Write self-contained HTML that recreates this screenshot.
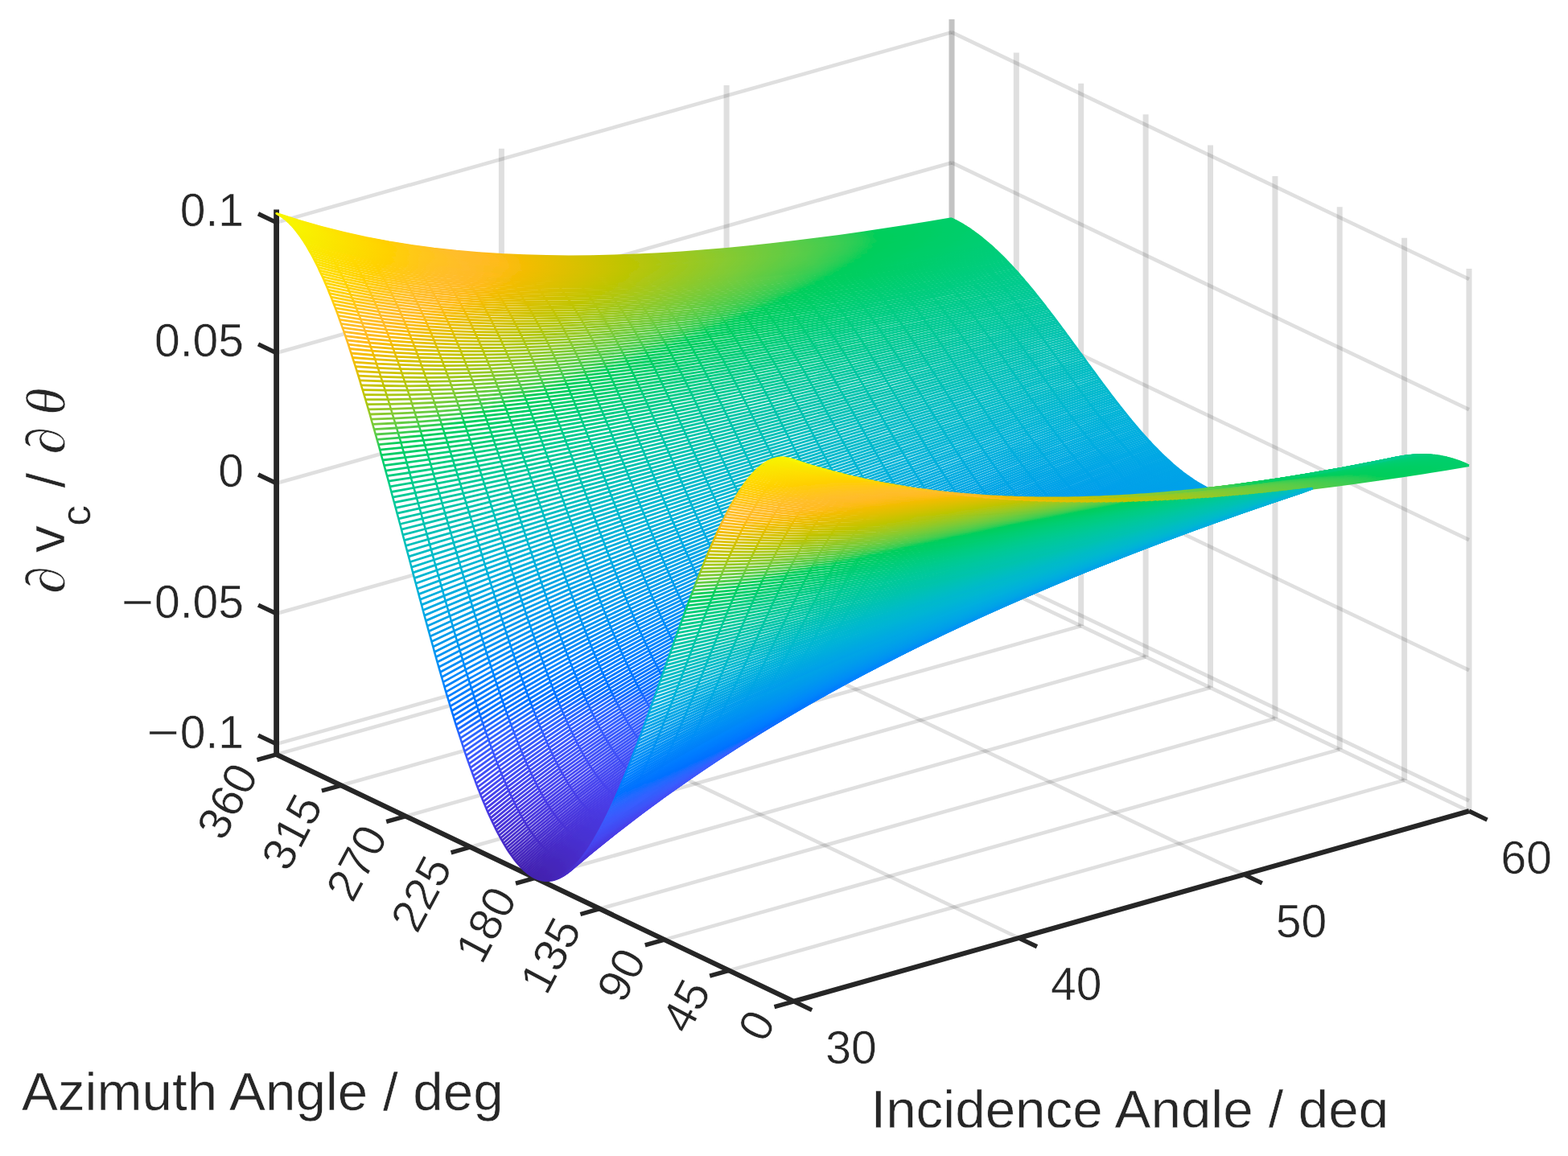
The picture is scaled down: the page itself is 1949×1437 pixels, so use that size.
<!DOCTYPE html>
<html lang="en"><head><meta charset="utf-8"><title>Surface plot</title>
<style>html,body{margin:0;padding:0;background:#fff}svg{display:block}</style></head>
<body><svg width="1949" height="1437" viewBox="0 0 1949 1437">
<defs><clipPath id="cb"><rect x="0" y="0" width="1949" height="1401.6"/></clipPath>
<filter id="bl" filterUnits="userSpaceOnUse" x="300" y="220" width="1580" height="920"><feGaussianBlur stdDeviation="0.60"/></filter>
<linearGradient id="t0" gradientUnits="userSpaceOnUse" spreadMethod="reflect" x1="986.6" x2="665.1" y1="0" y2="0"><stop offset="0" stop-color="#f8f800"/><stop offset=".125" stop-color="#f9eb00"/><stop offset=".188" stop-color="#ffd900"/><stop offset=".203" stop-color="#ffd300"/><stop offset=".219" stop-color="#ffcd09"/><stop offset=".25" stop-color="#ffc125"/><stop offset=".266" stop-color="#ffbd2a"/><stop offset=".281" stop-color="#ffbb1f"/><stop offset=".297" stop-color="#f4bd03"/><stop offset=".312" stop-color="#e3bf00"/><stop offset=".328" stop-color="#cec200"/><stop offset=".344" stop-color="#b6c60a"/><stop offset=".375" stop-color="#74cb3c"/><stop offset=".391" stop-color="#41cd51"/><stop offset=".406" stop-color="#00ce64"/><stop offset=".438" stop-color="#00cc88"/><stop offset=".5" stop-color="#00bfbc"/><stop offset=".562" stop-color="#00abe2"/><stop offset=".625" stop-color="#008ff5"/><stop offset=".656" stop-color="#0080ff"/><stop offset=".688" stop-color="#016fff"/><stop offset=".703" stop-color="#2767ff"/><stop offset=".719" stop-color="#3460ff"/><stop offset=".75" stop-color="#4052f9"/><stop offset=".812" stop-color="#483be5"/><stop offset=".875" stop-color="#472cc9"/><stop offset=".938" stop-color="#4424b4"/><stop offset="1" stop-color="#4321ad"/></linearGradient>
<linearGradient id="t1" gradientUnits="userSpaceOnUse" spreadMethod="reflect" x1="1014.6" x2="693.1" y1="0" y2="0"><stop offset="0" stop-color="#f8ef00"/><stop offset=".125" stop-color="#fde200"/><stop offset=".188" stop-color="#ffd100"/><stop offset=".219" stop-color="#ffc61c"/><stop offset=".25" stop-color="#ffbd2a"/><stop offset=".266" stop-color="#ffbb20"/><stop offset=".281" stop-color="#f7bc09"/><stop offset=".297" stop-color="#e8be00"/><stop offset=".312" stop-color="#d5c100"/><stop offset=".328" stop-color="#c0c400"/><stop offset=".344" stop-color="#a7c71a"/><stop offset=".375" stop-color="#62cc45"/><stop offset=".391" stop-color="#1dce58"/><stop offset=".406" stop-color="#00ce6a"/><stop offset=".438" stop-color="#00cb8b"/><stop offset=".5" stop-color="#00bfbc"/><stop offset=".562" stop-color="#00ade0"/><stop offset=".625" stop-color="#0092f2"/><stop offset=".688" stop-color="#0075ff"/><stop offset=".703" stop-color="#116dff"/><stop offset=".719" stop-color="#2966ff"/><stop offset=".75" stop-color="#3b59fd"/><stop offset=".812" stop-color="#4743ee"/><stop offset=".875" stop-color="#4833d9"/><stop offset=".938" stop-color="#462bc6"/><stop offset="1" stop-color="#4628c0"/></linearGradient>
<linearGradient id="t2" gradientUnits="userSpaceOnUse" spreadMethod="reflect" x1="1042.6" x2="721.0" y1="0" y2="0"><stop offset="0" stop-color="#fbe700"/><stop offset=".125" stop-color="#ffd900"/><stop offset=".156" stop-color="#ffd200"/><stop offset=".172" stop-color="#ffce08"/><stop offset=".188" stop-color="#ffc915"/><stop offset=".219" stop-color="#ffc028"/><stop offset=".234" stop-color="#ffbc2a"/><stop offset=".25" stop-color="#ffbb21"/><stop offset=".266" stop-color="#f8bc0d"/><stop offset=".281" stop-color="#ebbe00"/><stop offset=".312" stop-color="#c7c300"/><stop offset=".328" stop-color="#b1c610"/><stop offset=".344" stop-color="#97c926"/><stop offset=".359" stop-color="#78cb3a"/><stop offset=".375" stop-color="#4dcd4d"/><stop offset=".391" stop-color="#00ce5e"/><stop offset=".406" stop-color="#00ce70"/><stop offset=".438" stop-color="#00cb8e"/><stop offset=".5" stop-color="#00bfbc"/><stop offset=".562" stop-color="#00aedf"/><stop offset=".625" stop-color="#0095f0"/><stop offset=".688" stop-color="#007aff"/><stop offset=".703" stop-color="#0073ff"/><stop offset=".719" stop-color="#176cff"/><stop offset=".734" stop-color="#2b66ff"/><stop offset=".75" stop-color="#355fff"/><stop offset=".812" stop-color="#444af4"/><stop offset=".875" stop-color="#483be5"/><stop offset=".938" stop-color="#4832d6"/><stop offset="1" stop-color="#482fd1"/></linearGradient>
<linearGradient id="t3" gradientUnits="userSpaceOnUse" spreadMethod="reflect" x1="1070.5" x2="749.0" y1="0" y2="0"><stop offset="0" stop-color="#ffde00"/><stop offset=".125" stop-color="#ffd100"/><stop offset=".188" stop-color="#ffc223"/><stop offset=".219" stop-color="#ffbc2a"/><stop offset=".25" stop-color="#f9bc0e"/><stop offset=".266" stop-color="#ecbe00"/><stop offset=".281" stop-color="#dec000"/><stop offset=".297" stop-color="#cdc200"/><stop offset=".312" stop-color="#b9c506"/><stop offset=".344" stop-color="#87ca30"/><stop offset=".359" stop-color="#66cc43"/><stop offset=".375" stop-color="#33cd54"/><stop offset=".391" stop-color="#00ce64"/><stop offset=".406" stop-color="#00ce75"/><stop offset=".438" stop-color="#00ca91"/><stop offset=".5" stop-color="#00bfbc"/><stop offset=".562" stop-color="#00afdd"/><stop offset=".625" stop-color="#0098ee"/><stop offset=".688" stop-color="#007fff"/><stop offset=".719" stop-color="#0072ff"/><stop offset=".734" stop-color="#1a6bff"/><stop offset=".75" stop-color="#2b65ff"/><stop offset=".812" stop-color="#4152f9"/><stop offset=".875" stop-color="#4742ed"/><stop offset="1" stop-color="#4836df"/></linearGradient>
<linearGradient id="t4" gradientUnits="userSpaceOnUse" spreadMethod="reflect" x1="1098.5" x2="777.0" y1="0" y2="0"><stop offset="0" stop-color="#ffd600"/><stop offset=".062" stop-color="#ffd300"/><stop offset=".094" stop-color="#ffcf04"/><stop offset=".125" stop-color="#ffca13"/><stop offset=".188" stop-color="#ffbd29"/><stop offset=".203" stop-color="#ffbc28"/><stop offset=".219" stop-color="#ffbb1d"/><stop offset=".234" stop-color="#f8bc0c"/><stop offset=".25" stop-color="#edbe00"/><stop offset=".281" stop-color="#d0c200"/><stop offset=".297" stop-color="#bfc400"/><stop offset=".312" stop-color="#abc716"/><stop offset=".344" stop-color="#77cb3a"/><stop offset=".359" stop-color="#52cd4b"/><stop offset=".375" stop-color="#00ce5a"/><stop offset=".438" stop-color="#00ca93"/><stop offset=".5" stop-color="#00bfbc"/><stop offset=".562" stop-color="#00b0dc"/><stop offset=".625" stop-color="#009bec"/><stop offset=".688" stop-color="#0083fd"/><stop offset=".719" stop-color="#0077ff"/><stop offset=".734" stop-color="#0071ff"/><stop offset=".75" stop-color="#1b6bff"/><stop offset=".781" stop-color="#3261ff"/><stop offset=".812" stop-color="#3c58fd"/><stop offset=".875" stop-color="#444af4"/><stop offset="1" stop-color="#483ee9"/></linearGradient>
<linearGradient id="t5" gradientUnits="userSpaceOnUse" spreadMethod="reflect" x1="1126.5" x2="805.0" y1="0" y2="0"><stop offset="0" stop-color="#ffce06"/><stop offset=".062" stop-color="#ffcb0f"/><stop offset=".125" stop-color="#ffc321"/><stop offset=".156" stop-color="#ffbe29"/><stop offset=".188" stop-color="#ffbb24"/><stop offset=".203" stop-color="#ffbb1a"/><stop offset=".219" stop-color="#f7bc08"/><stop offset=".234" stop-color="#ecbe00"/><stop offset=".25" stop-color="#e0bf00"/><stop offset=".281" stop-color="#c3c400"/><stop offset=".297" stop-color="#b1c610"/><stop offset=".312" stop-color="#9cc822"/><stop offset=".344" stop-color="#66cc43"/><stop offset=".359" stop-color="#3bcd52"/><stop offset=".375" stop-color="#00ce61"/><stop offset=".438" stop-color="#00c995"/><stop offset=".5" stop-color="#00bfbc"/><stop offset=".562" stop-color="#00b1db"/><stop offset=".625" stop-color="#009deb"/><stop offset=".688" stop-color="#0087fb"/><stop offset=".75" stop-color="#0071ff"/><stop offset=".766" stop-color="#196cff"/><stop offset=".781" stop-color="#2867ff"/><stop offset=".812" stop-color="#365eff"/><stop offset=".875" stop-color="#4151f8"/><stop offset="1" stop-color="#4646f0"/></linearGradient>
<linearGradient id="t6" gradientUnits="userSpaceOnUse" spreadMethod="reflect" x1="1154.5" x2="833.0" y1="0" y2="0"><stop offset="0" stop-color="#ffc719"/><stop offset=".125" stop-color="#ffbe29"/><stop offset=".156" stop-color="#ffbb27"/><stop offset=".188" stop-color="#fcbc14"/><stop offset=".203" stop-color="#f4bd03"/><stop offset=".219" stop-color="#ebbe00"/><stop offset=".25" stop-color="#d3c100"/><stop offset=".266" stop-color="#c5c400"/><stop offset=".281" stop-color="#b5c60b"/><stop offset=".312" stop-color="#8dca2d"/><stop offset=".344" stop-color="#53cd4b"/><stop offset=".359" stop-color="#13ce59"/><stop offset=".375" stop-color="#00ce67"/><stop offset=".438" stop-color="#00c997"/><stop offset=".5" stop-color="#00bfbb"/><stop offset=".562" stop-color="#00b2d9"/><stop offset=".625" stop-color="#009fe9"/><stop offset=".688" stop-color="#008bf8"/><stop offset=".75" stop-color="#0076ff"/><stop offset=".766" stop-color="#0071ff"/><stop offset=".781" stop-color="#156cff"/><stop offset=".812" stop-color="#2e64ff"/><stop offset=".875" stop-color="#3d57fc"/><stop offset="1" stop-color="#434df6"/></linearGradient>
<linearGradient id="t7" gradientUnits="userSpaceOnUse" spreadMethod="reflect" x1="1182.5" x2="860.9" y1="0" y2="0"><stop offset="0" stop-color="#ffc125"/><stop offset=".125" stop-color="#ffbb26"/><stop offset=".156" stop-color="#febc19"/><stop offset=".188" stop-color="#f1bd00"/><stop offset=".25" stop-color="#c6c300"/><stop offset=".266" stop-color="#b8c507"/><stop offset=".281" stop-color="#a7c71a"/><stop offset=".312" stop-color="#7dcb37"/><stop offset=".328" stop-color="#62cc45"/><stop offset=".344" stop-color="#3ccd52"/><stop offset=".359" stop-color="#00ce5f"/><stop offset=".375" stop-color="#00ce6c"/><stop offset=".438" stop-color="#00c999"/><stop offset=".5" stop-color="#00bfbb"/><stop offset=".562" stop-color="#00b3d8"/><stop offset=".625" stop-color="#00a1e8"/><stop offset=".75" stop-color="#007bff"/><stop offset=".781" stop-color="#0072ff"/><stop offset=".797" stop-color="#0e6eff"/><stop offset=".812" stop-color="#216aff"/><stop offset=".875" stop-color="#375dff"/><stop offset="1" stop-color="#4053fa"/></linearGradient>
<linearGradient id="t8" gradientUnits="userSpaceOnUse" spreadMethod="reflect" x1="1210.4" x2="888.9" y1="0" y2="0"><stop offset="0" stop-color="#ffbd2a"/><stop offset=".062" stop-color="#ffbc2a"/><stop offset=".125" stop-color="#febc18"/><stop offset=".156" stop-color="#f4bd03"/><stop offset=".188" stop-color="#e5bf00"/><stop offset=".219" stop-color="#d2c200"/><stop offset=".234" stop-color="#c6c300"/><stop offset=".25" stop-color="#b9c506"/><stop offset=".281" stop-color="#99c925"/><stop offset=".312" stop-color="#6dcc3f"/><stop offset=".328" stop-color="#4fcd4c"/><stop offset=".344" stop-color="#17ce58"/><stop offset=".359" stop-color="#00ce65"/><stop offset=".375" stop-color="#00ce71"/><stop offset=".438" stop-color="#00c89b"/><stop offset=".5" stop-color="#00bfbb"/><stop offset=".562" stop-color="#00b4d7"/><stop offset=".625" stop-color="#00a3e7"/><stop offset=".75" stop-color="#0080ff"/><stop offset=".812" stop-color="#016fff"/><stop offset=".828" stop-color="#196cff"/><stop offset=".844" stop-color="#2468ff"/><stop offset=".875" stop-color="#2f63ff"/><stop offset="1" stop-color="#3b5afd"/></linearGradient>
<linearGradient id="t9" gradientUnits="userSpaceOnUse" spreadMethod="reflect" x1="1238.4" x2="916.9" y1="0" y2="0"><stop offset="0" stop-color="#ffbb22"/><stop offset=".062" stop-color="#ffbb1d"/><stop offset=".125" stop-color="#f4bd02"/><stop offset=".188" stop-color="#d9c100"/><stop offset=".219" stop-color="#c5c400"/><stop offset=".234" stop-color="#b9c506"/><stop offset=".25" stop-color="#abc716"/><stop offset=".281" stop-color="#8aca2f"/><stop offset=".312" stop-color="#5ccc47"/><stop offset=".328" stop-color="#38cd53"/><stop offset=".344" stop-color="#00ce5e"/><stop offset=".375" stop-color="#00cd75"/><stop offset=".438" stop-color="#00c89d"/><stop offset=".5" stop-color="#00bfbb"/><stop offset=".562" stop-color="#00b4d6"/><stop offset=".625" stop-color="#00a5e6"/><stop offset=".75" stop-color="#0084fd"/><stop offset=".812" stop-color="#0074ff"/><stop offset=".828" stop-color="#0071ff"/><stop offset=".844" stop-color="#0c6eff"/><stop offset=".875" stop-color="#2469ff"/><stop offset=".938" stop-color="#3162ff"/><stop offset="1" stop-color="#355fff"/></linearGradient>
<linearGradient id="t10" gradientUnits="userSpaceOnUse" spreadMethod="reflect" x1="1266.4" x2="944.9" y1="0" y2="0"><stop offset="0" stop-color="#fbbc13"/><stop offset=".062" stop-color="#f7bc09"/><stop offset=".094" stop-color="#f1bd00"/><stop offset=".125" stop-color="#e8be00"/><stop offset=".188" stop-color="#ccc200"/><stop offset=".203" stop-color="#c3c400"/><stop offset=".219" stop-color="#b8c507"/><stop offset=".25" stop-color="#9ec821"/><stop offset=".281" stop-color="#7bcb38"/><stop offset=".312" stop-color="#48cd4e"/><stop offset=".328" stop-color="#0ece59"/><stop offset=".344" stop-color="#00ce64"/><stop offset=".375" stop-color="#00cd79"/><stop offset=".5" stop-color="#00bfbb"/><stop offset=".562" stop-color="#00b5d5"/><stop offset=".625" stop-color="#00a6e5"/><stop offset=".75" stop-color="#0087fb"/><stop offset=".812" stop-color="#0079ff"/><stop offset=".844" stop-color="#0073ff"/><stop offset=".859" stop-color="#0070ff"/><stop offset=".875" stop-color="#0c6eff"/><stop offset=".906" stop-color="#206aff"/><stop offset=".938" stop-color="#2767ff"/><stop offset="1" stop-color="#2c65ff"/></linearGradient>
<linearGradient id="t11" gradientUnits="userSpaceOnUse" spreadMethod="reflect" x1="1294.4" x2="972.9" y1="0" y2="0"><stop offset="0" stop-color="#f0bd00"/><stop offset=".062" stop-color="#ecbe00"/><stop offset=".125" stop-color="#dcc000"/><stop offset=".188" stop-color="#c0c400"/><stop offset=".25" stop-color="#8fca2b"/><stop offset=".281" stop-color="#6bcc40"/><stop offset=".297" stop-color="#53cd4b"/><stop offset=".312" stop-color="#2fcd55"/><stop offset=".328" stop-color="#00ce5f"/><stop offset=".344" stop-color="#00ce69"/><stop offset=".375" stop-color="#00cd7d"/><stop offset=".5" stop-color="#00bfbb"/><stop offset=".625" stop-color="#00a8e4"/><stop offset=".75" stop-color="#008bf9"/><stop offset=".875" stop-color="#0073ff"/><stop offset=".906" stop-color="#016fff"/><stop offset=".938" stop-color="#156cff"/><stop offset="1" stop-color="#1f6aff"/></linearGradient>
<linearGradient id="t12" gradientUnits="userSpaceOnUse" spreadMethod="reflect" x1="1322.4" x2="1000.8" y1="0" y2="0"><stop offset="0" stop-color="#e5bf00"/><stop offset=".062" stop-color="#e0bf00"/><stop offset=".125" stop-color="#d0c200"/><stop offset=".156" stop-color="#c4c400"/><stop offset=".172" stop-color="#bcc502"/><stop offset=".188" stop-color="#b3c60e"/><stop offset=".25" stop-color="#81cb34"/><stop offset=".281" stop-color="#5bcd48"/><stop offset=".297" stop-color="#3ecd51"/><stop offset=".312" stop-color="#00ce5b"/><stop offset=".375" stop-color="#00cd81"/><stop offset=".5" stop-color="#00bfbb"/><stop offset=".625" stop-color="#00a9e3"/><stop offset=".75" stop-color="#008ef6"/><stop offset=".875" stop-color="#0078ff"/><stop offset="1" stop-color="#006fff"/></linearGradient>
<linearGradient id="t13" gradientUnits="userSpaceOnUse" spreadMethod="reflect" x1="1350.3" x2="1028.8" y1="0" y2="0"><stop offset="0" stop-color="#dac000"/><stop offset=".062" stop-color="#d5c100"/><stop offset=".125" stop-color="#c4c400"/><stop offset=".141" stop-color="#bec500"/><stop offset=".156" stop-color="#b7c508"/><stop offset=".188" stop-color="#a6c71b"/><stop offset=".25" stop-color="#72cc3d"/><stop offset=".281" stop-color="#47cd4f"/><stop offset=".297" stop-color="#1fce57"/><stop offset=".312" stop-color="#00ce60"/><stop offset=".375" stop-color="#00cc84"/><stop offset=".5" stop-color="#00bfbb"/><stop offset=".625" stop-color="#00abe2"/><stop offset=".75" stop-color="#0091f4"/><stop offset=".875" stop-color="#007cff"/><stop offset="1" stop-color="#0074ff"/></linearGradient>
<linearGradient id="t14" gradientUnits="userSpaceOnUse" spreadMethod="reflect" x1="1378.3" x2="1056.8" y1="0" y2="0"><stop offset="0" stop-color="#cec200"/><stop offset=".062" stop-color="#c9c300"/><stop offset=".094" stop-color="#c2c400"/><stop offset=".125" stop-color="#b8c507"/><stop offset=".188" stop-color="#98c925"/><stop offset=".25" stop-color="#63cc44"/><stop offset=".266" stop-color="#4ecd4d"/><stop offset=".281" stop-color="#2fcd55"/><stop offset=".297" stop-color="#00ce5d"/><stop offset=".312" stop-color="#00ce66"/><stop offset=".375" stop-color="#00cc87"/><stop offset=".5" stop-color="#00bfbb"/><stop offset=".625" stop-color="#00ace1"/><stop offset=".75" stop-color="#0093f2"/><stop offset=".875" stop-color="#0080fe"/><stop offset="1" stop-color="#0079ff"/></linearGradient>
<linearGradient id="t15" gradientUnits="userSpaceOnUse" spreadMethod="reflect" x1="1406.3" x2="1084.8" y1="0" y2="0"><stop offset="0" stop-color="#c2c400"/><stop offset=".062" stop-color="#bcc502"/><stop offset=".125" stop-color="#abc716"/><stop offset=".188" stop-color="#8bca2e"/><stop offset=".219" stop-color="#73cb3c"/><stop offset=".25" stop-color="#51cd4b"/><stop offset=".266" stop-color="#38cd53"/><stop offset=".281" stop-color="#00ce5a"/><stop offset=".312" stop-color="#00ce6b"/><stop offset=".375" stop-color="#00cc89"/><stop offset=".5" stop-color="#00bfbb"/><stop offset=".625" stop-color="#00ade0"/><stop offset=".75" stop-color="#0096f0"/><stop offset=".875" stop-color="#0084fd"/><stop offset="1" stop-color="#007dff"/></linearGradient>
<linearGradient id="t16" gradientUnits="userSpaceOnUse" spreadMethod="reflect" x1="1434.3" x2="1112.8" y1="0" y2="0"><stop offset="0" stop-color="#b6c60a"/><stop offset=".062" stop-color="#b0c611"/><stop offset=".125" stop-color="#9ec820"/><stop offset=".188" stop-color="#7dcb37"/><stop offset=".219" stop-color="#64cc44"/><stop offset=".25" stop-color="#3dcd52"/><stop offset=".266" stop-color="#14ce59"/><stop offset=".281" stop-color="#00ce60"/><stop offset=".312" stop-color="#00ce6f"/><stop offset=".375" stop-color="#00cb8c"/><stop offset=".5" stop-color="#00bfbb"/><stop offset=".625" stop-color="#00aedf"/><stop offset=".75" stop-color="#0098ee"/><stop offset=".875" stop-color="#0087fb"/><stop offset="1" stop-color="#0081fe"/></linearGradient>
<linearGradient id="t17" gradientUnits="userSpaceOnUse" spreadMethod="reflect" x1="1462.3" x2="1140.7" y1="0" y2="0"><stop offset="0" stop-color="#a9c718"/><stop offset=".062" stop-color="#a4c81c"/><stop offset=".125" stop-color="#91c92a"/><stop offset=".188" stop-color="#6fcc3f"/><stop offset=".219" stop-color="#53cd4b"/><stop offset=".234" stop-color="#3fcd51"/><stop offset=".25" stop-color="#1fce57"/><stop offset=".266" stop-color="#00ce5e"/><stop offset=".281" stop-color="#00ce65"/><stop offset=".312" stop-color="#00ce73"/><stop offset=".375" stop-color="#00cb8e"/><stop offset=".5" stop-color="#00bfbb"/><stop offset=".625" stop-color="#00afde"/><stop offset=".75" stop-color="#009aed"/><stop offset=".875" stop-color="#008af9"/><stop offset="1" stop-color="#0085fc"/></linearGradient>
<linearGradient id="t18" gradientUnits="userSpaceOnUse" spreadMethod="reflect" x1="1490.2" x2="1168.7" y1="0" y2="0"><stop offset="0" stop-color="#9dc822"/><stop offset=".062" stop-color="#97c926"/><stop offset=".125" stop-color="#84ca32"/><stop offset=".188" stop-color="#60cc46"/><stop offset=".219" stop-color="#40cd51"/><stop offset=".234" stop-color="#24ce57"/><stop offset=".25" stop-color="#00ce5d"/><stop offset=".375" stop-color="#00ca90"/><stop offset=".5" stop-color="#00bfbb"/><stop offset=".625" stop-color="#00b0dd"/><stop offset=".75" stop-color="#009ceb"/><stop offset=".875" stop-color="#008df6"/><stop offset="1" stop-color="#0088fb"/></linearGradient>
<linearGradient id="t19" gradientUnits="userSpaceOnUse" spreadMethod="reflect" x1="1518.2" x2="1196.7" y1="0" y2="0"><stop offset="0" stop-color="#90c92b"/><stop offset=".062" stop-color="#8aca2f"/><stop offset=".125" stop-color="#77cb3a"/><stop offset=".188" stop-color="#4fcd4c"/><stop offset=".203" stop-color="#3ecd51"/><stop offset=".219" stop-color="#25ce56"/><stop offset=".234" stop-color="#00ce5c"/><stop offset=".25" stop-color="#00ce62"/><stop offset=".375" stop-color="#00ca92"/><stop offset=".5" stop-color="#00bfbb"/><stop offset=".625" stop-color="#00b1db"/><stop offset=".75" stop-color="#009eea"/><stop offset=".875" stop-color="#0090f4"/><stop offset="1" stop-color="#008bf8"/></linearGradient>
<linearGradient id="t20" gradientUnits="userSpaceOnUse" spreadMethod="reflect" x1="1546.2" x2="1224.7" y1="0" y2="0"><stop offset="0" stop-color="#84ca33"/><stop offset=".062" stop-color="#7dcb37"/><stop offset=".125" stop-color="#69cc42"/><stop offset=".156" stop-color="#57cd49"/><stop offset=".188" stop-color="#3bcd52"/><stop offset=".203" stop-color="#24ce57"/><stop offset=".219" stop-color="#00ce5c"/><stop offset=".25" stop-color="#00ce67"/><stop offset=".5" stop-color="#00bfbb"/><stop offset=".625" stop-color="#00b1da"/><stop offset=".75" stop-color="#00a0e9"/><stop offset=".875" stop-color="#0093f2"/><stop offset="1" stop-color="#008ef6"/></linearGradient>
<linearGradient id="t21" gradientUnits="userSpaceOnUse" spreadMethod="reflect" x1="1574.2" x2="1252.7" y1="0" y2="0"><stop offset="0" stop-color="#76cb3b"/><stop offset=".062" stop-color="#70cc3e"/><stop offset=".125" stop-color="#5acd48"/><stop offset=".156" stop-color="#45cd4f"/><stop offset=".172" stop-color="#36cd53"/><stop offset=".188" stop-color="#1fce57"/><stop offset=".203" stop-color="#00ce5c"/><stop offset=".219" stop-color="#00ce61"/><stop offset=".25" stop-color="#00ce6b"/><stop offset=".5" stop-color="#00bfbb"/><stop offset=".625" stop-color="#00b2d9"/><stop offset=".75" stop-color="#00a2e8"/><stop offset="1" stop-color="#0090f4"/></linearGradient>
<linearGradient id="t22" gradientUnits="userSpaceOnUse" spreadMethod="reflect" x1="1602.2" x2="1280.6" y1="0" y2="0"><stop offset="0" stop-color="#69cc42"/><stop offset=".062" stop-color="#62cc45"/><stop offset=".125" stop-color="#49cd4e"/><stop offset=".156" stop-color="#2fcd55"/><stop offset=".172" stop-color="#16ce58"/><stop offset=".188" stop-color="#00ce5c"/><stop offset=".25" stop-color="#00ce6f"/><stop offset=".5" stop-color="#00bfbb"/><stop offset=".625" stop-color="#00b3d8"/><stop offset=".75" stop-color="#00a3e7"/><stop offset="1" stop-color="#0093f2"/></linearGradient>
<linearGradient id="t23" gradientUnits="userSpaceOnUse" spreadMethod="reflect" x1="1630.1" x2="1308.6" y1="0" y2="0"><stop offset="0" stop-color="#5acd48"/><stop offset=".062" stop-color="#52cd4b"/><stop offset=".125" stop-color="#34cd54"/><stop offset=".141" stop-color="#25ce56"/><stop offset=".156" stop-color="#01ce5a"/><stop offset=".188" stop-color="#00ce61"/><stop offset=".25" stop-color="#00ce73"/><stop offset=".5" stop-color="#00bfbb"/><stop offset=".625" stop-color="#00b3d7"/><stop offset=".75" stop-color="#00a5e6"/><stop offset="1" stop-color="#0095f1"/></linearGradient>
<linearGradient id="t24" gradientUnits="userSpaceOnUse" spreadMethod="reflect" x1="1658.1" x2="1336.6" y1="0" y2="0"><stop offset="0" stop-color="#4acd4e"/><stop offset=".062" stop-color="#41cd50"/><stop offset=".094" stop-color="#33cd54"/><stop offset=".109" stop-color="#27ce56"/><stop offset=".125" stop-color="#13ce59"/><stop offset=".141" stop-color="#00ce5b"/><stop offset=".156" stop-color="#00ce5f"/><stop offset=".188" stop-color="#00ce66"/><stop offset=".25" stop-color="#00cd77"/><stop offset=".5" stop-color="#00bfbb"/><stop offset=".625" stop-color="#00b4d6"/><stop offset=".75" stop-color="#00a6e6"/><stop offset="1" stop-color="#0097ef"/></linearGradient>
<linearGradient id="t25" gradientUnits="userSpaceOnUse" spreadMethod="reflect" x1="1686.1" x2="1364.6" y1="0" y2="0"><stop offset="0" stop-color="#37cd53"/><stop offset=".062" stop-color="#2ace56"/><stop offset=".094" stop-color="#0fce59"/><stop offset=".109" stop-color="#00ce5b"/><stop offset=".125" stop-color="#00ce5d"/><stop offset=".25" stop-color="#00cd7a"/><stop offset=".5" stop-color="#00bfbb"/><stop offset=".625" stop-color="#00b4d5"/><stop offset=".75" stop-color="#00a7e5"/><stop offset="1" stop-color="#0099ee"/></linearGradient>
<linearGradient id="t26" gradientUnits="userSpaceOnUse" spreadMethod="reflect" x1="1714.1" x2="1392.6" y1="0" y2="0"><stop offset="0" stop-color="#19ce58"/><stop offset=".031" stop-color="#13ce59"/><stop offset=".047" stop-color="#07ce59"/><stop offset=".062" stop-color="#00ce5a"/><stop offset=".125" stop-color="#00ce62"/><stop offset=".25" stop-color="#00cd7d"/><stop offset=".5" stop-color="#00bfbb"/><stop offset=".625" stop-color="#00b5d4"/><stop offset=".75" stop-color="#00a8e4"/><stop offset="1" stop-color="#009bec"/></linearGradient>
<linearGradient id="t27" gradientUnits="userSpaceOnUse" spreadMethod="reflect" x1="1742.1" x2="1420.5" y1="0" y2="0"><stop offset="0" stop-color="#00ce5d"/><stop offset=".125" stop-color="#00ce66"/><stop offset=".25" stop-color="#00cd80"/><stop offset=".5" stop-color="#00bfbb"/><stop offset=".625" stop-color="#00b5d4"/><stop offset=".75" stop-color="#00a9e3"/><stop offset="1" stop-color="#009deb"/></linearGradient>
<linearGradient id="t28" gradientUnits="userSpaceOnUse" spreadMethod="reflect" x1="1770.0" x2="1448.5" y1="0" y2="0"><stop offset="0" stop-color="#00ce61"/><stop offset=".125" stop-color="#00ce6a"/><stop offset=".25" stop-color="#00cc82"/><stop offset=".5" stop-color="#00bfbb"/><stop offset=".625" stop-color="#00b6d3"/><stop offset=".75" stop-color="#00abe2"/><stop offset="1" stop-color="#009eea"/></linearGradient>
<linearGradient id="t29" gradientUnits="userSpaceOnUse" spreadMethod="reflect" x1="1798.0" x2="1476.5" y1="0" y2="0"><stop offset="0" stop-color="#00ce65"/><stop offset=".125" stop-color="#00ce6e"/><stop offset=".25" stop-color="#00cc85"/><stop offset=".5" stop-color="#00bfbb"/><stop offset=".75" stop-color="#00ace1"/><stop offset="1" stop-color="#00a0e9"/></linearGradient>
<linearGradient id="t30" gradientUnits="userSpaceOnUse" spreadMethod="reflect" x1="1826.0" x2="1504.5" y1="0" y2="0"><stop offset="0" stop-color="#00ce69"/><stop offset=".125" stop-color="#00ce72"/><stop offset=".25" stop-color="#00cc87"/><stop offset=".5" stop-color="#00bfbb"/><stop offset=".75" stop-color="#00ace0"/><stop offset="1" stop-color="#00a1e8"/></linearGradient>
<linearGradient id="p0" gradientUnits="userSpaceOnUse" x1="986.6" x2="1826.0" y1="0" y2="0"><stop offset="0" stop-color="#f8f800"/><stop offset=".125" stop-color="#ffd800"/><stop offset=".156" stop-color="#ffd000"/><stop offset=".188" stop-color="#ffca13"/><stop offset=".25" stop-color="#ffbe29"/><stop offset=".281" stop-color="#ffbc29"/><stop offset=".312" stop-color="#ffbb1d"/><stop offset=".344" stop-color="#f8bc0c"/><stop offset=".359" stop-color="#f3bd02"/><stop offset=".375" stop-color="#eebd00"/><stop offset=".5" stop-color="#c2c400"/><stop offset=".625" stop-color="#94c929"/><stop offset=".75" stop-color="#62cc45"/><stop offset=".812" stop-color="#43cd50"/><stop offset=".844" stop-color="#2fcd55"/><stop offset=".859" stop-color="#22ce57"/><stop offset=".875" stop-color="#0bce59"/><stop offset=".891" stop-color="#00ce5b"/><stop offset=".906" stop-color="#00ce5d"/><stop offset=".938" stop-color="#00ce62"/><stop offset="1" stop-color="#00ce69"/></linearGradient>
<linearGradient id="p1" gradientUnits="userSpaceOnUse" x1="984.8" x2="1824.2" y1="0" y2="0"><stop offset="0" stop-color="#f8f800"/><stop offset=".125" stop-color="#ffd800"/><stop offset=".156" stop-color="#ffd000"/><stop offset=".188" stop-color="#ffca13"/><stop offset=".25" stop-color="#ffbe29"/><stop offset=".281" stop-color="#ffbc29"/><stop offset=".312" stop-color="#ffbb1d"/><stop offset=".344" stop-color="#f8bc0c"/><stop offset=".359" stop-color="#f3bd01"/><stop offset=".375" stop-color="#eebd00"/><stop offset=".5" stop-color="#c2c400"/><stop offset=".625" stop-color="#93c929"/><stop offset=".75" stop-color="#62cc45"/><stop offset=".812" stop-color="#43cd50"/><stop offset=".844" stop-color="#2fcd55"/><stop offset=".859" stop-color="#22ce57"/><stop offset=".875" stop-color="#0bce59"/><stop offset=".891" stop-color="#00ce5b"/><stop offset=".906" stop-color="#00ce5e"/><stop offset=".938" stop-color="#00ce62"/><stop offset="1" stop-color="#00ce69"/></linearGradient>
<linearGradient id="p2" gradientUnits="userSpaceOnUse" x1="983.0" x2="1822.4" y1="0" y2="0"><stop offset="0" stop-color="#f8f800"/><stop offset=".125" stop-color="#ffd800"/><stop offset=".156" stop-color="#ffd000"/><stop offset=".188" stop-color="#ffca14"/><stop offset=".25" stop-color="#ffbe29"/><stop offset=".281" stop-color="#ffbc29"/><stop offset=".312" stop-color="#ffbb1d"/><stop offset=".344" stop-color="#f8bc0b"/><stop offset=".359" stop-color="#f3bd01"/><stop offset=".375" stop-color="#edbe00"/><stop offset=".5" stop-color="#c2c400"/><stop offset=".625" stop-color="#93c929"/><stop offset=".75" stop-color="#61cc45"/><stop offset=".812" stop-color="#43cd50"/><stop offset=".844" stop-color="#2fcd55"/><stop offset=".859" stop-color="#21ce57"/><stop offset=".875" stop-color="#0ace59"/><stop offset=".891" stop-color="#00ce5b"/><stop offset=".906" stop-color="#00ce5e"/><stop offset=".938" stop-color="#00ce62"/><stop offset="1" stop-color="#00ce69"/></linearGradient>
<linearGradient id="p3" gradientUnits="userSpaceOnUse" x1="981.2" x2="1820.6" y1="0" y2="0"><stop offset="0" stop-color="#f8f800"/><stop offset=".125" stop-color="#ffd800"/><stop offset=".156" stop-color="#ffd000"/><stop offset=".188" stop-color="#ffca14"/><stop offset=".25" stop-color="#ffbe29"/><stop offset=".281" stop-color="#ffbc29"/><stop offset=".312" stop-color="#ffbb1d"/><stop offset=".344" stop-color="#f8bc0b"/><stop offset=".359" stop-color="#f3bd01"/><stop offset=".375" stop-color="#edbe00"/><stop offset=".5" stop-color="#c1c400"/><stop offset=".625" stop-color="#93c929"/><stop offset=".75" stop-color="#61cc45"/><stop offset=".812" stop-color="#43cd50"/><stop offset=".844" stop-color="#2ecd55"/><stop offset=".859" stop-color="#20ce57"/><stop offset=".875" stop-color="#08ce59"/><stop offset=".891" stop-color="#00ce5b"/><stop offset=".906" stop-color="#00ce5e"/><stop offset=".938" stop-color="#00ce62"/><stop offset="1" stop-color="#00ce69"/></linearGradient>
<linearGradient id="p4" gradientUnits="userSpaceOnUse" x1="979.5" x2="1818.9" y1="0" y2="0"><stop offset="0" stop-color="#f8f800"/><stop offset=".125" stop-color="#ffd700"/><stop offset=".156" stop-color="#ffd000"/><stop offset=".188" stop-color="#ffc914"/><stop offset=".25" stop-color="#ffbe29"/><stop offset=".281" stop-color="#ffbc29"/><stop offset=".312" stop-color="#ffbb1d"/><stop offset=".344" stop-color="#f7bc0a"/><stop offset=".359" stop-color="#f2bd01"/><stop offset=".375" stop-color="#edbe00"/><stop offset=".5" stop-color="#c1c400"/><stop offset=".625" stop-color="#93c929"/><stop offset=".75" stop-color="#61cc45"/><stop offset=".812" stop-color="#42cd50"/><stop offset=".844" stop-color="#2ecd55"/><stop offset=".859" stop-color="#1fce57"/><stop offset=".875" stop-color="#06ce59"/><stop offset=".891" stop-color="#00ce5c"/><stop offset=".906" stop-color="#00ce5e"/><stop offset=".938" stop-color="#00ce62"/><stop offset="1" stop-color="#00ce6a"/></linearGradient>
<linearGradient id="p5" gradientUnits="userSpaceOnUse" x1="977.7" x2="1817.1" y1="0" y2="0"><stop offset="0" stop-color="#f8f800"/><stop offset=".125" stop-color="#ffd700"/><stop offset=".156" stop-color="#ffd000"/><stop offset=".188" stop-color="#ffc915"/><stop offset=".25" stop-color="#ffbe29"/><stop offset=".281" stop-color="#ffbc28"/><stop offset=".312" stop-color="#ffbb1c"/><stop offset=".344" stop-color="#f7bc09"/><stop offset=".359" stop-color="#f2bd00"/><stop offset=".375" stop-color="#edbe00"/><stop offset=".5" stop-color="#c1c400"/><stop offset=".625" stop-color="#92c929"/><stop offset=".75" stop-color="#60cc45"/><stop offset=".812" stop-color="#41cd50"/><stop offset=".844" stop-color="#2dcd55"/><stop offset=".859" stop-color="#1ece57"/><stop offset=".875" stop-color="#02ce5a"/><stop offset="1" stop-color="#00ce6a"/></linearGradient>
<linearGradient id="p6" gradientUnits="userSpaceOnUse" x1="975.9" x2="1815.3" y1="0" y2="0"><stop offset="0" stop-color="#f8f700"/><stop offset=".125" stop-color="#ffd700"/><stop offset=".156" stop-color="#ffd001"/><stop offset=".188" stop-color="#ffc915"/><stop offset=".25" stop-color="#ffbe29"/><stop offset=".281" stop-color="#ffbc28"/><stop offset=".312" stop-color="#ffbb1c"/><stop offset=".344" stop-color="#f7bc08"/><stop offset=".359" stop-color="#f1bd00"/><stop offset=".375" stop-color="#ecbe00"/><stop offset=".5" stop-color="#c0c400"/><stop offset=".625" stop-color="#92c92a"/><stop offset=".75" stop-color="#60cc46"/><stop offset=".812" stop-color="#41cd51"/><stop offset=".844" stop-color="#2bcd55"/><stop offset=".859" stop-color="#1cce58"/><stop offset=".875" stop-color="#00ce5a"/><stop offset="1" stop-color="#00ce6a"/></linearGradient>
<linearGradient id="p7" gradientUnits="userSpaceOnUse" x1="974.1" x2="1813.5" y1="0" y2="0"><stop offset="0" stop-color="#f8f700"/><stop offset=".125" stop-color="#ffd700"/><stop offset=".156" stop-color="#ffcf02"/><stop offset=".188" stop-color="#ffc916"/><stop offset=".25" stop-color="#ffbe29"/><stop offset=".281" stop-color="#ffbb27"/><stop offset=".312" stop-color="#ffbb1b"/><stop offset=".344" stop-color="#f6bc07"/><stop offset=".375" stop-color="#ecbe00"/><stop offset=".5" stop-color="#c0c400"/><stop offset=".625" stop-color="#91c92a"/><stop offset=".75" stop-color="#5fcc46"/><stop offset=".812" stop-color="#40cd51"/><stop offset=".844" stop-color="#2ace56"/><stop offset=".859" stop-color="#1ace58"/><stop offset=".875" stop-color="#00ce5a"/><stop offset="1" stop-color="#00ce6a"/></linearGradient>
<linearGradient id="p8" gradientUnits="userSpaceOnUse" x1="972.3" x2="1811.7" y1="0" y2="0"><stop offset="0" stop-color="#f8f700"/><stop offset=".125" stop-color="#ffd600"/><stop offset=".156" stop-color="#ffcf03"/><stop offset=".188" stop-color="#ffc817"/><stop offset=".25" stop-color="#ffbe29"/><stop offset=".281" stop-color="#ffbb27"/><stop offset=".312" stop-color="#ffbb1a"/><stop offset=".344" stop-color="#f6bc06"/><stop offset=".375" stop-color="#ebbe00"/><stop offset=".5" stop-color="#bfc400"/><stop offset=".625" stop-color="#90c92b"/><stop offset=".75" stop-color="#5ecc46"/><stop offset=".812" stop-color="#3ecd51"/><stop offset=".844" stop-color="#28ce56"/><stop offset=".875" stop-color="#00ce5a"/><stop offset="1" stop-color="#00ce6a"/></linearGradient>
<linearGradient id="p9" gradientUnits="userSpaceOnUse" x1="970.5" x2="1809.9" y1="0" y2="0"><stop offset="0" stop-color="#f8f600"/><stop offset=".125" stop-color="#ffd600"/><stop offset=".156" stop-color="#ffcf05"/><stop offset=".188" stop-color="#ffc818"/><stop offset=".25" stop-color="#ffbe29"/><stop offset=".281" stop-color="#ffbb26"/><stop offset=".312" stop-color="#ffbc19"/><stop offset=".344" stop-color="#f5bc05"/><stop offset=".375" stop-color="#ebbe00"/><stop offset=".5" stop-color="#bec400"/><stop offset=".625" stop-color="#90ca2b"/><stop offset=".75" stop-color="#5dcc47"/><stop offset=".812" stop-color="#3dcd51"/><stop offset=".844" stop-color="#26ce56"/><stop offset=".859" stop-color="#14ce59"/><stop offset=".875" stop-color="#00ce5b"/><stop offset="1" stop-color="#00ce6b"/></linearGradient>
<linearGradient id="p10" gradientUnits="userSpaceOnUse" x1="968.7" x2="1808.1" y1="0" y2="0"><stop offset="0" stop-color="#f8f600"/><stop offset=".125" stop-color="#ffd500"/><stop offset=".141" stop-color="#ffd200"/><stop offset=".156" stop-color="#ffce06"/><stop offset=".188" stop-color="#ffc819"/><stop offset=".25" stop-color="#ffbd29"/><stop offset=".281" stop-color="#ffbb25"/><stop offset=".312" stop-color="#febc18"/><stop offset=".344" stop-color="#f4bd04"/><stop offset=".375" stop-color="#eabe00"/><stop offset=".5" stop-color="#bec500"/><stop offset=".562" stop-color="#a6c71a"/><stop offset=".625" stop-color="#8fca2c"/><stop offset=".75" stop-color="#5ccc47"/><stop offset=".812" stop-color="#3bcd52"/><stop offset=".844" stop-color="#23ce57"/><stop offset=".859" stop-color="#0fce59"/><stop offset=".875" stop-color="#00ce5b"/><stop offset="1" stop-color="#00ce6b"/></linearGradient>
<linearGradient id="p11" gradientUnits="userSpaceOnUse" x1="967.0" x2="1806.4" y1="0" y2="0"><stop offset="0" stop-color="#f8f500"/><stop offset=".125" stop-color="#ffd500"/><stop offset=".156" stop-color="#ffce08"/><stop offset=".188" stop-color="#ffc719"/><stop offset=".25" stop-color="#ffbd2a"/><stop offset=".281" stop-color="#ffbb24"/><stop offset=".312" stop-color="#fdbc17"/><stop offset=".344" stop-color="#f4bd03"/><stop offset=".375" stop-color="#e9be00"/><stop offset=".5" stop-color="#bdc501"/><stop offset=".562" stop-color="#a5c71b"/><stop offset=".625" stop-color="#8eca2c"/><stop offset=".75" stop-color="#5bcd48"/><stop offset=".812" stop-color="#39cd52"/><stop offset=".844" stop-color="#20ce57"/><stop offset=".859" stop-color="#08ce59"/><stop offset=".875" stop-color="#00ce5c"/><stop offset="1" stop-color="#00ce6b"/></linearGradient>
<linearGradient id="p12" gradientUnits="userSpaceOnUse" x1="965.2" x2="1804.6" y1="0" y2="0"><stop offset="0" stop-color="#f8f500"/><stop offset=".125" stop-color="#ffd400"/><stop offset=".141" stop-color="#ffd100"/><stop offset=".156" stop-color="#ffcd0a"/><stop offset=".188" stop-color="#ffc71b"/><stop offset=".25" stop-color="#ffbd2a"/><stop offset=".281" stop-color="#ffbb24"/><stop offset=".312" stop-color="#fdbc16"/><stop offset=".344" stop-color="#f3bd01"/><stop offset=".375" stop-color="#e8be00"/><stop offset=".5" stop-color="#bcc502"/><stop offset=".625" stop-color="#8dca2d"/><stop offset=".75" stop-color="#59cd48"/><stop offset=".812" stop-color="#37cd53"/><stop offset=".844" stop-color="#1dce58"/><stop offset=".859" stop-color="#00ce5a"/><stop offset=".875" stop-color="#00ce5c"/><stop offset="1" stop-color="#00ce6c"/></linearGradient>
<linearGradient id="p13" gradientUnits="userSpaceOnUse" x1="963.4" x2="1802.8" y1="0" y2="0"><stop offset="0" stop-color="#f8f400"/><stop offset=".125" stop-color="#ffd400"/><stop offset=".141" stop-color="#ffd000"/><stop offset=".156" stop-color="#ffcd0c"/><stop offset=".188" stop-color="#ffc61c"/><stop offset=".25" stop-color="#ffbd2a"/><stop offset=".312" stop-color="#fcbc14"/><stop offset=".344" stop-color="#f2bd00"/><stop offset=".375" stop-color="#e7be00"/><stop offset=".5" stop-color="#bbc504"/><stop offset=".625" stop-color="#8bca2e"/><stop offset=".75" stop-color="#58cd49"/><stop offset=".812" stop-color="#35cd53"/><stop offset=".844" stop-color="#18ce58"/><stop offset=".859" stop-color="#00ce5a"/><stop offset=".875" stop-color="#00ce5c"/><stop offset="1" stop-color="#00ce6c"/></linearGradient>
<linearGradient id="p14" gradientUnits="userSpaceOnUse" x1="961.6" x2="1801.0" y1="0" y2="0"><stop offset="0" stop-color="#f8f300"/><stop offset=".125" stop-color="#ffd300"/><stop offset=".141" stop-color="#ffcf02"/><stop offset=".156" stop-color="#ffcc0d"/><stop offset=".188" stop-color="#ffc61d"/><stop offset=".25" stop-color="#ffbc2a"/><stop offset=".312" stop-color="#fbbc12"/><stop offset=".344" stop-color="#f1bd00"/><stop offset=".375" stop-color="#e6bf00"/><stop offset=".438" stop-color="#d0c200"/><stop offset=".469" stop-color="#c5c400"/><stop offset=".5" stop-color="#b9c505"/><stop offset=".625" stop-color="#8aca2f"/><stop offset=".75" stop-color="#56cd4a"/><stop offset=".812" stop-color="#32cd54"/><stop offset=".844" stop-color="#13ce59"/><stop offset=".859" stop-color="#00ce5b"/><stop offset=".875" stop-color="#00ce5d"/><stop offset="1" stop-color="#00ce6d"/></linearGradient>
<linearGradient id="p15" gradientUnits="userSpaceOnUse" x1="959.8" x2="1799.2" y1="0" y2="0"><stop offset="0" stop-color="#f8f200"/><stop offset=".125" stop-color="#ffd200"/><stop offset=".188" stop-color="#ffc51e"/><stop offset=".25" stop-color="#ffbc2a"/><stop offset=".312" stop-color="#fabc10"/><stop offset=".344" stop-color="#f0bd00"/><stop offset=".375" stop-color="#e5bf00"/><stop offset=".438" stop-color="#cfc200"/><stop offset=".469" stop-color="#c4c400"/><stop offset=".5" stop-color="#b8c507"/><stop offset=".625" stop-color="#89ca30"/><stop offset=".75" stop-color="#54cd4a"/><stop offset=".812" stop-color="#2fcd55"/><stop offset=".828" stop-color="#22ce57"/><stop offset=".844" stop-color="#0ace59"/><stop offset=".859" stop-color="#00ce5b"/><stop offset=".875" stop-color="#00ce5e"/><stop offset="1" stop-color="#00ce6d"/></linearGradient>
<linearGradient id="p16" gradientUnits="userSpaceOnUse" x1="958.0" x2="1797.4" y1="0" y2="0"><stop offset="0" stop-color="#f8f100"/><stop offset=".125" stop-color="#ffd200"/><stop offset=".188" stop-color="#ffc41f"/><stop offset=".25" stop-color="#ffbc2a"/><stop offset=".312" stop-color="#f9bc0e"/><stop offset=".328" stop-color="#f4bd03"/><stop offset=".344" stop-color="#eebd00"/><stop offset=".375" stop-color="#e4bf00"/><stop offset=".438" stop-color="#cec200"/><stop offset=".469" stop-color="#c2c400"/><stop offset=".5" stop-color="#b7c509"/><stop offset=".625" stop-color="#87ca31"/><stop offset=".75" stop-color="#52cd4b"/><stop offset=".812" stop-color="#2ccd55"/><stop offset=".828" stop-color="#1dce58"/><stop offset=".844" stop-color="#00ce5a"/><stop offset=".875" stop-color="#00ce5e"/><stop offset="1" stop-color="#00ce6e"/></linearGradient>
<linearGradient id="p17" gradientUnits="userSpaceOnUse" x1="956.2" x2="1795.6" y1="0" y2="0"><stop offset="0" stop-color="#f8f100"/><stop offset=".125" stop-color="#ffd100"/><stop offset=".188" stop-color="#ffc420"/><stop offset=".219" stop-color="#ffbe29"/><stop offset=".25" stop-color="#ffbc29"/><stop offset=".312" stop-color="#f8bc0b"/><stop offset=".328" stop-color="#f2bd01"/><stop offset=".344" stop-color="#edbe00"/><stop offset=".375" stop-color="#e2bf00"/><stop offset=".438" stop-color="#ccc300"/><stop offset=".469" stop-color="#c1c400"/><stop offset=".5" stop-color="#b5c60b"/><stop offset=".625" stop-color="#85ca32"/><stop offset=".75" stop-color="#50cd4c"/><stop offset=".812" stop-color="#28ce56"/><stop offset=".844" stop-color="#00ce5a"/><stop offset=".875" stop-color="#00ce5f"/><stop offset="1" stop-color="#00ce6e"/></linearGradient>
<linearGradient id="p18" gradientUnits="userSpaceOnUse" x1="954.4" x2="1793.8" y1="0" y2="0"><stop offset="0" stop-color="#f8f000"/><stop offset=".125" stop-color="#ffd000"/><stop offset=".188" stop-color="#ffc322"/><stop offset=".219" stop-color="#ffbe29"/><stop offset=".25" stop-color="#ffbb28"/><stop offset=".281" stop-color="#ffbb1b"/><stop offset=".312" stop-color="#f6bc07"/><stop offset=".344" stop-color="#ecbe00"/><stop offset=".375" stop-color="#e1bf00"/><stop offset=".438" stop-color="#cbc300"/><stop offset=".469" stop-color="#bfc400"/><stop offset=".5" stop-color="#b4c60d"/><stop offset=".625" stop-color="#84ca33"/><stop offset=".75" stop-color="#4dcd4d"/><stop offset=".812" stop-color="#23ce57"/><stop offset=".828" stop-color="#0ece59"/><stop offset=".844" stop-color="#00ce5b"/><stop offset=".875" stop-color="#00ce60"/><stop offset="1" stop-color="#00ce6f"/></linearGradient>
<linearGradient id="p19" gradientUnits="userSpaceOnUse" x1="952.7" x2="1792.1" y1="0" y2="0"><stop offset="0" stop-color="#f8ef00"/><stop offset=".125" stop-color="#ffcf03"/><stop offset=".188" stop-color="#ffc223"/><stop offset=".219" stop-color="#ffbe29"/><stop offset=".25" stop-color="#ffbb26"/><stop offset=".281" stop-color="#ffbc19"/><stop offset=".312" stop-color="#f5bc04"/><stop offset=".375" stop-color="#dfc000"/><stop offset=".438" stop-color="#c9c300"/><stop offset=".469" stop-color="#bdc500"/><stop offset=".5" stop-color="#b2c60f"/><stop offset=".625" stop-color="#82cb34"/><stop offset=".75" stop-color="#4bcd4d"/><stop offset=".812" stop-color="#1ece57"/><stop offset=".828" stop-color="#01ce5a"/><stop offset=".844" stop-color="#00ce5c"/><stop offset=".875" stop-color="#00ce60"/><stop offset="1" stop-color="#00ce6f"/></linearGradient>
<linearGradient id="p20" gradientUnits="userSpaceOnUse" x1="950.9" x2="1790.3" y1="0" y2="0"><stop offset="0" stop-color="#f9ee00"/><stop offset=".062" stop-color="#ffdd00"/><stop offset=".094" stop-color="#ffd500"/><stop offset=".109" stop-color="#ffd200"/><stop offset=".125" stop-color="#ffce06"/><stop offset=".188" stop-color="#ffc224"/><stop offset=".219" stop-color="#ffbd29"/><stop offset=".25" stop-color="#ffbb25"/><stop offset=".281" stop-color="#fdbc17"/><stop offset=".312" stop-color="#f3bd02"/><stop offset=".375" stop-color="#dec000"/><stop offset=".438" stop-color="#c7c300"/><stop offset=".469" stop-color="#bcc502"/><stop offset=".5" stop-color="#b0c611"/><stop offset=".625" stop-color="#80cb35"/><stop offset=".75" stop-color="#48cd4e"/><stop offset=".781" stop-color="#35cd53"/><stop offset=".812" stop-color="#17ce58"/><stop offset=".828" stop-color="#00ce5a"/><stop offset=".844" stop-color="#00ce5d"/><stop offset=".875" stop-color="#00ce61"/><stop offset="1" stop-color="#00ce70"/></linearGradient>
<linearGradient id="p21" gradientUnits="userSpaceOnUse" x1="949.1" x2="1788.5" y1="0" y2="0"><stop offset="0" stop-color="#f9ec00"/><stop offset=".062" stop-color="#ffdc00"/><stop offset=".094" stop-color="#ffd400"/><stop offset=".109" stop-color="#ffd100"/><stop offset=".125" stop-color="#ffcd0a"/><stop offset=".188" stop-color="#ffc126"/><stop offset=".219" stop-color="#ffbd2a"/><stop offset=".25" stop-color="#ffbb23"/><stop offset=".312" stop-color="#f2bd00"/><stop offset=".375" stop-color="#dcc000"/><stop offset=".438" stop-color="#c6c300"/><stop offset=".469" stop-color="#bac505"/><stop offset=".5" stop-color="#aec613"/><stop offset=".625" stop-color="#7ecb37"/><stop offset=".75" stop-color="#45cd4f"/><stop offset=".781" stop-color="#30cd54"/><stop offset=".797" stop-color="#23ce57"/><stop offset=".812" stop-color="#0cce59"/><stop offset=".828" stop-color="#00ce5b"/><stop offset=".844" stop-color="#00ce5e"/><stop offset=".875" stop-color="#00ce62"/><stop offset="1" stop-color="#00ce71"/></linearGradient>
<linearGradient id="p22" gradientUnits="userSpaceOnUse" x1="947.3" x2="1786.7" y1="0" y2="0"><stop offset="0" stop-color="#f9eb00"/><stop offset=".062" stop-color="#ffdb00"/><stop offset=".094" stop-color="#ffd300"/><stop offset=".109" stop-color="#ffd001"/><stop offset=".125" stop-color="#ffcc0d"/><stop offset=".188" stop-color="#ffc027"/><stop offset=".219" stop-color="#ffbc2a"/><stop offset=".25" stop-color="#ffbb21"/><stop offset=".312" stop-color="#f0bd00"/><stop offset=".375" stop-color="#dac000"/><stop offset=".438" stop-color="#c4c400"/><stop offset=".469" stop-color="#b8c507"/><stop offset=".5" stop-color="#acc715"/><stop offset=".625" stop-color="#7bcb38"/><stop offset=".75" stop-color="#41cd50"/><stop offset=".781" stop-color="#2bcd55"/><stop offset=".797" stop-color="#1cce58"/><stop offset=".812" stop-color="#00ce5a"/><stop offset=".875" stop-color="#00ce63"/><stop offset="1" stop-color="#00ce71"/></linearGradient>
<linearGradient id="p23" gradientUnits="userSpaceOnUse" x1="945.5" x2="1784.9" y1="0" y2="0"><stop offset="0" stop-color="#f9ea00"/><stop offset=".062" stop-color="#ffda00"/><stop offset=".094" stop-color="#ffd200"/><stop offset=".125" stop-color="#ffcb10"/><stop offset=".188" stop-color="#ffbf28"/><stop offset=".219" stop-color="#ffbc2a"/><stop offset=".25" stop-color="#ffbb1f"/><stop offset=".281" stop-color="#f9bc0e"/><stop offset=".297" stop-color="#f4bd03"/><stop offset=".312" stop-color="#eebd00"/><stop offset=".375" stop-color="#d9c100"/><stop offset=".438" stop-color="#c2c400"/><stop offset=".5" stop-color="#aac717"/><stop offset=".625" stop-color="#79cb39"/><stop offset=".75" stop-color="#3dcd51"/><stop offset=".781" stop-color="#26ce56"/><stop offset=".797" stop-color="#12ce59"/><stop offset=".812" stop-color="#00ce5b"/><stop offset=".875" stop-color="#00ce64"/><stop offset="1" stop-color="#00ce72"/></linearGradient>
<linearGradient id="p24" gradientUnits="userSpaceOnUse" x1="943.7" x2="1783.1" y1="0" y2="0"><stop offset="0" stop-color="#fae900"/><stop offset=".062" stop-color="#ffd800"/><stop offset=".094" stop-color="#ffd100"/><stop offset=".125" stop-color="#ffca13"/><stop offset=".188" stop-color="#ffbe29"/><stop offset=".219" stop-color="#ffbc29"/><stop offset=".25" stop-color="#ffbb1d"/><stop offset=".281" stop-color="#f7bc09"/><stop offset=".297" stop-color="#f2bd00"/><stop offset=".312" stop-color="#ecbe00"/><stop offset=".375" stop-color="#d6c100"/><stop offset=".438" stop-color="#bfc400"/><stop offset=".5" stop-color="#a8c719"/><stop offset=".625" stop-color="#76cb3b"/><stop offset=".75" stop-color="#39cd52"/><stop offset=".781" stop-color="#1fce57"/><stop offset=".797" stop-color="#03ce5a"/><stop offset=".812" stop-color="#00ce5c"/><stop offset=".875" stop-color="#00ce65"/><stop offset="1" stop-color="#00ce73"/></linearGradient>
<linearGradient id="p25" gradientUnits="userSpaceOnUse" x1="941.9" x2="1781.3" y1="0" y2="0"><stop offset="0" stop-color="#fae700"/><stop offset=".062" stop-color="#ffd700"/><stop offset=".094" stop-color="#ffd001"/><stop offset=".125" stop-color="#ffc916"/><stop offset=".188" stop-color="#ffbe29"/><stop offset=".219" stop-color="#ffbb27"/><stop offset=".25" stop-color="#ffbb1a"/><stop offset=".281" stop-color="#f5bc05"/><stop offset=".312" stop-color="#ebbe00"/><stop offset=".375" stop-color="#d4c100"/><stop offset=".438" stop-color="#bdc501"/><stop offset=".5" stop-color="#a5c71b"/><stop offset=".625" stop-color="#74cb3c"/><stop offset=".75" stop-color="#34cd54"/><stop offset=".781" stop-color="#16ce58"/><stop offset=".797" stop-color="#00ce5b"/><stop offset=".812" stop-color="#00ce5d"/><stop offset=".875" stop-color="#00ce65"/><stop offset="1" stop-color="#00ce74"/></linearGradient>
<linearGradient id="p26" gradientUnits="userSpaceOnUse" x1="940.2" x2="1779.6" y1="0" y2="0"><stop offset="0" stop-color="#fbe600"/><stop offset=".062" stop-color="#ffd600"/><stop offset=".094" stop-color="#ffce05"/><stop offset=".125" stop-color="#ffc818"/><stop offset=".188" stop-color="#ffbd29"/><stop offset=".219" stop-color="#ffbb25"/><stop offset=".25" stop-color="#fdbc17"/><stop offset=".281" stop-color="#f3bd02"/><stop offset=".312" stop-color="#e9be00"/><stop offset=".375" stop-color="#d2c200"/><stop offset=".438" stop-color="#bbc504"/><stop offset=".5" stop-color="#a3c81d"/><stop offset=".625" stop-color="#71cc3e"/><stop offset=".688" stop-color="#55cd4a"/><stop offset=".75" stop-color="#2fcd55"/><stop offset=".766" stop-color="#20ce57"/><stop offset=".781" stop-color="#06ce59"/><stop offset=".797" stop-color="#00ce5c"/><stop offset=".812" stop-color="#00ce5e"/><stop offset=".875" stop-color="#00ce66"/><stop offset="1" stop-color="#00ce74"/></linearGradient>
<linearGradient id="p27" gradientUnits="userSpaceOnUse" x1="938.4" x2="1777.8" y1="0" y2="0"><stop offset="0" stop-color="#fce400"/><stop offset=".062" stop-color="#ffd400"/><stop offset=".078" stop-color="#ffd100"/><stop offset=".094" stop-color="#ffcd0a"/><stop offset=".125" stop-color="#ffc71b"/><stop offset=".188" stop-color="#ffbd2a"/><stop offset=".219" stop-color="#ffbb22"/><stop offset=".25" stop-color="#fbbc13"/><stop offset=".281" stop-color="#f1bd00"/><stop offset=".312" stop-color="#e6bf00"/><stop offset=".375" stop-color="#d0c200"/><stop offset=".406" stop-color="#c4c400"/><stop offset=".438" stop-color="#b8c507"/><stop offset=".5" stop-color="#a0c81f"/><stop offset=".625" stop-color="#6ecc3f"/><stop offset=".688" stop-color="#51cd4b"/><stop offset=".75" stop-color="#28ce56"/><stop offset=".781" stop-color="#00ce5b"/><stop offset=".812" stop-color="#00ce5f"/><stop offset=".875" stop-color="#00ce67"/><stop offset="1" stop-color="#00cd75"/></linearGradient>
<linearGradient id="p28" gradientUnits="userSpaceOnUse" x1="936.6" x2="1776.0" y1="0" y2="0"><stop offset="0" stop-color="#fce300"/><stop offset=".062" stop-color="#ffd300"/><stop offset=".078" stop-color="#ffcf02"/><stop offset=".094" stop-color="#ffcc0e"/><stop offset=".125" stop-color="#ffc51d"/><stop offset=".188" stop-color="#ffbc2a"/><stop offset=".25" stop-color="#f9bc0f"/><stop offset=".266" stop-color="#f4bd03"/><stop offset=".281" stop-color="#efbd00"/><stop offset=".312" stop-color="#e4bf00"/><stop offset=".375" stop-color="#cdc200"/><stop offset=".406" stop-color="#c2c400"/><stop offset=".438" stop-color="#b6c60a"/><stop offset=".5" stop-color="#9ec821"/><stop offset=".625" stop-color="#6bcc41"/><stop offset=".688" stop-color="#4dcd4d"/><stop offset=".75" stop-color="#21ce57"/><stop offset=".766" stop-color="#06ce59"/><stop offset=".781" stop-color="#00ce5c"/><stop offset=".812" stop-color="#00ce60"/><stop offset=".875" stop-color="#00ce68"/><stop offset="1" stop-color="#00cd76"/></linearGradient>
<linearGradient id="p29" gradientUnits="userSpaceOnUse" x1="934.8" x2="1774.2" y1="0" y2="0"><stop offset="0" stop-color="#fee100"/><stop offset=".062" stop-color="#ffd100"/><stop offset=".125" stop-color="#ffc420"/><stop offset=".156" stop-color="#ffbf29"/><stop offset=".188" stop-color="#ffbc29"/><stop offset=".25" stop-color="#f7bc0a"/><stop offset=".266" stop-color="#f2bd00"/><stop offset=".281" stop-color="#edbe00"/><stop offset=".312" stop-color="#e1bf00"/><stop offset=".375" stop-color="#cbc300"/><stop offset=".406" stop-color="#bfc400"/><stop offset=".438" stop-color="#b3c60e"/><stop offset=".5" stop-color="#9bc923"/><stop offset=".625" stop-color="#67cc42"/><stop offset=".688" stop-color="#49cd4e"/><stop offset=".719" stop-color="#35cd53"/><stop offset=".75" stop-color="#16ce58"/><stop offset=".766" stop-color="#00ce5b"/><stop offset=".781" stop-color="#00ce5d"/><stop offset=".812" stop-color="#00ce61"/><stop offset=".875" stop-color="#00ce6a"/><stop offset="1" stop-color="#00cd77"/></linearGradient>
<linearGradient id="p30" gradientUnits="userSpaceOnUse" x1="933.0" x2="1772.4" y1="0" y2="0"><stop offset="0" stop-color="#ffe000"/><stop offset=".062" stop-color="#ffd000"/><stop offset=".094" stop-color="#ffc915"/><stop offset=".125" stop-color="#ffc322"/><stop offset=".156" stop-color="#ffbe29"/><stop offset=".188" stop-color="#ffbb27"/><stop offset=".219" stop-color="#ffbb1a"/><stop offset=".25" stop-color="#f5bc04"/><stop offset=".375" stop-color="#c8c300"/><stop offset=".406" stop-color="#bcc502"/><stop offset=".438" stop-color="#b0c611"/><stop offset=".5" stop-color="#98c926"/><stop offset=".625" stop-color="#64cc44"/><stop offset=".688" stop-color="#44cd50"/><stop offset=".719" stop-color="#2ecd55"/><stop offset=".734" stop-color="#1fce57"/><stop offset=".75" stop-color="#03ce5a"/><stop offset="1" stop-color="#00cd78"/></linearGradient>
<linearGradient id="p31" gradientUnits="userSpaceOnUse" x1="931.2" x2="1770.6" y1="0" y2="0"><stop offset="0" stop-color="#ffde00"/><stop offset=".031" stop-color="#ffd600"/><stop offset=".047" stop-color="#ffd200"/><stop offset=".062" stop-color="#ffce05"/><stop offset=".125" stop-color="#ffc224"/><stop offset=".156" stop-color="#ffbd2a"/><stop offset=".188" stop-color="#ffbb24"/><stop offset=".25" stop-color="#f2bd01"/><stop offset=".375" stop-color="#c5c400"/><stop offset=".406" stop-color="#b9c506"/><stop offset=".438" stop-color="#adc714"/><stop offset=".5" stop-color="#94c928"/><stop offset=".625" stop-color="#60cc46"/><stop offset=".688" stop-color="#3ecd51"/><stop offset=".719" stop-color="#27ce56"/><stop offset=".734" stop-color="#13ce59"/><stop offset=".75" stop-color="#00ce5b"/><stop offset="1" stop-color="#00cd79"/></linearGradient>
<linearGradient id="p32" gradientUnits="userSpaceOnUse" x1="929.4" x2="1768.8" y1="0" y2="0"><stop offset="0" stop-color="#ffdc00"/><stop offset=".031" stop-color="#ffd400"/><stop offset=".047" stop-color="#ffd000"/><stop offset=".062" stop-color="#ffcd0b"/><stop offset=".125" stop-color="#ffc027"/><stop offset=".156" stop-color="#ffbc2a"/><stop offset=".188" stop-color="#ffbb21"/><stop offset=".25" stop-color="#f0bd00"/><stop offset=".375" stop-color="#c2c400"/><stop offset=".5" stop-color="#91c92a"/><stop offset=".625" stop-color="#5bcc47"/><stop offset=".688" stop-color="#38cd53"/><stop offset=".719" stop-color="#1dce58"/><stop offset=".734" stop-color="#00ce5a"/><stop offset=".75" stop-color="#00ce5c"/><stop offset="1" stop-color="#00cd79"/></linearGradient>
<linearGradient id="p33" gradientUnits="userSpaceOnUse" x1="927.7" x2="1767.1" y1="0" y2="0"><stop offset="0" stop-color="#ffda00"/><stop offset=".031" stop-color="#ffd200"/><stop offset=".062" stop-color="#ffcb10"/><stop offset=".125" stop-color="#ffbf29"/><stop offset=".156" stop-color="#ffbc2a"/><stop offset=".188" stop-color="#ffbb1e"/><stop offset=".219" stop-color="#f8bc0c"/><stop offset=".234" stop-color="#f3bd01"/><stop offset=".25" stop-color="#edbe00"/><stop offset=".375" stop-color="#bfc400"/><stop offset=".5" stop-color="#8eca2c"/><stop offset=".625" stop-color="#57cd49"/><stop offset=".688" stop-color="#32cd54"/><stop offset=".703" stop-color="#24ce57"/><stop offset=".719" stop-color="#0dce59"/><stop offset=".734" stop-color="#00ce5b"/><stop offset=".75" stop-color="#00ce5e"/><stop offset="1" stop-color="#00cd7a"/></linearGradient>
<linearGradient id="p34" gradientUnits="userSpaceOnUse" x1="925.9" x2="1765.3" y1="0" y2="0"><stop offset="0" stop-color="#ffd800"/><stop offset=".031" stop-color="#ffd100"/><stop offset=".062" stop-color="#ffca14"/><stop offset=".125" stop-color="#ffbe29"/><stop offset=".156" stop-color="#ffbb27"/><stop offset=".188" stop-color="#ffbb1a"/><stop offset=".219" stop-color="#f5bc05"/><stop offset=".25" stop-color="#eabe00"/><stop offset=".375" stop-color="#bcc503"/><stop offset=".438" stop-color="#a3c81d"/><stop offset=".5" stop-color="#8aca2f"/><stop offset=".625" stop-color="#52cd4b"/><stop offset=".688" stop-color="#29ce56"/><stop offset=".719" stop-color="#00ce5b"/><stop offset=".75" stop-color="#00ce5f"/><stop offset="1" stop-color="#00cd7b"/></linearGradient>
<linearGradient id="p35" gradientUnits="userSpaceOnUse" x1="924.1" x2="1763.5" y1="0" y2="0"><stop offset="0" stop-color="#ffd600"/><stop offset=".031" stop-color="#ffcf04"/><stop offset=".062" stop-color="#ffc818"/><stop offset=".125" stop-color="#ffbd29"/><stop offset=".156" stop-color="#ffbb24"/><stop offset=".188" stop-color="#fdbc16"/><stop offset=".219" stop-color="#f2bd01"/><stop offset=".25" stop-color="#e7be00"/><stop offset=".312" stop-color="#d0c200"/><stop offset=".344" stop-color="#c4c400"/><stop offset=".375" stop-color="#b8c507"/><stop offset=".5" stop-color="#86ca31"/><stop offset=".625" stop-color="#4dcd4d"/><stop offset=".656" stop-color="#3acd52"/><stop offset=".688" stop-color="#1fce57"/><stop offset=".703" stop-color="#01ce5a"/><stop offset=".719" stop-color="#00ce5c"/><stop offset=".75" stop-color="#00ce61"/><stop offset="1" stop-color="#00cd7c"/></linearGradient>
<linearGradient id="p36" gradientUnits="userSpaceOnUse" x1="922.3" x2="1761.7" y1="0" y2="0"><stop offset="0" stop-color="#ffd400"/><stop offset=".016" stop-color="#ffd100"/><stop offset=".031" stop-color="#ffcd0a"/><stop offset=".062" stop-color="#ffc61c"/><stop offset=".125" stop-color="#ffbc2a"/><stop offset=".188" stop-color="#fabc10"/><stop offset=".219" stop-color="#efbd00"/><stop offset=".25" stop-color="#e4bf00"/><stop offset=".312" stop-color="#cdc200"/><stop offset=".344" stop-color="#c1c400"/><stop offset=".375" stop-color="#b5c60b"/><stop offset=".5" stop-color="#82cb34"/><stop offset=".625" stop-color="#47cd4f"/><stop offset=".656" stop-color="#32cd54"/><stop offset=".672" stop-color="#25ce56"/><stop offset=".688" stop-color="#0fce59"/><stop offset=".703" stop-color="#00ce5b"/><stop offset=".719" stop-color="#00ce5e"/><stop offset=".75" stop-color="#00ce62"/><stop offset="1" stop-color="#00cd7d"/></linearGradient>
<linearGradient id="p37" gradientUnits="userSpaceOnUse" x1="920.5" x2="1759.9" y1="0" y2="0"><stop offset="0" stop-color="#ffd200"/><stop offset=".062" stop-color="#ffc41f"/><stop offset=".094" stop-color="#ffbf29"/><stop offset=".125" stop-color="#ffbc2a"/><stop offset=".156" stop-color="#ffbb1d"/><stop offset=".188" stop-color="#f7bc09"/><stop offset=".203" stop-color="#f2bd00"/><stop offset=".219" stop-color="#ecbe00"/><stop offset=".25" stop-color="#e1bf00"/><stop offset=".312" stop-color="#c9c300"/><stop offset=".344" stop-color="#bdc501"/><stop offset=".375" stop-color="#b1c610"/><stop offset=".5" stop-color="#7ecb36"/><stop offset=".625" stop-color="#41cd50"/><stop offset=".656" stop-color="#29ce56"/><stop offset=".688" stop-color="#00ce5b"/><stop offset=".75" stop-color="#00ce64"/><stop offset="1" stop-color="#00cd7e"/></linearGradient>
<linearGradient id="p38" gradientUnits="userSpaceOnUse" x1="918.7" x2="1758.1" y1="0" y2="0"><stop offset="0" stop-color="#ffd000"/><stop offset=".062" stop-color="#ffc322"/><stop offset=".094" stop-color="#ffbe29"/><stop offset=".125" stop-color="#ffbb26"/><stop offset=".156" stop-color="#febc18"/><stop offset=".188" stop-color="#f4bd03"/><stop offset=".25" stop-color="#ddc000"/><stop offset=".312" stop-color="#c6c300"/><stop offset=".344" stop-color="#b9c505"/><stop offset=".375" stop-color="#adc714"/><stop offset=".5" stop-color="#79cb39"/><stop offset=".625" stop-color="#3acd52"/><stop offset=".656" stop-color="#1dce57"/><stop offset=".672" stop-color="#00ce5a"/><stop offset=".688" stop-color="#00ce5c"/><stop offset=".75" stop-color="#00ce65"/><stop offset="1" stop-color="#00cd7f"/></linearGradient>
<linearGradient id="p39" gradientUnits="userSpaceOnUse" x1="916.9" x2="1756.3" y1="0" y2="0"><stop offset="0" stop-color="#ffce06"/><stop offset=".062" stop-color="#ffc125"/><stop offset=".094" stop-color="#ffbd2a"/><stop offset=".125" stop-color="#ffbb22"/><stop offset=".188" stop-color="#f0bd00"/><stop offset=".25" stop-color="#dac000"/><stop offset=".312" stop-color="#c2c400"/><stop offset=".375" stop-color="#a9c718"/><stop offset=".5" stop-color="#75cb3b"/><stop offset=".562" stop-color="#58cd49"/><stop offset=".625" stop-color="#31cd54"/><stop offset=".641" stop-color="#22ce57"/><stop offset=".656" stop-color="#09ce59"/><stop offset=".672" stop-color="#00ce5c"/><stop offset=".688" stop-color="#00ce5e"/><stop offset=".75" stop-color="#00ce67"/><stop offset="1" stop-color="#00cd80"/></linearGradient>
<linearGradient id="p40" gradientUnits="userSpaceOnUse" x1="915.2" x2="1754.5" y1="0" y2="0"><stop offset="0" stop-color="#ffcc0d"/><stop offset=".062" stop-color="#ffbf28"/><stop offset=".094" stop-color="#ffbc2a"/><stop offset=".125" stop-color="#ffbb1e"/><stop offset=".156" stop-color="#f8bc0c"/><stop offset=".172" stop-color="#f2bd01"/><stop offset=".188" stop-color="#edbe00"/><stop offset=".25" stop-color="#d6c100"/><stop offset=".312" stop-color="#bdc500"/><stop offset=".375" stop-color="#a5c81c"/><stop offset=".5" stop-color="#70cc3e"/><stop offset=".562" stop-color="#52cd4b"/><stop offset=".625" stop-color="#26ce56"/><stop offset=".641" stop-color="#12ce59"/><stop offset=".656" stop-color="#00ce5b"/><stop offset=".688" stop-color="#00ce60"/><stop offset=".75" stop-color="#00ce69"/><stop offset="1" stop-color="#00cd81"/></linearGradient>
<linearGradient id="p41" gradientUnits="userSpaceOnUse" x1="913.4" x2="1752.8" y1="0" y2="0"><stop offset="0" stop-color="#ffca13"/><stop offset=".062" stop-color="#ffbe29"/><stop offset=".094" stop-color="#ffbb27"/><stop offset=".125" stop-color="#ffbc19"/><stop offset=".156" stop-color="#f4bd04"/><stop offset=".188" stop-color="#e9be00"/><stop offset=".25" stop-color="#d2c200"/><stop offset=".281" stop-color="#c6c300"/><stop offset=".312" stop-color="#b9c505"/><stop offset=".375" stop-color="#a0c81f"/><stop offset=".5" stop-color="#6bcc41"/><stop offset=".562" stop-color="#4bcd4d"/><stop offset=".594" stop-color="#37cd53"/><stop offset=".625" stop-color="#17ce58"/><stop offset=".641" stop-color="#00ce5b"/><stop offset=".656" stop-color="#00ce5d"/><stop offset=".688" stop-color="#00ce62"/><stop offset=".75" stop-color="#00ce6a"/><stop offset="1" stop-color="#00cc83"/></linearGradient>
<linearGradient id="p42" gradientUnits="userSpaceOnUse" x1="911.6" x2="1751.0" y1="0" y2="0"><stop offset="0" stop-color="#ffc818"/><stop offset=".062" stop-color="#ffbd2a"/><stop offset=".094" stop-color="#ffbb23"/><stop offset=".125" stop-color="#fbbc13"/><stop offset=".156" stop-color="#f1bd00"/><stop offset=".188" stop-color="#e5bf00"/><stop offset=".25" stop-color="#cec200"/><stop offset=".281" stop-color="#c1c400"/><stop offset=".312" stop-color="#b5c60b"/><stop offset=".375" stop-color="#9bc923"/><stop offset=".5" stop-color="#65cc43"/><stop offset=".562" stop-color="#44cd50"/><stop offset=".594" stop-color="#2dcd55"/><stop offset=".609" stop-color="#1cce58"/><stop offset=".625" stop-color="#00ce5a"/><stop offset=".75" stop-color="#00ce6c"/><stop offset="1" stop-color="#00cc84"/></linearGradient>
<linearGradient id="p43" gradientUnits="userSpaceOnUse" x1="909.8" x2="1749.2" y1="0" y2="0"><stop offset="0" stop-color="#ffc61d"/><stop offset=".031" stop-color="#ffbf28"/><stop offset=".062" stop-color="#ffbc2a"/><stop offset=".125" stop-color="#f8bc0c"/><stop offset=".141" stop-color="#f2bd01"/><stop offset=".156" stop-color="#edbe00"/><stop offset=".188" stop-color="#e1bf00"/><stop offset=".25" stop-color="#c9c300"/><stop offset=".5" stop-color="#5fcc46"/><stop offset=".562" stop-color="#3bcd52"/><stop offset=".594" stop-color="#1fce57"/><stop offset=".609" stop-color="#00ce5a"/><stop offset=".625" stop-color="#00ce5c"/><stop offset=".75" stop-color="#00ce6e"/><stop offset="1" stop-color="#00cc85"/></linearGradient>
<linearGradient id="p44" gradientUnits="userSpaceOnUse" x1="908.0" x2="1747.4" y1="0" y2="0"><stop offset="0" stop-color="#ffc321"/><stop offset=".031" stop-color="#ffbe29"/><stop offset=".062" stop-color="#ffbb27"/><stop offset=".094" stop-color="#ffbc19"/><stop offset=".125" stop-color="#f4bd03"/><stop offset=".25" stop-color="#c5c400"/><stop offset=".375" stop-color="#91c92a"/><stop offset=".5" stop-color="#58cd49"/><stop offset=".562" stop-color="#31cd54"/><stop offset=".578" stop-color="#22ce57"/><stop offset=".594" stop-color="#06ce59"/><stop offset=".609" stop-color="#00ce5c"/><stop offset=".625" stop-color="#00ce5e"/><stop offset=".75" stop-color="#00ce6f"/><stop offset="1" stop-color="#00cc86"/></linearGradient>
<linearGradient id="p45" gradientUnits="userSpaceOnUse" x1="906.2" x2="1745.6" y1="0" y2="0"><stop offset="0" stop-color="#ffc125"/><stop offset=".031" stop-color="#ffbd2a"/><stop offset=".062" stop-color="#ffbb22"/><stop offset=".125" stop-color="#f0bd00"/><stop offset=".25" stop-color="#c0c400"/><stop offset=".375" stop-color="#8cca2e"/><stop offset=".5" stop-color="#51cd4b"/><stop offset=".562" stop-color="#24ce57"/><stop offset=".578" stop-color="#0cce59"/><stop offset=".594" stop-color="#00ce5c"/><stop offset=".625" stop-color="#00ce61"/><stop offset=".75" stop-color="#00ce71"/><stop offset="1" stop-color="#00cc87"/></linearGradient>
<linearGradient id="p46" gradientUnits="userSpaceOnUse" x1="904.4" x2="1743.8" y1="0" y2="0"><stop offset="0" stop-color="#ffbf28"/><stop offset=".031" stop-color="#ffbc2a"/><stop offset=".062" stop-color="#ffbb1d"/><stop offset=".094" stop-color="#f7bc09"/><stop offset=".109" stop-color="#f1bd00"/><stop offset=".125" stop-color="#ebbe00"/><stop offset=".25" stop-color="#bbc504"/><stop offset=".312" stop-color="#a1c81e"/><stop offset=".375" stop-color="#86ca31"/><stop offset=".5" stop-color="#49cd4e"/><stop offset=".531" stop-color="#34cd54"/><stop offset=".547" stop-color="#26ce56"/><stop offset=".562" stop-color="#0fce59"/><stop offset=".578" stop-color="#00ce5b"/><stop offset=".594" stop-color="#00ce5e"/><stop offset=".625" stop-color="#00ce63"/><stop offset=".75" stop-color="#00ce73"/><stop offset="1" stop-color="#00cc88"/></linearGradient>
<linearGradient id="p47" gradientUnits="userSpaceOnUse" x1="902.6" x2="1742.0" y1="0" y2="0"><stop offset="0" stop-color="#ffbe29"/><stop offset=".031" stop-color="#ffbb25"/><stop offset=".062" stop-color="#fdbc17"/><stop offset=".094" stop-color="#f2bd01"/><stop offset=".125" stop-color="#e7be00"/><stop offset=".188" stop-color="#cfc200"/><stop offset=".219" stop-color="#c2c400"/><stop offset=".25" stop-color="#b5c60a"/><stop offset=".375" stop-color="#80cb35"/><stop offset=".5" stop-color="#40cd51"/><stop offset=".531" stop-color="#27ce56"/><stop offset=".547" stop-color="#11ce59"/><stop offset=".562" stop-color="#00ce5b"/><stop offset=".625" stop-color="#00ce65"/><stop offset=".75" stop-color="#00cd75"/><stop offset="1" stop-color="#00cc89"/></linearGradient>
<linearGradient id="p48" gradientUnits="userSpaceOnUse" x1="900.9" x2="1740.3" y1="0" y2="0"><stop offset="0" stop-color="#ffbc2a"/><stop offset=".031" stop-color="#ffbb20"/><stop offset=".062" stop-color="#f9bc0e"/><stop offset=".078" stop-color="#f3bd02"/><stop offset=".094" stop-color="#eebd00"/><stop offset=".125" stop-color="#e2bf00"/><stop offset=".188" stop-color="#c9c300"/><stop offset=".219" stop-color="#bdc501"/><stop offset=".25" stop-color="#b0c611"/><stop offset=".375" stop-color="#7acb39"/><stop offset=".438" stop-color="#5ccc47"/><stop offset=".5" stop-color="#35cd53"/><stop offset=".531" stop-color="#12ce59"/><stop offset=".547" stop-color="#00ce5b"/><stop offset=".562" stop-color="#00ce5e"/><stop offset=".625" stop-color="#00ce67"/><stop offset=".75" stop-color="#00cd77"/><stop offset="1" stop-color="#00cb8a"/></linearGradient>
<linearGradient id="p49" gradientUnits="userSpaceOnUse" x1="899.1" x2="1738.5" y1="0" y2="0"><stop offset="0" stop-color="#ffbc28"/><stop offset=".031" stop-color="#ffbb1a"/><stop offset=".062" stop-color="#f4bd04"/><stop offset=".125" stop-color="#ddc000"/><stop offset=".188" stop-color="#c4c400"/><stop offset=".219" stop-color="#b7c508"/><stop offset=".25" stop-color="#aac717"/><stop offset=".375" stop-color="#73cb3c"/><stop offset=".438" stop-color="#54cd4a"/><stop offset=".5" stop-color="#28ce56"/><stop offset=".516" stop-color="#12ce59"/><stop offset=".531" stop-color="#00ce5b"/><stop offset=".562" stop-color="#00ce60"/><stop offset=".625" stop-color="#00ce69"/><stop offset=".75" stop-color="#00cd78"/><stop offset="1" stop-color="#00cb8c"/></linearGradient>
<linearGradient id="p50" gradientUnits="userSpaceOnUse" x1="897.3" x2="1736.7" y1="0" y2="0"><stop offset="0" stop-color="#ffbb22"/><stop offset=".062" stop-color="#efbd00"/><stop offset=".125" stop-color="#d7c100"/><stop offset=".188" stop-color="#bec400"/><stop offset=".25" stop-color="#a4c81c"/><stop offset=".375" stop-color="#6ccc40"/><stop offset=".438" stop-color="#4bcd4d"/><stop offset=".469" stop-color="#36cd53"/><stop offset=".5" stop-color="#12ce59"/><stop offset=".516" stop-color="#00ce5b"/><stop offset=".531" stop-color="#00ce5e"/><stop offset=".562" stop-color="#00ce63"/><stop offset=".625" stop-color="#00ce6c"/><stop offset=".75" stop-color="#00cd7a"/><stop offset="1" stop-color="#00cb8d"/></linearGradient>
<linearGradient id="p51" gradientUnits="userSpaceOnUse" x1="895.5" x2="1734.9" y1="0" y2="0"><stop offset="0" stop-color="#ffbb1c"/><stop offset=".031" stop-color="#f6bc06"/><stop offset=".062" stop-color="#eabe00"/><stop offset=".125" stop-color="#d2c200"/><stop offset=".156" stop-color="#c5c400"/><stop offset=".188" stop-color="#b8c507"/><stop offset=".25" stop-color="#9dc821"/><stop offset=".375" stop-color="#64cc44"/><stop offset=".438" stop-color="#41cd50"/><stop offset=".469" stop-color="#27ce56"/><stop offset=".484" stop-color="#10ce59"/><stop offset=".5" stop-color="#00ce5b"/><stop offset=".75" stop-color="#00cd7c"/><stop offset="1" stop-color="#00cb8e"/></linearGradient>
<linearGradient id="p52" gradientUnits="userSpaceOnUse" x1="893.7" x2="1733.1" y1="0" y2="0"><stop offset="0" stop-color="#fcbc14"/><stop offset=".031" stop-color="#f1bd00"/><stop offset=".062" stop-color="#e5bf00"/><stop offset=".125" stop-color="#ccc300"/><stop offset=".156" stop-color="#bfc400"/><stop offset=".188" stop-color="#b2c60f"/><stop offset=".25" stop-color="#97c926"/><stop offset=".375" stop-color="#5ccc47"/><stop offset=".438" stop-color="#34cd54"/><stop offset=".453" stop-color="#25ce56"/><stop offset=".469" stop-color="#0dce59"/><stop offset=".484" stop-color="#00ce5c"/><stop offset=".5" stop-color="#00ce5e"/><stop offset=".75" stop-color="#00cd7d"/><stop offset="1" stop-color="#00cb8f"/></linearGradient>
<linearGradient id="p53" gradientUnits="userSpaceOnUse" x1="891.9" x2="1731.3" y1="0" y2="0"><stop offset="0" stop-color="#f7bc08"/><stop offset=".016" stop-color="#f1bd00"/><stop offset=".031" stop-color="#ebbe00"/><stop offset=".062" stop-color="#dfc000"/><stop offset=".125" stop-color="#c5c300"/><stop offset=".156" stop-color="#b8c507"/><stop offset=".188" stop-color="#abc716"/><stop offset=".25" stop-color="#90ca2b"/><stop offset=".375" stop-color="#53cd4b"/><stop offset=".438" stop-color="#24ce57"/><stop offset=".453" stop-color="#08ce59"/><stop offset=".469" stop-color="#00ce5c"/><stop offset=".5" stop-color="#00ce61"/><stop offset=".75" stop-color="#00cd7f"/><stop offset="1" stop-color="#00ca90"/></linearGradient>
<linearGradient id="p54" gradientUnits="userSpaceOnUse" x1="890.1" x2="1729.5" y1="0" y2="0"><stop offset="0" stop-color="#f1bd00"/><stop offset=".125" stop-color="#bfc400"/><stop offset=".188" stop-color="#a4c81c"/><stop offset=".25" stop-color="#88ca30"/><stop offset=".375" stop-color="#48cd4e"/><stop offset=".406" stop-color="#31cd54"/><stop offset=".422" stop-color="#21ce57"/><stop offset=".438" stop-color="#01ce5a"/><stop offset=".5" stop-color="#00ce64"/><stop offset=".75" stop-color="#00cd81"/><stop offset="1" stop-color="#00ca91"/></linearGradient>
<linearGradient id="p55" gradientUnits="userSpaceOnUse" x1="888.4" x2="1727.8" y1="0" y2="0"><stop offset="0" stop-color="#ebbe00"/><stop offset=".062" stop-color="#d2c200"/><stop offset=".094" stop-color="#c5c400"/><stop offset=".125" stop-color="#b8c507"/><stop offset=".188" stop-color="#9cc822"/><stop offset=".25" stop-color="#80cb35"/><stop offset=".375" stop-color="#3ccd52"/><stop offset=".406" stop-color="#1dce58"/><stop offset=".422" stop-color="#00ce5a"/><stop offset=".438" stop-color="#00ce5d"/><stop offset=".5" stop-color="#00ce67"/><stop offset=".75" stop-color="#00cc83"/><stop offset="1" stop-color="#00ca93"/></linearGradient>
<linearGradient id="p56" gradientUnits="userSpaceOnUse" x1="886.6" x2="1726.0" y1="0" y2="0"><stop offset="0" stop-color="#e4bf00"/><stop offset=".062" stop-color="#cbc300"/><stop offset=".094" stop-color="#bec500"/><stop offset=".125" stop-color="#b0c611"/><stop offset=".25" stop-color="#78cb3a"/><stop offset=".312" stop-color="#58cd49"/><stop offset=".375" stop-color="#2ccd55"/><stop offset=".391" stop-color="#18ce58"/><stop offset=".406" stop-color="#00ce5b"/><stop offset=".438" stop-color="#00ce60"/><stop offset=".5" stop-color="#00ce6a"/><stop offset=".75" stop-color="#00cc84"/><stop offset="1" stop-color="#00ca94"/></linearGradient>
<linearGradient id="p57" gradientUnits="userSpaceOnUse" x1="884.8" x2="1724.2" y1="0" y2="0"><stop offset="0" stop-color="#dec000"/><stop offset=".062" stop-color="#c4c400"/><stop offset=".094" stop-color="#b6c609"/><stop offset=".125" stop-color="#a8c718"/><stop offset=".25" stop-color="#6fcc3f"/><stop offset=".312" stop-color="#4ccd4d"/><stop offset=".344" stop-color="#36cd53"/><stop offset=".359" stop-color="#27ce56"/><stop offset=".375" stop-color="#10ce59"/><stop offset=".391" stop-color="#00ce5c"/><stop offset=".406" stop-color="#00ce5e"/><stop offset=".438" stop-color="#00ce63"/><stop offset=".5" stop-color="#00ce6d"/><stop offset=".75" stop-color="#00cc86"/><stop offset="1" stop-color="#00c995"/></linearGradient>
<linearGradient id="p58" gradientUnits="userSpaceOnUse" x1="883.0" x2="1722.4" y1="0" y2="0"><stop offset="0" stop-color="#d6c100"/><stop offset=".062" stop-color="#bcc502"/><stop offset=".125" stop-color="#a0c81f"/><stop offset=".25" stop-color="#65cc43"/><stop offset=".312" stop-color="#3fcd51"/><stop offset=".344" stop-color="#22ce57"/><stop offset=".359" stop-color="#02ce5a"/><stop offset=".375" stop-color="#00ce5c"/><stop offset=".5" stop-color="#00ce70"/><stop offset=".75" stop-color="#00cc88"/><stop offset="1" stop-color="#00c996"/></linearGradient>
<linearGradient id="p59" gradientUnits="userSpaceOnUse" x1="881.2" x2="1720.6" y1="0" y2="0"><stop offset="0" stop-color="#cfc200"/><stop offset=".031" stop-color="#c1c400"/><stop offset=".062" stop-color="#b4c60d"/><stop offset=".125" stop-color="#97c926"/><stop offset=".25" stop-color="#5acd48"/><stop offset=".312" stop-color="#2ecd55"/><stop offset=".328" stop-color="#1bce58"/><stop offset=".344" stop-color="#00ce5b"/><stop offset=".375" stop-color="#00ce60"/><stop offset=".5" stop-color="#00ce72"/><stop offset=".75" stop-color="#00cb8a"/><stop offset="1" stop-color="#00c997"/></linearGradient>
<linearGradient id="p60" gradientUnits="userSpaceOnUse" x1="879.4" x2="1718.8" y1="0" y2="0"><stop offset="0" stop-color="#c7c300"/><stop offset=".031" stop-color="#b9c506"/><stop offset=".062" stop-color="#abc716"/><stop offset=".125" stop-color="#8eca2c"/><stop offset=".25" stop-color="#4dcd4d"/><stop offset=".281" stop-color="#37cd53"/><stop offset=".297" stop-color="#28ce56"/><stop offset=".312" stop-color="#10ce59"/><stop offset=".328" stop-color="#00ce5c"/><stop offset=".344" stop-color="#00ce5e"/><stop offset=".375" stop-color="#00ce64"/><stop offset=".5" stop-color="#00cd75"/><stop offset=".75" stop-color="#00cb8c"/><stop offset="1" stop-color="#00c999"/></linearGradient>
<linearGradient id="p61" gradientUnits="userSpaceOnUse" x1="877.6" x2="1717.0" y1="0" y2="0"><stop offset="0" stop-color="#bec500"/><stop offset=".062" stop-color="#a2c81e"/><stop offset=".125" stop-color="#84ca32"/><stop offset=".25" stop-color="#3ecd51"/><stop offset=".281" stop-color="#20ce57"/><stop offset=".297" stop-color="#00ce5a"/><stop offset=".312" stop-color="#00ce5d"/><stop offset=".375" stop-color="#00ce67"/><stop offset=".5" stop-color="#00cd78"/><stop offset=".75" stop-color="#00cb8d"/><stop offset="1" stop-color="#00c89a"/></linearGradient>
<linearGradient id="p62" gradientUnits="userSpaceOnUse" x1="875.9" x2="1715.3" y1="0" y2="0"><stop offset="0" stop-color="#b4c60c"/><stop offset=".125" stop-color="#7acb39"/><stop offset=".188" stop-color="#58cd49"/><stop offset=".25" stop-color="#2ace56"/><stop offset=".266" stop-color="#13ce59"/><stop offset=".281" stop-color="#00ce5b"/><stop offset=".312" stop-color="#00ce61"/><stop offset=".375" stop-color="#00ce6b"/><stop offset=".5" stop-color="#00cd7b"/><stop offset=".75" stop-color="#00cb8f"/><stop offset="1" stop-color="#00c89b"/></linearGradient>
<linearGradient id="p63" gradientUnits="userSpaceOnUse" x1="874.1" x2="1713.5" y1="0" y2="0"><stop offset="0" stop-color="#abc717"/><stop offset=".125" stop-color="#6ecc3f"/><stop offset=".188" stop-color="#4acd4e"/><stop offset=".219" stop-color="#31cd54"/><stop offset=".234" stop-color="#20ce57"/><stop offset=".25" stop-color="#00ce5a"/><stop offset=".5" stop-color="#00cd7d"/><stop offset="1" stop-color="#00c89c"/></linearGradient>
<linearGradient id="p64" gradientUnits="userSpaceOnUse" x1="872.3" x2="1711.7" y1="0" y2="0"><stop offset="0" stop-color="#a0c81f"/><stop offset=".125" stop-color="#61cc45"/><stop offset=".188" stop-color="#38cd53"/><stop offset=".203" stop-color="#28ce56"/><stop offset=".219" stop-color="#10ce59"/><stop offset=".234" stop-color="#00ce5c"/><stop offset=".25" stop-color="#00ce5f"/><stop offset=".5" stop-color="#00cd80"/><stop offset="1" stop-color="#00c89d"/></linearGradient>
<linearGradient id="p65" gradientUnits="userSpaceOnUse" x1="870.5" x2="1709.9" y1="0" y2="0"><stop offset="0" stop-color="#95c928"/><stop offset=".125" stop-color="#53cd4b"/><stop offset=".156" stop-color="#3dcd52"/><stop offset=".188" stop-color="#1bce58"/><stop offset=".203" stop-color="#00ce5b"/><stop offset=".219" stop-color="#00ce5e"/><stop offset=".25" stop-color="#00ce63"/><stop offset=".5" stop-color="#00cc83"/><stop offset="1" stop-color="#00c79f"/></linearGradient>
<linearGradient id="p66" gradientUnits="userSpaceOnUse" x1="868.7" x2="1708.1" y1="0" y2="0"><stop offset="0" stop-color="#89ca30"/><stop offset=".125" stop-color="#41cd50"/><stop offset=".156" stop-color="#22ce57"/><stop offset=".172" stop-color="#00ce5a"/><stop offset=".188" stop-color="#00ce5d"/><stop offset=".25" stop-color="#00ce68"/><stop offset=".5" stop-color="#00cc85"/><stop offset="1" stop-color="#00c7a0"/></linearGradient>
<linearGradient id="p67" gradientUnits="userSpaceOnUse" x1="866.9" x2="1706.3" y1="0" y2="0"><stop offset="0" stop-color="#7bcb38"/><stop offset=".062" stop-color="#59cd48"/><stop offset=".125" stop-color="#27ce56"/><stop offset=".141" stop-color="#0cce59"/><stop offset=".156" stop-color="#00ce5c"/><stop offset=".188" stop-color="#00ce62"/><stop offset=".25" stop-color="#00ce6c"/><stop offset=".5" stop-color="#00cc88"/><stop offset="1" stop-color="#00c7a1"/></linearGradient>
<linearGradient id="p68" gradientUnits="userSpaceOnUse" x1="865.1" x2="1704.5" y1="0" y2="0"><stop offset="0" stop-color="#6dcc40"/><stop offset=".062" stop-color="#46cd4f"/><stop offset=".094" stop-color="#2ace56"/><stop offset=".109" stop-color="#13ce59"/><stop offset=".125" stop-color="#00ce5c"/><stop offset=".25" stop-color="#00ce71"/><stop offset=".5" stop-color="#00cb8b"/><stop offset="1" stop-color="#00c6a2"/></linearGradient>
<linearGradient id="p69" gradientUnits="userSpaceOnUse" x1="863.3" x2="1702.7" y1="0" y2="0"><stop offset="0" stop-color="#5ccc47"/><stop offset=".062" stop-color="#2ccd55"/><stop offset=".078" stop-color="#16ce58"/><stop offset=".094" stop-color="#00ce5b"/><stop offset=".125" stop-color="#00ce61"/><stop offset=".25" stop-color="#00cd75"/><stop offset=".5" stop-color="#00cb8d"/><stop offset="1" stop-color="#00c6a3"/></linearGradient>
<linearGradient id="p70" gradientUnits="userSpaceOnUse" x1="861.6" x2="1701.0" y1="0" y2="0"><stop offset="0" stop-color="#48cd4e"/><stop offset=".031" stop-color="#2dcd55"/><stop offset=".047" stop-color="#16ce58"/><stop offset=".062" stop-color="#00ce5b"/><stop offset=".125" stop-color="#00ce67"/><stop offset=".25" stop-color="#00cd79"/><stop offset=".5" stop-color="#00ca90"/><stop offset="1" stop-color="#00c6a4"/></linearGradient>
<linearGradient id="p71" gradientUnits="userSpaceOnUse" x1="859.8" x2="1699.2" y1="0" y2="0"><stop offset="0" stop-color="#2bcd55"/><stop offset=".016" stop-color="#14ce59"/><stop offset=".031" stop-color="#00ce5c"/><stop offset=".062" stop-color="#00ce62"/><stop offset=".125" stop-color="#00ce6d"/><stop offset=".25" stop-color="#00cd7d"/><stop offset=".5" stop-color="#00ca92"/><stop offset="1" stop-color="#00c5a5"/></linearGradient>
<linearGradient id="p72" gradientUnits="userSpaceOnUse" x1="858.0" x2="1697.4" y1="0" y2="0"><stop offset="0" stop-color="#00ce5c"/><stop offset=".25" stop-color="#00cd81"/><stop offset=".5" stop-color="#00ca95"/><stop offset="1" stop-color="#00c5a7"/></linearGradient>
<linearGradient id="p73" gradientUnits="userSpaceOnUse" x1="856.2" x2="1695.6" y1="0" y2="0"><stop offset="0" stop-color="#00ce63"/><stop offset=".25" stop-color="#00cc85"/><stop offset=".5" stop-color="#00c997"/><stop offset="1" stop-color="#00c5a8"/></linearGradient>
<linearGradient id="p74" gradientUnits="userSpaceOnUse" x1="854.4" x2="1693.8" y1="0" y2="0"><stop offset="0" stop-color="#00ce6a"/><stop offset=".25" stop-color="#00cc89"/><stop offset=".5" stop-color="#00c89a"/><stop offset="1" stop-color="#00c4a9"/></linearGradient>
<linearGradient id="p75" gradientUnits="userSpaceOnUse" x1="852.6" x2="1692.0" y1="0" y2="0"><stop offset="0" stop-color="#00ce71"/><stop offset=".25" stop-color="#00cb8d"/><stop offset=".5" stop-color="#00c89c"/><stop offset="1" stop-color="#00c4aa"/></linearGradient>
<linearGradient id="p76" gradientUnits="userSpaceOnUse" x1="850.8" x2="1690.2" y1="0" y2="0"><stop offset="0" stop-color="#00cd78"/><stop offset=".25" stop-color="#00ca90"/><stop offset=".5" stop-color="#00c79e"/><stop offset="1" stop-color="#00c4ab"/></linearGradient>
<linearGradient id="p77" gradientUnits="userSpaceOnUse" x1="849.1" x2="1688.5" y1="0" y2="0"><stop offset="0" stop-color="#00cd7e"/><stop offset=".25" stop-color="#00ca94"/><stop offset=".5" stop-color="#00c7a0"/><stop offset="1" stop-color="#00c4ac"/></linearGradient>
<linearGradient id="p78" gradientUnits="userSpaceOnUse" x1="847.3" x2="1686.7" y1="0" y2="0"><stop offset="0" stop-color="#00cc84"/><stop offset=".25" stop-color="#00c998"/><stop offset=".5" stop-color="#00c6a3"/><stop offset="1" stop-color="#00c3ad"/></linearGradient>
<linearGradient id="p79" gradientUnits="userSpaceOnUse" x1="845.5" x2="1684.9" y1="0" y2="0"><stop offset="0" stop-color="#00cc89"/><stop offset=".5" stop-color="#00c6a5"/><stop offset="1" stop-color="#00c3af"/></linearGradient>
<linearGradient id="p80" gradientUnits="userSpaceOnUse" x1="843.7" x2="1683.1" y1="0" y2="0"><stop offset="0" stop-color="#00cb8f"/><stop offset=".5" stop-color="#00c5a7"/><stop offset="1" stop-color="#00c3b0"/></linearGradient>
<linearGradient id="p81" gradientUnits="userSpaceOnUse" x1="841.9" x2="1681.3" y1="0" y2="0"><stop offset="0" stop-color="#00ca94"/><stop offset=".5" stop-color="#00c4a9"/><stop offset="1" stop-color="#00c2b1"/></linearGradient>
<linearGradient id="p82" gradientUnits="userSpaceOnUse" x1="840.1" x2="1679.5" y1="0" y2="0"><stop offset="0" stop-color="#00c999"/><stop offset=".5" stop-color="#00c4ab"/><stop offset="1" stop-color="#00c2b2"/></linearGradient>
<linearGradient id="p83" gradientUnits="userSpaceOnUse" x1="838.3" x2="1677.7" y1="0" y2="0"><stop offset="0" stop-color="#00c79e"/><stop offset=".5" stop-color="#00c3ad"/><stop offset="1" stop-color="#00c2b3"/></linearGradient>
<linearGradient id="p84" gradientUnits="userSpaceOnUse" x1="836.6" x2="1676.0" y1="0" y2="0"><stop offset="0" stop-color="#00c6a3"/><stop offset="1" stop-color="#00c1b4"/></linearGradient>
<linearGradient id="p85" gradientUnits="userSpaceOnUse" x1="834.8" x2="1674.2" y1="0" y2="0"><stop offset="0" stop-color="#00c5a7"/><stop offset="1" stop-color="#00c1b5"/></linearGradient>
<linearGradient id="p86" gradientUnits="userSpaceOnUse" x1="833.0" x2="1672.4" y1="0" y2="0"><stop offset="0" stop-color="#00c4ac"/><stop offset="1" stop-color="#00c1b6"/></linearGradient>
<linearGradient id="p87" gradientUnits="userSpaceOnUse" x1="831.2" x2="1670.6" y1="0" y2="0"><stop offset="0" stop-color="#00c3b0"/><stop offset="1" stop-color="#00c0b7"/></linearGradient>
<linearGradient id="p88" gradientUnits="userSpaceOnUse" x1="829.4" x2="1668.8" y1="0" y2="0"><stop offset="0" stop-color="#00c1b4"/><stop offset="1" stop-color="#00c0b9"/></linearGradient>
<linearGradient id="p89" gradientUnits="userSpaceOnUse" x1="827.6" x2="1667.0" y1="0" y2="0"><stop offset="0" stop-color="#00c0b8"/><stop offset="1" stop-color="#00c0ba"/></linearGradient>
<linearGradient id="p90" gradientUnits="userSpaceOnUse" x1="825.8" x2="1665.2" y1="0" y2="0"><stop offset="0" stop-color="#00bfbc"/><stop offset="1" stop-color="#00bfbb"/></linearGradient>
<linearGradient id="p91" gradientUnits="userSpaceOnUse" x1="824.1" x2="1663.5" y1="0" y2="0"><stop offset="0" stop-color="#00bec0"/><stop offset="1" stop-color="#00bfbc"/></linearGradient>
<linearGradient id="p92" gradientUnits="userSpaceOnUse" x1="822.3" x2="1661.7" y1="0" y2="0"><stop offset="0" stop-color="#00bcc4"/><stop offset="1" stop-color="#00bfbd"/></linearGradient>
<linearGradient id="p93" gradientUnits="userSpaceOnUse" x1="820.5" x2="1659.9" y1="0" y2="0"><stop offset="0" stop-color="#00bbc8"/><stop offset="1" stop-color="#00bebe"/></linearGradient>
<linearGradient id="p94" gradientUnits="userSpaceOnUse" x1="818.7" x2="1658.1" y1="0" y2="0"><stop offset="0" stop-color="#00b9cb"/><stop offset="1" stop-color="#00bebf"/></linearGradient>
<linearGradient id="p95" gradientUnits="userSpaceOnUse" x1="816.9" x2="1656.3" y1="0" y2="0"><stop offset="0" stop-color="#00b8cf"/><stop offset="1" stop-color="#00bec0"/></linearGradient>
<linearGradient id="p96" gradientUnits="userSpaceOnUse" x1="815.1" x2="1654.5" y1="0" y2="0"><stop offset="0" stop-color="#00b6d2"/><stop offset="1" stop-color="#00bdc1"/></linearGradient>
<linearGradient id="p97" gradientUnits="userSpaceOnUse" x1="813.3" x2="1652.7" y1="0" y2="0"><stop offset="0" stop-color="#00b4d6"/><stop offset="1" stop-color="#00bdc2"/></linearGradient>
<linearGradient id="p98" gradientUnits="userSpaceOnUse" x1="811.5" x2="1650.9" y1="0" y2="0"><stop offset="0" stop-color="#00b2d9"/><stop offset=".5" stop-color="#00baca"/><stop offset="1" stop-color="#00bdc3"/></linearGradient>
<linearGradient id="p99" gradientUnits="userSpaceOnUse" x1="809.8" x2="1649.2" y1="0" y2="0"><stop offset="0" stop-color="#00b0dc"/><stop offset=".5" stop-color="#00b9cc"/><stop offset="1" stop-color="#00bcc4"/></linearGradient>
<linearGradient id="p100" gradientUnits="userSpaceOnUse" x1="808.0" x2="1647.4" y1="0" y2="0"><stop offset="0" stop-color="#00aedf"/><stop offset=".5" stop-color="#00b8ce"/><stop offset="1" stop-color="#00bcc5"/></linearGradient>
<linearGradient id="p101" gradientUnits="userSpaceOnUse" x1="806.2" x2="1645.6" y1="0" y2="0"><stop offset="0" stop-color="#00ace1"/><stop offset=".5" stop-color="#00b8cf"/><stop offset="1" stop-color="#00bbc6"/></linearGradient>
<linearGradient id="p102" gradientUnits="userSpaceOnUse" x1="804.4" x2="1643.8" y1="0" y2="0"><stop offset="0" stop-color="#00aae3"/><stop offset=".5" stop-color="#00b7d1"/><stop offset="1" stop-color="#00bbc7"/></linearGradient>
<linearGradient id="p103" gradientUnits="userSpaceOnUse" x1="802.6" x2="1642.0" y1="0" y2="0"><stop offset="0" stop-color="#00a7e5"/><stop offset=".5" stop-color="#00b6d3"/><stop offset="1" stop-color="#00bbc8"/></linearGradient>
<linearGradient id="p104" gradientUnits="userSpaceOnUse" x1="800.8" x2="1640.2" y1="0" y2="0"><stop offset="0" stop-color="#00a5e6"/><stop offset=".5" stop-color="#00b5d4"/><stop offset="1" stop-color="#00bac9"/></linearGradient>
<linearGradient id="p105" gradientUnits="userSpaceOnUse" x1="799.0" x2="1638.4" y1="0" y2="0"><stop offset="0" stop-color="#00a2e7"/><stop offset=".5" stop-color="#00b4d6"/><stop offset="1" stop-color="#00baca"/></linearGradient>
<linearGradient id="p106" gradientUnits="userSpaceOnUse" x1="797.3" x2="1636.7" y1="0" y2="0"><stop offset="0" stop-color="#00a0e9"/><stop offset=".5" stop-color="#00b3d7"/><stop offset="1" stop-color="#00b9cb"/></linearGradient>
<linearGradient id="p107" gradientUnits="userSpaceOnUse" x1="795.5" x2="1634.9" y1="0" y2="0"><stop offset="0" stop-color="#009dea"/><stop offset=".5" stop-color="#00b2d9"/><stop offset="1" stop-color="#00b9cc"/></linearGradient>
<linearGradient id="p108" gradientUnits="userSpaceOnUse" x1="793.7" x2="1633.1" y1="0" y2="0"><stop offset="0" stop-color="#009bec"/><stop offset=".5" stop-color="#00b1da"/><stop offset="1" stop-color="#00b9cd"/></linearGradient>
<linearGradient id="p109" gradientUnits="userSpaceOnUse" x1="791.9" x2="1631.3" y1="0" y2="0"><stop offset="0" stop-color="#0098ee"/><stop offset=".5" stop-color="#00b0dc"/><stop offset="1" stop-color="#00b8ce"/></linearGradient>
<linearGradient id="p110" gradientUnits="userSpaceOnUse" x1="790.1" x2="1629.5" y1="0" y2="0"><stop offset="0" stop-color="#0096f0"/><stop offset=".5" stop-color="#00b0dd"/><stop offset="1" stop-color="#00b8cf"/></linearGradient>
<linearGradient id="p111" gradientUnits="userSpaceOnUse" x1="788.3" x2="1627.7" y1="0" y2="0"><stop offset="0" stop-color="#0093f2"/><stop offset=".5" stop-color="#00afde"/><stop offset="1" stop-color="#00b7d0"/></linearGradient>
<linearGradient id="p112" gradientUnits="userSpaceOnUse" x1="786.5" x2="1625.9" y1="0" y2="0"><stop offset="0" stop-color="#0090f4"/><stop offset=".5" stop-color="#00addf"/><stop offset="1" stop-color="#00b7d1"/></linearGradient>
<linearGradient id="p113" gradientUnits="userSpaceOnUse" x1="784.8" x2="1624.2" y1="0" y2="0"><stop offset="0" stop-color="#008ef6"/><stop offset=".25" stop-color="#00a1e8"/><stop offset=".5" stop-color="#00ace0"/><stop offset="1" stop-color="#00b6d2"/></linearGradient>
<linearGradient id="p114" gradientUnits="userSpaceOnUse" x1="783.0" x2="1622.4" y1="0" y2="0"><stop offset="0" stop-color="#008bf8"/><stop offset=".25" stop-color="#00a0e9"/><stop offset=".5" stop-color="#00abe1"/><stop offset="1" stop-color="#00b6d3"/></linearGradient>
<linearGradient id="p115" gradientUnits="userSpaceOnUse" x1="781.2" x2="1620.6" y1="0" y2="0"><stop offset="0" stop-color="#0088fa"/><stop offset=".25" stop-color="#009eea"/><stop offset=".5" stop-color="#00aae2"/><stop offset="1" stop-color="#00b6d3"/></linearGradient>
<linearGradient id="p116" gradientUnits="userSpaceOnUse" x1="779.4" x2="1618.8" y1="0" y2="0"><stop offset="0" stop-color="#0086fc"/><stop offset=".25" stop-color="#009ceb"/><stop offset=".5" stop-color="#00a9e3"/><stop offset="1" stop-color="#00b5d4"/></linearGradient>
<linearGradient id="p117" gradientUnits="userSpaceOnUse" x1="777.6" x2="1617.0" y1="0" y2="0"><stop offset="0" stop-color="#0083fd"/><stop offset=".25" stop-color="#009bec"/><stop offset=".5" stop-color="#00a8e4"/><stop offset="1" stop-color="#00b5d5"/></linearGradient>
<linearGradient id="p118" gradientUnits="userSpaceOnUse" x1="775.8" x2="1615.2" y1="0" y2="0"><stop offset="0" stop-color="#0080ff"/><stop offset=".25" stop-color="#0099ed"/><stop offset=".5" stop-color="#00a7e5"/><stop offset="1" stop-color="#00b4d6"/></linearGradient>
<linearGradient id="p119" gradientUnits="userSpaceOnUse" x1="774.0" x2="1613.4" y1="0" y2="0"><stop offset="0" stop-color="#007dff"/><stop offset=".25" stop-color="#0098ef"/><stop offset=".5" stop-color="#00a6e6"/><stop offset="1" stop-color="#00b4d7"/></linearGradient>
<linearGradient id="p120" gradientUnits="userSpaceOnUse" x1="772.2" x2="1611.7" y1="0" y2="0"><stop offset="0" stop-color="#007aff"/><stop offset=".25" stop-color="#0096f0"/><stop offset=".5" stop-color="#00a5e6"/><stop offset="1" stop-color="#00b3d7"/></linearGradient>
<linearGradient id="p121" gradientUnits="userSpaceOnUse" x1="770.5" x2="1609.9" y1="0" y2="0"><stop offset="0" stop-color="#0077ff"/><stop offset=".25" stop-color="#0094f1"/><stop offset=".5" stop-color="#00a4e7"/><stop offset="1" stop-color="#00b3d8"/></linearGradient>
<linearGradient id="p122" gradientUnits="userSpaceOnUse" x1="768.7" x2="1608.1" y1="0" y2="0"><stop offset="0" stop-color="#0074ff"/><stop offset=".25" stop-color="#0093f2"/><stop offset=".5" stop-color="#00a3e7"/><stop offset="1" stop-color="#00b2d9"/></linearGradient>
<linearGradient id="p123" gradientUnits="userSpaceOnUse" x1="766.9" x2="1606.3" y1="0" y2="0"><stop offset="0" stop-color="#0071ff"/><stop offset=".25" stop-color="#0091f4"/><stop offset=".5" stop-color="#00a2e8"/><stop offset="1" stop-color="#00b2da"/></linearGradient>
<linearGradient id="p124" gradientUnits="userSpaceOnUse" x1="765.1" x2="1604.5" y1="0" y2="0"><stop offset="0" stop-color="#076eff"/><stop offset=".016" stop-color="#0071ff"/><stop offset=".031" stop-color="#0074ff"/><stop offset=".062" stop-color="#0079ff"/><stop offset=".125" stop-color="#0082fe"/><stop offset=".25" stop-color="#008ff5"/><stop offset=".5" stop-color="#00a1e8"/><stop offset="1" stop-color="#00b1da"/></linearGradient>
<linearGradient id="p125" gradientUnits="userSpaceOnUse" x1="763.3" x2="1602.7" y1="0" y2="0"><stop offset="0" stop-color="#196cff"/><stop offset=".016" stop-color="#086eff"/><stop offset=".031" stop-color="#0071ff"/><stop offset=".062" stop-color="#0076ff"/><stop offset=".125" stop-color="#0080ff"/><stop offset=".25" stop-color="#008ef6"/><stop offset=".5" stop-color="#00a0e9"/><stop offset="1" stop-color="#00b1db"/></linearGradient>
<linearGradient id="p126" gradientUnits="userSpaceOnUse" x1="761.5" x2="1600.9" y1="0" y2="0"><stop offset="0" stop-color="#2369ff"/><stop offset=".031" stop-color="#086eff"/><stop offset=".047" stop-color="#0071ff"/><stop offset=".062" stop-color="#0074ff"/><stop offset=".125" stop-color="#007dff"/><stop offset=".25" stop-color="#008cf8"/><stop offset=".5" stop-color="#009fea"/><stop offset="1" stop-color="#00b0dc"/></linearGradient>
<linearGradient id="p127" gradientUnits="userSpaceOnUse" x1="759.7" x2="1599.1" y1="0" y2="0"><stop offset="0" stop-color="#2966ff"/><stop offset=".062" stop-color="#0071ff"/><stop offset=".125" stop-color="#007bff"/><stop offset=".25" stop-color="#008af9"/><stop offset=".5" stop-color="#009eea"/><stop offset="1" stop-color="#00b0dc"/></linearGradient>
<linearGradient id="p128" gradientUnits="userSpaceOnUse" x1="758.0" x2="1597.4" y1="0" y2="0"><stop offset="0" stop-color="#2f63ff"/><stop offset=".031" stop-color="#2269ff"/><stop offset=".062" stop-color="#066fff"/><stop offset=".078" stop-color="#0071ff"/><stop offset=".094" stop-color="#0074ff"/><stop offset=".125" stop-color="#0079ff"/><stop offset=".25" stop-color="#0089fa"/><stop offset=".5" stop-color="#009deb"/><stop offset="1" stop-color="#00b0dd"/></linearGradient>
<linearGradient id="p129" gradientUnits="userSpaceOnUse" x1="756.2" x2="1595.6" y1="0" y2="0"><stop offset="0" stop-color="#3361ff"/><stop offset=".031" stop-color="#2867ff"/><stop offset=".062" stop-color="#166cff"/><stop offset=".078" stop-color="#036fff"/><stop offset=".094" stop-color="#0071ff"/><stop offset=".125" stop-color="#0077ff"/><stop offset=".25" stop-color="#0087fb"/><stop offset=".5" stop-color="#009cec"/><stop offset="1" stop-color="#00afde"/></linearGradient>
<linearGradient id="p130" gradientUnits="userSpaceOnUse" x1="754.4" x2="1593.8" y1="0" y2="0"><stop offset="0" stop-color="#365eff"/><stop offset=".062" stop-color="#206aff"/><stop offset=".078" stop-color="#156cff"/><stop offset=".094" stop-color="#016fff"/><stop offset=".125" stop-color="#0074ff"/><stop offset=".25" stop-color="#0085fc"/><stop offset=".5" stop-color="#009bec"/><stop offset="1" stop-color="#00afde"/></linearGradient>
<linearGradient id="p131" gradientUnits="userSpaceOnUse" x1="752.6" x2="1592.0" y1="0" y2="0"><stop offset="0" stop-color="#395cfe"/><stop offset=".062" stop-color="#2667ff"/><stop offset=".094" stop-color="#126dff"/><stop offset=".109" stop-color="#006fff"/><stop offset=".125" stop-color="#0072ff"/><stop offset=".25" stop-color="#0084fd"/><stop offset=".5" stop-color="#009aed"/><stop offset="1" stop-color="#00aedf"/></linearGradient>
<linearGradient id="p132" gradientUnits="userSpaceOnUse" x1="750.8" x2="1590.2" y1="0" y2="0"><stop offset="0" stop-color="#3b59fd"/><stop offset=".062" stop-color="#2b65ff"/><stop offset=".094" stop-color="#1d6bff"/><stop offset=".125" stop-color="#0070ff"/><stop offset=".25" stop-color="#0082fe"/><stop offset=".5" stop-color="#0099ee"/><stop offset="1" stop-color="#00aedf"/></linearGradient>
<linearGradient id="p133" gradientUnits="userSpaceOnUse" x1="749.0" x2="1588.4" y1="0" y2="0"><stop offset="0" stop-color="#3d57fc"/><stop offset=".062" stop-color="#3063ff"/><stop offset=".094" stop-color="#2469ff"/><stop offset=".125" stop-color="#0c6eff"/><stop offset=".141" stop-color="#0070ff"/><stop offset=".156" stop-color="#0073ff"/><stop offset=".188" stop-color="#0078ff"/><stop offset=".25" stop-color="#0081fe"/><stop offset=".5" stop-color="#0098ef"/><stop offset="1" stop-color="#00ade0"/></linearGradient>
<linearGradient id="p134" gradientUnits="userSpaceOnUse" x1="747.2" x2="1586.6" y1="0" y2="0"><stop offset="0" stop-color="#3f55fb"/><stop offset=".062" stop-color="#3361ff"/><stop offset=".125" stop-color="#186cff"/><stop offset=".141" stop-color="#076eff"/><stop offset=".156" stop-color="#0071ff"/><stop offset=".188" stop-color="#0076ff"/><stop offset=".25" stop-color="#007fff"/><stop offset=".5" stop-color="#0097ef"/><stop offset="1" stop-color="#00ade0"/></linearGradient>
<linearGradient id="p135" gradientUnits="userSpaceOnUse" x1="745.5" x2="1584.9" y1="0" y2="0"><stop offset="0" stop-color="#4052f9"/><stop offset=".062" stop-color="#365fff"/><stop offset=".125" stop-color="#206aff"/><stop offset=".141" stop-color="#156cff"/><stop offset=".156" stop-color="#016fff"/><stop offset=".188" stop-color="#0074ff"/><stop offset=".25" stop-color="#007dff"/><stop offset=".5" stop-color="#0096f0"/><stop offset="1" stop-color="#00ace0"/></linearGradient>
<linearGradient id="p136" gradientUnits="userSpaceOnUse" x1="743.7" x2="1583.1" y1="0" y2="0"><stop offset="0" stop-color="#4250f8"/><stop offset=".062" stop-color="#385dff"/><stop offset=".125" stop-color="#2568ff"/><stop offset=".156" stop-color="#116dff"/><stop offset=".172" stop-color="#0070ff"/><stop offset=".188" stop-color="#0072ff"/><stop offset=".25" stop-color="#007cff"/><stop offset=".5" stop-color="#0095f1"/><stop offset="1" stop-color="#00ace1"/></linearGradient>
<linearGradient id="p137" gradientUnits="userSpaceOnUse" x1="741.9" x2="1581.3" y1="0" y2="0"><stop offset="0" stop-color="#434ef6"/><stop offset=".125" stop-color="#2a66ff"/><stop offset=".156" stop-color="#1a6bff"/><stop offset=".172" stop-color="#0b6eff"/><stop offset=".188" stop-color="#0070ff"/><stop offset=".25" stop-color="#007aff"/><stop offset=".5" stop-color="#0094f1"/><stop offset="1" stop-color="#00ace1"/></linearGradient>
<linearGradient id="p138" gradientUnits="userSpaceOnUse" x1="740.1" x2="1579.5" y1="0" y2="0"><stop offset="0" stop-color="#444cf5"/><stop offset=".125" stop-color="#2e64ff"/><stop offset=".156" stop-color="#216aff"/><stop offset=".188" stop-color="#046fff"/><stop offset=".25" stop-color="#0079ff"/><stop offset=".5" stop-color="#0093f2"/><stop offset="1" stop-color="#00abe2"/></linearGradient>
<linearGradient id="p139" gradientUnits="userSpaceOnUse" x1="738.3" x2="1577.7" y1="0" y2="0"><stop offset="0" stop-color="#4549f3"/><stop offset=".125" stop-color="#3162ff"/><stop offset=".156" stop-color="#2668ff"/><stop offset=".188" stop-color="#126dff"/><stop offset=".203" stop-color="#0070ff"/><stop offset=".219" stop-color="#0072ff"/><stop offset=".25" stop-color="#0077ff"/><stop offset=".5" stop-color="#0092f3"/><stop offset="1" stop-color="#00abe2"/></linearGradient>
<linearGradient id="p140" gradientUnits="userSpaceOnUse" x1="736.5" x2="1575.9" y1="0" y2="0"><stop offset="0" stop-color="#4547f1"/><stop offset=".125" stop-color="#3361ff"/><stop offset=".188" stop-color="#1a6bff"/><stop offset=".203" stop-color="#0b6eff"/><stop offset=".219" stop-color="#0070ff"/><stop offset=".25" stop-color="#0075ff"/><stop offset=".5" stop-color="#0091f3"/><stop offset="1" stop-color="#00aae3"/></linearGradient>
<linearGradient id="p141" gradientUnits="userSpaceOnUse" x1="734.7" x2="1574.1" y1="0" y2="0"><stop offset="0" stop-color="#4645f0"/><stop offset=".125" stop-color="#355fff"/><stop offset=".188" stop-color="#216aff"/><stop offset=".219" stop-color="#036fff"/><stop offset=".25" stop-color="#0074ff"/><stop offset=".5" stop-color="#0090f4"/><stop offset="1" stop-color="#00aae3"/></linearGradient>
<linearGradient id="p142" gradientUnits="userSpaceOnUse" x1="733.0" x2="1572.4" y1="0" y2="0"><stop offset="0" stop-color="#4743ee"/><stop offset=".125" stop-color="#375dff"/><stop offset=".188" stop-color="#2568ff"/><stop offset=".219" stop-color="#106dff"/><stop offset=".234" stop-color="#0070ff"/><stop offset=".25" stop-color="#0072ff"/><stop offset=".5" stop-color="#008ff5"/><stop offset="1" stop-color="#00a9e3"/></linearGradient>
<linearGradient id="p143" gradientUnits="userSpaceOnUse" x1="731.2" x2="1570.6" y1="0" y2="0"><stop offset="0" stop-color="#4741ec"/><stop offset=".125" stop-color="#395bfe"/><stop offset=".188" stop-color="#2867ff"/><stop offset=".25" stop-color="#0071ff"/><stop offset=".5" stop-color="#008ff6"/><stop offset="1" stop-color="#00a9e3"/></linearGradient>
<linearGradient id="p144" gradientUnits="userSpaceOnUse" x1="729.4" x2="1568.8" y1="0" y2="0"><stop offset="0" stop-color="#483fea"/><stop offset=".125" stop-color="#3b5afd"/><stop offset=".188" stop-color="#2c65ff"/><stop offset=".219" stop-color="#1e6aff"/><stop offset=".25" stop-color="#006fff"/><stop offset=".5" stop-color="#008ef6"/><stop offset="1" stop-color="#00a9e4"/></linearGradient>
<linearGradient id="p145" gradientUnits="userSpaceOnUse" x1="727.6" x2="1567.0" y1="0" y2="0"><stop offset="0" stop-color="#483de8"/><stop offset=".125" stop-color="#3c58fd"/><stop offset=".188" stop-color="#2e64ff"/><stop offset=".219" stop-color="#2369ff"/><stop offset=".25" stop-color="#0a6eff"/><stop offset=".266" stop-color="#0071ff"/><stop offset=".281" stop-color="#0073ff"/><stop offset=".312" stop-color="#0078ff"/><stop offset=".375" stop-color="#0080ff"/><stop offset=".5" stop-color="#008df7"/><stop offset="1" stop-color="#00a8e4"/></linearGradient>
<linearGradient id="p146" gradientUnits="userSpaceOnUse" x1="725.8" x2="1565.2" y1="0" y2="0"><stop offset="0" stop-color="#483be5"/><stop offset=".125" stop-color="#3d57fc"/><stop offset=".188" stop-color="#3162ff"/><stop offset=".219" stop-color="#2668ff"/><stop offset=".25" stop-color="#136dff"/><stop offset=".266" stop-color="#006fff"/><stop offset=".281" stop-color="#0072ff"/><stop offset=".312" stop-color="#0076ff"/><stop offset=".375" stop-color="#007fff"/><stop offset=".5" stop-color="#008cf7"/><stop offset="1" stop-color="#00a8e4"/></linearGradient>
<linearGradient id="p147" gradientUnits="userSpaceOnUse" x1="724.0" x2="1563.4" y1="0" y2="0"><stop offset="0" stop-color="#4839e3"/><stop offset=".125" stop-color="#3e55fb"/><stop offset=".188" stop-color="#3361ff"/><stop offset=".25" stop-color="#1a6bff"/><stop offset=".266" stop-color="#0b6eff"/><stop offset=".281" stop-color="#0070ff"/><stop offset=".312" stop-color="#0075ff"/><stop offset=".375" stop-color="#007eff"/><stop offset=".5" stop-color="#008bf8"/><stop offset="1" stop-color="#00a7e5"/></linearGradient>
<linearGradient id="p148" gradientUnits="userSpaceOnUse" x1="722.2" x2="1561.6" y1="0" y2="0"><stop offset="0" stop-color="#4838e1"/><stop offset=".125" stop-color="#3f54fa"/><stop offset=".188" stop-color="#3460ff"/><stop offset=".25" stop-color="#1f6aff"/><stop offset=".281" stop-color="#006fff"/><stop offset=".312" stop-color="#0074ff"/><stop offset=".375" stop-color="#007dff"/><stop offset=".5" stop-color="#008af9"/><stop offset="1" stop-color="#00a7e5"/></linearGradient>
<linearGradient id="p149" gradientUnits="userSpaceOnUse" x1="720.4" x2="1559.8" y1="0" y2="0"><stop offset="0" stop-color="#4836de"/><stop offset=".125" stop-color="#4053f9"/><stop offset=".188" stop-color="#365eff"/><stop offset=".25" stop-color="#2369ff"/><stop offset=".281" stop-color="#0b6eff"/><stop offset=".297" stop-color="#0070ff"/><stop offset=".312" stop-color="#0073ff"/><stop offset=".375" stop-color="#007cff"/><stop offset=".5" stop-color="#008af9"/><stop offset="1" stop-color="#00a7e5"/></linearGradient>
<linearGradient id="p150" gradientUnits="userSpaceOnUse" x1="718.7" x2="1558.1" y1="0" y2="0"><stop offset="0" stop-color="#4835dc"/><stop offset=".125" stop-color="#4151f9"/><stop offset=".188" stop-color="#385dff"/><stop offset=".25" stop-color="#2668ff"/><stop offset=".281" stop-color="#126dff"/><stop offset=".297" stop-color="#006fff"/><stop offset=".312" stop-color="#0072ff"/><stop offset=".375" stop-color="#007bff"/><stop offset=".5" stop-color="#0089fa"/><stop offset="1" stop-color="#00a6e5"/></linearGradient>
<linearGradient id="p151" gradientUnits="userSpaceOnUse" x1="716.9" x2="1556.3" y1="0" y2="0"><stop offset="0" stop-color="#4833d9"/><stop offset=".062" stop-color="#4742ed"/><stop offset=".125" stop-color="#4250f8"/><stop offset=".25" stop-color="#2867ff"/><stop offset=".281" stop-color="#186cff"/><stop offset=".297" stop-color="#086eff"/><stop offset=".312" stop-color="#0071ff"/><stop offset=".375" stop-color="#007aff"/><stop offset=".5" stop-color="#0088fa"/><stop offset="1" stop-color="#00a6e6"/></linearGradient>
<linearGradient id="p152" gradientUnits="userSpaceOnUse" x1="715.1" x2="1554.5" y1="0" y2="0"><stop offset="0" stop-color="#4832d7"/><stop offset=".062" stop-color="#4741eb"/><stop offset=".125" stop-color="#424ff7"/><stop offset=".25" stop-color="#2b66ff"/><stop offset=".281" stop-color="#1d6bff"/><stop offset=".312" stop-color="#0070ff"/><stop offset=".375" stop-color="#0079ff"/><stop offset=".5" stop-color="#0088fb"/><stop offset="1" stop-color="#00a6e6"/></linearGradient>
<linearGradient id="p153" gradientUnits="userSpaceOnUse" x1="713.3" x2="1552.7" y1="0" y2="0"><stop offset="0" stop-color="#4831d4"/><stop offset=".062" stop-color="#483fea"/><stop offset=".125" stop-color="#434df6"/><stop offset=".25" stop-color="#2d65ff"/><stop offset=".281" stop-color="#216aff"/><stop offset=".312" stop-color="#056fff"/><stop offset=".375" stop-color="#0078ff"/><stop offset=".5" stop-color="#0087fb"/><stop offset="1" stop-color="#00a5e6"/></linearGradient>
<linearGradient id="p154" gradientUnits="userSpaceOnUse" x1="711.5" x2="1550.9" y1="0" y2="0"><stop offset="0" stop-color="#4830d2"/><stop offset=".062" stop-color="#483ee9"/><stop offset=".125" stop-color="#444cf5"/><stop offset=".25" stop-color="#2f63ff"/><stop offset=".281" stop-color="#2369ff"/><stop offset=".312" stop-color="#0d6eff"/><stop offset=".328" stop-color="#0070ff"/><stop offset=".344" stop-color="#0072ff"/><stop offset=".375" stop-color="#0077ff"/><stop offset=".5" stop-color="#0086fc"/><stop offset="1" stop-color="#00a5e6"/></linearGradient>
<linearGradient id="p155" gradientUnits="userSpaceOnUse" x1="709.7" x2="1549.1" y1="0" y2="0"><stop offset="0" stop-color="#472fcf"/><stop offset=".062" stop-color="#483de7"/><stop offset=".125" stop-color="#444bf4"/><stop offset=".25" stop-color="#3063ff"/><stop offset=".281" stop-color="#2668ff"/><stop offset=".312" stop-color="#136dff"/><stop offset=".328" stop-color="#006fff"/><stop offset=".344" stop-color="#0072ff"/><stop offset=".375" stop-color="#0076ff"/><stop offset=".5" stop-color="#0086fc"/><stop offset="1" stop-color="#00a5e6"/></linearGradient>
<linearGradient id="p156" gradientUnits="userSpaceOnUse" x1="707.9" x2="1547.3" y1="0" y2="0"><stop offset="0" stop-color="#472ecc"/><stop offset=".062" stop-color="#483be6"/><stop offset=".125" stop-color="#454af3"/><stop offset=".25" stop-color="#3262ff"/><stop offset=".312" stop-color="#186cff"/><stop offset=".328" stop-color="#086eff"/><stop offset=".344" stop-color="#0071ff"/><stop offset=".375" stop-color="#0075ff"/><stop offset=".5" stop-color="#0085fc"/><stop offset="1" stop-color="#00a5e6"/></linearGradient>
<linearGradient id="p157" gradientUnits="userSpaceOnUse" x1="706.2" x2="1545.6" y1="0" y2="0"><stop offset="0" stop-color="#472dca"/><stop offset=".062" stop-color="#483ae4"/><stop offset=".125" stop-color="#4549f3"/><stop offset=".25" stop-color="#3361ff"/><stop offset=".312" stop-color="#1c6bff"/><stop offset=".344" stop-color="#0070ff"/><stop offset=".375" stop-color="#0075ff"/><stop offset=".5" stop-color="#0084fd"/><stop offset=".75" stop-color="#0098ee"/><stop offset="1" stop-color="#00a4e6"/></linearGradient>
<linearGradient id="p158" gradientUnits="userSpaceOnUse" x1="704.4" x2="1543.8" y1="0" y2="0"><stop offset="0" stop-color="#472cc8"/><stop offset=".062" stop-color="#4839e3"/><stop offset=".125" stop-color="#4548f2"/><stop offset=".25" stop-color="#3460ff"/><stop offset=".312" stop-color="#1f6aff"/><stop offset=".344" stop-color="#016fff"/><stop offset=".375" stop-color="#0074ff"/><stop offset=".5" stop-color="#0084fd"/><stop offset=".75" stop-color="#0098ee"/><stop offset="1" stop-color="#00a4e7"/></linearGradient>
<linearGradient id="p159" gradientUnits="userSpaceOnUse" x1="702.6" x2="1542.0" y1="0" y2="0"><stop offset="0" stop-color="#462bc5"/><stop offset=".062" stop-color="#4838e1"/><stop offset=".125" stop-color="#4647f1"/><stop offset=".25" stop-color="#355fff"/><stop offset=".312" stop-color="#2269ff"/><stop offset=".344" stop-color="#086eff"/><stop offset=".359" stop-color="#0071ff"/><stop offset=".375" stop-color="#0073ff"/><stop offset=".5" stop-color="#0083fd"/><stop offset=".75" stop-color="#0098ef"/><stop offset="1" stop-color="#00a4e7"/></linearGradient>
<linearGradient id="p160" gradientUnits="userSpaceOnUse" x1="700.8" x2="1540.2" y1="0" y2="0"><stop offset="0" stop-color="#462ac3"/><stop offset=".062" stop-color="#4837e0"/><stop offset=".125" stop-color="#4646f0"/><stop offset=".25" stop-color="#365eff"/><stop offset=".312" stop-color="#2469ff"/><stop offset=".344" stop-color="#0e6eff"/><stop offset=".359" stop-color="#0070ff"/><stop offset=".375" stop-color="#0072ff"/><stop offset=".5" stop-color="#0083fd"/><stop offset=".75" stop-color="#0097ef"/><stop offset="1" stop-color="#00a4e7"/></linearGradient>
<linearGradient id="p161" gradientUnits="userSpaceOnUse" x1="699.0" x2="1538.4" y1="0" y2="0"><stop offset="0" stop-color="#4629c1"/><stop offset=".062" stop-color="#4836de"/><stop offset=".125" stop-color="#4645ef"/><stop offset=".25" stop-color="#375dff"/><stop offset=".312" stop-color="#2568ff"/><stop offset=".344" stop-color="#126dff"/><stop offset=".359" stop-color="#006fff"/><stop offset=".375" stop-color="#0072ff"/><stop offset=".5" stop-color="#0082fe"/><stop offset=".75" stop-color="#0097ef"/><stop offset="1" stop-color="#00a3e7"/></linearGradient>
<linearGradient id="p162" gradientUnits="userSpaceOnUse" x1="697.2" x2="1536.6" y1="0" y2="0"><stop offset="0" stop-color="#4528bf"/><stop offset=".062" stop-color="#4835dd"/><stop offset=".125" stop-color="#4644ee"/><stop offset=".25" stop-color="#385dff"/><stop offset=".312" stop-color="#2767ff"/><stop offset=".344" stop-color="#166cff"/><stop offset=".359" stop-color="#056fff"/><stop offset=".375" stop-color="#0071ff"/><stop offset=".5" stop-color="#0082fe"/><stop offset=".75" stop-color="#0097ef"/><stop offset="1" stop-color="#00a3e7"/></linearGradient>
<linearGradient id="p163" gradientUnits="userSpaceOnUse" x1="695.4" x2="1534.8" y1="0" y2="0"><stop offset="0" stop-color="#4527bd"/><stop offset=".062" stop-color="#4835dc"/><stop offset=".125" stop-color="#4743ee"/><stop offset=".25" stop-color="#385cfe"/><stop offset=".312" stop-color="#2867ff"/><stop offset=".344" stop-color="#196cff"/><stop offset=".359" stop-color="#0a6eff"/><stop offset=".375" stop-color="#0070ff"/><stop offset=".5" stop-color="#0081fe"/><stop offset=".75" stop-color="#0096f0"/><stop offset="1" stop-color="#00a3e7"/></linearGradient>
<linearGradient id="p164" gradientUnits="userSpaceOnUse" x1="693.7" x2="1533.1" y1="0" y2="0"><stop offset="0" stop-color="#4527bc"/><stop offset=".062" stop-color="#4834da"/><stop offset=".125" stop-color="#4742ed"/><stop offset=".25" stop-color="#395bfe"/><stop offset=".312" stop-color="#2a66ff"/><stop offset=".344" stop-color="#1b6bff"/><stop offset=".375" stop-color="#0070ff"/><stop offset=".5" stop-color="#0081fe"/><stop offset=".75" stop-color="#0096f0"/><stop offset="1" stop-color="#00a3e7"/></linearGradient>
<linearGradient id="p165" gradientUnits="userSpaceOnUse" x1="691.9" x2="1531.3" y1="0" y2="0"><stop offset="0" stop-color="#4526ba"/><stop offset=".062" stop-color="#4833d9"/><stop offset=".125" stop-color="#4741ec"/><stop offset=".25" stop-color="#3a5bfe"/><stop offset=".312" stop-color="#2b66ff"/><stop offset=".344" stop-color="#1e6bff"/><stop offset=".375" stop-color="#006fff"/><stop offset=".5" stop-color="#0080fe"/><stop offset=".75" stop-color="#0096f0"/><stop offset="1" stop-color="#00a2e7"/></linearGradient>
<linearGradient id="p166" gradientUnits="userSpaceOnUse" x1="690.1" x2="1529.5" y1="0" y2="0"><stop offset="0" stop-color="#4525b8"/><stop offset=".062" stop-color="#4833d8"/><stop offset=".125" stop-color="#4741ec"/><stop offset=".25" stop-color="#3a5afe"/><stop offset=".312" stop-color="#2c65ff"/><stop offset=".344" stop-color="#1f6aff"/><stop offset=".375" stop-color="#036fff"/><stop offset=".5" stop-color="#0080ff"/><stop offset=".75" stop-color="#0096f0"/><stop offset="1" stop-color="#00a2e8"/></linearGradient>
<linearGradient id="p167" gradientUnits="userSpaceOnUse" x1="688.3" x2="1527.7" y1="0" y2="0"><stop offset="0" stop-color="#4425b7"/><stop offset=".062" stop-color="#4832d6"/><stop offset=".125" stop-color="#4740eb"/><stop offset=".25" stop-color="#3b5afd"/><stop offset=".312" stop-color="#2d64ff"/><stop offset=".344" stop-color="#216aff"/><stop offset=".375" stop-color="#076eff"/><stop offset=".391" stop-color="#0071ff"/><stop offset=".406" stop-color="#0073ff"/><stop offset=".438" stop-color="#0078ff"/><stop offset=".5" stop-color="#0080ff"/><stop offset=".75" stop-color="#0095f0"/><stop offset="1" stop-color="#00a2e8"/></linearGradient>
<linearGradient id="p168" gradientUnits="userSpaceOnUse" x1="686.5" x2="1525.9" y1="0" y2="0"><stop offset="0" stop-color="#4424b5"/><stop offset=".062" stop-color="#4831d5"/><stop offset=".125" stop-color="#4740ea"/><stop offset=".25" stop-color="#3b59fd"/><stop offset=".312" stop-color="#2e64ff"/><stop offset=".344" stop-color="#2269ff"/><stop offset=".375" stop-color="#0b6eff"/><stop offset=".391" stop-color="#0070ff"/><stop offset=".406" stop-color="#0073ff"/><stop offset=".438" stop-color="#0077ff"/><stop offset=".5" stop-color="#007fff"/><stop offset=".75" stop-color="#0095f0"/><stop offset="1" stop-color="#00a2e8"/></linearGradient>
<linearGradient id="p169" gradientUnits="userSpaceOnUse" x1="684.7" x2="1524.1" y1="0" y2="0"><stop offset="0" stop-color="#4424b4"/><stop offset=".062" stop-color="#4831d4"/><stop offset=".125" stop-color="#483fea"/><stop offset=".25" stop-color="#3c59fd"/><stop offset=".312" stop-color="#2e64ff"/><stop offset=".344" stop-color="#2369ff"/><stop offset=".375" stop-color="#0e6eff"/><stop offset=".391" stop-color="#0070ff"/><stop offset=".406" stop-color="#0072ff"/><stop offset=".438" stop-color="#0077ff"/><stop offset=".5" stop-color="#007fff"/><stop offset=".75" stop-color="#0095f1"/><stop offset="1" stop-color="#00a2e8"/></linearGradient>
<linearGradient id="p170" gradientUnits="userSpaceOnUse" x1="682.9" x2="1522.3" y1="0" y2="0"><stop offset="0" stop-color="#4423b3"/><stop offset=".062" stop-color="#4831d3"/><stop offset=".125" stop-color="#483ee9"/><stop offset=".25" stop-color="#3c58fd"/><stop offset=".312" stop-color="#2f63ff"/><stop offset=".344" stop-color="#2468ff"/><stop offset=".375" stop-color="#106dff"/><stop offset=".391" stop-color="#0070ff"/><stop offset=".406" stop-color="#0072ff"/><stop offset=".438" stop-color="#0076ff"/><stop offset=".5" stop-color="#007fff"/><stop offset=".75" stop-color="#0095f1"/><stop offset="1" stop-color="#00a2e8"/></linearGradient>
<linearGradient id="p171" gradientUnits="userSpaceOnUse" x1="681.2" x2="1520.6" y1="0" y2="0"><stop offset="0" stop-color="#4323b2"/><stop offset=".062" stop-color="#4830d3"/><stop offset=".125" stop-color="#483ee9"/><stop offset=".25" stop-color="#3c58fd"/><stop offset=".312" stop-color="#3063ff"/><stop offset=".344" stop-color="#2568ff"/><stop offset=".375" stop-color="#126dff"/><stop offset=".391" stop-color="#006fff"/><stop offset=".406" stop-color="#0072ff"/><stop offset=".438" stop-color="#0076ff"/><stop offset=".5" stop-color="#007eff"/><stop offset=".75" stop-color="#0095f1"/><stop offset="1" stop-color="#00a2e8"/></linearGradient>
<linearGradient id="p172" gradientUnits="userSpaceOnUse" x1="679.4" x2="1518.8" y1="0" y2="0"><stop offset="0" stop-color="#4323b1"/><stop offset=".062" stop-color="#4830d2"/><stop offset=".125" stop-color="#483ee8"/><stop offset=".25" stop-color="#3d58fc"/><stop offset=".312" stop-color="#3063ff"/><stop offset=".375" stop-color="#146dff"/><stop offset=".391" stop-color="#026fff"/><stop offset=".406" stop-color="#0071ff"/><stop offset=".438" stop-color="#0076ff"/><stop offset=".5" stop-color="#007eff"/><stop offset=".75" stop-color="#0094f1"/><stop offset="1" stop-color="#00a1e8"/></linearGradient>
<linearGradient id="p173" gradientUnits="userSpaceOnUse" x1="677.6" x2="1517.0" y1="0" y2="0"><stop offset="0" stop-color="#4322b0"/><stop offset=".062" stop-color="#4830d1"/><stop offset=".125" stop-color="#483de8"/><stop offset=".25" stop-color="#3d57fc"/><stop offset=".312" stop-color="#3162ff"/><stop offset=".375" stop-color="#156cff"/><stop offset=".391" stop-color="#046fff"/><stop offset=".406" stop-color="#0071ff"/><stop offset=".438" stop-color="#0076ff"/><stop offset=".5" stop-color="#007eff"/><stop offset=".75" stop-color="#0094f1"/><stop offset="1" stop-color="#00a1e8"/></linearGradient>
<linearGradient id="p174" gradientUnits="userSpaceOnUse" x1="675.8" x2="1515.2" y1="0" y2="0"><stop offset="0" stop-color="#4322af"/><stop offset=".062" stop-color="#482fd0"/><stop offset=".125" stop-color="#483de8"/><stop offset=".25" stop-color="#3d57fc"/><stop offset=".312" stop-color="#3162ff"/><stop offset=".375" stop-color="#176cff"/><stop offset=".391" stop-color="#066eff"/><stop offset=".406" stop-color="#0071ff"/><stop offset=".438" stop-color="#0075ff"/><stop offset=".5" stop-color="#007eff"/><stop offset=".75" stop-color="#0094f1"/><stop offset="1" stop-color="#00a1e8"/></linearGradient>
<linearGradient id="p175" gradientUnits="userSpaceOnUse" x1="674.0" x2="1513.4" y1="0" y2="0"><stop offset="0" stop-color="#4322af"/><stop offset=".062" stop-color="#482fd0"/><stop offset=".125" stop-color="#483de7"/><stop offset=".25" stop-color="#3d57fc"/><stop offset=".312" stop-color="#3162ff"/><stop offset=".375" stop-color="#186cff"/><stop offset=".391" stop-color="#086eff"/><stop offset=".406" stop-color="#0071ff"/><stop offset=".438" stop-color="#0075ff"/><stop offset=".5" stop-color="#007eff"/><stop offset=".75" stop-color="#0094f1"/><stop offset="1" stop-color="#00a1e8"/></linearGradient>
<linearGradient id="p176" gradientUnits="userSpaceOnUse" x1="672.2" x2="1511.6" y1="0" y2="0"><stop offset="0" stop-color="#4322ae"/><stop offset=".062" stop-color="#472fd0"/><stop offset=".125" stop-color="#483de7"/><stop offset=".25" stop-color="#3d57fc"/><stop offset=".312" stop-color="#3162ff"/><stop offset=".375" stop-color="#186cff"/><stop offset=".391" stop-color="#096eff"/><stop offset=".406" stop-color="#0070ff"/><stop offset=".438" stop-color="#0075ff"/><stop offset=".5" stop-color="#007dff"/><stop offset=".75" stop-color="#0094f1"/><stop offset="1" stop-color="#00a1e8"/></linearGradient>
<linearGradient id="p177" gradientUnits="userSpaceOnUse" x1="670.4" x2="1509.8" y1="0" y2="0"><stop offset="0" stop-color="#4322ae"/><stop offset=".062" stop-color="#472fcf"/><stop offset=".125" stop-color="#483ce7"/><stop offset=".25" stop-color="#3d57fc"/><stop offset=".312" stop-color="#3262ff"/><stop offset=".375" stop-color="#196cff"/><stop offset=".391" stop-color="#0a6eff"/><stop offset=".406" stop-color="#0070ff"/><stop offset=".438" stop-color="#0075ff"/><stop offset=".5" stop-color="#007dff"/><stop offset=".75" stop-color="#0094f1"/><stop offset="1" stop-color="#00a1e8"/></linearGradient>
<linearGradient id="p178" gradientUnits="userSpaceOnUse" x1="668.6" x2="1508.0" y1="0" y2="0"><stop offset="0" stop-color="#4321ad"/><stop offset=".062" stop-color="#472fcf"/><stop offset=".125" stop-color="#483ce7"/><stop offset=".25" stop-color="#3d57fc"/><stop offset=".312" stop-color="#3261ff"/><stop offset=".375" stop-color="#196cff"/><stop offset=".391" stop-color="#0b6eff"/><stop offset=".406" stop-color="#0070ff"/><stop offset=".438" stop-color="#0075ff"/><stop offset=".5" stop-color="#007dff"/><stop offset=".75" stop-color="#0094f1"/><stop offset="1" stop-color="#00a1e8"/></linearGradient>
<linearGradient id="p179" gradientUnits="userSpaceOnUse" x1="666.9" x2="1506.3" y1="0" y2="0"><stop offset="0" stop-color="#4321ad"/><stop offset=".062" stop-color="#472fcf"/><stop offset=".125" stop-color="#483ce7"/><stop offset=".25" stop-color="#3d57fc"/><stop offset=".312" stop-color="#3261ff"/><stop offset=".375" stop-color="#196cff"/><stop offset=".391" stop-color="#0c6eff"/><stop offset=".406" stop-color="#0070ff"/><stop offset=".438" stop-color="#0075ff"/><stop offset=".5" stop-color="#007dff"/><stop offset=".75" stop-color="#0094f1"/><stop offset="1" stop-color="#00a1e8"/></linearGradient>
<linearGradient id="p180" gradientUnits="userSpaceOnUse" x1="665.1" x2="1504.5" y1="0" y2="0"><stop offset="0" stop-color="#4321ad"/><stop offset=".062" stop-color="#472fcf"/><stop offset=".125" stop-color="#483ce7"/><stop offset=".25" stop-color="#3d57fc"/><stop offset=".312" stop-color="#3261ff"/><stop offset=".375" stop-color="#1a6bff"/><stop offset=".391" stop-color="#0c6eff"/><stop offset=".406" stop-color="#0070ff"/><stop offset=".438" stop-color="#0075ff"/><stop offset=".5" stop-color="#007dff"/><stop offset=".75" stop-color="#0094f1"/><stop offset="1" stop-color="#00a1e8"/></linearGradient>
<linearGradient id="p181" gradientUnits="userSpaceOnUse" x1="663.3" x2="1502.7" y1="0" y2="0"><stop offset="0" stop-color="#4321ad"/><stop offset=".062" stop-color="#472fcf"/><stop offset=".125" stop-color="#483ce7"/><stop offset=".25" stop-color="#3d57fc"/><stop offset=".312" stop-color="#3261ff"/><stop offset=".375" stop-color="#196cff"/><stop offset=".391" stop-color="#0c6eff"/><stop offset=".406" stop-color="#0070ff"/><stop offset=".438" stop-color="#0075ff"/><stop offset=".5" stop-color="#007dff"/><stop offset=".75" stop-color="#0094f1"/><stop offset="1" stop-color="#00a1e8"/></linearGradient>
<linearGradient id="p182" gradientUnits="userSpaceOnUse" x1="661.5" x2="1500.9" y1="0" y2="0"><stop offset="0" stop-color="#4321ad"/><stop offset=".062" stop-color="#472fcf"/><stop offset=".125" stop-color="#483ce7"/><stop offset=".25" stop-color="#3d57fc"/><stop offset=".312" stop-color="#3261ff"/><stop offset=".375" stop-color="#196cff"/><stop offset=".391" stop-color="#0b6eff"/><stop offset=".406" stop-color="#0070ff"/><stop offset=".438" stop-color="#0075ff"/><stop offset=".5" stop-color="#007dff"/><stop offset=".75" stop-color="#0094f1"/><stop offset="1" stop-color="#00a1e8"/></linearGradient>
<linearGradient id="p183" gradientUnits="userSpaceOnUse" x1="659.7" x2="1499.1" y1="0" y2="0"><stop offset="0" stop-color="#4322ae"/><stop offset=".062" stop-color="#472fcf"/><stop offset=".125" stop-color="#483ce7"/><stop offset=".25" stop-color="#3d57fc"/><stop offset=".312" stop-color="#3262ff"/><stop offset=".375" stop-color="#196cff"/><stop offset=".391" stop-color="#0a6eff"/><stop offset=".406" stop-color="#0070ff"/><stop offset=".438" stop-color="#0075ff"/><stop offset=".5" stop-color="#007dff"/><stop offset=".75" stop-color="#0094f1"/><stop offset="1" stop-color="#00a1e8"/></linearGradient>
<linearGradient id="p184" gradientUnits="userSpaceOnUse" x1="657.9" x2="1497.3" y1="0" y2="0"><stop offset="0" stop-color="#4322ae"/><stop offset=".062" stop-color="#472fd0"/><stop offset=".125" stop-color="#483de7"/><stop offset=".25" stop-color="#3d57fc"/><stop offset=".312" stop-color="#3162ff"/><stop offset=".375" stop-color="#186cff"/><stop offset=".391" stop-color="#096eff"/><stop offset=".406" stop-color="#0070ff"/><stop offset=".438" stop-color="#0075ff"/><stop offset=".5" stop-color="#007dff"/><stop offset=".75" stop-color="#0094f1"/><stop offset="1" stop-color="#00a1e8"/></linearGradient>
<linearGradient id="p185" gradientUnits="userSpaceOnUse" x1="656.1" x2="1495.5" y1="0" y2="0"><stop offset="0" stop-color="#4322af"/><stop offset=".062" stop-color="#482fd0"/><stop offset=".125" stop-color="#483de7"/><stop offset=".25" stop-color="#3d57fc"/><stop offset=".312" stop-color="#3162ff"/><stop offset=".375" stop-color="#186cff"/><stop offset=".391" stop-color="#086eff"/><stop offset=".406" stop-color="#0071ff"/><stop offset=".438" stop-color="#0075ff"/><stop offset=".5" stop-color="#007eff"/><stop offset=".75" stop-color="#0094f1"/><stop offset="1" stop-color="#00a1e8"/></linearGradient>
<linearGradient id="p186" gradientUnits="userSpaceOnUse" x1="654.4" x2="1493.8" y1="0" y2="0"><stop offset="0" stop-color="#4322af"/><stop offset=".062" stop-color="#482fd0"/><stop offset=".125" stop-color="#483de8"/><stop offset=".25" stop-color="#3d57fc"/><stop offset=".312" stop-color="#3162ff"/><stop offset=".375" stop-color="#176cff"/><stop offset=".391" stop-color="#066eff"/><stop offset=".406" stop-color="#0071ff"/><stop offset=".438" stop-color="#0075ff"/><stop offset=".5" stop-color="#007eff"/><stop offset=".75" stop-color="#0094f1"/><stop offset="1" stop-color="#00a1e8"/></linearGradient>
<linearGradient id="p187" gradientUnits="userSpaceOnUse" x1="652.6" x2="1492.0" y1="0" y2="0"><stop offset="0" stop-color="#4322b0"/><stop offset=".062" stop-color="#4830d1"/><stop offset=".125" stop-color="#483de8"/><stop offset=".25" stop-color="#3d57fc"/><stop offset=".312" stop-color="#3162ff"/><stop offset=".375" stop-color="#156cff"/><stop offset=".391" stop-color="#046fff"/><stop offset=".406" stop-color="#0071ff"/><stop offset=".438" stop-color="#0076ff"/><stop offset=".5" stop-color="#007eff"/><stop offset=".75" stop-color="#0094f1"/><stop offset="1" stop-color="#00a1e8"/></linearGradient>
<linearGradient id="p188" gradientUnits="userSpaceOnUse" x1="650.8" x2="1490.2" y1="0" y2="0"><stop offset="0" stop-color="#4323b1"/><stop offset=".062" stop-color="#4830d2"/><stop offset=".125" stop-color="#483ee8"/><stop offset=".25" stop-color="#3d58fc"/><stop offset=".312" stop-color="#3063ff"/><stop offset=".375" stop-color="#146dff"/><stop offset=".391" stop-color="#026fff"/><stop offset=".406" stop-color="#0071ff"/><stop offset=".438" stop-color="#0076ff"/><stop offset=".5" stop-color="#007eff"/><stop offset=".75" stop-color="#0094f1"/><stop offset="1" stop-color="#00a1e8"/></linearGradient>
<linearGradient id="p189" gradientUnits="userSpaceOnUse" x1="649.0" x2="1488.4" y1="0" y2="0"><stop offset="0" stop-color="#4323b2"/><stop offset=".062" stop-color="#4830d3"/><stop offset=".125" stop-color="#483ee9"/><stop offset=".25" stop-color="#3c58fd"/><stop offset=".312" stop-color="#3063ff"/><stop offset=".344" stop-color="#2568ff"/><stop offset=".375" stop-color="#126dff"/><stop offset=".391" stop-color="#006fff"/><stop offset=".406" stop-color="#0072ff"/><stop offset=".438" stop-color="#0076ff"/><stop offset=".5" stop-color="#007eff"/><stop offset=".75" stop-color="#0095f1"/><stop offset="1" stop-color="#00a2e8"/></linearGradient>
<linearGradient id="p190" gradientUnits="userSpaceOnUse" x1="647.2" x2="1486.6" y1="0" y2="0"><stop offset="0" stop-color="#4423b3"/><stop offset=".062" stop-color="#4831d3"/><stop offset=".125" stop-color="#483ee9"/><stop offset=".25" stop-color="#3c58fd"/><stop offset=".312" stop-color="#2f63ff"/><stop offset=".344" stop-color="#2468ff"/><stop offset=".375" stop-color="#106dff"/><stop offset=".391" stop-color="#0070ff"/><stop offset=".406" stop-color="#0072ff"/><stop offset=".438" stop-color="#0076ff"/><stop offset=".5" stop-color="#007fff"/><stop offset=".75" stop-color="#0095f1"/><stop offset="1" stop-color="#00a2e8"/></linearGradient>
<linearGradient id="p191" gradientUnits="userSpaceOnUse" x1="645.4" x2="1484.8" y1="0" y2="0"><stop offset="0" stop-color="#4424b4"/><stop offset=".062" stop-color="#4831d4"/><stop offset=".125" stop-color="#483fea"/><stop offset=".25" stop-color="#3c59fd"/><stop offset=".312" stop-color="#2e64ff"/><stop offset=".344" stop-color="#2369ff"/><stop offset=".375" stop-color="#0e6eff"/><stop offset=".391" stop-color="#0070ff"/><stop offset=".406" stop-color="#0072ff"/><stop offset=".438" stop-color="#0077ff"/><stop offset=".5" stop-color="#007fff"/><stop offset=".75" stop-color="#0095f1"/><stop offset="1" stop-color="#00a2e8"/></linearGradient>
<linearGradient id="p192" gradientUnits="userSpaceOnUse" x1="643.6" x2="1483.0" y1="0" y2="0"><stop offset="0" stop-color="#4424b5"/><stop offset=".062" stop-color="#4831d5"/><stop offset=".125" stop-color="#4740ea"/><stop offset=".25" stop-color="#3b59fd"/><stop offset=".312" stop-color="#2e64ff"/><stop offset=".344" stop-color="#2269ff"/><stop offset=".375" stop-color="#0b6eff"/><stop offset=".391" stop-color="#0070ff"/><stop offset=".406" stop-color="#0073ff"/><stop offset=".438" stop-color="#0077ff"/><stop offset=".5" stop-color="#007fff"/><stop offset=".75" stop-color="#0095f0"/><stop offset="1" stop-color="#00a2e8"/></linearGradient>
<linearGradient id="p193" gradientUnits="userSpaceOnUse" x1="641.9" x2="1481.3" y1="0" y2="0"><stop offset="0" stop-color="#4425b7"/><stop offset=".062" stop-color="#4832d6"/><stop offset=".125" stop-color="#4740eb"/><stop offset=".25" stop-color="#3b5afd"/><stop offset=".312" stop-color="#2d64ff"/><stop offset=".344" stop-color="#216aff"/><stop offset=".375" stop-color="#076eff"/><stop offset=".391" stop-color="#0071ff"/><stop offset=".406" stop-color="#0073ff"/><stop offset=".438" stop-color="#0078ff"/><stop offset=".5" stop-color="#0080ff"/><stop offset=".75" stop-color="#0095f0"/><stop offset="1" stop-color="#00a2e8"/></linearGradient>
<linearGradient id="p194" gradientUnits="userSpaceOnUse" x1="640.1" x2="1479.5" y1="0" y2="0"><stop offset="0" stop-color="#4525b8"/><stop offset=".062" stop-color="#4833d8"/><stop offset=".125" stop-color="#4741ec"/><stop offset=".25" stop-color="#3a5afe"/><stop offset=".312" stop-color="#2c65ff"/><stop offset=".344" stop-color="#1f6aff"/><stop offset=".375" stop-color="#036fff"/><stop offset=".5" stop-color="#0080ff"/><stop offset=".75" stop-color="#0096f0"/><stop offset="1" stop-color="#00a2e8"/></linearGradient>
<linearGradient id="p195" gradientUnits="userSpaceOnUse" x1="638.3" x2="1477.7" y1="0" y2="0"><stop offset="0" stop-color="#4526ba"/><stop offset=".062" stop-color="#4833d9"/><stop offset=".125" stop-color="#4741ec"/><stop offset=".25" stop-color="#3a5bfe"/><stop offset=".312" stop-color="#2b66ff"/><stop offset=".344" stop-color="#1e6bff"/><stop offset=".375" stop-color="#006fff"/><stop offset=".5" stop-color="#0080fe"/><stop offset=".75" stop-color="#0096f0"/><stop offset="1" stop-color="#00a2e7"/></linearGradient>
<linearGradient id="p196" gradientUnits="userSpaceOnUse" x1="636.5" x2="1475.9" y1="0" y2="0"><stop offset="0" stop-color="#4527bc"/><stop offset=".062" stop-color="#4834da"/><stop offset=".125" stop-color="#4742ed"/><stop offset=".25" stop-color="#395bfe"/><stop offset=".312" stop-color="#2a66ff"/><stop offset=".344" stop-color="#1b6bff"/><stop offset=".375" stop-color="#0070ff"/><stop offset=".5" stop-color="#0081fe"/><stop offset=".75" stop-color="#0096f0"/><stop offset="1" stop-color="#00a3e7"/></linearGradient>
<linearGradient id="p197" gradientUnits="userSpaceOnUse" x1="634.7" x2="1474.1" y1="0" y2="0"><stop offset="0" stop-color="#4527bd"/><stop offset=".062" stop-color="#4835dc"/><stop offset=".125" stop-color="#4743ee"/><stop offset=".25" stop-color="#385cfe"/><stop offset=".312" stop-color="#2867ff"/><stop offset=".344" stop-color="#196cff"/><stop offset=".359" stop-color="#0a6eff"/><stop offset=".375" stop-color="#0070ff"/><stop offset=".5" stop-color="#0081fe"/><stop offset=".75" stop-color="#0096f0"/><stop offset="1" stop-color="#00a3e7"/></linearGradient>
<linearGradient id="p198" gradientUnits="userSpaceOnUse" x1="632.9" x2="1472.3" y1="0" y2="0"><stop offset="0" stop-color="#4528bf"/><stop offset=".062" stop-color="#4835dd"/><stop offset=".125" stop-color="#4644ee"/><stop offset=".25" stop-color="#385dff"/><stop offset=".312" stop-color="#2767ff"/><stop offset=".344" stop-color="#166cff"/><stop offset=".359" stop-color="#056fff"/><stop offset=".375" stop-color="#0071ff"/><stop offset=".5" stop-color="#0082fe"/><stop offset=".75" stop-color="#0097ef"/><stop offset="1" stop-color="#00a3e7"/></linearGradient>
<linearGradient id="p199" gradientUnits="userSpaceOnUse" x1="631.1" x2="1470.5" y1="0" y2="0"><stop offset="0" stop-color="#4629c1"/><stop offset=".062" stop-color="#4836de"/><stop offset=".125" stop-color="#4645ef"/><stop offset=".25" stop-color="#375dff"/><stop offset=".312" stop-color="#2568ff"/><stop offset=".344" stop-color="#126dff"/><stop offset=".359" stop-color="#006fff"/><stop offset=".375" stop-color="#0072ff"/><stop offset=".5" stop-color="#0082fe"/><stop offset=".75" stop-color="#0097ef"/><stop offset="1" stop-color="#00a3e7"/></linearGradient>
<linearGradient id="p200" gradientUnits="userSpaceOnUse" x1="629.4" x2="1468.8" y1="0" y2="0"><stop offset="0" stop-color="#462ac3"/><stop offset=".062" stop-color="#4837e0"/><stop offset=".125" stop-color="#4646f0"/><stop offset=".25" stop-color="#365eff"/><stop offset=".312" stop-color="#2469ff"/><stop offset=".344" stop-color="#0e6eff"/><stop offset=".359" stop-color="#0070ff"/><stop offset=".375" stop-color="#0072ff"/><stop offset=".5" stop-color="#0083fd"/><stop offset=".75" stop-color="#0097ef"/><stop offset="1" stop-color="#00a4e7"/></linearGradient>
<linearGradient id="p201" gradientUnits="userSpaceOnUse" x1="627.6" x2="1467.0" y1="0" y2="0"><stop offset="0" stop-color="#462bc5"/><stop offset=".062" stop-color="#4838e1"/><stop offset=".125" stop-color="#4647f1"/><stop offset=".25" stop-color="#355fff"/><stop offset=".312" stop-color="#2269ff"/><stop offset=".344" stop-color="#086eff"/><stop offset=".359" stop-color="#0071ff"/><stop offset=".375" stop-color="#0073ff"/><stop offset=".5" stop-color="#0083fd"/><stop offset=".75" stop-color="#0098ef"/><stop offset="1" stop-color="#00a4e7"/></linearGradient>
<linearGradient id="p202" gradientUnits="userSpaceOnUse" x1="625.8" x2="1465.2" y1="0" y2="0"><stop offset="0" stop-color="#472cc8"/><stop offset=".062" stop-color="#4839e3"/><stop offset=".125" stop-color="#4548f2"/><stop offset=".25" stop-color="#3460ff"/><stop offset=".312" stop-color="#1f6aff"/><stop offset=".344" stop-color="#016fff"/><stop offset=".375" stop-color="#0074ff"/><stop offset=".5" stop-color="#0084fd"/><stop offset=".75" stop-color="#0098ee"/><stop offset="1" stop-color="#00a4e7"/></linearGradient>
<linearGradient id="p203" gradientUnits="userSpaceOnUse" x1="624.0" x2="1463.4" y1="0" y2="0"><stop offset="0" stop-color="#472dca"/><stop offset=".062" stop-color="#483ae4"/><stop offset=".125" stop-color="#4549f3"/><stop offset=".25" stop-color="#3361ff"/><stop offset=".312" stop-color="#1c6bff"/><stop offset=".344" stop-color="#0070ff"/><stop offset=".375" stop-color="#0075ff"/><stop offset=".5" stop-color="#0084fd"/><stop offset=".75" stop-color="#0098ee"/><stop offset="1" stop-color="#00a4e6"/></linearGradient>
<linearGradient id="p204" gradientUnits="userSpaceOnUse" x1="622.2" x2="1461.6" y1="0" y2="0"><stop offset="0" stop-color="#472ecc"/><stop offset=".062" stop-color="#483be6"/><stop offset=".125" stop-color="#454af3"/><stop offset=".25" stop-color="#3262ff"/><stop offset=".312" stop-color="#186cff"/><stop offset=".328" stop-color="#086eff"/><stop offset=".344" stop-color="#0071ff"/><stop offset=".375" stop-color="#0075ff"/><stop offset=".5" stop-color="#0085fc"/><stop offset="1" stop-color="#00a5e6"/></linearGradient>
<linearGradient id="p205" gradientUnits="userSpaceOnUse" x1="620.4" x2="1459.8" y1="0" y2="0"><stop offset="0" stop-color="#472fcf"/><stop offset=".062" stop-color="#483de7"/><stop offset=".125" stop-color="#444bf4"/><stop offset=".25" stop-color="#3063ff"/><stop offset=".281" stop-color="#2668ff"/><stop offset=".312" stop-color="#136dff"/><stop offset=".328" stop-color="#006fff"/><stop offset=".344" stop-color="#0072ff"/><stop offset=".375" stop-color="#0076ff"/><stop offset=".5" stop-color="#0086fc"/><stop offset="1" stop-color="#00a5e6"/></linearGradient>
<linearGradient id="p206" gradientUnits="userSpaceOnUse" x1="618.6" x2="1458.0" y1="0" y2="0"><stop offset="0" stop-color="#4830d2"/><stop offset=".062" stop-color="#483ee9"/><stop offset=".125" stop-color="#444cf5"/><stop offset=".25" stop-color="#2f63ff"/><stop offset=".281" stop-color="#2369ff"/><stop offset=".312" stop-color="#0d6eff"/><stop offset=".328" stop-color="#0070ff"/><stop offset=".344" stop-color="#0072ff"/><stop offset=".375" stop-color="#0077ff"/><stop offset=".5" stop-color="#0086fc"/><stop offset="1" stop-color="#00a5e6"/></linearGradient>
<linearGradient id="p207" gradientUnits="userSpaceOnUse" x1="616.8" x2="1456.2" y1="0" y2="0"><stop offset="0" stop-color="#4831d4"/><stop offset=".062" stop-color="#483fea"/><stop offset=".125" stop-color="#434df6"/><stop offset=".25" stop-color="#2d65ff"/><stop offset=".281" stop-color="#216aff"/><stop offset=".312" stop-color="#056fff"/><stop offset=".375" stop-color="#0078ff"/><stop offset=".5" stop-color="#0087fb"/><stop offset="1" stop-color="#00a5e6"/></linearGradient>
<linearGradient id="p208" gradientUnits="userSpaceOnUse" x1="615.1" x2="1454.5" y1="0" y2="0"><stop offset="0" stop-color="#4832d7"/><stop offset=".062" stop-color="#4741eb"/><stop offset=".125" stop-color="#424ff7"/><stop offset=".25" stop-color="#2b66ff"/><stop offset=".281" stop-color="#1d6bff"/><stop offset=".312" stop-color="#0070ff"/><stop offset=".375" stop-color="#0079ff"/><stop offset=".5" stop-color="#0088fb"/><stop offset="1" stop-color="#00a6e6"/></linearGradient>
<linearGradient id="p209" gradientUnits="userSpaceOnUse" x1="613.3" x2="1452.7" y1="0" y2="0"><stop offset="0" stop-color="#4833d9"/><stop offset=".062" stop-color="#4742ed"/><stop offset=".125" stop-color="#4250f8"/><stop offset=".25" stop-color="#2867ff"/><stop offset=".281" stop-color="#186cff"/><stop offset=".297" stop-color="#086eff"/><stop offset=".312" stop-color="#0071ff"/><stop offset=".375" stop-color="#007aff"/><stop offset=".5" stop-color="#0088fa"/><stop offset="1" stop-color="#00a6e6"/></linearGradient>
<linearGradient id="p210" gradientUnits="userSpaceOnUse" x1="611.5" x2="1450.9" y1="0" y2="0"><stop offset="0" stop-color="#4835dc"/><stop offset=".125" stop-color="#4151f9"/><stop offset=".188" stop-color="#385dff"/><stop offset=".25" stop-color="#2668ff"/><stop offset=".281" stop-color="#126dff"/><stop offset=".297" stop-color="#006fff"/><stop offset=".312" stop-color="#0072ff"/><stop offset=".375" stop-color="#007bff"/><stop offset=".5" stop-color="#0089fa"/><stop offset="1" stop-color="#00a6e5"/></linearGradient>
<linearGradient id="p211" gradientUnits="userSpaceOnUse" x1="609.7" x2="1449.1" y1="0" y2="0"><stop offset="0" stop-color="#4836de"/><stop offset=".125" stop-color="#4053f9"/><stop offset=".188" stop-color="#365eff"/><stop offset=".25" stop-color="#2369ff"/><stop offset=".281" stop-color="#0b6eff"/><stop offset=".297" stop-color="#0070ff"/><stop offset=".312" stop-color="#0073ff"/><stop offset=".375" stop-color="#007cff"/><stop offset=".5" stop-color="#008af9"/><stop offset="1" stop-color="#00a7e5"/></linearGradient>
<linearGradient id="p212" gradientUnits="userSpaceOnUse" x1="607.9" x2="1447.3" y1="0" y2="0"><stop offset="0" stop-color="#4838e1"/><stop offset=".125" stop-color="#3f54fa"/><stop offset=".188" stop-color="#3460ff"/><stop offset=".25" stop-color="#1f6aff"/><stop offset=".281" stop-color="#006fff"/><stop offset=".312" stop-color="#0074ff"/><stop offset=".375" stop-color="#007dff"/><stop offset=".5" stop-color="#008af9"/><stop offset="1" stop-color="#00a7e5"/></linearGradient>
<linearGradient id="p213" gradientUnits="userSpaceOnUse" x1="606.1" x2="1445.5" y1="0" y2="0"><stop offset="0" stop-color="#4839e3"/><stop offset=".125" stop-color="#3e55fb"/><stop offset=".188" stop-color="#3361ff"/><stop offset=".25" stop-color="#1a6bff"/><stop offset=".266" stop-color="#0b6eff"/><stop offset=".281" stop-color="#0070ff"/><stop offset=".312" stop-color="#0075ff"/><stop offset=".375" stop-color="#007eff"/><stop offset=".5" stop-color="#008bf8"/><stop offset="1" stop-color="#00a7e5"/></linearGradient>
<linearGradient id="p214" gradientUnits="userSpaceOnUse" x1="604.3" x2="1443.7" y1="0" y2="0"><stop offset="0" stop-color="#483be5"/><stop offset=".125" stop-color="#3d57fc"/><stop offset=".188" stop-color="#3162ff"/><stop offset=".219" stop-color="#2668ff"/><stop offset=".25" stop-color="#136dff"/><stop offset=".266" stop-color="#006fff"/><stop offset=".281" stop-color="#0072ff"/><stop offset=".312" stop-color="#0076ff"/><stop offset=".375" stop-color="#007fff"/><stop offset=".5" stop-color="#008cf7"/><stop offset="1" stop-color="#00a8e4"/></linearGradient>
<linearGradient id="p215" gradientUnits="userSpaceOnUse" x1="602.6" x2="1442.0" y1="0" y2="0"><stop offset="0" stop-color="#483de8"/><stop offset=".125" stop-color="#3c58fd"/><stop offset=".188" stop-color="#2e64ff"/><stop offset=".219" stop-color="#2369ff"/><stop offset=".25" stop-color="#0a6eff"/><stop offset=".266" stop-color="#0071ff"/><stop offset=".281" stop-color="#0073ff"/><stop offset=".312" stop-color="#0078ff"/><stop offset=".375" stop-color="#0080ff"/><stop offset=".5" stop-color="#008df7"/><stop offset="1" stop-color="#00a8e4"/></linearGradient>
<linearGradient id="p216" gradientUnits="userSpaceOnUse" x1="600.8" x2="1440.2" y1="0" y2="0"><stop offset="0" stop-color="#483fea"/><stop offset=".125" stop-color="#3b5afd"/><stop offset=".188" stop-color="#2c65ff"/><stop offset=".219" stop-color="#1e6aff"/><stop offset=".25" stop-color="#006fff"/><stop offset=".5" stop-color="#008ef6"/><stop offset="1" stop-color="#00a9e4"/></linearGradient>
<linearGradient id="p217" gradientUnits="userSpaceOnUse" x1="599.0" x2="1438.4" y1="0" y2="0"><stop offset="0" stop-color="#4741ec"/><stop offset=".125" stop-color="#395bfe"/><stop offset=".188" stop-color="#2867ff"/><stop offset=".25" stop-color="#0071ff"/><stop offset=".5" stop-color="#008ff6"/><stop offset="1" stop-color="#00a9e3"/></linearGradient>
<linearGradient id="p218" gradientUnits="userSpaceOnUse" x1="597.2" x2="1436.6" y1="0" y2="0"><stop offset="0" stop-color="#4743ee"/><stop offset=".125" stop-color="#375dff"/><stop offset=".188" stop-color="#2568ff"/><stop offset=".219" stop-color="#106dff"/><stop offset=".234" stop-color="#0070ff"/><stop offset=".25" stop-color="#0072ff"/><stop offset=".5" stop-color="#008ff5"/><stop offset="1" stop-color="#00a9e3"/></linearGradient>
<linearGradient id="p219" gradientUnits="userSpaceOnUse" x1="595.4" x2="1434.8" y1="0" y2="0"><stop offset="0" stop-color="#4645f0"/><stop offset=".125" stop-color="#355fff"/><stop offset=".188" stop-color="#216aff"/><stop offset=".219" stop-color="#036fff"/><stop offset=".25" stop-color="#0074ff"/><stop offset=".5" stop-color="#0090f4"/><stop offset="1" stop-color="#00aae3"/></linearGradient>
<linearGradient id="p220" gradientUnits="userSpaceOnUse" x1="593.6" x2="1433.0" y1="0" y2="0"><stop offset="0" stop-color="#4547f1"/><stop offset=".125" stop-color="#3361ff"/><stop offset=".188" stop-color="#1a6bff"/><stop offset=".203" stop-color="#0b6eff"/><stop offset=".219" stop-color="#0070ff"/><stop offset=".25" stop-color="#0075ff"/><stop offset=".5" stop-color="#0091f3"/><stop offset="1" stop-color="#00aae3"/></linearGradient>
<linearGradient id="p221" gradientUnits="userSpaceOnUse" x1="591.8" x2="1431.2" y1="0" y2="0"><stop offset="0" stop-color="#4549f3"/><stop offset=".125" stop-color="#3162ff"/><stop offset=".156" stop-color="#2668ff"/><stop offset=".188" stop-color="#126dff"/><stop offset=".203" stop-color="#0070ff"/><stop offset=".219" stop-color="#0072ff"/><stop offset=".25" stop-color="#0077ff"/><stop offset=".5" stop-color="#0092f3"/><stop offset="1" stop-color="#00abe2"/></linearGradient>
<linearGradient id="p222" gradientUnits="userSpaceOnUse" x1="590.1" x2="1429.5" y1="0" y2="0"><stop offset="0" stop-color="#444cf5"/><stop offset=".125" stop-color="#2e64ff"/><stop offset=".156" stop-color="#216aff"/><stop offset=".188" stop-color="#046fff"/><stop offset=".25" stop-color="#0079ff"/><stop offset=".5" stop-color="#0093f2"/><stop offset="1" stop-color="#00abe2"/></linearGradient>
<linearGradient id="p223" gradientUnits="userSpaceOnUse" x1="588.3" x2="1427.7" y1="0" y2="0"><stop offset="0" stop-color="#434ef6"/><stop offset=".125" stop-color="#2a66ff"/><stop offset=".156" stop-color="#1a6bff"/><stop offset=".172" stop-color="#0b6eff"/><stop offset=".188" stop-color="#0070ff"/><stop offset=".25" stop-color="#007aff"/><stop offset=".5" stop-color="#0094f1"/><stop offset="1" stop-color="#00ace1"/></linearGradient>
<linearGradient id="p224" gradientUnits="userSpaceOnUse" x1="586.5" x2="1425.9" y1="0" y2="0"><stop offset="0" stop-color="#4250f8"/><stop offset=".062" stop-color="#385dff"/><stop offset=".125" stop-color="#2568ff"/><stop offset=".156" stop-color="#116dff"/><stop offset=".172" stop-color="#0070ff"/><stop offset=".188" stop-color="#0072ff"/><stop offset=".25" stop-color="#007cff"/><stop offset=".5" stop-color="#0095f1"/><stop offset="1" stop-color="#00ace1"/></linearGradient>
<linearGradient id="p225" gradientUnits="userSpaceOnUse" x1="584.7" x2="1424.1" y1="0" y2="0"><stop offset="0" stop-color="#4052f9"/><stop offset=".062" stop-color="#365fff"/><stop offset=".125" stop-color="#206aff"/><stop offset=".141" stop-color="#156cff"/><stop offset=".156" stop-color="#016fff"/><stop offset=".188" stop-color="#0074ff"/><stop offset=".25" stop-color="#007dff"/><stop offset=".5" stop-color="#0096f0"/><stop offset="1" stop-color="#00ace0"/></linearGradient>
<linearGradient id="p226" gradientUnits="userSpaceOnUse" x1="582.9" x2="1422.3" y1="0" y2="0"><stop offset="0" stop-color="#3f55fb"/><stop offset=".062" stop-color="#3361ff"/><stop offset=".125" stop-color="#186cff"/><stop offset=".141" stop-color="#076eff"/><stop offset=".156" stop-color="#0071ff"/><stop offset=".188" stop-color="#0076ff"/><stop offset=".25" stop-color="#007fff"/><stop offset=".5" stop-color="#0097ef"/><stop offset="1" stop-color="#00ade0"/></linearGradient>
<linearGradient id="p227" gradientUnits="userSpaceOnUse" x1="581.1" x2="1420.5" y1="0" y2="0"><stop offset="0" stop-color="#3d57fc"/><stop offset=".062" stop-color="#3063ff"/><stop offset=".094" stop-color="#2469ff"/><stop offset=".125" stop-color="#0c6eff"/><stop offset=".141" stop-color="#0070ff"/><stop offset=".156" stop-color="#0073ff"/><stop offset=".188" stop-color="#0078ff"/><stop offset=".25" stop-color="#0081fe"/><stop offset=".5" stop-color="#0098ef"/><stop offset="1" stop-color="#00ade0"/></linearGradient>
<linearGradient id="p228" gradientUnits="userSpaceOnUse" x1="579.3" x2="1418.7" y1="0" y2="0"><stop offset="0" stop-color="#3b59fd"/><stop offset=".062" stop-color="#2b65ff"/><stop offset=".094" stop-color="#1d6bff"/><stop offset=".125" stop-color="#0070ff"/><stop offset=".25" stop-color="#0082fe"/><stop offset=".5" stop-color="#0099ee"/><stop offset="1" stop-color="#00aedf"/></linearGradient>
<linearGradient id="p229" gradientUnits="userSpaceOnUse" x1="577.5" x2="1416.9" y1="0" y2="0"><stop offset="0" stop-color="#395cfe"/><stop offset=".062" stop-color="#2667ff"/><stop offset=".094" stop-color="#126dff"/><stop offset=".109" stop-color="#006fff"/><stop offset=".125" stop-color="#0072ff"/><stop offset=".25" stop-color="#0084fd"/><stop offset=".5" stop-color="#009aed"/><stop offset="1" stop-color="#00aedf"/></linearGradient>
<linearGradient id="p230" gradientUnits="userSpaceOnUse" x1="575.8" x2="1415.2" y1="0" y2="0"><stop offset="0" stop-color="#365eff"/><stop offset=".062" stop-color="#206aff"/><stop offset=".078" stop-color="#156cff"/><stop offset=".094" stop-color="#016fff"/><stop offset=".125" stop-color="#0074ff"/><stop offset=".25" stop-color="#0085fc"/><stop offset=".5" stop-color="#009bec"/><stop offset="1" stop-color="#00afde"/></linearGradient>
<linearGradient id="p231" gradientUnits="userSpaceOnUse" x1="574.0" x2="1413.4" y1="0" y2="0"><stop offset="0" stop-color="#3361ff"/><stop offset=".031" stop-color="#2867ff"/><stop offset=".062" stop-color="#166cff"/><stop offset=".078" stop-color="#036fff"/><stop offset=".094" stop-color="#0071ff"/><stop offset=".125" stop-color="#0077ff"/><stop offset=".25" stop-color="#0087fb"/><stop offset=".5" stop-color="#009cec"/><stop offset="1" stop-color="#00afde"/></linearGradient>
<linearGradient id="p232" gradientUnits="userSpaceOnUse" x1="572.2" x2="1411.6" y1="0" y2="0"><stop offset="0" stop-color="#2f63ff"/><stop offset=".031" stop-color="#2269ff"/><stop offset=".062" stop-color="#066fff"/><stop offset=".078" stop-color="#0071ff"/><stop offset=".094" stop-color="#0074ff"/><stop offset=".125" stop-color="#0079ff"/><stop offset=".25" stop-color="#0089fa"/><stop offset=".5" stop-color="#009deb"/><stop offset="1" stop-color="#00b0dd"/></linearGradient>
<linearGradient id="p233" gradientUnits="userSpaceOnUse" x1="570.4" x2="1409.8" y1="0" y2="0"><stop offset="0" stop-color="#2966ff"/><stop offset=".062" stop-color="#0071ff"/><stop offset=".125" stop-color="#007bff"/><stop offset=".25" stop-color="#008af9"/><stop offset=".5" stop-color="#009eea"/><stop offset="1" stop-color="#00b0dc"/></linearGradient>
<linearGradient id="p234" gradientUnits="userSpaceOnUse" x1="568.6" x2="1408.0" y1="0" y2="0"><stop offset="0" stop-color="#2369ff"/><stop offset=".031" stop-color="#086eff"/><stop offset=".047" stop-color="#0071ff"/><stop offset=".062" stop-color="#0074ff"/><stop offset=".125" stop-color="#007dff"/><stop offset=".25" stop-color="#008cf8"/><stop offset=".5" stop-color="#009fea"/><stop offset="1" stop-color="#00b0dc"/></linearGradient>
<linearGradient id="p235" gradientUnits="userSpaceOnUse" x1="566.8" x2="1406.2" y1="0" y2="0"><stop offset="0" stop-color="#196cff"/><stop offset=".016" stop-color="#086eff"/><stop offset=".031" stop-color="#0071ff"/><stop offset=".062" stop-color="#0076ff"/><stop offset=".125" stop-color="#0080ff"/><stop offset=".25" stop-color="#008ef6"/><stop offset=".5" stop-color="#00a0e9"/><stop offset="1" stop-color="#00b1db"/></linearGradient>
<linearGradient id="p236" gradientUnits="userSpaceOnUse" x1="565.0" x2="1404.4" y1="0" y2="0"><stop offset="0" stop-color="#076eff"/><stop offset=".016" stop-color="#0071ff"/><stop offset=".031" stop-color="#0074ff"/><stop offset=".062" stop-color="#0079ff"/><stop offset=".125" stop-color="#0082fe"/><stop offset=".25" stop-color="#008ff5"/><stop offset=".5" stop-color="#00a1e8"/><stop offset="1" stop-color="#00b1da"/></linearGradient>
<linearGradient id="p237" gradientUnits="userSpaceOnUse" x1="563.3" x2="1402.7" y1="0" y2="0"><stop offset="0" stop-color="#0071ff"/><stop offset=".25" stop-color="#0091f4"/><stop offset=".5" stop-color="#00a2e8"/><stop offset="1" stop-color="#00b2da"/></linearGradient>
<linearGradient id="p238" gradientUnits="userSpaceOnUse" x1="561.5" x2="1400.9" y1="0" y2="0"><stop offset="0" stop-color="#0074ff"/><stop offset=".25" stop-color="#0093f2"/><stop offset=".5" stop-color="#00a3e7"/><stop offset="1" stop-color="#00b2d9"/></linearGradient>
<linearGradient id="p239" gradientUnits="userSpaceOnUse" x1="559.7" x2="1399.1" y1="0" y2="0"><stop offset="0" stop-color="#0077ff"/><stop offset=".25" stop-color="#0094f1"/><stop offset=".5" stop-color="#00a4e7"/><stop offset="1" stop-color="#00b3d8"/></linearGradient>
<linearGradient id="p240" gradientUnits="userSpaceOnUse" x1="557.9" x2="1397.3" y1="0" y2="0"><stop offset="0" stop-color="#007aff"/><stop offset=".25" stop-color="#0096f0"/><stop offset=".5" stop-color="#00a5e6"/><stop offset="1" stop-color="#00b3d7"/></linearGradient>
<linearGradient id="p241" gradientUnits="userSpaceOnUse" x1="556.1" x2="1395.5" y1="0" y2="0"><stop offset="0" stop-color="#007dff"/><stop offset=".25" stop-color="#0098ef"/><stop offset=".5" stop-color="#00a6e6"/><stop offset="1" stop-color="#00b4d7"/></linearGradient>
<linearGradient id="p242" gradientUnits="userSpaceOnUse" x1="554.3" x2="1393.7" y1="0" y2="0"><stop offset="0" stop-color="#0080ff"/><stop offset=".25" stop-color="#0099ed"/><stop offset=".5" stop-color="#00a7e5"/><stop offset="1" stop-color="#00b4d6"/></linearGradient>
<linearGradient id="p243" gradientUnits="userSpaceOnUse" x1="552.5" x2="1391.9" y1="0" y2="0"><stop offset="0" stop-color="#0083fd"/><stop offset=".25" stop-color="#009bec"/><stop offset=".5" stop-color="#00a8e4"/><stop offset="1" stop-color="#00b5d5"/></linearGradient>
<linearGradient id="p244" gradientUnits="userSpaceOnUse" x1="550.8" x2="1390.2" y1="0" y2="0"><stop offset="0" stop-color="#0086fc"/><stop offset=".25" stop-color="#009ceb"/><stop offset=".5" stop-color="#00a9e3"/><stop offset="1" stop-color="#00b5d4"/></linearGradient>
<linearGradient id="p245" gradientUnits="userSpaceOnUse" x1="549.0" x2="1388.4" y1="0" y2="0"><stop offset="0" stop-color="#0088fa"/><stop offset=".25" stop-color="#009eea"/><stop offset=".5" stop-color="#00aae2"/><stop offset="1" stop-color="#00b6d3"/></linearGradient>
<linearGradient id="p246" gradientUnits="userSpaceOnUse" x1="547.2" x2="1386.6" y1="0" y2="0"><stop offset="0" stop-color="#008bf8"/><stop offset=".25" stop-color="#00a0e9"/><stop offset=".5" stop-color="#00abe1"/><stop offset="1" stop-color="#00b6d3"/></linearGradient>
<linearGradient id="p247" gradientUnits="userSpaceOnUse" x1="545.4" x2="1384.8" y1="0" y2="0"><stop offset="0" stop-color="#008ef6"/><stop offset=".25" stop-color="#00a1e8"/><stop offset=".5" stop-color="#00ace0"/><stop offset="1" stop-color="#00b6d2"/></linearGradient>
<linearGradient id="p248" gradientUnits="userSpaceOnUse" x1="543.6" x2="1383.0" y1="0" y2="0"><stop offset="0" stop-color="#0090f4"/><stop offset=".5" stop-color="#00addf"/><stop offset="1" stop-color="#00b7d1"/></linearGradient>
<linearGradient id="p249" gradientUnits="userSpaceOnUse" x1="541.8" x2="1381.2" y1="0" y2="0"><stop offset="0" stop-color="#0093f2"/><stop offset=".5" stop-color="#00afde"/><stop offset="1" stop-color="#00b7d0"/></linearGradient>
<linearGradient id="p250" gradientUnits="userSpaceOnUse" x1="540.0" x2="1379.4" y1="0" y2="0"><stop offset="0" stop-color="#0096f0"/><stop offset=".5" stop-color="#00b0dd"/><stop offset="1" stop-color="#00b8cf"/></linearGradient>
<linearGradient id="p251" gradientUnits="userSpaceOnUse" x1="538.3" x2="1377.7" y1="0" y2="0"><stop offset="0" stop-color="#0098ee"/><stop offset=".5" stop-color="#00b0dc"/><stop offset="1" stop-color="#00b8ce"/></linearGradient>
<linearGradient id="p252" gradientUnits="userSpaceOnUse" x1="536.5" x2="1375.9" y1="0" y2="0"><stop offset="0" stop-color="#009bec"/><stop offset=".5" stop-color="#00b1da"/><stop offset="1" stop-color="#00b9cd"/></linearGradient>
<linearGradient id="p253" gradientUnits="userSpaceOnUse" x1="534.7" x2="1374.1" y1="0" y2="0"><stop offset="0" stop-color="#009dea"/><stop offset=".5" stop-color="#00b2d9"/><stop offset="1" stop-color="#00b9cc"/></linearGradient>
<linearGradient id="p254" gradientUnits="userSpaceOnUse" x1="532.9" x2="1372.3" y1="0" y2="0"><stop offset="0" stop-color="#00a0e9"/><stop offset=".5" stop-color="#00b3d7"/><stop offset="1" stop-color="#00b9cb"/></linearGradient>
<linearGradient id="p255" gradientUnits="userSpaceOnUse" x1="531.1" x2="1370.5" y1="0" y2="0"><stop offset="0" stop-color="#00a2e7"/><stop offset=".5" stop-color="#00b4d6"/><stop offset="1" stop-color="#00baca"/></linearGradient>
<linearGradient id="p256" gradientUnits="userSpaceOnUse" x1="529.3" x2="1368.7" y1="0" y2="0"><stop offset="0" stop-color="#00a5e6"/><stop offset=".5" stop-color="#00b5d4"/><stop offset="1" stop-color="#00bac9"/></linearGradient>
<linearGradient id="p257" gradientUnits="userSpaceOnUse" x1="527.5" x2="1366.9" y1="0" y2="0"><stop offset="0" stop-color="#00a7e5"/><stop offset=".5" stop-color="#00b6d3"/><stop offset="1" stop-color="#00bbc8"/></linearGradient>
<linearGradient id="p258" gradientUnits="userSpaceOnUse" x1="525.7" x2="1365.1" y1="0" y2="0"><stop offset="0" stop-color="#00aae3"/><stop offset=".5" stop-color="#00b7d1"/><stop offset="1" stop-color="#00bbc7"/></linearGradient>
<linearGradient id="p259" gradientUnits="userSpaceOnUse" x1="524.0" x2="1363.4" y1="0" y2="0"><stop offset="0" stop-color="#00ace1"/><stop offset=".5" stop-color="#00b8cf"/><stop offset="1" stop-color="#00bbc6"/></linearGradient>
<linearGradient id="p260" gradientUnits="userSpaceOnUse" x1="522.2" x2="1361.6" y1="0" y2="0"><stop offset="0" stop-color="#00aedf"/><stop offset=".5" stop-color="#00b8ce"/><stop offset="1" stop-color="#00bcc5"/></linearGradient>
<linearGradient id="p261" gradientUnits="userSpaceOnUse" x1="520.4" x2="1359.8" y1="0" y2="0"><stop offset="0" stop-color="#00b0dc"/><stop offset=".5" stop-color="#00b9cc"/><stop offset="1" stop-color="#00bcc4"/></linearGradient>
<linearGradient id="p262" gradientUnits="userSpaceOnUse" x1="518.6" x2="1358.0" y1="0" y2="0"><stop offset="0" stop-color="#00b2d9"/><stop offset=".5" stop-color="#00baca"/><stop offset="1" stop-color="#00bdc3"/></linearGradient>
<linearGradient id="p263" gradientUnits="userSpaceOnUse" x1="516.8" x2="1356.2" y1="0" y2="0"><stop offset="0" stop-color="#00b4d6"/><stop offset="1" stop-color="#00bdc2"/></linearGradient>
<linearGradient id="p264" gradientUnits="userSpaceOnUse" x1="515.0" x2="1354.4" y1="0" y2="0"><stop offset="0" stop-color="#00b6d2"/><stop offset="1" stop-color="#00bdc1"/></linearGradient>
<linearGradient id="p265" gradientUnits="userSpaceOnUse" x1="513.2" x2="1352.6" y1="0" y2="0"><stop offset="0" stop-color="#00b8cf"/><stop offset="1" stop-color="#00bec0"/></linearGradient>
<linearGradient id="p266" gradientUnits="userSpaceOnUse" x1="511.5" x2="1350.9" y1="0" y2="0"><stop offset="0" stop-color="#00b9cb"/><stop offset="1" stop-color="#00bebf"/></linearGradient>
<linearGradient id="p267" gradientUnits="userSpaceOnUse" x1="509.7" x2="1349.1" y1="0" y2="0"><stop offset="0" stop-color="#00bbc8"/><stop offset="1" stop-color="#00bebe"/></linearGradient>
<linearGradient id="p268" gradientUnits="userSpaceOnUse" x1="507.9" x2="1347.3" y1="0" y2="0"><stop offset="0" stop-color="#00bcc4"/><stop offset="1" stop-color="#00bfbd"/></linearGradient>
<linearGradient id="p269" gradientUnits="userSpaceOnUse" x1="506.1" x2="1345.5" y1="0" y2="0"><stop offset="0" stop-color="#00bec0"/><stop offset="1" stop-color="#00bfbc"/></linearGradient>
<linearGradient id="p270" gradientUnits="userSpaceOnUse" x1="504.3" x2="1343.7" y1="0" y2="0"><stop offset="0" stop-color="#00bfbc"/><stop offset="1" stop-color="#00bfbb"/></linearGradient>
<linearGradient id="p271" gradientUnits="userSpaceOnUse" x1="502.5" x2="1341.9" y1="0" y2="0"><stop offset="0" stop-color="#00c0b8"/><stop offset="1" stop-color="#00c0ba"/></linearGradient>
<linearGradient id="p272" gradientUnits="userSpaceOnUse" x1="500.7" x2="1340.1" y1="0" y2="0"><stop offset="0" stop-color="#00c1b4"/><stop offset="1" stop-color="#00c0b9"/></linearGradient>
<linearGradient id="p273" gradientUnits="userSpaceOnUse" x1="499.0" x2="1338.4" y1="0" y2="0"><stop offset="0" stop-color="#00c3b0"/><stop offset="1" stop-color="#00c0b7"/></linearGradient>
<linearGradient id="p274" gradientUnits="userSpaceOnUse" x1="497.2" x2="1336.6" y1="0" y2="0"><stop offset="0" stop-color="#00c4ac"/><stop offset="1" stop-color="#00c1b6"/></linearGradient>
<linearGradient id="p275" gradientUnits="userSpaceOnUse" x1="495.4" x2="1334.8" y1="0" y2="0"><stop offset="0" stop-color="#00c5a7"/><stop offset="1" stop-color="#00c1b5"/></linearGradient>
<linearGradient id="p276" gradientUnits="userSpaceOnUse" x1="493.6" x2="1333.0" y1="0" y2="0"><stop offset="0" stop-color="#00c6a3"/><stop offset="1" stop-color="#00c1b4"/></linearGradient>
<linearGradient id="p277" gradientUnits="userSpaceOnUse" x1="491.8" x2="1331.2" y1="0" y2="0"><stop offset="0" stop-color="#00c79e"/><stop offset=".5" stop-color="#00c3ad"/><stop offset="1" stop-color="#00c2b3"/></linearGradient>
<linearGradient id="p278" gradientUnits="userSpaceOnUse" x1="490.0" x2="1329.4" y1="0" y2="0"><stop offset="0" stop-color="#00c999"/><stop offset=".5" stop-color="#00c4ab"/><stop offset="1" stop-color="#00c2b2"/></linearGradient>
<linearGradient id="p279" gradientUnits="userSpaceOnUse" x1="488.2" x2="1327.6" y1="0" y2="0"><stop offset="0" stop-color="#00ca94"/><stop offset=".5" stop-color="#00c4a9"/><stop offset="1" stop-color="#00c2b1"/></linearGradient>
<linearGradient id="p280" gradientUnits="userSpaceOnUse" x1="486.5" x2="1325.8" y1="0" y2="0"><stop offset="0" stop-color="#00cb8f"/><stop offset=".5" stop-color="#00c5a7"/><stop offset="1" stop-color="#00c3b0"/></linearGradient>
<linearGradient id="p281" gradientUnits="userSpaceOnUse" x1="484.7" x2="1324.1" y1="0" y2="0"><stop offset="0" stop-color="#00cc89"/><stop offset=".5" stop-color="#00c6a5"/><stop offset="1" stop-color="#00c3af"/></linearGradient>
<linearGradient id="p282" gradientUnits="userSpaceOnUse" x1="482.9" x2="1322.3" y1="0" y2="0"><stop offset="0" stop-color="#00cc84"/><stop offset=".25" stop-color="#00c998"/><stop offset=".5" stop-color="#00c6a3"/><stop offset="1" stop-color="#00c3ad"/></linearGradient>
<linearGradient id="p283" gradientUnits="userSpaceOnUse" x1="481.1" x2="1320.5" y1="0" y2="0"><stop offset="0" stop-color="#00cd7e"/><stop offset=".25" stop-color="#00ca94"/><stop offset=".5" stop-color="#00c7a0"/><stop offset="1" stop-color="#00c4ac"/></linearGradient>
<linearGradient id="p284" gradientUnits="userSpaceOnUse" x1="479.3" x2="1318.7" y1="0" y2="0"><stop offset="0" stop-color="#00cd78"/><stop offset=".25" stop-color="#00ca90"/><stop offset=".5" stop-color="#00c79e"/><stop offset="1" stop-color="#00c4ab"/></linearGradient>
<linearGradient id="p285" gradientUnits="userSpaceOnUse" x1="477.5" x2="1316.9" y1="0" y2="0"><stop offset="0" stop-color="#00ce71"/><stop offset=".25" stop-color="#00cb8d"/><stop offset=".5" stop-color="#00c89c"/><stop offset="1" stop-color="#00c4aa"/></linearGradient>
<linearGradient id="p286" gradientUnits="userSpaceOnUse" x1="475.7" x2="1315.1" y1="0" y2="0"><stop offset="0" stop-color="#00ce6a"/><stop offset=".25" stop-color="#00cc89"/><stop offset=".5" stop-color="#00c89a"/><stop offset="1" stop-color="#00c4a9"/></linearGradient>
<linearGradient id="p287" gradientUnits="userSpaceOnUse" x1="473.9" x2="1313.3" y1="0" y2="0"><stop offset="0" stop-color="#00ce63"/><stop offset=".25" stop-color="#00cc85"/><stop offset=".5" stop-color="#00c997"/><stop offset="1" stop-color="#00c5a8"/></linearGradient>
<linearGradient id="p288" gradientUnits="userSpaceOnUse" x1="472.2" x2="1311.6" y1="0" y2="0"><stop offset="0" stop-color="#00ce5c"/><stop offset=".25" stop-color="#00cd81"/><stop offset=".5" stop-color="#00ca95"/><stop offset="1" stop-color="#00c5a7"/></linearGradient>
<linearGradient id="p289" gradientUnits="userSpaceOnUse" x1="470.4" x2="1309.8" y1="0" y2="0"><stop offset="0" stop-color="#2bcd55"/><stop offset=".016" stop-color="#14ce59"/><stop offset=".031" stop-color="#00ce5c"/><stop offset=".062" stop-color="#00ce62"/><stop offset=".125" stop-color="#00ce6d"/><stop offset=".25" stop-color="#00cd7d"/><stop offset=".5" stop-color="#00ca92"/><stop offset="1" stop-color="#00c5a5"/></linearGradient>
<linearGradient id="p290" gradientUnits="userSpaceOnUse" x1="468.6" x2="1308.0" y1="0" y2="0"><stop offset="0" stop-color="#48cd4e"/><stop offset=".031" stop-color="#2dcd55"/><stop offset=".047" stop-color="#16ce58"/><stop offset=".062" stop-color="#00ce5b"/><stop offset=".125" stop-color="#00ce67"/><stop offset=".25" stop-color="#00cd79"/><stop offset=".5" stop-color="#00ca90"/><stop offset="1" stop-color="#00c6a4"/></linearGradient>
<linearGradient id="p291" gradientUnits="userSpaceOnUse" x1="466.8" x2="1306.2" y1="0" y2="0"><stop offset="0" stop-color="#5ccc47"/><stop offset=".062" stop-color="#2ccd55"/><stop offset=".078" stop-color="#16ce58"/><stop offset=".094" stop-color="#00ce5b"/><stop offset=".125" stop-color="#00ce61"/><stop offset=".25" stop-color="#00cd75"/><stop offset=".5" stop-color="#00cb8d"/><stop offset="1" stop-color="#00c6a3"/></linearGradient>
<linearGradient id="p292" gradientUnits="userSpaceOnUse" x1="465.0" x2="1304.4" y1="0" y2="0"><stop offset="0" stop-color="#6dcc40"/><stop offset=".062" stop-color="#46cd4f"/><stop offset=".094" stop-color="#2ace56"/><stop offset=".109" stop-color="#13ce59"/><stop offset=".125" stop-color="#00ce5c"/><stop offset=".25" stop-color="#00ce71"/><stop offset=".5" stop-color="#00cb8b"/><stop offset="1" stop-color="#00c6a2"/></linearGradient>
<linearGradient id="p293" gradientUnits="userSpaceOnUse" x1="463.2" x2="1302.6" y1="0" y2="0"><stop offset="0" stop-color="#7bcb38"/><stop offset=".062" stop-color="#59cd48"/><stop offset=".125" stop-color="#27ce56"/><stop offset=".141" stop-color="#0cce59"/><stop offset=".156" stop-color="#00ce5c"/><stop offset=".188" stop-color="#00ce62"/><stop offset=".25" stop-color="#00ce6c"/><stop offset=".5" stop-color="#00cc88"/><stop offset="1" stop-color="#00c7a1"/></linearGradient>
<linearGradient id="p294" gradientUnits="userSpaceOnUse" x1="461.4" x2="1300.8" y1="0" y2="0"><stop offset="0" stop-color="#89ca30"/><stop offset=".125" stop-color="#41cd50"/><stop offset=".156" stop-color="#22ce57"/><stop offset=".172" stop-color="#00ce5a"/><stop offset=".188" stop-color="#00ce5d"/><stop offset=".25" stop-color="#00ce68"/><stop offset=".5" stop-color="#00cc85"/><stop offset="1" stop-color="#00c7a0"/></linearGradient>
<linearGradient id="p295" gradientUnits="userSpaceOnUse" x1="459.7" x2="1299.1" y1="0" y2="0"><stop offset="0" stop-color="#95c928"/><stop offset=".125" stop-color="#53cd4b"/><stop offset=".156" stop-color="#3dcd52"/><stop offset=".188" stop-color="#1bce58"/><stop offset=".203" stop-color="#00ce5b"/><stop offset=".219" stop-color="#00ce5e"/><stop offset=".25" stop-color="#00ce63"/><stop offset=".5" stop-color="#00cc83"/><stop offset="1" stop-color="#00c79f"/></linearGradient>
<linearGradient id="p296" gradientUnits="userSpaceOnUse" x1="457.9" x2="1297.3" y1="0" y2="0"><stop offset="0" stop-color="#a0c81f"/><stop offset=".125" stop-color="#61cc45"/><stop offset=".188" stop-color="#38cd53"/><stop offset=".203" stop-color="#28ce56"/><stop offset=".219" stop-color="#10ce59"/><stop offset=".234" stop-color="#00ce5c"/><stop offset=".25" stop-color="#00ce5f"/><stop offset=".5" stop-color="#00cd80"/><stop offset="1" stop-color="#00c89d"/></linearGradient>
<linearGradient id="p297" gradientUnits="userSpaceOnUse" x1="456.1" x2="1295.5" y1="0" y2="0"><stop offset="0" stop-color="#abc717"/><stop offset=".125" stop-color="#6ecc3f"/><stop offset=".188" stop-color="#4acd4e"/><stop offset=".219" stop-color="#31cd54"/><stop offset=".234" stop-color="#20ce57"/><stop offset=".25" stop-color="#00ce5a"/><stop offset=".5" stop-color="#00cd7d"/><stop offset="1" stop-color="#00c89c"/></linearGradient>
<linearGradient id="p298" gradientUnits="userSpaceOnUse" x1="454.3" x2="1293.7" y1="0" y2="0"><stop offset="0" stop-color="#b4c60c"/><stop offset=".125" stop-color="#7acb39"/><stop offset=".188" stop-color="#58cd49"/><stop offset=".25" stop-color="#2ace56"/><stop offset=".266" stop-color="#13ce59"/><stop offset=".281" stop-color="#00ce5b"/><stop offset=".312" stop-color="#00ce61"/><stop offset=".375" stop-color="#00ce6b"/><stop offset=".5" stop-color="#00cd7b"/><stop offset=".75" stop-color="#00cb8f"/><stop offset="1" stop-color="#00c89b"/></linearGradient>
<linearGradient id="p299" gradientUnits="userSpaceOnUse" x1="452.5" x2="1291.9" y1="0" y2="0"><stop offset="0" stop-color="#bec500"/><stop offset=".062" stop-color="#a2c81e"/><stop offset=".125" stop-color="#84ca32"/><stop offset=".25" stop-color="#3ecd51"/><stop offset=".281" stop-color="#20ce57"/><stop offset=".297" stop-color="#00ce5a"/><stop offset=".312" stop-color="#00ce5d"/><stop offset=".375" stop-color="#00ce67"/><stop offset=".5" stop-color="#00cd78"/><stop offset=".75" stop-color="#00cb8d"/><stop offset="1" stop-color="#00c89a"/></linearGradient>
<linearGradient id="p300" gradientUnits="userSpaceOnUse" x1="450.7" x2="1290.1" y1="0" y2="0"><stop offset="0" stop-color="#c7c300"/><stop offset=".031" stop-color="#b9c506"/><stop offset=".062" stop-color="#abc716"/><stop offset=".125" stop-color="#8eca2c"/><stop offset=".25" stop-color="#4dcd4d"/><stop offset=".281" stop-color="#37cd53"/><stop offset=".297" stop-color="#28ce56"/><stop offset=".312" stop-color="#10ce59"/><stop offset=".328" stop-color="#00ce5c"/><stop offset=".344" stop-color="#00ce5e"/><stop offset=".375" stop-color="#00ce64"/><stop offset=".5" stop-color="#00cd75"/><stop offset=".75" stop-color="#00cb8c"/><stop offset="1" stop-color="#00c999"/></linearGradient>
<linearGradient id="p301" gradientUnits="userSpaceOnUse" x1="448.9" x2="1288.3" y1="0" y2="0"><stop offset="0" stop-color="#cfc200"/><stop offset=".031" stop-color="#c1c400"/><stop offset=".062" stop-color="#b4c60d"/><stop offset=".125" stop-color="#97c926"/><stop offset=".25" stop-color="#5acd48"/><stop offset=".312" stop-color="#2ecd55"/><stop offset=".328" stop-color="#1bce58"/><stop offset=".344" stop-color="#00ce5b"/><stop offset=".375" stop-color="#00ce60"/><stop offset=".5" stop-color="#00ce72"/><stop offset=".75" stop-color="#00cb8a"/><stop offset="1" stop-color="#00c997"/></linearGradient>
<linearGradient id="p302" gradientUnits="userSpaceOnUse" x1="447.2" x2="1286.6" y1="0" y2="0"><stop offset="0" stop-color="#d6c100"/><stop offset=".062" stop-color="#bcc502"/><stop offset=".125" stop-color="#a0c81f"/><stop offset=".25" stop-color="#65cc43"/><stop offset=".312" stop-color="#3fcd51"/><stop offset=".344" stop-color="#22ce57"/><stop offset=".359" stop-color="#02ce5a"/><stop offset=".375" stop-color="#00ce5c"/><stop offset=".5" stop-color="#00ce70"/><stop offset=".75" stop-color="#00cc88"/><stop offset="1" stop-color="#00c996"/></linearGradient>
<linearGradient id="p303" gradientUnits="userSpaceOnUse" x1="445.4" x2="1284.8" y1="0" y2="0"><stop offset="0" stop-color="#dec000"/><stop offset=".062" stop-color="#c4c400"/><stop offset=".094" stop-color="#b6c609"/><stop offset=".125" stop-color="#a8c718"/><stop offset=".25" stop-color="#6fcc3f"/><stop offset=".312" stop-color="#4ccd4d"/><stop offset=".344" stop-color="#36cd53"/><stop offset=".359" stop-color="#27ce56"/><stop offset=".375" stop-color="#10ce59"/><stop offset=".391" stop-color="#00ce5c"/><stop offset=".406" stop-color="#00ce5e"/><stop offset=".438" stop-color="#00ce63"/><stop offset=".5" stop-color="#00ce6d"/><stop offset=".75" stop-color="#00cc86"/><stop offset="1" stop-color="#00c995"/></linearGradient>
<linearGradient id="p304" gradientUnits="userSpaceOnUse" x1="443.6" x2="1283.0" y1="0" y2="0"><stop offset="0" stop-color="#e4bf00"/><stop offset=".062" stop-color="#cbc300"/><stop offset=".094" stop-color="#bec500"/><stop offset=".125" stop-color="#b0c611"/><stop offset=".25" stop-color="#78cb3a"/><stop offset=".312" stop-color="#58cd49"/><stop offset=".375" stop-color="#2ccd55"/><stop offset=".391" stop-color="#18ce58"/><stop offset=".406" stop-color="#00ce5b"/><stop offset=".438" stop-color="#00ce60"/><stop offset=".5" stop-color="#00ce6a"/><stop offset=".75" stop-color="#00cc84"/><stop offset="1" stop-color="#00ca94"/></linearGradient>
<linearGradient id="p305" gradientUnits="userSpaceOnUse" x1="441.8" x2="1281.2" y1="0" y2="0"><stop offset="0" stop-color="#ebbe00"/><stop offset=".062" stop-color="#d2c200"/><stop offset=".094" stop-color="#c5c400"/><stop offset=".125" stop-color="#b8c507"/><stop offset=".188" stop-color="#9cc822"/><stop offset=".25" stop-color="#80cb35"/><stop offset=".375" stop-color="#3ccd52"/><stop offset=".406" stop-color="#1dce58"/><stop offset=".422" stop-color="#00ce5a"/><stop offset=".438" stop-color="#00ce5d"/><stop offset=".5" stop-color="#00ce67"/><stop offset=".75" stop-color="#00cc83"/><stop offset="1" stop-color="#00ca93"/></linearGradient>
<linearGradient id="p306" gradientUnits="userSpaceOnUse" x1="440.0" x2="1279.4" y1="0" y2="0"><stop offset="0" stop-color="#f1bd00"/><stop offset=".125" stop-color="#bfc400"/><stop offset=".188" stop-color="#a4c81c"/><stop offset=".25" stop-color="#88ca30"/><stop offset=".375" stop-color="#48cd4e"/><stop offset=".406" stop-color="#31cd54"/><stop offset=".422" stop-color="#21ce57"/><stop offset=".438" stop-color="#01ce5a"/><stop offset=".5" stop-color="#00ce64"/><stop offset=".75" stop-color="#00cd81"/><stop offset="1" stop-color="#00ca91"/></linearGradient>
<linearGradient id="p307" gradientUnits="userSpaceOnUse" x1="438.2" x2="1277.6" y1="0" y2="0"><stop offset="0" stop-color="#f7bc08"/><stop offset=".016" stop-color="#f1bd00"/><stop offset=".031" stop-color="#ebbe00"/><stop offset=".062" stop-color="#dfc000"/><stop offset=".125" stop-color="#c5c300"/><stop offset=".156" stop-color="#b8c507"/><stop offset=".188" stop-color="#abc716"/><stop offset=".25" stop-color="#90ca2b"/><stop offset=".375" stop-color="#53cd4b"/><stop offset=".438" stop-color="#24ce57"/><stop offset=".453" stop-color="#08ce59"/><stop offset=".469" stop-color="#00ce5c"/><stop offset=".5" stop-color="#00ce61"/><stop offset=".75" stop-color="#00cd7f"/><stop offset="1" stop-color="#00ca90"/></linearGradient>
<linearGradient id="p308" gradientUnits="userSpaceOnUse" x1="436.4" x2="1275.8" y1="0" y2="0"><stop offset="0" stop-color="#fcbc14"/><stop offset=".031" stop-color="#f1bd00"/><stop offset=".062" stop-color="#e5bf00"/><stop offset=".125" stop-color="#ccc300"/><stop offset=".156" stop-color="#bfc400"/><stop offset=".188" stop-color="#b2c60f"/><stop offset=".25" stop-color="#97c926"/><stop offset=".375" stop-color="#5ccc47"/><stop offset=".438" stop-color="#34cd54"/><stop offset=".453" stop-color="#25ce56"/><stop offset=".469" stop-color="#0dce59"/><stop offset=".484" stop-color="#00ce5c"/><stop offset=".5" stop-color="#00ce5e"/><stop offset=".75" stop-color="#00cd7d"/><stop offset="1" stop-color="#00cb8f"/></linearGradient>
<linearGradient id="p309" gradientUnits="userSpaceOnUse" x1="434.6" x2="1274.0" y1="0" y2="0"><stop offset="0" stop-color="#ffbb1c"/><stop offset=".031" stop-color="#f6bc06"/><stop offset=".062" stop-color="#eabe00"/><stop offset=".125" stop-color="#d2c200"/><stop offset=".156" stop-color="#c5c400"/><stop offset=".188" stop-color="#b8c507"/><stop offset=".25" stop-color="#9dc821"/><stop offset=".375" stop-color="#64cc44"/><stop offset=".438" stop-color="#41cd50"/><stop offset=".469" stop-color="#27ce56"/><stop offset=".484" stop-color="#10ce59"/><stop offset=".5" stop-color="#00ce5b"/><stop offset=".75" stop-color="#00cd7c"/><stop offset="1" stop-color="#00cb8e"/></linearGradient>
<linearGradient id="p310" gradientUnits="userSpaceOnUse" x1="432.9" x2="1272.3" y1="0" y2="0"><stop offset="0" stop-color="#ffbb22"/><stop offset=".062" stop-color="#efbd00"/><stop offset=".125" stop-color="#d7c100"/><stop offset=".188" stop-color="#bec400"/><stop offset=".25" stop-color="#a4c81c"/><stop offset=".375" stop-color="#6ccc40"/><stop offset=".438" stop-color="#4bcd4d"/><stop offset=".469" stop-color="#36cd53"/><stop offset=".5" stop-color="#12ce59"/><stop offset=".516" stop-color="#00ce5b"/><stop offset=".531" stop-color="#00ce5e"/><stop offset=".562" stop-color="#00ce63"/><stop offset=".625" stop-color="#00ce6c"/><stop offset=".75" stop-color="#00cd7a"/><stop offset="1" stop-color="#00cb8d"/></linearGradient>
<linearGradient id="p311" gradientUnits="userSpaceOnUse" x1="431.1" x2="1270.5" y1="0" y2="0"><stop offset="0" stop-color="#ffbc28"/><stop offset=".031" stop-color="#ffbb1a"/><stop offset=".062" stop-color="#f4bd04"/><stop offset=".125" stop-color="#ddc000"/><stop offset=".188" stop-color="#c4c400"/><stop offset=".219" stop-color="#b7c508"/><stop offset=".25" stop-color="#aac717"/><stop offset=".375" stop-color="#73cb3c"/><stop offset=".438" stop-color="#54cd4a"/><stop offset=".5" stop-color="#28ce56"/><stop offset=".516" stop-color="#12ce59"/><stop offset=".531" stop-color="#00ce5b"/><stop offset=".562" stop-color="#00ce60"/><stop offset=".625" stop-color="#00ce69"/><stop offset=".75" stop-color="#00cd78"/><stop offset="1" stop-color="#00cb8c"/></linearGradient>
<linearGradient id="p312" gradientUnits="userSpaceOnUse" x1="429.3" x2="1268.7" y1="0" y2="0"><stop offset="0" stop-color="#ffbc2a"/><stop offset=".031" stop-color="#ffbb20"/><stop offset=".062" stop-color="#f9bc0e"/><stop offset=".078" stop-color="#f3bd02"/><stop offset=".094" stop-color="#eebd00"/><stop offset=".125" stop-color="#e2bf00"/><stop offset=".188" stop-color="#c9c300"/><stop offset=".219" stop-color="#bdc501"/><stop offset=".25" stop-color="#b0c611"/><stop offset=".375" stop-color="#7acb39"/><stop offset=".438" stop-color="#5ccc47"/><stop offset=".5" stop-color="#35cd53"/><stop offset=".531" stop-color="#12ce59"/><stop offset=".547" stop-color="#00ce5b"/><stop offset=".562" stop-color="#00ce5e"/><stop offset=".625" stop-color="#00ce67"/><stop offset=".75" stop-color="#00cd77"/><stop offset="1" stop-color="#00cb8a"/></linearGradient>
<linearGradient id="p313" gradientUnits="userSpaceOnUse" x1="427.5" x2="1266.9" y1="0" y2="0"><stop offset="0" stop-color="#ffbe29"/><stop offset=".031" stop-color="#ffbb25"/><stop offset=".062" stop-color="#fdbc17"/><stop offset=".094" stop-color="#f2bd01"/><stop offset=".125" stop-color="#e7be00"/><stop offset=".188" stop-color="#cfc200"/><stop offset=".219" stop-color="#c2c400"/><stop offset=".25" stop-color="#b5c60a"/><stop offset=".375" stop-color="#80cb35"/><stop offset=".5" stop-color="#40cd51"/><stop offset=".531" stop-color="#27ce56"/><stop offset=".547" stop-color="#11ce59"/><stop offset=".562" stop-color="#00ce5b"/><stop offset=".625" stop-color="#00ce65"/><stop offset=".75" stop-color="#00cd75"/><stop offset="1" stop-color="#00cc89"/></linearGradient>
<linearGradient id="p314" gradientUnits="userSpaceOnUse" x1="425.7" x2="1265.1" y1="0" y2="0"><stop offset="0" stop-color="#ffbf28"/><stop offset=".031" stop-color="#ffbc2a"/><stop offset=".062" stop-color="#ffbb1d"/><stop offset=".094" stop-color="#f7bc09"/><stop offset=".109" stop-color="#f1bd00"/><stop offset=".125" stop-color="#ebbe00"/><stop offset=".25" stop-color="#bbc504"/><stop offset=".312" stop-color="#a1c81e"/><stop offset=".375" stop-color="#86ca31"/><stop offset=".5" stop-color="#49cd4e"/><stop offset=".531" stop-color="#34cd54"/><stop offset=".547" stop-color="#26ce56"/><stop offset=".562" stop-color="#0fce59"/><stop offset=".578" stop-color="#00ce5b"/><stop offset=".594" stop-color="#00ce5e"/><stop offset=".625" stop-color="#00ce63"/><stop offset=".75" stop-color="#00ce73"/><stop offset="1" stop-color="#00cc88"/></linearGradient>
<linearGradient id="p315" gradientUnits="userSpaceOnUse" x1="423.9" x2="1263.3" y1="0" y2="0"><stop offset="0" stop-color="#ffc125"/><stop offset=".031" stop-color="#ffbd2a"/><stop offset=".062" stop-color="#ffbb22"/><stop offset=".125" stop-color="#f0bd00"/><stop offset=".25" stop-color="#c0c400"/><stop offset=".375" stop-color="#8cca2e"/><stop offset=".5" stop-color="#51cd4b"/><stop offset=".562" stop-color="#24ce57"/><stop offset=".578" stop-color="#0cce59"/><stop offset=".594" stop-color="#00ce5c"/><stop offset=".625" stop-color="#00ce61"/><stop offset=".75" stop-color="#00ce71"/><stop offset="1" stop-color="#00cc87"/></linearGradient>
<linearGradient id="p316" gradientUnits="userSpaceOnUse" x1="422.1" x2="1261.5" y1="0" y2="0"><stop offset="0" stop-color="#ffc321"/><stop offset=".031" stop-color="#ffbe29"/><stop offset=".062" stop-color="#ffbb27"/><stop offset=".094" stop-color="#ffbc19"/><stop offset=".125" stop-color="#f4bd03"/><stop offset=".25" stop-color="#c5c400"/><stop offset=".375" stop-color="#91c92a"/><stop offset=".5" stop-color="#58cd49"/><stop offset=".562" stop-color="#31cd54"/><stop offset=".578" stop-color="#22ce57"/><stop offset=".594" stop-color="#06ce59"/><stop offset=".609" stop-color="#00ce5c"/><stop offset=".625" stop-color="#00ce5e"/><stop offset=".75" stop-color="#00ce6f"/><stop offset="1" stop-color="#00cc86"/></linearGradient>
<linearGradient id="p317" gradientUnits="userSpaceOnUse" x1="420.4" x2="1259.8" y1="0" y2="0"><stop offset="0" stop-color="#ffc61d"/><stop offset=".031" stop-color="#ffbf28"/><stop offset=".062" stop-color="#ffbc2a"/><stop offset=".125" stop-color="#f8bc0c"/><stop offset=".141" stop-color="#f2bd01"/><stop offset=".156" stop-color="#edbe00"/><stop offset=".188" stop-color="#e1bf00"/><stop offset=".25" stop-color="#c9c300"/><stop offset=".5" stop-color="#5fcc46"/><stop offset=".562" stop-color="#3bcd52"/><stop offset=".594" stop-color="#1fce57"/><stop offset=".609" stop-color="#00ce5a"/><stop offset=".625" stop-color="#00ce5c"/><stop offset=".75" stop-color="#00ce6e"/><stop offset="1" stop-color="#00cc85"/></linearGradient>
<linearGradient id="p318" gradientUnits="userSpaceOnUse" x1="418.6" x2="1258.0" y1="0" y2="0"><stop offset="0" stop-color="#ffc818"/><stop offset=".062" stop-color="#ffbd2a"/><stop offset=".094" stop-color="#ffbb23"/><stop offset=".125" stop-color="#fbbc13"/><stop offset=".156" stop-color="#f1bd00"/><stop offset=".188" stop-color="#e5bf00"/><stop offset=".25" stop-color="#cec200"/><stop offset=".281" stop-color="#c1c400"/><stop offset=".312" stop-color="#b5c60b"/><stop offset=".375" stop-color="#9bc923"/><stop offset=".5" stop-color="#65cc43"/><stop offset=".562" stop-color="#44cd50"/><stop offset=".594" stop-color="#2dcd55"/><stop offset=".609" stop-color="#1cce58"/><stop offset=".625" stop-color="#00ce5a"/><stop offset=".75" stop-color="#00ce6c"/><stop offset="1" stop-color="#00cc84"/></linearGradient>
<linearGradient id="p319" gradientUnits="userSpaceOnUse" x1="416.8" x2="1256.2" y1="0" y2="0"><stop offset="0" stop-color="#ffca13"/><stop offset=".062" stop-color="#ffbe29"/><stop offset=".094" stop-color="#ffbb27"/><stop offset=".125" stop-color="#ffbc19"/><stop offset=".156" stop-color="#f4bd04"/><stop offset=".188" stop-color="#e9be00"/><stop offset=".25" stop-color="#d2c200"/><stop offset=".281" stop-color="#c6c300"/><stop offset=".312" stop-color="#b9c505"/><stop offset=".375" stop-color="#a0c81f"/><stop offset=".5" stop-color="#6bcc41"/><stop offset=".562" stop-color="#4bcd4d"/><stop offset=".594" stop-color="#37cd53"/><stop offset=".625" stop-color="#17ce58"/><stop offset=".641" stop-color="#00ce5b"/><stop offset=".656" stop-color="#00ce5d"/><stop offset=".688" stop-color="#00ce62"/><stop offset=".75" stop-color="#00ce6a"/><stop offset="1" stop-color="#00cc83"/></linearGradient>
<linearGradient id="p320" gradientUnits="userSpaceOnUse" x1="415.0" x2="1254.4" y1="0" y2="0"><stop offset="0" stop-color="#ffcc0d"/><stop offset=".062" stop-color="#ffbf28"/><stop offset=".094" stop-color="#ffbc2a"/><stop offset=".125" stop-color="#ffbb1e"/><stop offset=".156" stop-color="#f8bc0c"/><stop offset=".172" stop-color="#f2bd01"/><stop offset=".188" stop-color="#edbe00"/><stop offset=".25" stop-color="#d6c100"/><stop offset=".312" stop-color="#bdc500"/><stop offset=".375" stop-color="#a5c81c"/><stop offset=".5" stop-color="#70cc3e"/><stop offset=".562" stop-color="#52cd4b"/><stop offset=".625" stop-color="#26ce56"/><stop offset=".641" stop-color="#12ce59"/><stop offset=".656" stop-color="#00ce5b"/><stop offset=".688" stop-color="#00ce60"/><stop offset=".75" stop-color="#00ce69"/><stop offset="1" stop-color="#00cd81"/></linearGradient>
<linearGradient id="p321" gradientUnits="userSpaceOnUse" x1="413.2" x2="1252.6" y1="0" y2="0"><stop offset="0" stop-color="#ffce06"/><stop offset=".062" stop-color="#ffc125"/><stop offset=".094" stop-color="#ffbd2a"/><stop offset=".125" stop-color="#ffbb22"/><stop offset=".188" stop-color="#f0bd00"/><stop offset=".25" stop-color="#dac000"/><stop offset=".312" stop-color="#c2c400"/><stop offset=".375" stop-color="#a9c718"/><stop offset=".5" stop-color="#75cb3b"/><stop offset=".562" stop-color="#58cd49"/><stop offset=".625" stop-color="#31cd54"/><stop offset=".641" stop-color="#22ce57"/><stop offset=".656" stop-color="#09ce59"/><stop offset=".672" stop-color="#00ce5c"/><stop offset=".688" stop-color="#00ce5e"/><stop offset=".75" stop-color="#00ce67"/><stop offset="1" stop-color="#00cd80"/></linearGradient>
<linearGradient id="p322" gradientUnits="userSpaceOnUse" x1="411.4" x2="1250.8" y1="0" y2="0"><stop offset="0" stop-color="#ffd000"/><stop offset=".062" stop-color="#ffc322"/><stop offset=".094" stop-color="#ffbe29"/><stop offset=".125" stop-color="#ffbb26"/><stop offset=".156" stop-color="#febc18"/><stop offset=".188" stop-color="#f4bd03"/><stop offset=".25" stop-color="#ddc000"/><stop offset=".312" stop-color="#c6c300"/><stop offset=".344" stop-color="#b9c505"/><stop offset=".375" stop-color="#adc714"/><stop offset=".5" stop-color="#79cb39"/><stop offset=".625" stop-color="#3acd52"/><stop offset=".656" stop-color="#1dce57"/><stop offset=".672" stop-color="#00ce5a"/><stop offset=".688" stop-color="#00ce5c"/><stop offset=".75" stop-color="#00ce65"/><stop offset="1" stop-color="#00cd7f"/></linearGradient>
<linearGradient id="p323" gradientUnits="userSpaceOnUse" x1="409.6" x2="1249.0" y1="0" y2="0"><stop offset="0" stop-color="#ffd200"/><stop offset=".062" stop-color="#ffc41f"/><stop offset=".094" stop-color="#ffbf29"/><stop offset=".125" stop-color="#ffbc2a"/><stop offset=".156" stop-color="#ffbb1d"/><stop offset=".188" stop-color="#f7bc09"/><stop offset=".203" stop-color="#f2bd00"/><stop offset=".219" stop-color="#ecbe00"/><stop offset=".25" stop-color="#e1bf00"/><stop offset=".312" stop-color="#c9c300"/><stop offset=".344" stop-color="#bdc501"/><stop offset=".375" stop-color="#b1c610"/><stop offset=".5" stop-color="#7ecb36"/><stop offset=".625" stop-color="#41cd50"/><stop offset=".656" stop-color="#29ce56"/><stop offset=".688" stop-color="#00ce5b"/><stop offset=".75" stop-color="#00ce64"/><stop offset="1" stop-color="#00cd7e"/></linearGradient>
<linearGradient id="p324" gradientUnits="userSpaceOnUse" x1="407.9" x2="1247.3" y1="0" y2="0"><stop offset="0" stop-color="#ffd400"/><stop offset=".016" stop-color="#ffd100"/><stop offset=".031" stop-color="#ffcd0a"/><stop offset=".062" stop-color="#ffc61c"/><stop offset=".125" stop-color="#ffbc2a"/><stop offset=".188" stop-color="#fabc10"/><stop offset=".219" stop-color="#efbd00"/><stop offset=".25" stop-color="#e4bf00"/><stop offset=".312" stop-color="#cdc200"/><stop offset=".344" stop-color="#c1c400"/><stop offset=".375" stop-color="#b5c60b"/><stop offset=".5" stop-color="#82cb34"/><stop offset=".625" stop-color="#47cd4f"/><stop offset=".656" stop-color="#32cd54"/><stop offset=".672" stop-color="#25ce56"/><stop offset=".688" stop-color="#0fce59"/><stop offset=".703" stop-color="#00ce5b"/><stop offset=".719" stop-color="#00ce5e"/><stop offset=".75" stop-color="#00ce62"/><stop offset="1" stop-color="#00cd7d"/></linearGradient>
<linearGradient id="p325" gradientUnits="userSpaceOnUse" x1="406.1" x2="1245.5" y1="0" y2="0"><stop offset="0" stop-color="#ffd600"/><stop offset=".031" stop-color="#ffcf04"/><stop offset=".062" stop-color="#ffc818"/><stop offset=".125" stop-color="#ffbd29"/><stop offset=".156" stop-color="#ffbb24"/><stop offset=".188" stop-color="#fdbc16"/><stop offset=".219" stop-color="#f2bd01"/><stop offset=".25" stop-color="#e7be00"/><stop offset=".312" stop-color="#d0c200"/><stop offset=".344" stop-color="#c4c400"/><stop offset=".375" stop-color="#b8c507"/><stop offset=".5" stop-color="#86ca31"/><stop offset=".625" stop-color="#4dcd4d"/><stop offset=".656" stop-color="#3acd52"/><stop offset=".688" stop-color="#1fce57"/><stop offset=".703" stop-color="#01ce5a"/><stop offset=".719" stop-color="#00ce5c"/><stop offset=".75" stop-color="#00ce61"/><stop offset="1" stop-color="#00cd7c"/></linearGradient>
<linearGradient id="p326" gradientUnits="userSpaceOnUse" x1="404.3" x2="1243.7" y1="0" y2="0"><stop offset="0" stop-color="#ffd800"/><stop offset=".031" stop-color="#ffd100"/><stop offset=".062" stop-color="#ffca14"/><stop offset=".125" stop-color="#ffbe29"/><stop offset=".156" stop-color="#ffbb27"/><stop offset=".188" stop-color="#ffbb1a"/><stop offset=".219" stop-color="#f5bc05"/><stop offset=".25" stop-color="#eabe00"/><stop offset=".375" stop-color="#bcc503"/><stop offset=".438" stop-color="#a3c81d"/><stop offset=".5" stop-color="#8aca2f"/><stop offset=".625" stop-color="#52cd4b"/><stop offset=".688" stop-color="#29ce56"/><stop offset=".719" stop-color="#00ce5b"/><stop offset=".75" stop-color="#00ce5f"/><stop offset="1" stop-color="#00cd7b"/></linearGradient>
<linearGradient id="p327" gradientUnits="userSpaceOnUse" x1="402.5" x2="1241.9" y1="0" y2="0"><stop offset="0" stop-color="#ffda00"/><stop offset=".031" stop-color="#ffd200"/><stop offset=".062" stop-color="#ffcb10"/><stop offset=".125" stop-color="#ffbf29"/><stop offset=".156" stop-color="#ffbc2a"/><stop offset=".188" stop-color="#ffbb1e"/><stop offset=".219" stop-color="#f8bc0c"/><stop offset=".234" stop-color="#f3bd01"/><stop offset=".25" stop-color="#edbe00"/><stop offset=".375" stop-color="#bfc400"/><stop offset=".5" stop-color="#8eca2c"/><stop offset=".625" stop-color="#57cd49"/><stop offset=".688" stop-color="#32cd54"/><stop offset=".703" stop-color="#24ce57"/><stop offset=".719" stop-color="#0dce59"/><stop offset=".734" stop-color="#00ce5b"/><stop offset=".75" stop-color="#00ce5e"/><stop offset="1" stop-color="#00cd7a"/></linearGradient>
<linearGradient id="p328" gradientUnits="userSpaceOnUse" x1="400.7" x2="1240.1" y1="0" y2="0"><stop offset="0" stop-color="#ffdc00"/><stop offset=".031" stop-color="#ffd400"/><stop offset=".047" stop-color="#ffd000"/><stop offset=".062" stop-color="#ffcd0b"/><stop offset=".125" stop-color="#ffc027"/><stop offset=".156" stop-color="#ffbc2a"/><stop offset=".188" stop-color="#ffbb21"/><stop offset=".25" stop-color="#f0bd00"/><stop offset=".375" stop-color="#c2c400"/><stop offset=".5" stop-color="#91c92a"/><stop offset=".625" stop-color="#5bcc47"/><stop offset=".688" stop-color="#38cd53"/><stop offset=".719" stop-color="#1dce58"/><stop offset=".734" stop-color="#00ce5a"/><stop offset=".75" stop-color="#00ce5c"/><stop offset="1" stop-color="#00cd79"/></linearGradient>
<linearGradient id="p329" gradientUnits="userSpaceOnUse" x1="398.9" x2="1238.3" y1="0" y2="0"><stop offset="0" stop-color="#ffde00"/><stop offset=".031" stop-color="#ffd600"/><stop offset=".047" stop-color="#ffd200"/><stop offset=".062" stop-color="#ffce05"/><stop offset=".125" stop-color="#ffc224"/><stop offset=".156" stop-color="#ffbd2a"/><stop offset=".188" stop-color="#ffbb24"/><stop offset=".25" stop-color="#f2bd01"/><stop offset=".375" stop-color="#c5c400"/><stop offset=".406" stop-color="#b9c506"/><stop offset=".438" stop-color="#adc714"/><stop offset=".5" stop-color="#94c928"/><stop offset=".625" stop-color="#60cc46"/><stop offset=".688" stop-color="#3ecd51"/><stop offset=".719" stop-color="#27ce56"/><stop offset=".734" stop-color="#13ce59"/><stop offset=".75" stop-color="#00ce5b"/><stop offset="1" stop-color="#00cd79"/></linearGradient>
<linearGradient id="p330" gradientUnits="userSpaceOnUse" x1="397.1" x2="1236.5" y1="0" y2="0"><stop offset="0" stop-color="#ffe000"/><stop offset=".062" stop-color="#ffd000"/><stop offset=".094" stop-color="#ffc915"/><stop offset=".125" stop-color="#ffc322"/><stop offset=".156" stop-color="#ffbe29"/><stop offset=".188" stop-color="#ffbb27"/><stop offset=".219" stop-color="#ffbb1a"/><stop offset=".25" stop-color="#f5bc04"/><stop offset=".375" stop-color="#c8c300"/><stop offset=".406" stop-color="#bcc502"/><stop offset=".438" stop-color="#b0c611"/><stop offset=".5" stop-color="#98c926"/><stop offset=".625" stop-color="#64cc44"/><stop offset=".688" stop-color="#44cd50"/><stop offset=".719" stop-color="#2ecd55"/><stop offset=".734" stop-color="#1fce57"/><stop offset=".75" stop-color="#03ce5a"/><stop offset="1" stop-color="#00cd78"/></linearGradient>
<linearGradient id="p331" gradientUnits="userSpaceOnUse" x1="395.4" x2="1234.8" y1="0" y2="0"><stop offset="0" stop-color="#fee100"/><stop offset=".062" stop-color="#ffd100"/><stop offset=".125" stop-color="#ffc420"/><stop offset=".156" stop-color="#ffbf29"/><stop offset=".188" stop-color="#ffbc29"/><stop offset=".25" stop-color="#f7bc0a"/><stop offset=".266" stop-color="#f2bd00"/><stop offset=".281" stop-color="#edbe00"/><stop offset=".312" stop-color="#e1bf00"/><stop offset=".375" stop-color="#cbc300"/><stop offset=".406" stop-color="#bfc400"/><stop offset=".438" stop-color="#b3c60e"/><stop offset=".5" stop-color="#9bc923"/><stop offset=".625" stop-color="#67cc42"/><stop offset=".688" stop-color="#49cd4e"/><stop offset=".719" stop-color="#35cd53"/><stop offset=".75" stop-color="#16ce58"/><stop offset=".766" stop-color="#00ce5b"/><stop offset=".781" stop-color="#00ce5d"/><stop offset=".812" stop-color="#00ce61"/><stop offset=".875" stop-color="#00ce6a"/><stop offset="1" stop-color="#00cd77"/></linearGradient>
<linearGradient id="p332" gradientUnits="userSpaceOnUse" x1="393.6" x2="1233.0" y1="0" y2="0"><stop offset="0" stop-color="#fce300"/><stop offset=".062" stop-color="#ffd300"/><stop offset=".078" stop-color="#ffcf02"/><stop offset=".094" stop-color="#ffcc0e"/><stop offset=".125" stop-color="#ffc51d"/><stop offset=".188" stop-color="#ffbc2a"/><stop offset=".25" stop-color="#f9bc0f"/><stop offset=".266" stop-color="#f4bd03"/><stop offset=".281" stop-color="#efbd00"/><stop offset=".312" stop-color="#e4bf00"/><stop offset=".375" stop-color="#cdc200"/><stop offset=".406" stop-color="#c2c400"/><stop offset=".438" stop-color="#b6c60a"/><stop offset=".5" stop-color="#9ec821"/><stop offset=".625" stop-color="#6bcc41"/><stop offset=".688" stop-color="#4dcd4d"/><stop offset=".75" stop-color="#21ce57"/><stop offset=".766" stop-color="#06ce59"/><stop offset=".781" stop-color="#00ce5c"/><stop offset=".812" stop-color="#00ce60"/><stop offset=".875" stop-color="#00ce68"/><stop offset="1" stop-color="#00cd76"/></linearGradient>
<linearGradient id="p333" gradientUnits="userSpaceOnUse" x1="391.8" x2="1231.2" y1="0" y2="0"><stop offset="0" stop-color="#fce400"/><stop offset=".062" stop-color="#ffd400"/><stop offset=".078" stop-color="#ffd100"/><stop offset=".094" stop-color="#ffcd0a"/><stop offset=".125" stop-color="#ffc71b"/><stop offset=".188" stop-color="#ffbd2a"/><stop offset=".219" stop-color="#ffbb22"/><stop offset=".25" stop-color="#fbbc13"/><stop offset=".281" stop-color="#f1bd00"/><stop offset=".312" stop-color="#e6bf00"/><stop offset=".375" stop-color="#d0c200"/><stop offset=".406" stop-color="#c4c400"/><stop offset=".438" stop-color="#b8c507"/><stop offset=".5" stop-color="#a0c81f"/><stop offset=".625" stop-color="#6ecc3f"/><stop offset=".688" stop-color="#51cd4b"/><stop offset=".75" stop-color="#28ce56"/><stop offset=".781" stop-color="#00ce5b"/><stop offset=".812" stop-color="#00ce5f"/><stop offset=".875" stop-color="#00ce67"/><stop offset="1" stop-color="#00cd75"/></linearGradient>
<linearGradient id="p334" gradientUnits="userSpaceOnUse" x1="390.0" x2="1229.4" y1="0" y2="0"><stop offset="0" stop-color="#fbe600"/><stop offset=".062" stop-color="#ffd600"/><stop offset=".094" stop-color="#ffce05"/><stop offset=".125" stop-color="#ffc818"/><stop offset=".188" stop-color="#ffbd29"/><stop offset=".219" stop-color="#ffbb25"/><stop offset=".25" stop-color="#fdbc17"/><stop offset=".281" stop-color="#f3bd02"/><stop offset=".312" stop-color="#e9be00"/><stop offset=".375" stop-color="#d2c200"/><stop offset=".438" stop-color="#bbc504"/><stop offset=".5" stop-color="#a3c81d"/><stop offset=".625" stop-color="#71cc3e"/><stop offset=".688" stop-color="#55cd4a"/><stop offset=".75" stop-color="#2fcd55"/><stop offset=".766" stop-color="#20ce57"/><stop offset=".781" stop-color="#06ce59"/><stop offset=".797" stop-color="#00ce5c"/><stop offset=".812" stop-color="#00ce5e"/><stop offset=".875" stop-color="#00ce66"/><stop offset="1" stop-color="#00ce74"/></linearGradient>
<linearGradient id="p335" gradientUnits="userSpaceOnUse" x1="388.2" x2="1227.6" y1="0" y2="0"><stop offset="0" stop-color="#fae700"/><stop offset=".062" stop-color="#ffd700"/><stop offset=".094" stop-color="#ffd001"/><stop offset=".125" stop-color="#ffc916"/><stop offset=".188" stop-color="#ffbe29"/><stop offset=".219" stop-color="#ffbb27"/><stop offset=".25" stop-color="#ffbb1a"/><stop offset=".281" stop-color="#f5bc05"/><stop offset=".312" stop-color="#ebbe00"/><stop offset=".375" stop-color="#d4c100"/><stop offset=".438" stop-color="#bdc501"/><stop offset=".5" stop-color="#a5c71b"/><stop offset=".625" stop-color="#74cb3c"/><stop offset=".75" stop-color="#34cd54"/><stop offset=".781" stop-color="#16ce58"/><stop offset=".797" stop-color="#00ce5b"/><stop offset=".812" stop-color="#00ce5d"/><stop offset=".875" stop-color="#00ce65"/><stop offset="1" stop-color="#00ce74"/></linearGradient>
<linearGradient id="p336" gradientUnits="userSpaceOnUse" x1="386.4" x2="1225.8" y1="0" y2="0"><stop offset="0" stop-color="#fae900"/><stop offset=".062" stop-color="#ffd800"/><stop offset=".094" stop-color="#ffd100"/><stop offset=".125" stop-color="#ffca13"/><stop offset=".188" stop-color="#ffbe29"/><stop offset=".219" stop-color="#ffbc29"/><stop offset=".25" stop-color="#ffbb1d"/><stop offset=".281" stop-color="#f7bc09"/><stop offset=".297" stop-color="#f2bd00"/><stop offset=".312" stop-color="#ecbe00"/><stop offset=".375" stop-color="#d6c100"/><stop offset=".438" stop-color="#bfc400"/><stop offset=".5" stop-color="#a8c719"/><stop offset=".625" stop-color="#76cb3b"/><stop offset=".75" stop-color="#39cd52"/><stop offset=".781" stop-color="#1fce57"/><stop offset=".797" stop-color="#03ce5a"/><stop offset=".812" stop-color="#00ce5c"/><stop offset=".875" stop-color="#00ce65"/><stop offset="1" stop-color="#00ce73"/></linearGradient>
<linearGradient id="p337" gradientUnits="userSpaceOnUse" x1="384.6" x2="1224.0" y1="0" y2="0"><stop offset="0" stop-color="#f9ea00"/><stop offset=".062" stop-color="#ffda00"/><stop offset=".094" stop-color="#ffd200"/><stop offset=".125" stop-color="#ffcb10"/><stop offset=".188" stop-color="#ffbf28"/><stop offset=".219" stop-color="#ffbc2a"/><stop offset=".25" stop-color="#ffbb1f"/><stop offset=".281" stop-color="#f9bc0e"/><stop offset=".297" stop-color="#f4bd03"/><stop offset=".312" stop-color="#eebd00"/><stop offset=".375" stop-color="#d9c100"/><stop offset=".438" stop-color="#c2c400"/><stop offset=".5" stop-color="#aac717"/><stop offset=".625" stop-color="#79cb39"/><stop offset=".75" stop-color="#3dcd51"/><stop offset=".781" stop-color="#26ce56"/><stop offset=".797" stop-color="#12ce59"/><stop offset=".812" stop-color="#00ce5b"/><stop offset=".875" stop-color="#00ce64"/><stop offset="1" stop-color="#00ce72"/></linearGradient>
<linearGradient id="p338" gradientUnits="userSpaceOnUse" x1="382.8" x2="1222.2" y1="0" y2="0"><stop offset="0" stop-color="#f9eb00"/><stop offset=".062" stop-color="#ffdb00"/><stop offset=".094" stop-color="#ffd300"/><stop offset=".109" stop-color="#ffd001"/><stop offset=".125" stop-color="#ffcc0d"/><stop offset=".188" stop-color="#ffc027"/><stop offset=".219" stop-color="#ffbc2a"/><stop offset=".25" stop-color="#ffbb21"/><stop offset=".312" stop-color="#f0bd00"/><stop offset=".375" stop-color="#dac000"/><stop offset=".438" stop-color="#c4c400"/><stop offset=".469" stop-color="#b8c507"/><stop offset=".5" stop-color="#acc715"/><stop offset=".625" stop-color="#7bcb38"/><stop offset=".75" stop-color="#41cd50"/><stop offset=".781" stop-color="#2bcd55"/><stop offset=".797" stop-color="#1cce58"/><stop offset=".812" stop-color="#00ce5a"/><stop offset=".875" stop-color="#00ce63"/><stop offset="1" stop-color="#00ce71"/></linearGradient>
<linearGradient id="p339" gradientUnits="userSpaceOnUse" x1="381.1" x2="1220.5" y1="0" y2="0"><stop offset="0" stop-color="#f9ec00"/><stop offset=".062" stop-color="#ffdc00"/><stop offset=".094" stop-color="#ffd400"/><stop offset=".109" stop-color="#ffd100"/><stop offset=".125" stop-color="#ffcd0a"/><stop offset=".188" stop-color="#ffc126"/><stop offset=".219" stop-color="#ffbd2a"/><stop offset=".25" stop-color="#ffbb23"/><stop offset=".312" stop-color="#f2bd00"/><stop offset=".375" stop-color="#dcc000"/><stop offset=".438" stop-color="#c6c300"/><stop offset=".469" stop-color="#bac505"/><stop offset=".5" stop-color="#aec613"/><stop offset=".625" stop-color="#7ecb37"/><stop offset=".75" stop-color="#45cd4f"/><stop offset=".781" stop-color="#30cd54"/><stop offset=".797" stop-color="#23ce57"/><stop offset=".812" stop-color="#0cce59"/><stop offset=".828" stop-color="#00ce5b"/><stop offset=".844" stop-color="#00ce5e"/><stop offset=".875" stop-color="#00ce62"/><stop offset="1" stop-color="#00ce71"/></linearGradient>
<linearGradient id="p340" gradientUnits="userSpaceOnUse" x1="379.3" x2="1218.7" y1="0" y2="0"><stop offset="0" stop-color="#f9ee00"/><stop offset=".062" stop-color="#ffdd00"/><stop offset=".094" stop-color="#ffd500"/><stop offset=".109" stop-color="#ffd200"/><stop offset=".125" stop-color="#ffce06"/><stop offset=".188" stop-color="#ffc224"/><stop offset=".219" stop-color="#ffbd29"/><stop offset=".25" stop-color="#ffbb25"/><stop offset=".281" stop-color="#fdbc17"/><stop offset=".312" stop-color="#f3bd02"/><stop offset=".375" stop-color="#dec000"/><stop offset=".438" stop-color="#c7c300"/><stop offset=".469" stop-color="#bcc502"/><stop offset=".5" stop-color="#b0c611"/><stop offset=".625" stop-color="#80cb35"/><stop offset=".75" stop-color="#48cd4e"/><stop offset=".781" stop-color="#35cd53"/><stop offset=".812" stop-color="#17ce58"/><stop offset=".828" stop-color="#00ce5a"/><stop offset=".844" stop-color="#00ce5d"/><stop offset=".875" stop-color="#00ce61"/><stop offset="1" stop-color="#00ce70"/></linearGradient>
<linearGradient id="p341" gradientUnits="userSpaceOnUse" x1="377.5" x2="1216.9" y1="0" y2="0"><stop offset="0" stop-color="#f8ef00"/><stop offset=".125" stop-color="#ffcf03"/><stop offset=".188" stop-color="#ffc223"/><stop offset=".219" stop-color="#ffbe29"/><stop offset=".25" stop-color="#ffbb26"/><stop offset=".281" stop-color="#ffbc19"/><stop offset=".312" stop-color="#f5bc04"/><stop offset=".375" stop-color="#dfc000"/><stop offset=".438" stop-color="#c9c300"/><stop offset=".469" stop-color="#bdc500"/><stop offset=".5" stop-color="#b2c60f"/><stop offset=".625" stop-color="#82cb34"/><stop offset=".75" stop-color="#4bcd4d"/><stop offset=".812" stop-color="#1ece57"/><stop offset=".828" stop-color="#01ce5a"/><stop offset=".844" stop-color="#00ce5c"/><stop offset=".875" stop-color="#00ce60"/><stop offset="1" stop-color="#00ce6f"/></linearGradient>
<linearGradient id="p342" gradientUnits="userSpaceOnUse" x1="375.7" x2="1215.1" y1="0" y2="0"><stop offset="0" stop-color="#f8f000"/><stop offset=".125" stop-color="#ffd000"/><stop offset=".188" stop-color="#ffc322"/><stop offset=".219" stop-color="#ffbe29"/><stop offset=".25" stop-color="#ffbb28"/><stop offset=".281" stop-color="#ffbb1b"/><stop offset=".312" stop-color="#f6bc07"/><stop offset=".344" stop-color="#ecbe00"/><stop offset=".375" stop-color="#e1bf00"/><stop offset=".438" stop-color="#cbc300"/><stop offset=".469" stop-color="#bfc400"/><stop offset=".5" stop-color="#b4c60d"/><stop offset=".625" stop-color="#84ca33"/><stop offset=".75" stop-color="#4dcd4d"/><stop offset=".812" stop-color="#23ce57"/><stop offset=".828" stop-color="#0ece59"/><stop offset=".844" stop-color="#00ce5b"/><stop offset=".875" stop-color="#00ce60"/><stop offset="1" stop-color="#00ce6f"/></linearGradient>
<linearGradient id="p343" gradientUnits="userSpaceOnUse" x1="373.9" x2="1213.3" y1="0" y2="0"><stop offset="0" stop-color="#f8f100"/><stop offset=".125" stop-color="#ffd100"/><stop offset=".188" stop-color="#ffc420"/><stop offset=".219" stop-color="#ffbe29"/><stop offset=".25" stop-color="#ffbc29"/><stop offset=".312" stop-color="#f8bc0b"/><stop offset=".328" stop-color="#f2bd01"/><stop offset=".344" stop-color="#edbe00"/><stop offset=".375" stop-color="#e2bf00"/><stop offset=".438" stop-color="#ccc300"/><stop offset=".469" stop-color="#c1c400"/><stop offset=".5" stop-color="#b5c60b"/><stop offset=".625" stop-color="#85ca32"/><stop offset=".75" stop-color="#50cd4c"/><stop offset=".812" stop-color="#28ce56"/><stop offset=".844" stop-color="#00ce5a"/><stop offset=".875" stop-color="#00ce5f"/><stop offset="1" stop-color="#00ce6e"/></linearGradient>
<linearGradient id="p344" gradientUnits="userSpaceOnUse" x1="372.1" x2="1211.5" y1="0" y2="0"><stop offset="0" stop-color="#f8f100"/><stop offset=".125" stop-color="#ffd200"/><stop offset=".188" stop-color="#ffc41f"/><stop offset=".25" stop-color="#ffbc2a"/><stop offset=".312" stop-color="#f9bc0e"/><stop offset=".328" stop-color="#f4bd03"/><stop offset=".344" stop-color="#eebd00"/><stop offset=".375" stop-color="#e4bf00"/><stop offset=".438" stop-color="#cec200"/><stop offset=".469" stop-color="#c2c400"/><stop offset=".5" stop-color="#b7c509"/><stop offset=".625" stop-color="#87ca31"/><stop offset=".75" stop-color="#52cd4b"/><stop offset=".812" stop-color="#2ccd55"/><stop offset=".828" stop-color="#1dce58"/><stop offset=".844" stop-color="#00ce5a"/><stop offset=".875" stop-color="#00ce5e"/><stop offset="1" stop-color="#00ce6e"/></linearGradient>
<linearGradient id="p345" gradientUnits="userSpaceOnUse" x1="370.3" x2="1209.7" y1="0" y2="0"><stop offset="0" stop-color="#f8f200"/><stop offset=".125" stop-color="#ffd200"/><stop offset=".188" stop-color="#ffc51e"/><stop offset=".25" stop-color="#ffbc2a"/><stop offset=".312" stop-color="#fabc10"/><stop offset=".344" stop-color="#f0bd00"/><stop offset=".375" stop-color="#e5bf00"/><stop offset=".438" stop-color="#cfc200"/><stop offset=".469" stop-color="#c4c400"/><stop offset=".5" stop-color="#b8c507"/><stop offset=".625" stop-color="#89ca30"/><stop offset=".75" stop-color="#54cd4a"/><stop offset=".812" stop-color="#2fcd55"/><stop offset=".828" stop-color="#22ce57"/><stop offset=".844" stop-color="#0ace59"/><stop offset=".859" stop-color="#00ce5b"/><stop offset=".875" stop-color="#00ce5e"/><stop offset="1" stop-color="#00ce6d"/></linearGradient>
<linearGradient id="p346" gradientUnits="userSpaceOnUse" x1="368.6" x2="1208.0" y1="0" y2="0"><stop offset="0" stop-color="#f8f300"/><stop offset=".125" stop-color="#ffd300"/><stop offset=".141" stop-color="#ffcf02"/><stop offset=".156" stop-color="#ffcc0d"/><stop offset=".188" stop-color="#ffc61d"/><stop offset=".25" stop-color="#ffbc2a"/><stop offset=".312" stop-color="#fbbc12"/><stop offset=".344" stop-color="#f1bd00"/><stop offset=".375" stop-color="#e6bf00"/><stop offset=".438" stop-color="#d0c200"/><stop offset=".469" stop-color="#c5c400"/><stop offset=".5" stop-color="#b9c505"/><stop offset=".625" stop-color="#8aca2f"/><stop offset=".75" stop-color="#56cd4a"/><stop offset=".812" stop-color="#32cd54"/><stop offset=".844" stop-color="#13ce59"/><stop offset=".859" stop-color="#00ce5b"/><stop offset=".875" stop-color="#00ce5d"/><stop offset="1" stop-color="#00ce6d"/></linearGradient>
<linearGradient id="p347" gradientUnits="userSpaceOnUse" x1="366.8" x2="1206.2" y1="0" y2="0"><stop offset="0" stop-color="#f8f400"/><stop offset=".125" stop-color="#ffd400"/><stop offset=".141" stop-color="#ffd000"/><stop offset=".156" stop-color="#ffcd0c"/><stop offset=".188" stop-color="#ffc61c"/><stop offset=".25" stop-color="#ffbd2a"/><stop offset=".312" stop-color="#fcbc14"/><stop offset=".344" stop-color="#f2bd00"/><stop offset=".375" stop-color="#e7be00"/><stop offset=".5" stop-color="#bbc504"/><stop offset=".625" stop-color="#8bca2e"/><stop offset=".75" stop-color="#58cd49"/><stop offset=".812" stop-color="#35cd53"/><stop offset=".844" stop-color="#18ce58"/><stop offset=".859" stop-color="#00ce5a"/><stop offset=".875" stop-color="#00ce5c"/><stop offset="1" stop-color="#00ce6c"/></linearGradient>
<linearGradient id="p348" gradientUnits="userSpaceOnUse" x1="365.0" x2="1204.4" y1="0" y2="0"><stop offset="0" stop-color="#f8f500"/><stop offset=".125" stop-color="#ffd400"/><stop offset=".141" stop-color="#ffd100"/><stop offset=".156" stop-color="#ffcd0a"/><stop offset=".188" stop-color="#ffc71b"/><stop offset=".25" stop-color="#ffbd2a"/><stop offset=".281" stop-color="#ffbb24"/><stop offset=".312" stop-color="#fdbc16"/><stop offset=".344" stop-color="#f3bd01"/><stop offset=".375" stop-color="#e8be00"/><stop offset=".5" stop-color="#bcc502"/><stop offset=".625" stop-color="#8dca2d"/><stop offset=".75" stop-color="#59cd48"/><stop offset=".812" stop-color="#37cd53"/><stop offset=".844" stop-color="#1dce58"/><stop offset=".859" stop-color="#00ce5a"/><stop offset=".875" stop-color="#00ce5c"/><stop offset="1" stop-color="#00ce6c"/></linearGradient>
<linearGradient id="p349" gradientUnits="userSpaceOnUse" x1="363.2" x2="1202.6" y1="0" y2="0"><stop offset="0" stop-color="#f8f500"/><stop offset=".125" stop-color="#ffd500"/><stop offset=".156" stop-color="#ffce08"/><stop offset=".188" stop-color="#ffc719"/><stop offset=".25" stop-color="#ffbd2a"/><stop offset=".281" stop-color="#ffbb24"/><stop offset=".312" stop-color="#fdbc17"/><stop offset=".344" stop-color="#f4bd03"/><stop offset=".375" stop-color="#e9be00"/><stop offset=".5" stop-color="#bdc501"/><stop offset=".562" stop-color="#a5c71b"/><stop offset=".625" stop-color="#8eca2c"/><stop offset=".75" stop-color="#5bcd48"/><stop offset=".812" stop-color="#39cd52"/><stop offset=".844" stop-color="#20ce57"/><stop offset=".859" stop-color="#08ce59"/><stop offset=".875" stop-color="#00ce5c"/><stop offset="1" stop-color="#00ce6b"/></linearGradient>
<linearGradient id="p350" gradientUnits="userSpaceOnUse" x1="361.4" x2="1200.8" y1="0" y2="0"><stop offset="0" stop-color="#f8f600"/><stop offset=".125" stop-color="#ffd500"/><stop offset=".141" stop-color="#ffd200"/><stop offset=".156" stop-color="#ffce06"/><stop offset=".188" stop-color="#ffc819"/><stop offset=".25" stop-color="#ffbd29"/><stop offset=".281" stop-color="#ffbb25"/><stop offset=".312" stop-color="#febc18"/><stop offset=".344" stop-color="#f4bd04"/><stop offset=".375" stop-color="#eabe00"/><stop offset=".5" stop-color="#bec500"/><stop offset=".562" stop-color="#a6c71a"/><stop offset=".625" stop-color="#8fca2c"/><stop offset=".75" stop-color="#5ccc47"/><stop offset=".812" stop-color="#3bcd52"/><stop offset=".844" stop-color="#23ce57"/><stop offset=".859" stop-color="#0fce59"/><stop offset=".875" stop-color="#00ce5b"/><stop offset="1" stop-color="#00ce6b"/></linearGradient>
<linearGradient id="p351" gradientUnits="userSpaceOnUse" x1="359.6" x2="1199.0" y1="0" y2="0"><stop offset="0" stop-color="#f8f600"/><stop offset=".125" stop-color="#ffd600"/><stop offset=".156" stop-color="#ffcf05"/><stop offset=".188" stop-color="#ffc818"/><stop offset=".25" stop-color="#ffbe29"/><stop offset=".281" stop-color="#ffbb26"/><stop offset=".312" stop-color="#ffbc19"/><stop offset=".344" stop-color="#f5bc05"/><stop offset=".375" stop-color="#ebbe00"/><stop offset=".5" stop-color="#bec400"/><stop offset=".625" stop-color="#90ca2b"/><stop offset=".75" stop-color="#5dcc47"/><stop offset=".812" stop-color="#3dcd51"/><stop offset=".844" stop-color="#26ce56"/><stop offset=".859" stop-color="#14ce59"/><stop offset=".875" stop-color="#00ce5b"/><stop offset="1" stop-color="#00ce6b"/></linearGradient>
<linearGradient id="p352" gradientUnits="userSpaceOnUse" x1="357.8" x2="1197.2" y1="0" y2="0"><stop offset="0" stop-color="#f8f700"/><stop offset=".125" stop-color="#ffd600"/><stop offset=".156" stop-color="#ffcf03"/><stop offset=".188" stop-color="#ffc817"/><stop offset=".25" stop-color="#ffbe29"/><stop offset=".281" stop-color="#ffbb27"/><stop offset=".312" stop-color="#ffbb1a"/><stop offset=".344" stop-color="#f6bc06"/><stop offset=".375" stop-color="#ebbe00"/><stop offset=".5" stop-color="#bfc400"/><stop offset=".625" stop-color="#90c92b"/><stop offset=".75" stop-color="#5ecc46"/><stop offset=".812" stop-color="#3ecd51"/><stop offset=".844" stop-color="#28ce56"/><stop offset=".875" stop-color="#00ce5a"/><stop offset="1" stop-color="#00ce6a"/></linearGradient>
<linearGradient id="p353" gradientUnits="userSpaceOnUse" x1="356.1" x2="1195.5" y1="0" y2="0"><stop offset="0" stop-color="#f8f700"/><stop offset=".125" stop-color="#ffd700"/><stop offset=".156" stop-color="#ffcf02"/><stop offset=".188" stop-color="#ffc916"/><stop offset=".25" stop-color="#ffbe29"/><stop offset=".281" stop-color="#ffbb27"/><stop offset=".312" stop-color="#ffbb1b"/><stop offset=".344" stop-color="#f6bc07"/><stop offset=".375" stop-color="#ecbe00"/><stop offset=".5" stop-color="#c0c400"/><stop offset=".625" stop-color="#91c92a"/><stop offset=".75" stop-color="#5fcc46"/><stop offset=".812" stop-color="#40cd51"/><stop offset=".844" stop-color="#2ace56"/><stop offset=".859" stop-color="#1ace58"/><stop offset=".875" stop-color="#00ce5a"/><stop offset="1" stop-color="#00ce6a"/></linearGradient>
<linearGradient id="p354" gradientUnits="userSpaceOnUse" x1="354.3" x2="1193.7" y1="0" y2="0"><stop offset="0" stop-color="#f8f700"/><stop offset=".125" stop-color="#ffd700"/><stop offset=".156" stop-color="#ffd001"/><stop offset=".188" stop-color="#ffc915"/><stop offset=".25" stop-color="#ffbe29"/><stop offset=".281" stop-color="#ffbc28"/><stop offset=".312" stop-color="#ffbb1c"/><stop offset=".344" stop-color="#f7bc08"/><stop offset=".359" stop-color="#f1bd00"/><stop offset=".375" stop-color="#ecbe00"/><stop offset=".5" stop-color="#c0c400"/><stop offset=".625" stop-color="#92c92a"/><stop offset=".75" stop-color="#60cc46"/><stop offset=".812" stop-color="#41cd51"/><stop offset=".844" stop-color="#2bcd55"/><stop offset=".859" stop-color="#1cce58"/><stop offset=".875" stop-color="#00ce5a"/><stop offset="1" stop-color="#00ce6a"/></linearGradient>
<linearGradient id="p355" gradientUnits="userSpaceOnUse" x1="352.5" x2="1191.9" y1="0" y2="0"><stop offset="0" stop-color="#f8f800"/><stop offset=".125" stop-color="#ffd700"/><stop offset=".156" stop-color="#ffd000"/><stop offset=".188" stop-color="#ffc915"/><stop offset=".25" stop-color="#ffbe29"/><stop offset=".281" stop-color="#ffbc28"/><stop offset=".312" stop-color="#ffbb1c"/><stop offset=".344" stop-color="#f7bc09"/><stop offset=".359" stop-color="#f2bd00"/><stop offset=".375" stop-color="#edbe00"/><stop offset=".5" stop-color="#c1c400"/><stop offset=".625" stop-color="#92c929"/><stop offset=".75" stop-color="#60cc45"/><stop offset=".812" stop-color="#41cd50"/><stop offset=".844" stop-color="#2dcd55"/><stop offset=".859" stop-color="#1ece57"/><stop offset=".875" stop-color="#02ce5a"/><stop offset="1" stop-color="#00ce6a"/></linearGradient>
<linearGradient id="p356" gradientUnits="userSpaceOnUse" x1="350.7" x2="1190.1" y1="0" y2="0"><stop offset="0" stop-color="#f8f800"/><stop offset=".125" stop-color="#ffd700"/><stop offset=".156" stop-color="#ffd000"/><stop offset=".188" stop-color="#ffc914"/><stop offset=".25" stop-color="#ffbe29"/><stop offset=".281" stop-color="#ffbc29"/><stop offset=".312" stop-color="#ffbb1d"/><stop offset=".344" stop-color="#f7bc0a"/><stop offset=".359" stop-color="#f2bd01"/><stop offset=".375" stop-color="#edbe00"/><stop offset=".5" stop-color="#c1c400"/><stop offset=".625" stop-color="#93c929"/><stop offset=".75" stop-color="#61cc45"/><stop offset=".812" stop-color="#42cd50"/><stop offset=".844" stop-color="#2ecd55"/><stop offset=".859" stop-color="#1fce57"/><stop offset=".875" stop-color="#06ce59"/><stop offset=".891" stop-color="#00ce5c"/><stop offset=".906" stop-color="#00ce5e"/><stop offset=".938" stop-color="#00ce62"/><stop offset="1" stop-color="#00ce6a"/></linearGradient>
<linearGradient id="p357" gradientUnits="userSpaceOnUse" x1="348.9" x2="1188.3" y1="0" y2="0"><stop offset="0" stop-color="#f8f800"/><stop offset=".125" stop-color="#ffd800"/><stop offset=".156" stop-color="#ffd000"/><stop offset=".188" stop-color="#ffca14"/><stop offset=".25" stop-color="#ffbe29"/><stop offset=".281" stop-color="#ffbc29"/><stop offset=".312" stop-color="#ffbb1d"/><stop offset=".344" stop-color="#f8bc0b"/><stop offset=".359" stop-color="#f3bd01"/><stop offset=".375" stop-color="#edbe00"/><stop offset=".5" stop-color="#c1c400"/><stop offset=".625" stop-color="#93c929"/><stop offset=".75" stop-color="#61cc45"/><stop offset=".812" stop-color="#43cd50"/><stop offset=".844" stop-color="#2ecd55"/><stop offset=".859" stop-color="#20ce57"/><stop offset=".875" stop-color="#08ce59"/><stop offset=".891" stop-color="#00ce5b"/><stop offset=".906" stop-color="#00ce5e"/><stop offset=".938" stop-color="#00ce62"/><stop offset="1" stop-color="#00ce69"/></linearGradient>
<linearGradient id="p358" gradientUnits="userSpaceOnUse" x1="347.1" x2="1186.5" y1="0" y2="0"><stop offset="0" stop-color="#f8f800"/><stop offset=".125" stop-color="#ffd800"/><stop offset=".156" stop-color="#ffd000"/><stop offset=".188" stop-color="#ffca14"/><stop offset=".25" stop-color="#ffbe29"/><stop offset=".281" stop-color="#ffbc29"/><stop offset=".312" stop-color="#ffbb1d"/><stop offset=".344" stop-color="#f8bc0b"/><stop offset=".359" stop-color="#f3bd01"/><stop offset=".375" stop-color="#edbe00"/><stop offset=".5" stop-color="#c2c400"/><stop offset=".625" stop-color="#93c929"/><stop offset=".75" stop-color="#61cc45"/><stop offset=".812" stop-color="#43cd50"/><stop offset=".844" stop-color="#2fcd55"/><stop offset=".859" stop-color="#21ce57"/><stop offset=".875" stop-color="#0ace59"/><stop offset=".891" stop-color="#00ce5b"/><stop offset=".906" stop-color="#00ce5e"/><stop offset=".938" stop-color="#00ce62"/><stop offset="1" stop-color="#00ce69"/></linearGradient>
<linearGradient id="p359" gradientUnits="userSpaceOnUse" x1="345.3" x2="1184.7" y1="0" y2="0"><stop offset="0" stop-color="#f8f800"/><stop offset=".125" stop-color="#ffd800"/><stop offset=".156" stop-color="#ffd000"/><stop offset=".188" stop-color="#ffca13"/><stop offset=".25" stop-color="#ffbe29"/><stop offset=".281" stop-color="#ffbc29"/><stop offset=".312" stop-color="#ffbb1d"/><stop offset=".344" stop-color="#f8bc0c"/><stop offset=".359" stop-color="#f3bd01"/><stop offset=".375" stop-color="#eebd00"/><stop offset=".5" stop-color="#c2c400"/><stop offset=".625" stop-color="#93c929"/><stop offset=".75" stop-color="#62cc45"/><stop offset=".812" stop-color="#43cd50"/><stop offset=".844" stop-color="#2fcd55"/><stop offset=".859" stop-color="#22ce57"/><stop offset=".875" stop-color="#0bce59"/><stop offset=".891" stop-color="#00ce5b"/><stop offset=".906" stop-color="#00ce5e"/><stop offset=".938" stop-color="#00ce62"/><stop offset="1" stop-color="#00ce69"/></linearGradient>
<linearGradient id="p360" gradientUnits="userSpaceOnUse" x1="343.6" x2="1183.0" y1="0" y2="0"><stop offset="0" stop-color="#f8f800"/><stop offset=".125" stop-color="#ffd800"/><stop offset=".156" stop-color="#ffd000"/><stop offset=".188" stop-color="#ffca13"/><stop offset=".25" stop-color="#ffbe29"/><stop offset=".281" stop-color="#ffbc29"/><stop offset=".312" stop-color="#ffbb1d"/><stop offset=".344" stop-color="#f8bc0c"/><stop offset=".359" stop-color="#f3bd02"/><stop offset=".375" stop-color="#eebd00"/><stop offset=".5" stop-color="#c2c400"/><stop offset=".625" stop-color="#94c929"/><stop offset=".75" stop-color="#62cc45"/><stop offset=".812" stop-color="#43cd50"/><stop offset=".844" stop-color="#2fcd55"/><stop offset=".859" stop-color="#22ce57"/><stop offset=".875" stop-color="#0bce59"/><stop offset=".891" stop-color="#00ce5b"/><stop offset=".906" stop-color="#00ce5d"/><stop offset=".938" stop-color="#00ce62"/><stop offset="1" stop-color="#00ce69"/></linearGradient>
<linearGradient id="f0" gradientUnits="userSpaceOnUse" x1="982.4" x2="1736.5" y1="0" y2="0"><stop offset="0" stop-color="#f8f800"/><stop offset=".018" stop-color="#f8f400"/><stop offset=".07" stop-color="#fbe600"/><stop offset=".114" stop-color="#ffdb00"/><stop offset=".157" stop-color="#ffd100"/><stop offset=".21" stop-color="#ffc61c"/><stop offset=".253" stop-color="#ffbe29"/><stop offset=".296" stop-color="#ffbb24"/><stop offset=".347" stop-color="#f6bc06"/><stop offset=".39" stop-color="#e6bf00"/><stop offset=".433" stop-color="#d6c100"/><stop offset=".484" stop-color="#c1c400"/><stop offset=".526" stop-color="#aec613"/><stop offset=".576" stop-color="#97c926"/><stop offset=".618" stop-color="#82cb34"/><stop offset=".659" stop-color="#6bcc41"/><stop offset=".709" stop-color="#4acd4e"/><stop offset=".749" stop-color="#1ace58"/><stop offset=".79" stop-color="#00ce61"/><stop offset=".838" stop-color="#00ce6c"/><stop offset=".878" stop-color="#00cd75"/><stop offset=".917" stop-color="#00cd7d"/><stop offset=".963" stop-color="#00cc86"/><stop offset="1" stop-color="#00cb8d"/></linearGradient>
<linearGradient id="f1" gradientUnits="userSpaceOnUse" x1="708.0" x2="1619.6" y1="0" y2="0"><stop offset="0" stop-color="#472ecc"/><stop offset=".016" stop-color="#4831d5"/><stop offset=".064" stop-color="#483ee9"/><stop offset=".104" stop-color="#4549f2"/><stop offset=".144" stop-color="#4052f9"/><stop offset=".192" stop-color="#385dff"/><stop offset=".233" stop-color="#2b65ff"/><stop offset=".273" stop-color="#0f6dff"/><stop offset=".322" stop-color="#0077ff"/><stop offset=".362" stop-color="#007eff"/><stop offset=".403" stop-color="#0084fd"/><stop offset=".453" stop-color="#008af9"/><stop offset=".494" stop-color="#008ff5"/><stop offset=".544" stop-color="#0095f1"/><stop offset=".585" stop-color="#0099ee"/><stop offset=".627" stop-color="#009deb"/><stop offset=".678" stop-color="#00a1e8"/><stop offset=".72" stop-color="#00a4e6"/><stop offset=".763" stop-color="#00a7e5"/><stop offset=".814" stop-color="#00abe2"/><stop offset=".858" stop-color="#00aedf"/><stop offset=".902" stop-color="#00b0dc"/><stop offset=".955" stop-color="#00b3d8"/><stop offset="1" stop-color="#00b5d4"/></linearGradient></defs>
<rect width="1949" height="1437" fill="#fff"/>
<g fill="none" stroke="#262626" stroke-opacity=".15" stroke-width="4.6">
<path d="M343.6 924.9L1183.0 688.4"/>
<path d="M343.6 762.8L1183.0 526.3"/>
<path d="M343.6 600.8L1183.0 364.3"/>
<path d="M343.6 438.7L1183.0 202.2"/>
<path d="M343.6 276.6L1183.0 40.1"/>
<path d="M1826.0 995.3L1183.0 688.4"/>
<path d="M1826.0 833.2L1183.0 526.3"/>
<path d="M1826.0 671.2L1183.0 364.3"/>
<path d="M1826.0 509.1L1183.0 202.2"/>
<path d="M1826.0 347.0L1183.0 40.1"/>
<path d="M986.6 1244.8L343.6 937.9"/>
<path d="M1266.4 1166.0L623.4 859.1"/>
<path d="M1546.2 1087.1L903.1 780.2"/>
<path d="M1826.0 1008.3L1183.0 701.4"/>
<path d="M986.6 1244.8L1826.0 1008.3"/>
<path d="M906.2 1206.4L1745.6 969.9"/>
<path d="M825.8 1168.1L1665.2 931.6"/>
<path d="M745.5 1129.7L1584.9 893.2"/>
<path d="M665.1 1091.3L1504.5 854.8"/>
<path d="M584.7 1053.0L1424.1 816.5"/>
<path d="M504.3 1014.6L1343.7 778.1"/>
<path d="M423.9 976.3L1263.3 739.8"/>
<path d="M343.6 937.9L1183.0 701.4"/>
<g stroke-width="7.0">
<path d="M343.6 937.9L343.6 263.6"/>
<path d="M623.4 859.1L623.4 184.8"/>
<path d="M903.1 780.2L903.1 106.0"/>
<path d="M1183.0 701.4L1183.0 24.1"/>
<path d="M1183.0 701.4L1183.0 24.1"/>
<path d="M1826.0 1008.3L1826.0 334.0"/>
<path d="M1745.6 969.9L1745.6 295.7"/>
<path d="M1665.2 931.6L1665.2 257.3"/>
<path d="M1584.9 893.2L1584.9 218.9"/>
<path d="M1504.5 854.8L1504.5 180.6"/>
<path d="M1424.1 816.5L1424.1 142.2"/>
<path d="M1343.7 778.1L1343.7 103.8"/>
<path d="M1263.3 739.8L1263.3 65.5"/>
</g></g>
<g fill="none" stroke="#262626"><path stroke-width="6.8" d="M343.6 937.9L343.6 260.6"/><path stroke-width="6.2" d="M343.6 937.9L986.6 1244.8M986.6 1244.8L1826.0 1008.3"/><path stroke-width="5.4" d="M343.6 924.9L321.0 914.1M343.6 762.8L321.0 752.1M343.6 600.8L321.0 590.0M343.6 438.7L321.0 427.9M343.6 276.6L321.0 265.8M986.6 1244.8L962.5 1251.6M906.2 1206.4L882.2 1213.2M825.8 1168.1L801.8 1174.9M745.5 1129.7L721.4 1136.5M665.1 1091.3L641.0 1098.1M584.7 1053.0L560.6 1059.8M504.3 1014.6L480.2 1021.4M423.9 976.3L399.9 983.0M343.6 937.9L319.5 944.7M986.6 1244.8L1009.2 1255.6M1266.4 1166.0L1289.0 1176.7M1546.2 1087.1L1568.8 1097.9M1826.0 1008.3L1848.6 1019.1"/></g>
<path fill="#fff" d="M343.4 265.2l0 .5 5.3 3 5.4 3.9 3.5 3.1 5.4 5.5 3.5 4.1 5.4 7 5.3 7.8 5.4 8.7 5.3 9.6 5.4 10.4 5.4 11.2 5.3 12 10.7 26.3 10.7 29.1 9 26.2 8.9 27.9 10.7 35.2 10.7 37 19.7 71.2 46.4 173.3 12.5 44.9 10.7 37 10.8 35.3 10.7 33.3 10.7 30.8 10.7 28.2 10.7 25.3 9 18.8 5.3 10.1 5.4 9.3 5.4 8.4 3.6 5.2 5.3 7 5.4 6 5.4 5.2 3.6 3 3.6 2.5 5.3 3 3.7 1.6 5.3 1.5 5.5 .5 3.6-.1 3.6-.5 3.6-1 3.6-1.3 3.6-1.8 3.6-2.1 5.4-3.9 31-26.1 28.5-22.9 29.7-22.9 29.3-21.5 28.8-20.4 29.4-20 15.1-9.9 14.7-9.6 29.8-18.7 29.4-17.8 29.5-17.2 29.7-16.7 29.8-16.3 31.3-16.4 28.8-14.7 44.2-21.7 43.4-20.3 33.3-15.1 38.2-16.8 52.9-22.2 43.1-17.4 50.4-19.6 48.5-18.2 47.3-17 38.4-13.5 70.7-24 54.5-7.1 56-8 56-8.8 27.9-4.7 .3-.2-.2-.4-5.3-2.4-10.8-4.1-8.9-2.7-9-2-8.9-1.3-9-.7-8.9-.1-9 .5-7.1 .8-7.2 1.1-30.9 6.3-36.1 7-55 9.7-24 3.9-37.6 5.5-35.8 4.7-20.7 2.5-9.8-5.4-10.7-6.7-8.9-6.4-10.7-8.6-8.9-7.8-10.7-10.2-10.7-11-10.8-11.8-17.8-21.1-19.7-24.9-19.6-26.3-44.7-61-23.2-30.5-10.7-13.4-10.7-12.9-10.7-12.3-9-9.6-8.9-9.2-9-8.5-8.9-8-8.9-7.3-9-6.7-8.9-6-9-5.3-9-4.7-56.1 9.2-27.9 4.3-56 8.1-55.9 7.1-56 6.2-56 5.1-27.9 2.1-28 1.8-28 1.4-28 1-27.9 .6-28 .2-28-.3-28-.8-27.9-1.2-28-1.9-28-2.4-28-3.1-27.9-3.8-28-4.5-28-5.2-27.9-6.1-28-7.1-28-7.9z"/>
<g filter="url(#bl)">
<g fill="none" stroke-width="2.50" stroke-linejoin="round">
<path stroke="url(#t1)" d="M1014.6 581.3l-1.8-.8-1.8-.7-1.8-.6-1.8-.5-.6-.1M1004.1 578l-.2 0-1.8-.2-1.8-.2-1.8 0-1.8 .1-1.8 .1-1.8 .3-1.7 .3-1.8 .5-1.8 .5-1.8 .7-1.8 .7-1.8 .8-1.8 .9-1.7 1-1.8 1.1-1.8 1.2-1.8 1.3-1.8 1.4-1.8 1.4-1.8 1.6-1.7 1.6-1.8 1.7-1.8 1.8-1.8 1.9-1.8 2-1.8 2.1-1.8 2.1-1.8 2.2-1.7 2.3-1.8 2.4-1.8 2.5-1.8 2.5-1.8 2.6-1.8 2.7-1.8 2.8-1.7 2.8-1.8 2.9-1.8 3-1.8 3.1-1.8 3.1-1.8 3.2-1.8 3.2-1.7 3.4-1.8 3.3-1.8 3.5-1.8 3.5-1.8 3.6-1.8 3.6-1.8 3.7-1.7 3.7-1.8 3.8-1.8 3.8-1.8 3.9-1.8 4-1.8 4-1.8 4-1.8 4.1-1.7 4.1-1.8 4.2-1.8 4.2-1.8 4.3-1.8 4.3-1.8 4.3-1.8 4.4-1.7 4.4-1.8 4.4-1.8 4.5-1.8 4.5-1.8 4.5-1.8 4.5-1.8 4.6-1.7 4.6-1.8 4.6-1.8 4.6-1.8 4.6-1.8 4.7-1.8 4.7-1.8 4.7-1.8 4.6-1.7 4.7-1.8 4.8-1.8 4.7-1.8 4.7-1.8 4.7-1.8 4.7-1.8 4.7-1.7 4.7-1.8 4.8-1.8 4.7-1.8 4.7-1.8 4.6-1.8 4.7-1.8 4.7-1.7 4.6-1.8 4.6-1.8 4.6-1.8 4.6-1.8 4.6-1.8 4.5-1.8 4.5-1.7 4.5-1.8 4.5-1.8 4.4-1.8 4.4-1.8 4.4-1.8 4.3-1.8 4.3-1.8 4.3-1.7 4.2-1.8 4.2-1.8 4.1-1.8 4.1-1.8 4-1.8 4-1.8 4-1.7 3.9-1.8 3.8-1.8 3.8-1.8 3.7-1.8 3.7-1.8 3.6-1.8 3.6-1.7 3.5-1.8 3.5-1.8 3.3-1.8 3.4-1.8 3.2-1.8 3.2-1.8 3.1-1.7 3.1-1.8 3-1.8 2.9-1.8 2.8-1.8 2.8-1.8 2.7-1.8 2.6-1.8 2.5-1.7 2.5-1.8 2.4-1.8 2.3-1.8 2.2-1.8 2.1-1.8 2.1-1.8 2-1.7 1.9-1.8 1.8-1.8 1.7-1.8 1.6-1.8 1.6-1.8 1.4-1 .8M722.5 1067.2l-.9 .3-1.8 .7-1.7 .5-1.8 .5-1.8 .3-1.8 .3-1.8 .1-1.8 .1-1.8 0-1.7-.2-1.8-.2-1.8-.3-1.8-.4-1.8-.5-1.8-.6-1.8-.7-1.7-.8-1.8-.9-1.8-1-1.8-1.1-1.8-1.2-1.8-1.3-1.8-1.4-1.7-1.5-1.8-1.6-1.8-1.6-1.8-1.8-1.8-1.9-1.8-1.9-1.8-2.1-1.8-2.2-1.7-2.2-1.8-2.3-1.8-2.5-1.8-2.5-1.8-2.6-1.8-2.7-1.8-2.8-1.7-2.9-1.8-3-1.8-3.1-1.8-3.2-1.8-3.2-1.8-3.4-1.8-3.4-1.7-3.5-1.8-3.6-1.8-3.7-1.8-3.7-1.8-3.9-1.8-3.9-1.8-4-1.7-4.1-1.8-4.2-1.8-4.2-1.8-4.3-1.8-4.4-1.8-4.5-1.8-4.5-1.8-4.6-1.7-4.7-1.8-4.8-1.8-4.8-1.8-4.9-1.8-5-1.8-5-1.8-5.1-1.7-5.1-1.8-5.2-1.8-5.3-1.8-5.3-1.8-5.4-1.8-5.5-1.8-5.5-1.7-5.5-1.8-5.6-1.8-5.7-1.8-5.7-1.8-5.7-1.8-5.8-1.8-5.9-1.8-5.8-1.7-6-1.8-5.9-1.8-6-1.8-6.1-1.8-6-1.8-6.1-1.8-6.2-1.7-6.1-1.8-6.2-1.8-6.3-1.8-6.2-1.8-6.3-1.8-6.3-1.8-6.3-1.7-6.3-1.8-6.3-1.8-6.4-1.8-6.4-1.8-6.4-1.8-6.4-1.8-6.4-1.7-6.4-1.8-6.4-1.8-6.4-1.8-6.4-1.8-6.5-1.8-6.4-1.8-6.4-1.8-6.4-1.7-6.4-1.8-6.4-1.8-6.4-1.8-6.4-1.8-6.4-1.8-6.3-1.8-6.3-1.7-6.3-1.8-6.3-1.8-6.3-1.8-6.2-1.8-6.3-1.8-6.2-1.8-6.1-1.7-6.2-1.8-6.1-1.8-6-1.8-6.1-1.8-6-1.8-5.9-1.8-6-1.7-5.8-1.8-5.9-1.8-5.8-1.8-5.7-1.8-5.7-1.8-5.7-1.8-5.6-1.8-5.5-1.7-5.5-1.8-5.5-1.8-5.3-1.8-5.4-1.8-5.2-1.8-5.3-1.8-5.1-1.7-5.1-1.8-5-1.8-5-1.8-4.9-1.8-4.8-1.8-4.8-1.8-4.6-1.7-4.7-1.8-4.5-1.8-4.5-1.8-4.4-1.8-4.3-1.8-4.2-1.8-4.2-1.8-4.1-1.7-4-1.8-3.9-1.8-3.9-1.8-3.7-1.8-3.7-1.8-3.6-1.8-3.5-1.7-3.4-1.8-3.4-1.8-3.2-1.8-3.2-1.8-3.1-1.8-3-1.8-2.8-1.7-2.9-1.8-2.7-1.8-2.6-1.8-2.5-1.8-2.4-1.8-2.4-1.8-2.2-1.7-2.2-1.8-2-1.8-2-1.8-1.9-1.8-1.7-1.8-1.7-1.8-1.6-1.8-1.5-1.7-1.4-1.8-1.3-1.8-1.2-1.8-1.1-1.8-.9-1.8-1"/>
<path stroke="url(#t2)" d="M1042.6 589.3l-1.8-.8-1.8-.7-1.8-.6-1.8-.5-1.8-.5-.4-.1M1029.2 585.5l-.9 0-1.8-.1-1.8 0-1.8 .1-1.8 .2-1.8 .3-1.7 .4-1.8 .5-1.8 .5-1.8 .7-1.8 .7-1.8 .9-1.8 .9-1.8 1-1.7 1.1-1.8 1.1-1.8 1.3-1.8 1.3-1.8 1.5-1.8 1.5-1.8 1.6-1.7 1.6-1.8 1.8-1.8 1.8-1.8 1.9-1.8 2-1.8 2.1-1.8 2.1-1.7 2.2-1.8 2.3-1.8 2.4-1.8 2.5-1.8 2.5-1.8 2.5-1.8 2.7-1.7 2.7-1.8 2.8-1.8 2.9-1.8 2.9-1.8 3-1.8 3-1.8 3.1-1.8 3.2-1.7 3.2-1.8 3.3-1.8 3.4-1.8 3.4-1.8 3.4-1.8 3.5-1.8 3.6-1.7 3.6-1.8 3.7-1.8 3.7-1.8 3.7-1.8 3.8-1.8 3.9-1.8 3.9-1.7 3.9-1.8 3.9-1.8 4-1.8 4.1-1.8 4.1-1.8 4.1-1.8 4.1-1.7 4.2-1.8 4.2-1.8 4.2-1.8 4.2-1.8 4.3-1.8 4.3-1.8 4.3-1.8 4.3-1.7 4.4-1.8 4.3-1.8 4.4-1.8 4.4-1.8 4.4-1.8 4.4-1.8 4.5-1.7 4.4-1.8 4.4-1.8 4.5-1.8 4.4-1.8 4.4-1.8 4.5-1.8 4.4-1.7 4.4-1.8 4.5-1.8 4.4-1.8 4.4-1.8 4.4-1.8 4.4-1.8 4.3-1.8 4.4-1.7 4.3-1.8 4.3-1.8 4.3-1.8 4.3-1.8 4.2-1.8 4.3-1.8 4.2-1.7 4.1-1.8 4.2-1.8 4.1-1.8 4-1.8 4.1-1.8 4-1.8 3.9-1.7 4-1.8 3.8-1.8 3.9-1.8 3.8-1.8 3.7-1.8 3.7-1.8 3.7-1.7 3.6-1.8 3.6-1.8 3.5-1.8 3.4-1.8 3.4-1.8 3.4-1.8 3.3-1.8 3.2-1.7 3.2-1.8 3.1-1.8 3-1.8 3-1.8 2.9-1.8 2.9-1.8 2.8-1.7 2.7-1.8 2.7-1.8 2.5-1.8 2.6-1.8 2.4-1.8 2.4-1.8 2.3-1.7 2.2-1.8 2.1-1.8 2.1-1.8 2-1.8 1.9-1.8 1.8-1.8 1.8-1.8 1.7-1.7 1.6-1.8 1.5-1.8 1.4-1.8 1.3M736.9 1046.2l-1.6 0-1.8-.2-1.7-.3-1.8-.3-1.8-.4-1.8-.6-1.8-.6-1.8-.7-1.8-.8-1.8-.9-1.7-1-1.8-1.1-1.8-1.2-1.8-1.2-1.8-1.4-1.8-1.4-1.8-1.6-1.7-1.6-1.8-1.7-1.8-1.9-1.8-1.9-1.8-2-1.8-2.1-1.8-2.1-1.7-2.3-1.8-2.4-1.8-2.4-1.8-2.5-1.8-2.7-1.8-2.7-1.8-2.8-1.7-2.8-1.8-3-1.8-3-1.8-3.2-1.8-3.2-1.8-3.3-1.8-3.4-1.8-3.4-1.7-3.6-1.8-3.6-1.8-3.7-1.8-3.7-1.8-3.9-1.8-3.9-1.8-4-1.7-4.1-1.8-4.1-1.8-4.3-1.8-4.2-1.8-4.4-1.8-4.4-1.8-4.5-1.7-4.6-1.8-4.6-1.8-4.7-1.8-4.8-1.8-4.8-1.8-4.8-1.8-5-1.8-5-1.7-5-1.8-5.1-1.8-5.2-1.8-5.2-1.8-5.3-1.8-5.3-1.8-5.4-1.7-5.4-1.8-5.4-1.8-5.5-1.8-5.6-1.8-5.6-1.8-5.6-1.8-5.7-1.7-5.7-1.8-5.7-1.8-5.8-1.8-5.8-1.8-5.8-1.8-5.9-1.8-5.9-1.7-5.9-1.8-6-1.8-6-1.8-6-1.8-6-1.8-6-1.8-6.1-1.8-6-1.7-6.1-1.8-6.1-1.8-6.1-1.8-6.2-1.8-6.1-1.8-6.1-1.8-6.2-1.7-6.1-1.8-6.1-1.8-6.2-1.8-6.1-1.8-6.2-1.8-6.1-1.8-6.1-1.7-6.2-1.8-6.1-1.8-6.1-1.8-6-1.8-6.1-1.8-6.1-1.8-6-1.7-6-1.8-6-1.8-6-1.8-6-1.8-5.9-1.8-5.9-1.8-5.9-1.8-5.8-1.7-5.8-1.8-5.8-1.8-5.7-1.8-5.7-1.8-5.7-1.8-5.6-1.8-5.6-1.7-5.6-1.8-5.5-1.8-5.4-1.8-5.4-1.8-5.4-1.8-5.3-1.8-5.3-1.7-5.2-1.8-5.2-1.8-5.1-1.8-5-1.8-5-1.8-4.9-1.8-4.9-1.8-4.8-1.7-4.8-1.8-4.7-1.8-4.6-1.8-4.6-1.8-4.5-1.8-4.4-1.8-4.3-1.7-4.3-1.8-4.3-1.8-4.1-1.8-4.1-1.8-4-1.8-3.9-1.8-3.8-1.7-3.8-1.8-3.7-1.8-3.6-1.8-3.6-1.8-3.4-1.8-3.4-1.8-3.3-1.7-3.2-1.8-3.1-1.8-3.1-1.8-3-1.8-2.8-1.8-2.8-1.8-2.7-1.8-2.7-1.7-2.5-1.8-2.4-1.8-2.4-1.8-2.3-1.8-2.1-1.8-2.1-1.8-2-1.7-1.9-1.8-1.8-1.8-1.8-1.8-1.6-1.8-1.5-1.8-1.5-1.8-1.4-1.7-1.2-1.8-1.2-1.8-1.1-1.8-1-1.8-.9"/>
<path stroke="url(#t3)" d="M1070.5 596.3l-1.7-.8-1.8-.7-1.8-.6-1.8-.6-1.8-.4-1.8-.4-.3 0M1053.9 592.2l-1.2 0-1.8 .1-1.8 .1-1.8 .3-1.8 .3-1.8 .4-1.7 .5-1.8 .5-1.8 .7-1.8 .8-1.8 .8-1.8 .9-1.8 1-1.7 1-1.8 1.2-1.8 1.2-1.8 1.3-1.8 1.4-1.8 1.5-1.8 1.6-1.7 1.6-1.8 1.7-1.8 1.8-1.8 1.8-1.8 1.9-1.8 2-1.8 2.1-1.8 2.1-1.7 2.2-1.8 2.3-1.8 2.4-1.8 2.4-1.8 2.5-1.8 2.5-1.8 2.6-1.7 2.7-1.8 2.7-1.8 2.8-1.8 2.9-1.8 2.9-1.8 3-1.8 3-1.7 3.1-1.8 3.1-1.8 3.2-1.8 3.3-1.8 3.2-1.8 3.4-1.8 3.4-1.7 3.4-1.8 3.5-1.8 3.5-1.8 3.6-1.8 3.6-1.8 3.6-1.8 3.7-1.8 3.8-1.7 3.7-1.8 3.8-1.8 3.8-1.8 3.9-1.8 3.9-1.8 3.9-1.8 3.9-1.7 4-1.8 4-1.8 4-1.8 4.1-1.8 4-1.8 4.1-1.8 4.1-1.7 4.1-1.8 4.1-1.8 4.2-1.8 4.1-1.8 4.2-1.8 4.1-1.8 4.2-1.7 4.2-1.8 4.1-1.8 4.2-1.8 4.2-1.8 4.2-1.8 4.1-1.8 4.2-1.8 4.2-1.7 4.1-1.8 4.2-1.8 4.1-1.8 4.1-1.8 4.1-1.8 4.1-1.8 4.1-1.7 4.1-1.8 4-1.8 4-1.8 4-1.8 4-1.8 3.9-1.8 3.9-1.7 3.9-1.8 3.9-1.8 3.8-1.8 3.8-1.8 3.8-1.8 3.7-1.8 3.7-1.8 3.6-1.7 3.6-1.8 3.6-1.8 3.5-1.8 3.5-1.8 3.5-1.8 3.3-1.8 3.4-1.7 3.3-1.8 3.2-1.8 3.2-1.8 3.2-1.8 3-1.8 3.1-1.8 2.9-1.7 3-1.8 2.8-1.8 2.8-1.8 2.7-1.8 2.7-1.8 2.6-1.8 2.6-1.7 2.4-1.8 2.5-1.8 2.3-1.8 2.3-1.8 2.2-1.8 2.1-1.8 2.1-1.8 2-1.7 1.9-1.8 1.9-1.8 1.8-1.8 1.7-1.8 1.6-1.8 1.5-1.8 1.5-1.7 1.4-1.8 1.3-.7 .4M751.2 1020.3l-.4-.2-1.8-.8-1.8-.9-1.8-1-1.7-1.1-1.8-1.1-1.8-1.3-1.8-1.3-1.8-1.4-1.8-1.5-1.8-1.6-1.7-1.7-1.8-1.8-1.8-1.8-1.8-2-1.8-2-1.8-2.1-1.8-2.2-1.8-2.3-1.7-2.4-1.8-2.4-1.8-2.5-1.8-2.7-1.8-2.7-1.8-2.7-1.8-2.9-1.7-2.9-1.8-3-1.8-3.1-1.8-3.2-1.8-3.3-1.8-3.3-1.8-3.4-1.7-3.5-1.8-3.5-1.8-3.7-1.8-3.7-1.8-3.7-1.8-3.9-1.8-3.9-1.7-4-1.8-4-1.8-4.2-1.8-4.1-1.8-4.3-1.8-4.3-1.8-4.4-1.8-4.4-1.7-4.5-1.8-4.6-1.8-4.6-1.8-4.7-1.8-4.7-1.8-4.8-1.8-4.8-1.7-4.9-1.8-5-1.8-5-1.8-5-1.8-5.1-1.8-5.2-1.8-5.2-1.7-5.2-1.8-5.3-1.8-5.3-1.8-5.3-1.8-5.4-1.8-5.5-1.8-5.4-1.7-5.5-1.8-5.6-1.8-5.5-1.8-5.6-1.8-5.6-1.8-5.7-1.8-5.7-1.8-5.7-1.7-5.7-1.8-5.7-1.8-5.8-1.8-5.8-1.8-5.8-1.8-5.8-1.8-5.8-1.7-5.8-1.8-5.9-1.8-5.9-1.8-5.8-1.8-5.9-1.8-5.9-1.8-5.9-1.7-5.8-1.8-5.9-1.8-5.9-1.8-5.9-1.8-5.8-1.8-5.9-1.8-5.9-1.8-5.8-1.7-5.9-1.8-5.8-1.8-5.8-1.8-5.8-1.8-5.8-1.8-5.7-1.8-5.8-1.7-5.7-1.8-5.7-1.8-5.7-1.8-5.6-1.8-5.7-1.8-5.6-1.8-5.5-1.7-5.5-1.8-5.5-1.8-5.5-1.8-5.4-1.8-5.4-1.8-5.4-1.8-5.3-1.7-5.3-1.8-5.2-1.8-5.2-1.8-5.1-1.8-5.1-1.8-5.1-1.8-5-1.8-4.9-1.7-4.9-1.8-4.9-1.8-4.7-1.8-4.8-1.8-4.7-1.8-4.6-1.8-4.5-1.7-4.5-1.8-4.5-1.8-4.4-1.8-4.3-1.8-4.2-1.8-4.2-1.8-4.1-1.7-4.1-1.8-4-1.8-3.9-1.8-3.8-1.8-3.8-1.8-3.7-1.8-3.6-1.8-3.6-1.7-3.5-1.8-3.4-1.8-3.3-1.8-3.2-1.8-3.2-1.8-3.1-1.8-3-1.7-3-1.8-2.8-1.8-2.8-1.8-2.7-1.8-2.6-1.8-2.6-1.8-2.4-1.7-2.4-1.8-2.2-1.8-2.2-1.8-2.2-1.8-2-1.8-1.9-1.8-1.9-1.7-1.8-1.8-1.6-1.8-1.6-1.8-1.5-1.8-1.5-1.8-1.3-1.8-1.2-1.8-1.2-1.7-1.1-1.8-1-1.8-.9"/>
<path stroke="url(#t4)" d="M1098.5 602.5l-1.8-.8-1.8-.8-1.7-.6-1.8-.6-1.8-.5-1.8-.4-1.8-.3-.3 0M1078.6 598.1l-1.5 .1-1.8 .2-1.8 .3-1.8 .3-1.8 .4-1.7 .5-1.8 .6-1.8 .7-1.8 .7-1.8 .9-1.8 .9-1.8 .9-1.8 1.1-1.7 1.1-1.8 1.2-1.8 1.3-1.8 1.4-1.8 1.4-1.8 1.5-1.8 1.6-1.7 1.6-1.8 1.8-1.8 1.7-1.8 1.9-1.8 1.9-1.8 2-1.8 2.1-1.7 2.1-1.8 2.2-1.8 2.2-1.8 2.4-1.8 2.3-1.8 2.5-1.8 2.5-1.7 2.5-1.8 2.7-1.8 2.6-1.8 2.8-1.8 2.7-1.8 2.9-1.8 2.9-1.8 2.9-1.7 3-1.8 3.1-1.8 3-1.8 3.2-1.8 3.2-1.8 3.2-1.8 3.3-1.7 3.3-1.8 3.3-1.8 3.4-1.8 3.4-1.8 3.5-1.8 3.5-1.8 3.5-1.7 3.6-1.8 3.6-1.8 3.6-1.8 3.7-1.8 3.7-1.8 3.7-1.8 3.7-1.7 3.8-1.8 3.8-1.8 3.8-1.8 3.8-1.8 3.8-1.8 3.9-1.8 3.8-1.8 3.9-1.7 3.9-1.8 3.9-1.8 3.9-1.8 3.9-1.8 3.9-1.8 4-1.8 3.9-1.7 3.9-1.8 4-1.8 3.9-1.8 3.9-1.8 3.9-1.8 4-1.8 3.9-1.7 3.9-1.8 3.9-1.8 3.8-1.8 3.9-1.8 3.9-1.8 3.8-1.8 3.8-1.7 3.8-1.8 3.8-1.8 3.7-1.8 3.8-1.8 3.7-1.8 3.7-1.8 3.6-1.8 3.7-1.7 3.6-1.8 3.5-1.8 3.6-1.8 3.5-1.8 3.4-1.8 3.5-1.8 3.3-1.7 3.4-1.8 3.3-1.8 3.3-1.8 3.2-1.8 3.2-1.8 3.1-1.8 3.1-1.7 3.1-1.8 2.9-1.8 3-1.8 2.9-1.8 2.8-1.8 2.8-1.8 2.7-1.8 2.7-1.7 2.6-1.8 2.6-1.8 2.5-1.8 2.4-1.8 2.4-1.8 2.3-1.8 2.3-1.7 2.2-1.8 2.1-1.8 2.1-1.8 1.9-1.8 2-1.8 1.8-1.8 1.8-1.7 1.7-1.8 1.7-1.8 1.6-1.8 1.5-1.8 1.4-1.8 1.3-1.8 1.3-1.2 .9M765.5 990l-1-.8-1.8-1.5-1.8-1.5-1.8-1.7-1.8-1.7-1.7-1.8-1.8-1.9-1.8-2-1.8-2-1.8-2.2-1.8-2.2-1.8-2.3-1.7-2.3-1.8-2.5-1.8-2.5-1.8-2.6-1.8-2.7-1.8-2.8-1.8-2.8-1.7-2.9-1.8-3-1.8-3-1.8-3.2-1.8-3.2-1.8-3.3-1.8-3.3-1.8-3.4-1.7-3.5-1.8-3.6-1.8-3.6-1.8-3.7-1.8-3.8-1.8-3.8-1.8-3.9-1.7-4-1.8-4-1.8-4.1-1.8-4.1-1.8-4.2-1.8-4.3-1.8-4.3-1.7-4.4-1.8-4.4-1.8-4.5-1.8-4.6-1.8-4.6-1.8-4.6-1.8-4.7-1.7-4.8-1.8-4.8-1.8-4.8-1.8-4.9-1.8-4.9-1.8-5-1.8-5-1.8-5.1-1.7-5.1-1.8-5.1-1.8-5.2-1.8-5.2-1.8-5.2-1.8-5.3-1.8-5.3-1.7-5.3-1.8-5.4-1.8-5.4-1.8-5.4-1.8-5.4-1.8-5.5-1.8-5.5-1.7-5.5-1.8-5.5-1.8-5.5-1.8-5.6-1.8-5.6-1.8-5.5-1.8-5.6-1.7-5.6-1.8-5.7-1.8-5.6-1.8-5.6-1.8-5.6-1.8-5.7-1.8-5.6-1.8-5.7-1.7-5.6-1.8-5.6-1.8-5.6-1.8-5.7-1.8-5.6-1.8-5.6-1.8-5.6-1.7-5.6-1.8-5.5-1.8-5.6-1.8-5.5-1.8-5.6-1.8-5.5-1.8-5.4-1.7-5.5-1.8-5.4-1.8-5.5-1.8-5.4-1.8-5.3-1.8-5.3-1.8-5.3-1.8-5.3-1.7-5.3-1.8-5.2-1.8-5.1-1.8-5.2-1.8-5.1-1.8-5-1.8-5-1.7-5-1.8-4.9-1.8-4.9-1.8-4.9-1.8-4.8-1.8-4.7-1.8-4.7-1.7-4.7-1.8-4.6-1.8-4.5-1.8-4.5-1.8-4.4-1.8-4.4-1.8-4.3-1.7-4.3-1.8-4.2-1.8-4.1-1.8-4.1-1.8-4.1-1.8-3.9-1.8-3.9-1.8-3.8-1.7-3.8-1.8-3.7-1.8-3.6-1.8-3.6-1.8-3.5-1.8-3.4-1.8-3.4-1.7-3.2-1.8-3.2-1.8-3.2-1.8-3-1.8-3-1.8-2.9-1.8-2.9-1.7-2.7-1.8-2.7-1.8-2.6-1.8-2.6-1.8-2.4-1.8-2.4-1.8-2.3-1.8-2.2-1.7-2.1-1.8-2.1-1.8-1.9-1.8-1.9-1.8-1.8-1.8-1.7-1.8-1.7-1.7-1.5-1.8-1.5-1.8-1.4-1.8-1.3-1.8-1.3-1.8-1.1-1.8-1.1-1.7-.9-1.8-.9"/>
<path stroke="url(#t5)" d="M1126.5 607.7l-1.8-.8-1.8-.7-1.8-.7-1.7-.5-1.8-.5-1.8-.4-1.8-.4-1.8-.2-.3-.1M1103.4 603.3l-.1 0-1.8 .3-1.8 .2-1.8 .4-1.8 .4-1.8 .6-1.7 .6-1.8 .6-1.8 .8-1.8 .8-1.8 .9-1.8 .9-1.8 1.1-1.7 1.1-1.8 1.2-1.8 1.2-1.8 1.3-1.8 1.4-1.8 1.5-1.8 1.5-1.7 1.6-1.8 1.6-1.8 1.8-1.8 1.8-1.8 1.8-1.8 1.9-1.8 2-1.8 2.1-1.7 2.1-1.8 2.1-1.8 2.3-1.8 2.2-1.8 2.4-1.8 2.4-1.8 2.4-1.7 2.5-1.8 2.6-1.8 2.6-1.8 2.7-1.8 2.7-1.8 2.7-1.8 2.8-1.7 2.9-1.8 2.9-1.8 2.9-1.8 3-1.8 3-1.8 3.1-1.8 3.1-1.7 3.2-1.8 3.2-1.8 3.2-1.8 3.2-1.8 3.3-1.8 3.3-1.8 3.4-1.8 3.4-1.7 3.4-1.8 3.4-1.8 3.5-1.8 3.5-1.8 3.5-1.8 3.5-1.8 3.6-1.7 3.6-1.8 3.6-1.8 3.6-1.8 3.6-1.8 3.6-1.8 3.7-1.8 3.6-1.7 3.7-1.8 3.7-1.8 3.7-1.8 3.7-1.8 3.7-1.8 3.7-1.8 3.7-1.7 3.7-1.8 3.7-1.8 3.7-1.8 3.6-1.8 3.7-1.8 3.7-1.8 3.7-1.8 3.6-1.7 3.7-1.8 3.6-1.8 3.7-1.8 3.6-1.8 3.6-1.8 3.5-1.8 3.6-1.7 3.5-1.8 3.5-1.8 3.5-1.8 3.5-1.8 3.4-1.8 3.4-1.8 3.4-1.7 3.4-1.8 3.3-1.8 3.3-1.8 3.2-1.8 3.3-1.8 3.1-1.8 3.2-1.7 3.1-1.8 3.1-1.8 3-1.8 3-1.8 2.9-1.8 2.9-1.8 2.9-1.8 2.8-1.7 2.8-1.8 2.7-1.8 2.6-1.8 2.6-1.8 2.6-1.8 2.5-1.8 2.4-1.7 2.4-1.8 2.4-1.8 2.3-1.8 2.2-1.8 2.1-1.8 2.1-1.8 2.1-1.7 2-1.8 1.9-1.8 1.8-1.8 1.8-1.8 1.8-1.8 1.6-1.8 1.6-1.8 1.5-1.7 1.5-1.8 1.4-1.8 1.3-1.8 1.3-1.8 1.1M779.8 956.1l-1.6-1.8-1.8-2.1-1.8-2.1-1.8-2.2-1.8-2.3-1.8-2.4-1.7-2.5-1.8-2.5-1.8-2.6-1.8-2.6-1.8-2.8-1.8-2.8-1.8-2.9-1.7-2.9-1.8-3.1-1.8-3-1.8-3.2-1.8-3.2-1.8-3.3-1.8-3.4-1.7-3.4-1.8-3.5-1.8-3.6-1.8-3.6-1.8-3.7-1.8-3.8-1.8-3.8-1.7-3.8-1.8-4-1.8-3.9-1.8-4.1-1.8-4.1-1.8-4.1-1.8-4.3-1.8-4.2-1.7-4.3-1.8-4.4-1.8-4.4-1.8-4.5-1.8-4.5-1.8-4.5-1.8-4.6-1.7-4.7-1.8-4.7-1.8-4.7-1.8-4.8-1.8-4.8-1.8-4.9-1.8-4.9-1.7-4.9-1.8-4.9-1.8-5-1.8-5.1-1.8-5-1.8-5.1-1.8-5.1-1.7-5.2-1.8-5.1-1.8-5.2-1.8-5.3-1.8-5.2-1.8-5.3-1.8-5.2-1.8-5.3-1.7-5.3-1.8-5.4-1.8-5.3-1.8-5.4-1.8-5.3-1.8-5.4-1.8-5.4-1.7-5.4-1.8-5.4-1.8-5.4-1.8-5.4-1.8-5.4-1.8-5.4-1.8-5.4-1.7-5.4-1.8-5.4-1.8-5.4-1.8-5.4-1.8-5.3-1.8-5.4-1.8-5.4-1.7-5.3-1.8-5.3-1.8-5.4-1.8-5.3-1.8-5.2-1.8-5.3-1.8-5.2-1.8-5.2-1.7-5.2-1.8-5.2-1.8-5.2-1.8-5.1-1.8-5.1-1.8-5-1.8-5-1.7-5-1.8-5-1.8-4.9-1.8-4.9-1.8-4.9-1.8-4.8-1.8-4.8-1.7-4.7-1.8-4.7-1.8-4.6-1.8-4.6-1.8-4.6-1.8-4.5-1.8-4.5-1.8-4.4-1.7-4.4-1.8-4.3-1.8-4.2-1.8-4.2-1.8-4.2-1.8-4.1-1.8-4-1.7-4-1.8-4-1.8-3.8-1.8-3.8-1.8-3.8-1.8-3.7-1.8-3.6-1.7-3.6-1.8-3.4-1.8-3.5-1.8-3.3-1.8-3.3-1.8-3.3-1.8-3.1-1.7-3.1-1.8-3.1-1.8-2.9-1.8-2.9-1.8-2.8-1.8-2.7-1.8-2.7-1.8-2.6-1.7-2.5-1.8-2.5-1.8-2.4-1.8-2.2-1.8-2.3-1.8-2.1-1.8-2.1-1.7-2-1.8-1.9-1.8-1.8-1.8-1.8-1.8-1.7-1.8-1.6-1.8-1.5-1.7-1.4-1.8-1.4-1.8-1.3-1.8-1.2-1.8-1.1-1.8-1.1-1.8-1-1.8-.9"/>
<path stroke="url(#t6)" d="M1154.5 612.2l-1.8-.8-1.8-.7-1.8-.7-1.8-.6-1.8-.5-1.7-.4-1.8-.4-1.8-.3-1.8-.2-.4 0M1128 607.9l-.3 0-1.8 .3-1.8 .4-1.8 .4-1.8 .6-1.7 .6-1.8 .6-1.8 .8-1.8 .8-1.8 .8-1.8 1-1.8 1-1.7 1.1-1.8 1.1-1.8 1.3-1.8 1.2-1.8 1.4-1.8 1.4-1.8 1.5-1.8 1.5-1.7 1.6-1.8 1.7-1.8 1.7-1.8 1.8-1.8 1.8-1.8 1.9-1.8 2-1.7 2-1.8 2.1-1.8 2.1-1.8 2.2-1.8 2.3-1.8 2.3-1.8 2.3-1.7 2.4-1.8 2.4-1.8 2.5-1.8 2.6-1.8 2.6-1.8 2.6-1.8 2.7-1.8 2.7-1.7 2.7-1.8 2.8-1.8 2.9-1.8 2.9-1.8 2.9-1.8 3-1.8 2.9-1.7 3.1-1.8 3-1.8 3.1-1.8 3.1-1.8 3.2-1.8 3.2-1.8 3.2-1.7 3.2-1.8 3.3-1.8 3.3-1.8 3.3-1.8 3.3-1.8 3.3-1.8 3.4-1.7 3.4-1.8 3.4-1.8 3.4-1.8 3.4-1.8 3.4-1.8 3.5-1.8 3.4-1.8 3.5-1.7 3.5-1.8 3.4-1.8 3.5-1.8 3.5-1.8 3.5-1.8 3.5-1.8 3.4-1.7 3.5-1.8 3.5-1.8 3.5-1.8 3.4-1.8 3.5-1.8 3.4-1.8 3.5-1.7 3.4-1.8 3.4-1.8 3.4-1.8 3.4-1.8 3.3-1.8 3.4-1.8 3.3-1.7 3.3-1.8 3.3-1.8 3.3-1.8 3.2-1.8 3.2-1.8 3.2-1.8 3.1-1.8 3.2-1.7 3-1.8 3.1-1.8 3-1.8 3-1.8 3-1.8 2.9-1.8 2.9-1.7 2.8-1.8 2.8-1.8 2.8-1.8 2.7-1.8 2.7-1.8 2.6-1.8 2.6-1.7 2.5-1.8 2.5-1.8 2.5-1.8 2.4-1.8 2.3-1.8 2.3-1.8 2.3-1.7 2.1-1.8 2.2-1.8 2-1.8 2.1-1.8 1.9-1.8 1.9-1.8 1.9-1.8 1.8-1.7 1.7-1.8 1.7-1.8 1.6-1.8 1.5-1.8 1.5-1.8 1.4-1.8 1.3-1.7 1.3-1.8 1.2-1.8 1.2-.5 .3M794.1 919.3l-.4-.6-1.8-2.5-1.8-2.6-1.8-2.6-1.8-2.8-1.8-2.8-1.8-2.8-1.7-2.9-1.8-3-1.8-3.1-1.8-3.1-1.8-3.2-1.8-3.2-1.8-3.3-1.7-3.4-1.8-3.4-1.8-3.5-1.8-3.6-1.8-3.6-1.8-3.6-1.8-3.8-1.8-3.7-1.7-3.9-1.8-3.9-1.8-3.9-1.8-4-1.8-4.1-1.8-4.1-1.8-4.1-1.7-4.2-1.8-4.3-1.8-4.2-1.8-4.4-1.8-4.4-1.8-4.4-1.8-4.5-1.7-4.5-1.8-4.5-1.8-4.6-1.8-4.6-1.8-4.7-1.8-4.7-1.8-4.7-1.8-4.8-1.7-4.8-1.8-4.8-1.8-4.9-1.8-4.9-1.8-4.9-1.8-4.9-1.8-5-1.7-5-1.8-5-1.8-5-1.8-5-1.8-5.1-1.8-5.1-1.8-5.1-1.7-5.1-1.8-5.1-1.8-5.2-1.8-5.1-1.8-5.2-1.8-5.2-1.8-5.1-1.7-5.2-1.8-5.2-1.8-5.2-1.8-5.2-1.8-5.2-1.8-5.1-1.8-5.2-1.8-5.2-1.7-5.2-1.8-5.1-1.8-5.2-1.8-5.2-1.8-5.1-1.8-5.1-1.8-5.1-1.7-5.1-1.8-5.1-1.8-5.1-1.8-5-1.8-5.1-1.8-5-1.8-5-1.7-4.9-1.8-5-1.8-4.9-1.8-4.9-1.8-4.8-1.8-4.8-1.8-4.8-1.7-4.8-1.8-4.7-1.8-4.7-1.8-4.7-1.8-4.6-1.8-4.6-1.8-4.6-1.8-4.5-1.7-4.4-1.8-4.5-1.8-4.3-1.8-4.4-1.8-4.3-1.8-4.2-1.8-4.2-1.7-4.2-1.8-4.1-1.8-4-1.8-4-1.8-4-1.8-3.8-1.8-3.9-1.7-3.8-1.8-3.7-1.8-3.7-1.8-3.6-1.8-3.5-1.8-3.5-1.8-3.4-1.8-3.4-1.7-3.3-1.8-3.3-1.8-3.1-1.8-3.2-1.8-3-1.8-3-1.8-2.9-1.7-2.9-1.8-2.8-1.8-2.7-1.8-2.6-1.8-2.6-1.8-2.5-1.8-2.5-1.7-2.3-1.8-2.3-1.8-2.3-1.8-2.1-1.8-2.1-1.8-2-1.8-2-1.7-1.8-1.8-1.8-1.8-1.7-1.8-1.7-1.8-1.5-1.8-1.5-1.8-1.4-1.8-1.4-1.7-1.3-1.8-1.2-1.8-1.1-1.8-1-1.8-1-1.8-.9"/>
<path stroke="url(#t7)" d="M1182.5 616l-1.8-.8-1.8-.8-1.8-.6-1.8-.6-1.8-.6-1.8-.4-1.7-.4-1.8-.3-1.8-.3-1.8-.1-.5-.1M1152.3 611.8l-.2 0-1.8 .4-1.8 .5-1.8 .5-1.8 .6-1.7 .7-1.8 .7-1.8 .8-1.8 .9-1.8 .9-1.8 1-1.8 1-1.7 1.1-1.8 1.2-1.8 1.3-1.8 1.3-1.8 1.3-1.8 1.5-1.8 1.5-1.7 1.5-1.8 1.6-1.8 1.7-1.8 1.7-1.8 1.8-1.8 1.8-1.8 1.9-1.7 1.9-1.8 2-1.8 2-1.8 2.1-1.8 2.2-1.8 2.2-1.8 2.2-1.8 2.3-1.7 2.3-1.8 2.4-1.8 2.4-1.8 2.5-1.8 2.5-1.8 2.6-1.8 2.6-1.7 2.6-1.8 2.7-1.8 2.7-1.8 2.7-1.8 2.8-1.8 2.8-1.8 2.8-1.7 2.9-1.8 2.9-1.8 3-1.8 2.9-1.8 3-1.8 3-1.8 3.1-1.7 3-1.8 3.1-1.8 3.1-1.8 3.2-1.8 3.1-1.8 3.2-1.8 3.1-1.8 3.2-1.7 3.3-1.8 3.2-1.8 3.2-1.8 3.2-1.8 3.3-1.8 3.3-1.8 3.2-1.7 3.3-1.8 3.3-1.8 3.2-1.8 3.3-1.8 3.3-1.8 3.3-1.8 3.2-1.7 3.3-1.8 3.3-1.8 3.2-1.8 3.3-1.8 3.2-1.8 3.3-1.8 3.2-1.8 3.2-1.7 3.2-1.8 3.2-1.8 3.1-1.8 3.2-1.8 3.1-1.8 3.1-1.8 3.1-1.7 3.1-1.8 3-1.8 3-1.8 3-1.8 3-1.8 2.9-1.8 2.9-1.7 2.9-1.8 2.8-1.8 2.8-1.8 2.8-1.8 2.8-1.8 2.7-1.8 2.6-1.7 2.7-1.8 2.6-1.8 2.5-1.8 2.5-1.8 2.5-1.8 2.4-1.8 2.4-1.8 2.3-1.7 2.3-1.8 2.3-1.8 2.2-1.8 2.1-1.8 2.1-1.8 2-1.8 2-1.7 2-1.8 1.8-1.8 1.9-1.8 1.8-1.8 1.7-1.8 1.6-1.8 1.6-1.7 1.6-1.8 1.5-1.8 1.4-1.8 1.4-1.8 1.3-1.8 1.2-1.8 1.2-1.7 1.1-.9 .5M808.5 880.4l-1.2-1.8-1.7-3-1.8-3-1.8-3.1-1.8-3.1-1.8-3.2-1.8-3.2-1.8-3.4-1.7-3.3-1.8-3.4-1.8-3.5-1.8-3.6-1.8-3.5-1.8-3.7-1.8-3.7-1.7-3.7-1.8-3.8-1.8-3.9-1.8-3.9-1.8-3.9-1.8-4-1.8-4.1-1.8-4-1.7-4.2-1.8-4.1-1.8-4.3-1.8-4.2-1.8-4.3-1.8-4.3-1.8-4.4-1.7-4.4-1.8-4.5-1.8-4.5-1.8-4.5-1.8-4.5-1.8-4.6-1.8-4.6-1.7-4.7-1.8-4.6-1.8-4.7-1.8-4.7-1.8-4.8-1.8-4.8-1.8-4.7-1.7-4.9-1.8-4.8-1.8-4.8-1.8-4.9-1.8-4.9-1.8-4.9-1.8-4.9-1.8-4.9-1.7-5-1.8-4.9-1.8-5-1.8-4.9-1.8-5-1.8-5-1.8-5-1.7-4.9-1.8-5-1.8-5-1.8-5-1.8-5-1.8-4.9-1.8-5-1.7-5-1.8-4.9-1.8-5-1.8-4.9-1.8-4.9-1.8-5-1.8-4.9-1.7-4.8-1.8-4.9-1.8-4.9-1.8-4.8-1.8-4.8-1.8-4.8-1.8-4.8-1.8-4.7-1.7-4.7-1.8-4.7-1.8-4.7-1.8-4.6-1.8-4.7-1.8-4.5-1.8-4.6-1.7-4.5-1.8-4.5-1.8-4.4-1.8-4.4-1.8-4.4-1.8-4.3-1.8-4.3-1.7-4.3-1.8-4.2-1.8-4.2-1.8-4.1-1.8-4.1-1.8-4-1.8-4-1.7-4-1.8-3.9-1.8-3.8-1.8-3.8-1.8-3.8-1.8-3.7-1.8-3.6-1.8-3.6-1.7-3.5-1.8-3.5-1.8-3.4-1.8-3.4-1.8-3.3-1.8-3.3-1.8-3.2-1.7-3.1-1.8-3.1-1.8-3-1.8-2.9-1.8-2.9-1.8-2.8-1.8-2.8-1.7-2.7-1.8-2.6-1.8-2.6-1.8-2.5-1.8-2.4-1.8-2.4-1.8-2.3-1.8-2.2-1.7-2.2-1.8-2.1-1.8-2-1.8-2-1.8-1.8-1.8-1.9-1.8-1.7-1.7-1.7-1.8-1.6-1.8-1.5-1.8-1.5-1.8-1.4-1.8-1.3-1.8-1.2-1.7-1.2-1.8-1.1-1.8-1.1-1.8-.9-1.8-.9"/>
<path stroke="url(#t8)" d="M1210.4 619.1l-1.7-.8-1.8-.8-1.8-.7-1.8-.6-1.8-.5-1.8-.5-1.8-.4-1.7-.3-1.8-.3-1.8-.2-1.8-.2-.7 0M1176.7 615.1l-.2 .1-1.8 .4-1.8 .6-1.8 .5-1.7 .7-1.8 .7-1.8 .8-1.8 .8-1.8 .9-1.8 1-1.8 1-1.7 1.1-1.8 1.2-1.8 1.2-1.8 1.2-1.8 1.4-1.8 1.3-1.8 1.5-1.8 1.5-1.7 1.5-1.8 1.6-1.8 1.7-1.8 1.7-1.8 1.7-1.8 1.8-1.8 1.9-1.7 1.9-1.8 1.9-1.8 2.1-1.8 2-1.8 2.1-1.8 2.1-1.8 2.2-1.7 2.3-1.8 2.2-1.8 2.3-1.8 2.4-1.8 2.4-1.8 2.4-1.8 2.5-1.7 2.5-1.8 2.5-1.8 2.6-1.8 2.6-1.8 2.7-1.8 2.6-1.8 2.7-1.8 2.8-1.7 2.7-1.8 2.8-1.8 2.8-1.8 2.8-1.8 2.9-1.8 2.9-1.8 2.9-1.7 2.9-1.8 3-1.8 2.9-1.8 3-1.8 3-1.8 3-1.8 3-1.7 3-1.8 3.1-1.8 3-1.8 3.1-1.8 3.1-1.8 3-1.8 3.1-1.8 3.1-1.7 3.1-1.8 3.1-1.8 3-1.8 3.1-1.8 3.1-1.8 3.1-1.8 3.1-1.7 3-1.8 3.1-1.8 3-1.8 3.1-1.8 3-1.8 3-1.8 3-1.7 3-1.8 3-1.8 3-1.8 2.9-1.8 2.9-1.8 2.9-1.8 2.9-1.7 2.9-1.8 2.8-1.8 2.8-1.8 2.8-1.8 2.8-1.8 2.7-1.8 2.7-1.8 2.7-1.7 2.6-1.8 2.6-1.8 2.6-1.8 2.5-1.8 2.5-1.8 2.5-1.8 2.4-1.7 2.4-1.8 2.4-1.8 2.3-1.8 2.3-1.8 2.2-1.8 2.2-1.8 2.1-1.7 2.1-1.8 2.1-1.8 2-1.8 1.9-1.8 1.9-1.8 1.9-1.8 1.8-1.7 1.8-1.8 1.7-1.8 1.6-1.8 1.6-1.8 1.6-1.8 1.4-1.8 1.5-1.8 1.4-1.7 1.3-1.8 1.2-1.8 1.2-1.8 1.2-1.8 1.1-1.2 .7M822.9 840l-.1-.1-1.8-3.3-1.7-3.3-1.8-3.3-1.8-3.5-1.8-3.4-1.8-3.5-1.8-3.6-1.8-3.6-1.8-3.7-1.7-3.7-1.8-3.7-1.8-3.8-1.8-3.9-1.8-3.9-1.8-3.9-1.8-4-1.7-4-1.8-4.1-1.8-4-1.8-4.2-1.8-4.2-1.8-4.2-1.8-4.2-1.7-4.3-1.8-4.3-1.8-4.3-1.8-4.4-1.8-4.4-1.8-4.5-1.8-4.4-1.8-4.5-1.7-4.5-1.8-4.6-1.8-4.5-1.8-4.6-1.8-4.6-1.8-4.7-1.8-4.6-1.7-4.7-1.8-4.7-1.8-4.7-1.8-4.7-1.8-4.7-1.8-4.7-1.8-4.8-1.7-4.7-1.8-4.8-1.8-4.8-1.8-4.7-1.8-4.8-1.8-4.8-1.8-4.8-1.7-4.8-1.8-4.8-1.8-4.8-1.8-4.8-1.8-4.7-1.8-4.8-1.8-4.8-1.8-4.8-1.7-4.7-1.8-4.8-1.8-4.7-1.8-4.7-1.8-4.7-1.8-4.7-1.8-4.7-1.7-4.7-1.8-4.6-1.8-4.6-1.8-4.7-1.8-4.5-1.8-4.6-1.8-4.5-1.7-4.6-1.8-4.5-1.8-4.4-1.8-4.4-1.8-4.5-1.8-4.3-1.8-4.4-1.7-4.3-1.8-4.3-1.8-4.2-1.8-4.2-1.8-4.2-1.8-4.1-1.8-4.1-1.8-4.1-1.7-4-1.8-4-1.8-3.9-1.8-3.9-1.8-3.9-1.8-3.8-1.8-3.7-1.7-3.7-1.8-3.7-1.8-3.6-1.8-3.6-1.8-3.5-1.8-3.4-1.8-3.4-1.7-3.4-1.8-3.3-1.8-3.3-1.8-3.1-1.8-3.2-1.8-3.1-1.8-3-1.7-3-1.8-2.9-1.8-2.8-1.8-2.8-1.8-2.7-1.8-2.7-1.8-2.6-1.8-2.6-1.7-2.5-1.8-2.4-1.8-2.3-1.8-2.3-1.8-2.3-1.8-2.1-1.8-2.1-1.7-2.1-1.8-1.9-1.8-1.9-1.8-1.9-1.8-1.8-1.8-1.7-1.8-1.6-1.7-1.6-1.8-1.5-1.8-1.4-1.8-1.4-1.8-1.3-1.8-1.2-1.8-1.2-1.8-1.1-1.7-1-1.8-.9-1.8-.9"/>
<path stroke="url(#t9)" d="M1238.4 621.5l-1.8-.8-1.8-.8-1.7-.6-1.8-.7-1.8-.5-1.8-.5-1.8-.4-1.8-.4-1.8-.3-1.7-.2-1.8-.2-1.8-.1-1 0M1200.7 618l-1.6 .4-1.8 .6-1.7 .7-1.8 .7-1.8 .7-1.8 .9-1.8 .8-1.8 1-1.8 1-1.8 1-1.7 1.1-1.8 1.2-1.8 1.2-1.8 1.3-1.8 1.3-1.8 1.4-1.8 1.4-1.7 1.5-1.8 1.6-1.8 1.6-1.8 1.6-1.8 1.7-1.8 1.7-1.8 1.8-1.7 1.8-1.8 1.9-1.8 1.9-1.8 2-1.8 2-1.8 2-1.8 2.1-1.8 2.1-1.7 2.2-1.8 2.2-1.8 2.2-1.8 2.3-1.8 2.3-1.8 2.4-1.8 2.4-1.7 2.4-1.8 2.4-1.8 2.5-1.8 2.5-1.8 2.6-1.8 2.5-1.8 2.6-1.7 2.6-1.8 2.7-1.8 2.6-1.8 2.7-1.8 2.7-1.8 2.8-1.8 2.7-1.7 2.8-1.8 2.8-1.8 2.8-1.8 2.8-1.8 2.8-1.8 2.9-1.8 2.8-1.8 2.9-1.7 2.8-1.8 2.9-1.8 2.9-1.8 2.9-1.8 2.9-1.8 2.9-1.8 2.9-1.7 2.9-1.8 2.9-1.8 2.9-1.8 2.9-1.8 2.9-1.8 2.9-1.8 2.9-1.7 2.9-1.8 2.8-1.8 2.9-1.8 2.8-1.8 2.9-1.8 2.8-1.8 2.8-1.8 2.8-1.7 2.8-1.8 2.8-1.8 2.7-1.8 2.8-1.8 2.7-1.8 2.7-1.8 2.6-1.7 2.7-1.8 2.6-1.8 2.6-1.8 2.5-1.8 2.6-1.8 2.5-1.8 2.5-1.7 2.4-1.8 2.4-1.8 2.4-1.8 2.4-1.8 2.3-1.8 2.3-1.8 2.2-1.7 2.2-1.8 2.2-1.8 2.1-1.8 2.1-1.8 2-1.8 2-1.8 2-1.8 1.9-1.7 1.9-1.8 1.8-1.8 1.8-1.8 1.7-1.8 1.7-1.8 1.7-1.8 1.5-1.7 1.6-1.8 1.5-1.8 1.4-1.8 1.4-1.8 1.3-1.8 1.3-1.8 1.2-1.7 1.2-1.8 1.1-1.8 1-1.5 .9M837.5 799.1l-1-2-1.8-3.5-1.8-3.6-1.7-3.6-1.8-3.7-1.8-3.7-1.8-3.8-1.8-3.8-1.8-3.8-1.8-3.9-1.7-3.9-1.8-3.9-1.8-4-1.8-4-1.8-4.1-1.8-4.1-1.8-4.1-1.8-4.1-1.7-4.2-1.8-4.2-1.8-4.3-1.8-4.3-1.8-4.3-1.8-4.3-1.8-4.3-1.7-4.4-1.8-4.4-1.8-4.4-1.8-4.4-1.8-4.5-1.8-4.5-1.8-4.4-1.7-4.6-1.8-4.5-1.8-4.5-1.8-4.6-1.8-4.5-1.8-4.6-1.8-4.6-1.7-4.5-1.8-4.6-1.8-4.6-1.8-4.6-1.8-4.6-1.8-4.6-1.8-4.6-1.8-4.7-1.7-4.6-1.8-4.6-1.8-4.6-1.8-4.6-1.8-4.6-1.8-4.5-1.8-4.6-1.7-4.6-1.8-4.5-1.8-4.6-1.8-4.5-1.8-4.5-1.8-4.5-1.8-4.5-1.7-4.5-1.8-4.5-1.8-4.4-1.8-4.4-1.8-4.4-1.8-4.4-1.8-4.3-1.8-4.3-1.7-4.3-1.8-4.3-1.8-4.3-1.8-4.2-1.8-4.2-1.8-4.1-1.8-4.1-1.7-4.1-1.8-4.1-1.8-4-1.8-4-1.8-3.9-1.8-3.9-1.8-3.9-1.7-3.8-1.8-3.8-1.8-3.8-1.8-3.7-1.8-3.7-1.8-3.6-1.8-3.6-1.7-3.5-1.8-3.5-1.8-3.4-1.8-3.4-1.8-3.3-1.8-3.3-1.8-3.3-1.8-3.2-1.7-3.1-1.8-3.1-1.8-3-1.8-3-1.8-2.9-1.8-2.9-1.8-2.8-1.7-2.8-1.8-2.7-1.8-2.6-1.8-2.6-1.8-2.5-1.8-2.5-1.8-2.4-1.7-2.4-1.8-2.3-1.8-2.2-1.8-2.2-1.8-2.1-1.8-2-1.8-2-1.7-1.9-1.8-1.9-1.8-1.8-1.8-1.7-1.8-1.6-1.8-1.7-1.8-1.5-1.8-1.5-1.7-1.4-1.8-1.3-1.8-1.3-1.8-1.2-1.8-1.1-1.8-1.1-1.8-1-1.7-1-1.8-.9"/>
<path stroke="url(#t10)" d="M1266.4 623.4l-1.8-.9-1.8-.7-1.8-.7-1.7-.6-1.8-.6-1.8-.5-1.8-.5-1.8-.4-1.8-.3-1.8-.2-1.7-.2-1.8-.2-1.8-.1-1.4 0M1224.6 620.3l-1.1 .4-1.8 .6-1.7 .7-1.8 .7-1.8 .8-1.8 .9-1.8 .9-1.8 1-1.8 1-1.7 1.1-1.8 1.1-1.8 1.2-1.8 1.2-1.8 1.3-1.8 1.3-1.8 1.4-1.7 1.4-1.8 1.5-1.8 1.5-1.8 1.6-1.8 1.6-1.8 1.7-1.8 1.7-1.8 1.7-1.7 1.8-1.8 1.8-1.8 1.9-1.8 1.9-1.8 2-1.8 2-1.8 2-1.7 2.1-1.8 2.1-1.8 2.1-1.8 2.2-1.8 2.2-1.8 2.2-1.8 2.3-1.7 2.3-1.8 2.3-1.8 2.4-1.8 2.4-1.8 2.4-1.8 2.4-1.8 2.5-1.8 2.4-1.7 2.5-1.8 2.6-1.8 2.5-1.8 2.6-1.8 2.6-1.8 2.6-1.8 2.6-1.7 2.6-1.8 2.7-1.8 2.6-1.8 2.7-1.8 2.7-1.8 2.7-1.8 2.7-1.7 2.7-1.8 2.7-1.8 2.7-1.8 2.8-1.8 2.7-1.8 2.7-1.8 2.8-1.7 2.7-1.8 2.7-1.8 2.7-1.8 2.8-1.8 2.7-1.8 2.7-1.8 2.7-1.8 2.7-1.7 2.7-1.8 2.7-1.8 2.7-1.8 2.6-1.8 2.7-1.8 2.6-1.8 2.6-1.7 2.6-1.8 2.6-1.8 2.6-1.8 2.5-1.8 2.6-1.8 2.5-1.8 2.4-1.7 2.5-1.8 2.4-1.8 2.4-1.8 2.4-1.8 2.4-1.8 2.3-1.8 2.3-1.7 2.3-1.8 2.2-1.8 2.2-1.8 2.2-1.8 2.1-1.8 2.1-1.8 2.1-1.8 2-1.7 2-1.8 2-1.8 1.9-1.8 1.9-1.8 1.8-1.8 1.8-1.8 1.7-1.7 1.7-1.8 1.7-1.8 1.6-1.8 1.6-1.8 1.5-1.8 1.5-1.8 1.4-1.7 1.4-1.8 1.3-1.8 1.3-1.8 1.2-1.8 1.2-1.8 1.1-1.8 1.1-1.8 1-1.6 .9M852.4 758.3l-.4-.8-1.8-3.7-1.8-3.8-1.8-3.7-1.8-3.8-1.7-3.9-1.8-3.9-1.8-3.9-1.8-3.9-1.8-4-1.8-4-1.8-4-1.7-4.1-1.8-4.1-1.8-4.1-1.8-4.1-1.8-4.2-1.8-4.2-1.8-4.2-1.7-4.2-1.8-4.3-1.8-4.2-1.8-4.3-1.8-4.3-1.8-4.4-1.8-4.3-1.8-4.4-1.7-4.3-1.8-4.4-1.8-4.4-1.8-4.4-1.8-4.4-1.8-4.4-1.8-4.4-1.7-4.5-1.8-4.4-1.8-4.4-1.8-4.5-1.8-4.4-1.8-4.4-1.8-4.5-1.7-4.4-1.8-4.4-1.8-4.5-1.8-4.4-1.8-4.4-1.8-4.4-1.8-4.4-1.7-4.4-1.8-4.4-1.8-4.3-1.8-4.4-1.8-4.3-1.8-4.4-1.8-4.3-1.8-4.2-1.7-4.3-1.8-4.3-1.8-4.2-1.8-4.2-1.8-4.2-1.8-4.2-1.8-4.1-1.7-4.1-1.8-4.1-1.8-4.1-1.8-4-1.8-4-1.8-4-1.8-3.9-1.7-3.9-1.8-3.9-1.8-3.9-1.8-3.8-1.8-3.7-1.8-3.8-1.8-3.7-1.8-3.6-1.7-3.6-1.8-3.6-1.8-3.6-1.8-3.4-1.8-3.5-1.8-3.4-1.8-3.4-1.7-3.3-1.8-3.3-1.8-3.2-1.8-3.2-1.8-3.1-1.8-3.1-1.8-3-1.7-3-1.8-3-1.8-2.8-1.8-2.9-1.8-2.7-1.8-2.8-1.8-2.6-1.7-2.7-1.8-2.5-1.8-2.5-1.8-2.5-1.8-2.4-1.8-2.3-1.8-2.3-1.8-2.2-1.7-2.2-1.8-2.1-1.8-2.1-1.8-1.9-1.8-2-1.8-1.8-1.8-1.9-1.7-1.7-1.8-1.7-1.8-1.6-1.8-1.6-1.8-1.5-1.8-1.4-1.8-1.4-1.7-1.3-1.8-1.3-1.8-1.2-1.8-1.1-1.8-1.1-1.8-1-1.8-1-1.7-.8"/>
<path stroke="url(#t11)" d="M1294.4 624.6l-1.8-.8-1.8-.7-1.8-.7-1.8-.7-1.8-.6-1.7-.5-1.8-.5-1.8-.4-1.8-.3-1.8-.3-1.8-.2-1.8-.2-1.7-.1-1.8-.1-1.8 0-.1 0M1248.6 622.1l-.7 .2-1.7 .7-1.8 .7-1.8 .8-1.8 .9-1.8 .8-1.8 1-1.8 1-1.8 1-1.7 1.1-1.8 1.1-1.8 1.2-1.8 1.2-1.8 1.3-1.8 1.3-1.8 1.4-1.7 1.4-1.8 1.5-1.8 1.5-1.8 1.5-1.8 1.6-1.8 1.7-1.8 1.6-1.7 1.7-1.8 1.8-1.8 1.8-1.8 1.8-1.8 1.9-1.8 1.9-1.8 1.9-1.7 2-1.8 2-1.8 2-1.8 2.1-1.8 2.1-1.8 2.1-1.8 2.2-1.8 2.2-1.7 2.2-1.8 2.2-1.8 2.3-1.8 2.3-1.8 2.3-1.8 2.3-1.8 2.4-1.7 2.3-1.8 2.4-1.8 2.4-1.8 2.5-1.8 2.4-1.8 2.5-1.8 2.5-1.7 2.4-1.8 2.5-1.8 2.6-1.8 2.5-1.8 2.5-1.8 2.6-1.8 2.5-1.8 2.6-1.7 2.5-1.8 2.6-1.8 2.6-1.8 2.5-1.8 2.6-1.8 2.6-1.8 2.5-1.7 2.6-1.8 2.6-1.8 2.5-1.8 2.6-1.8 2.5-1.8 2.6-1.8 2.5-1.7 2.5-1.8 2.6-1.8 2.5-1.8 2.5-1.8 2.4-1.8 2.5-1.8 2.4-1.7 2.5-1.8 2.4-1.8 2.4-1.8 2.3-1.8 2.4-1.8 2.3-1.8 2.3-1.8 2.3-1.7 2.3-1.8 2.2-1.8 2.2-1.8 2.2-1.8 2.2-1.8 2.1-1.8 2.1-1.7 2.1-1.8 2-1.8 2-1.8 2-1.8 1.9-1.8 1.9-1.8 1.9-1.7 1.8-1.8 1.8-1.8 1.8-1.8 1.7-1.8 1.6-1.8 1.7-1.8 1.6-1.8 1.5-1.7 1.5-1.8 1.5-1.8 1.4-1.8 1.4-1.8 1.3-1.8 1.3-1.8 1.2-1.7 1.2-1.8 1.1-1.8 1.1-1.8 1-1.8 1-1.8 1 0 0M867.6 718.4l-.1-.3-1.8-3.8-1.8-3.8-1.8-3.9-1.8-3.9-1.8-3.9-1.8-3.9-1.7-4-1.8-4-1.8-4-1.8-4-1.8-4.1-1.8-4.1-1.8-4.1-1.7-4.1-1.8-4.1-1.8-4.2-1.8-4.2-1.8-4.1-1.8-4.2-1.8-4.2-1.7-4.3-1.8-4.2-1.8-4.2-1.8-4.3-1.8-4.2-1.8-4.3-1.8-4.3-1.7-4.2-1.8-4.3-1.8-4.3-1.8-4.2-1.8-4.3-1.8-4.3-1.8-4.3-1.8-4.2-1.7-4.3-1.8-4.3-1.8-4.2-1.8-4.3-1.8-4.2-1.8-4.2-1.8-4.3-1.7-4.2-1.8-4.2-1.8-4.1-1.8-4.2-1.8-4.2-1.8-4.1-1.8-4.1-1.7-4.1-1.8-4.1-1.8-4.1-1.8-4-1.8-4-1.8-4-1.8-4-1.7-3.9-1.8-3.9-1.8-3.9-1.8-3.9-1.8-3.8-1.8-3.8-1.8-3.8-1.8-3.7-1.7-3.7-1.8-3.7-1.8-3.7-1.8-3.6-1.8-3.5-1.8-3.6-1.8-3.5-1.7-3.4-1.8-3.4-1.8-3.4-1.8-3.3-1.8-3.3-1.8-3.3-1.8-3.2-1.7-3.2-1.8-3.1-1.8-3.1-1.8-3-1.8-3-1.8-2.9-1.8-2.9-1.8-2.8-1.7-2.8-1.8-2.8-1.8-2.7-1.8-2.6-1.8-2.6-1.8-2.5-1.8-2.5-1.7-2.5-1.8-2.3-1.8-2.4-1.8-2.2-1.8-2.3-1.8-2.1-1.8-2.1-1.7-2.1-1.8-2-1.8-1.9-1.8-1.9-1.8-1.8-1.8-1.8-1.8-1.7-1.7-1.6-1.8-1.6-1.8-1.6-1.8-1.4-1.8-1.5-1.8-1.3-1.8-1.3-1.8-1.3-1.7-1.1-1.8-1.2-1.8-1-1.8-1-1.8-1-1.8-.9"/>
<path stroke="url(#t12)" d="M1322.4 625.4l-1.8-.8-1.8-.8-1.8-.7-1.8-.6-1.8-.6-1.8-.6-1.7-.5-1.8-.4-1.8-.4-1.8-.3-1.8-.2-1.8-.2-1.8-.2-1.7-.1-1.8 0-1.8 0-.6 0M1272.2 623.6l-1.6 .6-1.8 .7-1.8 .9-1.8 .8-1.8 .9-1.8 1-1.8 1-1.7 1-1.8 1.1-1.8 1.2-1.8 1.1-1.8 1.3-1.8 1.2-1.8 1.4-1.7 1.3-1.8 1.4-1.8 1.5-1.8 1.4-1.8 1.6-1.8 1.5-1.8 1.6-1.8 1.7-1.7 1.6-1.8 1.7-1.8 1.8-1.8 1.8-1.8 1.8-1.8 1.8-1.8 1.9-1.7 1.9-1.8 1.9-1.8 2-1.8 2-1.8 2-1.8 2.1-1.8 2-1.7 2.1-1.8 2.2-1.8 2.1-1.8 2.2-1.8 2.2-1.8 2.2-1.8 2.2-1.7 2.3-1.8 2.2-1.8 2.3-1.8 2.3-1.8 2.3-1.8 2.4-1.8 2.3-1.8 2.4-1.7 2.3-1.8 2.4-1.8 2.4-1.8 2.4-1.8 2.4-1.8 2.4-1.8 2.4-1.7 2.4-1.8 2.4-1.8 2.4-1.8 2.5-1.8 2.4-1.8 2.4-1.8 2.4-1.7 2.4-1.8 2.4-1.8 2.4-1.8 2.4-1.8 2.4-1.8 2.4-1.8 2.4-1.8 2.4-1.7 2.3-1.8 2.3-1.8 2.4-1.8 2.3-1.8 2.3-1.8 2.3-1.8 2.2-1.7 2.3-1.8 2.2-1.8 2.2-1.8 2.2-1.8 2.2-1.8 2.2-1.8 2.1-1.7 2.1-1.8 2.1-1.8 2-1.8 2-1.8 2-1.8 2-1.8 1.9-1.7 1.9-1.8 1.9-1.8 1.9-1.8 1.8-1.8 1.7-1.8 1.8-1.8 1.7-1.8 1.7-1.7 1.6-1.8 1.6-1.8 1.6-1.8 1.5-1.8 1.5-1.8 1.4-1.8 1.4-1.7 1.4-1.8 1.3-1.8 1.2-1.8 1.3-1.8 1.2-1.8 1.1-1.8 1.1-1.7 1-1.8 1-1.8 1-1.8 .9-.1 0M883.3 680.2l-.4-.8-1.7-3.8-1.8-3.9-1.8-3.9-1.8-3.9-1.8-4-1.8-3.9-1.8-4-1.7-4-1.8-4-1.8-4-1.8-4-1.8-4.1-1.8-4-1.8-4.1-1.8-4.1-1.7-4.1-1.8-4.1-1.8-4.1-1.8-4.1-1.8-4.1-1.8-4.1-1.8-4.1-1.7-4.2-1.8-4.1-1.8-4.1-1.8-4.1-1.8-4.2-1.8-4.1-1.8-4.1-1.7-4.1-1.8-4.1-1.8-4.1-1.8-4.1-1.8-4.1-1.8-4-1.8-4.1-1.7-4-1.8-4.1-1.8-4-1.8-4-1.8-4-1.8-4-1.8-3.9-1.8-4-1.7-3.9-1.8-3.9-1.8-3.9-1.8-3.8-1.8-3.8-1.8-3.8-1.8-3.8-1.7-3.8-1.8-3.7-1.8-3.7-1.8-3.7-1.8-3.6-1.8-3.6-1.8-3.6-1.7-3.6-1.8-3.5-1.8-3.5-1.8-3.4-1.8-3.4-1.8-3.4-1.8-3.3-1.7-3.3-1.8-3.3-1.8-3.2-1.8-3.2-1.8-3.2-1.8-3.1-1.8-3-1.8-3.1-1.7-2.9-1.8-3-1.8-2.9-1.8-2.8-1.8-2.8-1.8-2.8-1.8-2.7-1.7-2.6-1.8-2.6-1.8-2.6-1.8-2.5-1.8-2.5-1.8-2.4-1.8-2.3-1.7-2.4-1.8-2.2-1.8-2.2-1.8-2.2-1.8-2.1-1.8-2-1.8-2-1.8-2-1.7-1.9-1.8-1.8-1.8-1.8-1.8-1.7-1.8-1.7-1.8-1.6-1.8-1.6-1.7-1.5-1.8-1.4-1.8-1.4-1.8-1.3-1.8-1.3-1.8-1.3-1.8-1.1-1.7-1.1-1.8-1.1-1.8-1-1.8-.9-1.8-.9"/>
<path stroke="url(#t13)" d="M1350.3 625.7l-1.7-.8-1.8-.8-1.8-.7-1.8-.7-1.8-.6-1.8-.6-1.8-.5-1.7-.4-1.8-.4-1.8-.3-1.8-.3-1.8-.2-1.8-.2-1.8-.1-1.8-.1-1.7 0-1.8 0-1.3 .1M1295.6 624.6l-.6 .3-1.8 .7-1.8 .9-1.8 .8-1.8 1-1.8 .9-1.8 1-1.7 1.1-1.8 1.1-1.8 1.1-1.8 1.2-1.8 1.2-1.8 1.3-1.8 1.3-1.7 1.3-1.8 1.4-1.8 1.4-1.8 1.5-1.8 1.5-1.8 1.5-1.8 1.6-1.7 1.5-1.8 1.7-1.8 1.6-1.8 1.7-1.8 1.8-1.8 1.7-1.8 1.8-1.7 1.8-1.8 1.9-1.8 1.8-1.8 1.9-1.8 2-1.8 1.9-1.8 2-1.8 2-1.7 2-1.8 2-1.8 2.1-1.8 2.1-1.8 2.1-1.8 2.1-1.8 2.1-1.7 2.1-1.8 2.2-1.8 2.2-1.8 2.2-1.8 2.2-1.8 2.2-1.8 2.2-1.7 2.2-1.8 2.3-1.8 2.2-1.8 2.3-1.8 2.3-1.8 2.2-1.8 2.3-1.7 2.3-1.8 2.2-1.8 2.3-1.8 2.3-1.8 2.3-1.8 2.2-1.8 2.3-1.8 2.3-1.7 2.2-1.8 2.3-1.8 2.2-1.8 2.3-1.8 2.2-1.8 2.2-1.8 2.3-1.7 2.2-1.8 2.1-1.8 2.2-1.8 2.2-1.8 2.1-1.8 2.2-1.8 2.1-1.7 2.1-1.8 2.1-1.8 2-1.8 2.1-1.8 2-1.8 2-1.8 1.9-1.8 2-1.7 1.9-1.8 1.9-1.8 1.9-1.8 1.8-1.8 1.8-1.8 1.8-1.8 1.8-1.7 1.7-1.8 1.7-1.8 1.7-1.8 1.6-1.8 1.6-1.8 1.5-1.8 1.6-1.7 1.5-1.8 1.4-1.8 1.4-1.8 1.4-1.8 1.4-1.8 1.3-1.8 1.2-1.7 1.2-1.8 1.2-1.8 1.2-1.8 1-1.8 1.1-1.8 1-1.8 1-1.8 .9-1.7 .9-.1 0M899.8 644.7l-1.4-3-1.8-3.9-1.8-3.9-1.7-3.8-1.8-3.9-1.8-3.9-1.8-4-1.8-3.9-1.8-3.9-1.8-4-1.7-3.9-1.8-4-1.8-3.9-1.8-4-1.8-4-1.8-4-1.8-4-1.7-3.9-1.8-4-1.8-4-1.8-4-1.8-3.9-1.8-4-1.8-4-1.8-3.9-1.7-4-1.8-3.9-1.8-4-1.8-3.9-1.8-3.9-1.8-3.9-1.8-3.9-1.7-3.9-1.8-3.9-1.8-3.8-1.8-3.9-1.8-3.8-1.8-3.8-1.8-3.8-1.7-3.7-1.8-3.8-1.8-3.7-1.8-3.7-1.8-3.7-1.8-3.6-1.8-3.7-1.7-3.6-1.8-3.5-1.8-3.6-1.8-3.5-1.8-3.5-1.8-3.5-1.8-3.4-1.8-3.4-1.7-3.4-1.8-3.3-1.8-3.3-1.8-3.3-1.8-3.2-1.8-3.2-1.8-3.1-1.7-3.2-1.8-3.1-1.8-3-1.8-3-1.8-3-1.8-2.9-1.8-2.9-1.7-2.8-1.8-2.8-1.8-2.8-1.8-2.7-1.8-2.7-1.8-2.6-1.8-2.6-1.7-2.5-1.8-2.5-1.8-2.4-1.8-2.4-1.8-2.4-1.8-2.3-1.8-2.2-1.8-2.2-1.7-2.2-1.8-2.1-1.8-2-1.8-2-1.8-2-1.8-1.9-1.8-1.8-1.7-1.8-1.8-1.7-1.8-1.7-1.8-1.7-1.8-1.5-1.8-1.6-1.8-1.4-1.7-1.5-1.8-1.3-1.8-1.4-1.8-1.2-1.8-1.2-1.8-1.2-1.8-1.1-1.8-1-1.7-1-1.8-.9-1.8-.9"/>
<path stroke="url(#t14)" d="M1378.3 625.5l-1.8-.8-1.8-.8-1.7-.7-1.8-.7-1.8-.6-1.8-.6-1.8-.5-1.8-.5-1.8-.4-1.7-.3-1.8-.3-1.8-.3-1.8-.2-1.8-.1-1.8-.2-1.8 0-1.7 0-1.8 0-1.8 .1-.2 .1M1318.9 625.2l-1.3 .6-1.8 .9-1.8 .9-1.8 .9-1.8 1-1.7 1-1.8 1-1.8 1.1-1.8 1.1-1.8 1.2-1.8 1.2-1.8 1.3-1.7 1.2-1.8 1.4-1.8 1.3-1.8 1.4-1.8 1.4-1.8 1.5-1.8 1.5-1.8 1.5-1.7 1.6-1.8 1.5-1.8 1.7-1.8 1.6-1.8 1.7-1.8 1.7-1.8 1.7-1.7 1.8-1.8 1.7-1.8 1.8-1.8 1.9-1.8 1.8-1.8 1.9-1.8 1.9-1.7 1.9-1.8 1.9-1.8 2-1.8 1.9-1.8 2-1.8 2-1.8 2-1.7 2.1-1.8 2-1.8 2.1-1.8 2-1.8 2.1-1.8 2.1-1.8 2.1-1.8 2.1-1.7 2.1-1.8 2.2-1.8 2.1-1.8 2.1-1.8 2.2-1.8 2.1-1.8 2.1-1.7 2.2-1.8 2.1-1.8 2.2-1.8 2.1-1.8 2.1-1.8 2.2-1.8 2.1-1.7 2.1-1.8 2.1-1.8 2.1-1.8 2.1-1.8 2.1-1.8 2.1-1.8 2.1-1.7 2-1.8 2.1-1.8 2-1.8 2-1.8 2-1.8 2-1.8 2-1.8 1.9-1.7 2-1.8 1.9-1.8 1.9-1.8 1.8-1.8 1.9-1.8 1.8-1.8 1.8-1.7 1.8-1.8 1.8-1.8 1.7-1.8 1.7-1.8 1.7-1.8 1.6-1.8 1.6-1.7 1.6-1.8 1.6-1.8 1.5-1.8 1.5-1.8 1.4-1.8 1.4-1.8 1.4-1.8 1.4-1.7 1.3-1.8 1.3-1.8 1.2-1.8 1.2-1.8 1.2-1.8 1.1-1.8 1.1-1.7 1.1-1.8 1-1.8 1-1.8 .9-1.8 .9-1.7 .8M917.6 613l-.1-.3-1.8-3.8-1.8-3.8-1.8-3.8-1.8-3.8-1.8-3.8-1.7-3.8-1.8-3.9-1.8-3.8-1.8-3.8-1.8-3.9-1.8-3.8-1.8-3.9-1.8-3.8-1.7-3.9-1.8-3.8-1.8-3.8-1.8-3.9-1.8-3.8-1.8-3.8-1.8-3.9-1.7-3.8-1.8-3.8-1.8-3.8-1.8-3.8-1.8-3.7-1.8-3.8-1.8-3.7-1.7-3.8-1.8-3.7-1.8-3.7-1.8-3.7-1.8-3.7-1.8-3.6-1.8-3.7-1.8-3.6-1.7-3.6-1.8-3.6-1.8-3.5-1.8-3.6-1.8-3.5-1.8-3.4-1.8-3.5-1.7-3.4-1.8-3.4-1.8-3.4-1.8-3.4-1.8-3.3-1.8-3.3-1.8-3.2-1.7-3.3-1.8-3.2-1.8-3.1-1.8-3.1-1.8-3.1-1.8-3.1-1.8-3-1.7-3-1.8-3-1.8-2.9-1.8-2.8-1.8-2.9-1.8-2.8-1.8-2.7-1.8-2.8-1.7-2.6-1.8-2.7-1.8-2.6-1.8-2.5-1.8-2.5-1.8-2.5-1.8-2.4-1.7-2.4-1.8-2.3-1.8-2.3-1.8-2.2-1.8-2.2-1.8-2.1-1.8-2.1-1.7-2.1-1.8-2-1.8-1.9-1.8-1.9-1.8-1.9-1.8-1.8-1.8-1.7-1.8-1.7-1.7-1.7-1.8-1.6-1.8-1.5-1.8-1.5-1.8-1.5-1.8-1.4-1.8-1.3-1.7-1.3-1.8-1.3-1.8-1.2-1.8-1.1-1.8-1.1-1.8-1-1.8-1-1.7-.9-1.8-.9"/>
<path stroke="url(#t15)" d="M1406.3 624.9l-1.8-.9-1.8-.7-1.8-.8-1.7-.6-1.8-.7-1.8-.5-1.8-.6-1.8-.4-1.8-.5-1.8-.4-1.7-.3-1.8-.3-1.8-.2-1.8-.2-1.8-.1-1.8-.1-1.8 0-1.8 0-1.7 0-1.8 .1-1 .1M1342.1 625.5l-.1 0-1.8 .9-1.8 .9-1.8 .9-1.8 1-1.7 1-1.8 1-1.8 1.1-1.8 1.1-1.8 1.2-1.8 1.2-1.8 1.2-1.7 1.3-1.8 1.3-1.8 1.3-1.8 1.4-1.8 1.4-1.8 1.4-1.8 1.4-1.7 1.5-1.8 1.5-1.8 1.5-1.8 1.6-1.8 1.6-1.8 1.6-1.8 1.7-1.7 1.6-1.8 1.7-1.8 1.7-1.8 1.8-1.8 1.7-1.8 1.8-1.8 1.8-1.8 1.8-1.7 1.8-1.8 1.9-1.8 1.8-1.8 1.9-1.8 1.9-1.8 1.9-1.8 2-1.7 1.9-1.8 1.9-1.8 2-1.8 2-1.8 1.9-1.8 2-1.8 2-1.7 2-1.8 2-1.8 2-1.8 2-1.8 2-1.8 2-1.8 2-1.7 2.1-1.8 2-1.8 2-1.8 2-1.8 2-1.8 2-1.8 2-1.8 2-1.7 2-1.8 1.9-1.8 2-1.8 2-1.8 1.9-1.8 1.9-1.8 2-1.7 1.9-1.8 1.9-1.8 1.8-1.8 1.9-1.8 1.9-1.8 1.8-1.8 1.8-1.7 1.8-1.8 1.8-1.8 1.7-1.8 1.8-1.8 1.7-1.8 1.7-1.8 1.6-1.7 1.7-1.8 1.6-1.8 1.6-1.8 1.5-1.8 1.6-1.8 1.5-1.8 1.5-1.8 1.4-1.7 1.4-1.8 1.4-1.8 1.4-1.8 1.3-1.8 1.3-1.8 1.3-1.8 1.2-1.7 1.2-1.8 1.1-1.8 1.2-1.8 1-1.8 1.1-1.8 1-1.8 1-1.7 .9-1.8 .9-1.8 .8-1.5 .7M937.5 586.9l-1-2-1.8-3.7-1.8-3.7-1.7-3.7-1.8-3.8-1.8-3.7-1.8-3.7-1.8-3.7-1.8-3.7-1.8-3.7-1.7-3.8-1.8-3.7-1.8-3.7-1.8-3.7-1.8-3.7-1.8-3.7-1.8-3.7-1.7-3.6-1.8-3.7-1.8-3.7-1.8-3.6-1.8-3.7-1.8-3.6-1.8-3.6-1.8-3.6-1.7-3.6-1.8-3.6-1.8-3.5-1.8-3.6-1.8-3.5-1.8-3.5-1.8-3.5-1.7-3.4-1.8-3.4-1.8-3.5-1.8-3.4-1.8-3.3-1.8-3.4-1.8-3.3-1.7-3.3-1.8-3.3-1.8-3.2-1.8-3.2-1.8-3.2-1.8-3.2-1.8-3.1-1.8-3.1-1.7-3-1.8-3.1-1.8-3-1.8-2.9-1.8-3-1.8-2.9-1.8-2.8-1.7-2.9-1.8-2.7-1.8-2.8-1.8-2.7-1.8-2.7-1.8-2.6-1.8-2.6-1.7-2.6-1.8-2.5-1.8-2.5-1.8-2.4-1.8-2.4-1.8-2.3-1.8-2.4-1.7-2.2-1.8-2.2-1.8-2.2-1.8-2.1-1.8-2.1-1.8-2.1-1.8-2-1.8-1.9-1.7-1.9-1.8-1.9-1.8-1.8-1.8-1.7-1.8-1.8-1.8-1.6-1.8-1.6-1.7-1.6-1.8-1.5-1.8-1.5-1.8-1.4-1.8-1.4-1.8-1.3-1.8-1.3-1.7-1.2-1.8-1.2-1.8-1.1-1.8-1.1-1.8-1-1.8-1-1.8-.9-1.8-.9"/>
<path stroke="url(#t16)" d="M1434.3 623.9l-1.8-.9-1.8-.8-1.8-.7-1.8-.7-1.8-.6-1.7-.6-1.8-.5-1.8-.5-1.8-.5-1.8-.4-1.8-.3-1.8-.3-1.7-.3-1.8-.2-1.8-.2-1.8-.1-1.8-.1-1.8 0-1.8 0-1.7 .1-1.8 .1-1.8 .2-.1 0M1365 625.5l-.4 .2-1.8 .9-1.8 .9-1.7 .9-1.8 1.1-1.8 1-1.8 1.1-1.8 1.1-1.8 1.1-1.8 1.2-1.7 1.2-1.8 1.2-1.8 1.3-1.8 1.3-1.8 1.3-1.8 1.4-1.8 1.3-1.8 1.4-1.7 1.5-1.8 1.4-1.8 1.5-1.8 1.5-1.8 1.6-1.8 1.5-1.8 1.6-1.7 1.6-1.8 1.7-1.8 1.6-1.8 1.7-1.8 1.6-1.8 1.7-1.8 1.8-1.7 1.7-1.8 1.8-1.8 1.7-1.8 1.8-1.8 1.8-1.8 1.8-1.8 1.8-1.7 1.8-1.8 1.9-1.8 1.8-1.8 1.9-1.8 1.8-1.8 1.9-1.8 1.9-1.8 1.9-1.7 1.8-1.8 1.9-1.8 1.9-1.8 1.9-1.8 1.9-1.8 1.9-1.8 1.9-1.7 1.9-1.8 1.9-1.8 1.9-1.8 1.8-1.8 1.9-1.8 1.9-1.8 1.8-1.7 1.9-1.8 1.8-1.8 1.9-1.8 1.8-1.8 1.8-1.8 1.8-1.8 1.8-1.7 1.8-1.8 1.8-1.8 1.7-1.8 1.8-1.8 1.7-1.8 1.7-1.8 1.7-1.8 1.6-1.7 1.7-1.8 1.6-1.8 1.6-1.8 1.6-1.8 1.5-1.8 1.6-1.8 1.5-1.7 1.5-1.8 1.4-1.8 1.5-1.8 1.4-1.8 1.4-1.8 1.3-1.8 1.3-1.7 1.3-1.8 1.3-1.8 1.2-1.8 1.2-1.8 1.2-1.8 1.2-1.8 1.1-1.7 1-1.8 1.1-1.8 1-1.8 .9-1.8 1-1.8 .9-1.8 .8-1.8 .8-1.1 .6M961.7 570.4l-.8-1.5-1.8-3.6-1.7-3.6-1.8-3.5-1.8-3.6-1.8-3.6-1.8-3.6-1.8-3.6-1.8-3.6-1.8-3.6-1.7-3.6-1.8-3.6-1.8-3.6-1.8-3.5-1.8-3.6-1.8-3.6-1.8-3.5-1.7-3.6-1.8-3.5-1.8-3.5-1.8-3.5-1.8-3.5-1.8-3.5-1.8-3.5-1.7-3.4-1.8-3.5-1.8-3.4-1.8-3.4-1.8-3.4-1.8-3.4-1.8-3.3-1.7-3.4-1.8-3.3-1.8-3.2-1.8-3.3-1.8-3.3-1.8-3.2-1.8-3.2-1.8-3.1-1.7-3.2-1.8-3.1-1.8-3.1-1.8-3-1.8-3.1-1.8-3-1.8-2.9-1.7-3-1.8-2.9-1.8-2.9-1.8-2.8-1.8-2.8-1.8-2.8-1.8-2.7-1.7-2.7-1.8-2.7-1.8-2.6-1.8-2.6-1.8-2.6-1.8-2.5-1.8-2.5-1.8-2.5-1.7-2.4-1.8-2.3-1.8-2.4-1.8-2.3-1.8-2.2-1.8-2.2-1.8-2.2-1.7-2.1-1.8-2.1-1.8-2-1.8-2-1.8-1.9-1.8-1.9-1.8-1.9-1.7-1.8-1.8-1.8-1.8-1.7-1.8-1.7-1.8-1.6-1.8-1.6-1.8-1.5-1.7-1.5-1.8-1.5-1.8-1.4-1.8-1.3-1.8-1.3-1.8-1.3-1.8-1.2-1.8-1.2-1.7-1.1-1.8-1.1-1.8-1-1.8-.9-1.8-1-1.8-.8"/>
<path stroke="url(#t17)" d="M1462.3 622.5l-1.8-.9-1.8-.8-1.8-.7-1.8-.7-1.8-.6-1.8-.6-1.7-.6-1.8-.5-1.8-.5-1.8-.4-1.8-.4-1.8-.3-1.8-.3-1.7-.2-1.8-.2-1.8-.1-1.8-.1-1.8-.1-1.8 0-1.8 0-1.8 .1-1.7 .1-1.8 .1-1.2 .2M1387.6 625.2l-.4 .2-1.7 .9-1.8 1-1.8 .9-1.8 1.1-1.8 1-1.8 1.1-1.8 1.1-1.8 1.2-1.7 1.2-1.8 1.2-1.8 1.2-1.8 1.3-1.8 1.3-1.8 1.3-1.8 1.3-1.7 1.4-1.8 1.4-1.8 1.4-1.8 1.4-1.8 1.5-1.8 1.5-1.8 1.5-1.7 1.5-1.8 1.5-1.8 1.6-1.8 1.6-1.8 1.6-1.8 1.6-1.8 1.6-1.8 1.6-1.7 1.7-1.8 1.7-1.8 1.7-1.8 1.6-1.8 1.8-1.8 1.7-1.8 1.7-1.7 1.7-1.8 1.8-1.8 1.7-1.8 1.8-1.8 1.7-1.8 1.8-1.8 1.8-1.7 1.7-1.8 1.8-1.8 1.8-1.8 1.8-1.8 1.8-1.8 1.7-1.8 1.8-1.7 1.8-1.8 1.8-1.8 1.7-1.8 1.8-1.8 1.7-1.8 1.8-1.8 1.7-1.8 1.8-1.7 1.7-1.8 1.7-1.8 1.7-1.8 1.7-1.8 1.7-1.8 1.7-1.8 1.6-1.7 1.7-1.8 1.6-1.8 1.6-1.8 1.6-1.8 1.6-1.8 1.5-1.8 1.6-1.7 1.5-1.8 1.5-1.8 1.5-1.8 1.4-1.8 1.5-1.8 1.4-1.8 1.4-1.7 1.4-1.8 1.3-1.8 1.3-1.8 1.3-1.8 1.3-1.8 1.2-1.8 1.2-1.8 1.2-1.7 1.1-1.8 1.1-1.8 1.1-1.8 1.1-1.8 1-1.8 1-1.8 1-1.7 .9-1.8 .9-1.8 .8-1.8 .9-1.8 .7-.7 .4M996.6 575.4l-.6-1.1-1.7-3.5-1.8-3.4-1.8-3.5-1.8-3.5-1.8-3.4-1.8-3.5-1.8-3.5-1.7-3.5-1.8-3.5-1.8-3.5-1.8-3.4-1.8-3.5-1.8-3.5-1.8-3.5-1.7-3.4-1.8-3.5-1.8-3.5-1.8-3.4-1.8-3.5-1.8-3.4-1.8-3.4-1.7-3.5-1.8-3.4-1.8-3.4-1.8-3.4-1.8-3.3-1.8-3.4-1.8-3.3-1.8-3.4-1.7-3.3-1.8-3.3-1.8-3.3-1.8-3.2-1.8-3.3-1.8-3.2-1.8-3.2-1.7-3.2-1.8-3.2-1.8-3.1-1.8-3.1-1.8-3.1-1.8-3.1-1.8-3.1-1.7-3-1.8-3-1.8-2.9-1.8-3-1.8-2.9-1.8-2.9-1.8-2.8-1.7-2.8-1.8-2.8-1.8-2.8-1.8-2.7-1.8-2.7-1.8-2.7-1.8-2.6-1.8-2.6-1.7-2.6-1.8-2.5-1.8-2.5-1.8-2.4-1.8-2.5-1.8-2.3-1.8-2.4-1.7-2.3-1.8-2.3-1.8-2.2-1.8-2.2-1.8-2.1-1.8-2.1-1.8-2.1-1.7-2-1.8-2-1.8-1.9-1.8-2-1.8-1.8-1.8-1.8-1.8-1.8-1.8-1.7-1.7-1.7-1.8-1.7-1.8-1.6-1.8-1.5-1.8-1.5-1.8-1.5-1.8-1.4-1.7-1.4-1.8-1.3-1.8-1.3-1.8-1.3-1.8-1.2-1.8-1.1-1.8-1.1-1.7-1.1-1.8-1-1.8-.9-1.8-1-1.8-.8"/>
<path stroke="url(#t18)" d="M1490.2 620.7l-1.7-.8-1.8-.8-1.8-.8-1.8-.7-1.8-.6-1.8-.6-1.8-.6-1.7-.5-1.8-.5-1.8-.4-1.8-.4-1.8-.4-1.8-.3-1.8-.2-1.8-.3-1.7-.1-1.8-.2-1.8-.1-1.8 0-1.8 0-1.8 0-1.8 .1-1.7 .1-1.8 .1-1.8 .2-.5 .1M1410 624.6l-.1 .1-1.8 .9-1.8 1-1.8 1-1.8 1.1-1.8 1-1.8 1.1-1.7 1.1-1.8 1.2-1.8 1.2-1.8 1.2-1.8 1.2-1.8 1.2-1.8 1.3-1.7 1.3-1.8 1.3-1.8 1.4-1.8 1.4-1.8 1.3-1.8 1.4-1.8 1.5-1.8 1.4-1.7 1.5-1.8 1.5-1.8 1.4-1.8 1.6-1.8 1.5-1.8 1.5-1.8 1.6-1.7 1.5-1.8 1.6-1.8 1.6-1.8 1.6-1.8 1.6-1.8 1.6-1.8 1.7-1.7 1.6-1.8 1.7-1.8 1.6-1.8 1.7-1.8 1.6-1.8 1.7-1.8 1.6-1.8 1.7-1.7 1.7-1.8 1.7-1.8 1.6-1.8 1.7-1.8 1.7-1.8 1.6-1.8 1.7-1.7 1.7-1.8 1.6-1.8 1.7-1.8 1.6-1.8 1.6-1.8 1.7-1.8 1.6-1.7 1.6-1.8 1.6-1.8 1.6-1.8 1.6-1.8 1.5-1.8 1.6-1.8 1.5-1.7 1.6-1.8 1.5-1.8 1.5-1.8 1.4-1.8 1.5-1.8 1.4-1.8 1.5-1.8 1.4-1.7 1.4-1.8 1.3-1.8 1.4-1.8 1.3-1.8 1.3-1.8 1.3-1.8 1.2-1.7 1.2-1.8 1.2-1.8 1.2-1.8 1.2-1.8 1.1-1.8 1.1-1.8 1.1-1.7 1-1.8 1-1.8 1-1.8 .9-1.8 .9-1.8 .9-1.8 .9-1.7 .8-1.8 .8-1.8 .7-.3 .1M1035.5 586.8l-.8-1.5-1.7-3.3-1.8-3.3-1.8-3.3-1.8-3.3-1.8-3.4-1.8-3.3-1.8-3.4-1.7-3.3-1.8-3.4-1.8-3.3-1.8-3.4-1.8-3.4-1.8-3.3-1.8-3.4-1.7-3.4-1.8-3.4-1.8-3.3-1.8-3.4-1.8-3.4-1.8-3.4-1.8-3.3-1.8-3.4-1.7-3.3-1.8-3.4-1.8-3.3-1.8-3.4-1.8-3.3-1.8-3.3-1.8-3.3-1.7-3.3-1.8-3.3-1.8-3.3-1.8-3.2-1.8-3.3-1.8-3.2-1.8-3.2-1.7-3.2-1.8-3.2-1.8-3.2-1.8-3.1-1.8-3.1-1.8-3.1-1.8-3.1-1.7-3.1-1.8-3.1-1.8-3-1.8-3-1.8-3-1.8-2.9-1.8-3-1.8-2.9-1.7-2.8-1.8-2.9-1.8-2.8-1.8-2.8-1.8-2.8-1.8-2.7-1.8-2.8-1.7-2.6-1.8-2.7-1.8-2.6-1.8-2.6-1.8-2.6-1.8-2.5-1.8-2.5-1.7-2.4-1.8-2.5-1.8-2.3-1.8-2.4-1.8-2.3-1.8-2.3-1.8-2.2-1.7-2.2-1.8-2.2-1.8-2.2-1.8-2-1.8-2.1-1.8-2-1.8-2-1.8-1.9-1.7-1.9-1.8-1.9-1.8-1.8-1.8-1.8-1.8-1.7-1.8-1.7-1.8-1.7-1.7-1.6-1.8-1.6-1.8-1.5-1.8-1.5-1.8-1.4-1.8-1.4-1.8-1.4-1.7-1.3-1.8-1.2-1.8-1.3-1.8-1.1-1.8-1.2-1.8-1.1-1.8-1-1.8-1-1.7-1-1.8-.9-1.8-.9"/>
<path stroke="url(#t19)" d="M1518.2 618.6l-1.8-.8-1.8-.8-1.7-.7-1.8-.8-1.8-.6-1.8-.6-1.8-.6-1.8-.6-1.8-.4-1.7-.5-1.8-.4-1.8-.4-1.8-.3-1.8-.3-1.8-.2-1.8-.2-1.7-.2-1.8-.1-1.8-.1-1.8-.1-1.8 0-1.8 .1-1.8 0-1.7 .2-1.8 .1-1.8 .2-1.8 .2M1432 623.9l-1.3 .7-1.8 1-1.8 1-1.8 1-1.8 1.1-1.7 1.1-1.8 1.1-1.8 1.1-1.8 1.2-1.8 1.2-1.8 1.2-1.8 1.2-1.7 1.3-1.8 1.3-1.8 1.3-1.8 1.3-1.8 1.3-1.8 1.4-1.8 1.3-1.7 1.4-1.8 1.4-1.8 1.4-1.8 1.5-1.8 1.4-1.8 1.5-1.8 1.4-1.7 1.5-1.8 1.5-1.8 1.5-1.8 1.5-1.8 1.5-1.8 1.6-1.8 1.5-1.8 1.5-1.7 1.6-1.8 1.5-1.8 1.6-1.8 1.6-1.8 1.5-1.8 1.6-1.8 1.6-1.7 1.5-1.8 1.6-1.8 1.6-1.8 1.5-1.8 1.6-1.8 1.6-1.8 1.5-1.7 1.6-1.8 1.5-1.8 1.6-1.8 1.5-1.8 1.5-1.8 1.5-1.8 1.6-1.8 1.5-1.7 1.5-1.8 1.4-1.8 1.5-1.8 1.5-1.8 1.4-1.8 1.4-1.8 1.4-1.7 1.4-1.8 1.4-1.8 1.4-1.8 1.4-1.8 1.3-1.8 1.3-1.8 1.3-1.7 1.3-1.8 1.2-1.8 1.3-1.8 1.2-1.8 1.2-1.8 1.1-1.8 1.2-1.7 1.1-1.8 1.1-1.8 1-1.8 1.1-1.8 1-1.8 1-1.8 1-1.8 .9-1.7 .9-1.8 .9-1.8 .8-1.8 .8-1.8 .8-1.8 .8-1.4 .5M1074.2 596.1l-.8-1.3-1.7-3.1-1.8-3.2-1.8-3.1-1.8-3.2-1.8-3.1-1.8-3.2-1.8-3.2-1.7-3.2-1.8-3.2-1.8-3.3-1.8-3.2-1.8-3.2-1.8-3.3-1.8-3.2-1.8-3.3-1.7-3.3-1.8-3.2-1.8-3.3-1.8-3.3-1.8-3.2-1.8-3.3-1.8-3.3-1.7-3.3-1.8-3.2-1.8-3.3-1.8-3.3-1.8-3.2-1.8-3.3-1.8-3.2-1.7-3.3-1.8-3.2-1.8-3.3-1.8-3.2-1.8-3.2-1.8-3.2-1.8-3.2-1.7-3.2-1.8-3.2-1.8-3.1-1.8-3.2-1.8-3.1-1.8-3.1-1.8-3.1-1.8-3.1-1.7-3.1-1.8-3.1-1.8-3-1.8-3-1.8-3-1.8-3-1.8-3-1.7-2.9-1.8-2.9-1.8-2.9-1.8-2.9-1.8-2.8-1.8-2.9-1.8-2.8-1.7-2.7-1.8-2.8-1.8-2.7-1.8-2.7-1.8-2.7-1.8-2.6-1.8-2.6-1.7-2.6-1.8-2.5-1.8-2.6-1.8-2.4-1.8-2.5-1.8-2.4-1.8-2.4-1.8-2.4-1.7-2.3-1.8-2.3-1.8-2.3-1.8-2.2-1.8-2.2-1.8-2.1-1.8-2.1-1.7-2.1-1.8-2.1-1.8-2-1.8-1.9-1.8-2-1.8-1.9-1.8-1.8-1.7-1.8-1.8-1.8-1.8-1.8-1.8-1.7-1.8-1.6-1.8-1.6-1.8-1.6-1.7-1.6-1.8-1.5-1.8-1.4-1.8-1.4-1.8-1.4-1.8-1.4-1.8-1.2-1.8-1.3-1.7-1.2-1.8-1.2-1.8-1.1-1.8-1.1-1.8-1-1.8-1-1.8-1-1.7-.9-1.8-.9"/>
<path stroke="url(#t20)" d="M1546.2 616.2l-1.8-.8-1.8-.8-1.8-.8-1.7-.7-1.8-.6-1.8-.7-1.8-.6-1.8-.5-1.8-.5-1.8-.5-1.7-.4-1.8-.4-1.8-.3-1.8-.4-1.8-.2-1.8-.3-1.8-.2-1.8-.1-1.7-.1-1.8-.1-1.8 0-1.8 0-1.8 0-1.8 .1-1.8 .1-1.7 .1-1.8 .2-1.8 .2-1.4 .2M1453.9 622.7l-.6 .4-1.8 1-1.8 1-1.7 1-1.8 1.1-1.8 1.1-1.8 1.1-1.8 1.1-1.8 1.2-1.8 1.1-1.7 1.2-1.8 1.2-1.8 1.3-1.8 1.2-1.8 1.3-1.8 1.3-1.8 1.3-1.8 1.3-1.7 1.3-1.8 1.3-1.8 1.4-1.8 1.4-1.8 1.3-1.8 1.4-1.8 1.4-1.7 1.4-1.8 1.4-1.8 1.5-1.8 1.4-1.8 1.4-1.8 1.5-1.8 1.4-1.7 1.5-1.8 1.5-1.8 1.4-1.8 1.5-1.8 1.5-1.8 1.4-1.8 1.5-1.7 1.5-1.8 1.5-1.8 1.4-1.8 1.5-1.8 1.5-1.8 1.4-1.8 1.5-1.8 1.4-1.7 1.5-1.8 1.4-1.8 1.4-1.8 1.5-1.8 1.4-1.8 1.4-1.8 1.4-1.7 1.4-1.8 1.4-1.8 1.3-1.8 1.4-1.8 1.3-1.8 1.3-1.8 1.4-1.7 1.3-1.8 1.2-1.8 1.3-1.8 1.2-1.8 1.3-1.8 1.2-1.8 1.2-1.8 1.1-1.7 1.2-1.8 1.1-1.8 1.1-1.8 1.1-1.8 1.1-1.8 1-1.8 1-1.7 1-1.8 1-1.8 .9-1.8 1-1.8 .8-1.8 .9-1.8 .8-1.7 .8-1.8 .8-1.8 .8-1.8 .7-.6 .2M1112.6 603.5l-.5-.7-1.7-3-1.8-2.9-1.8-3-1.8-3-1.8-3-1.8-3-1.8-3-1.7-3.1-1.8-3-1.8-3.1-1.8-3.1-1.8-3.1-1.8-3.1-1.8-3.1-1.8-3.1-1.7-3.1-1.8-3.2-1.8-3.1-1.8-3.2-1.8-3.1-1.8-3.2-1.8-3.2-1.7-3.1-1.8-3.2-1.8-3.2-1.8-3.2-1.8-3.1-1.8-3.2-1.8-3.2-1.7-3.2-1.8-3.1-1.8-3.2-1.8-3.2-1.8-3.1-1.8-3.2-1.8-3.2-1.8-3.1-1.7-3.1-1.8-3.2-1.8-3.1-1.8-3.1-1.8-3.1-1.8-3.1-1.8-3.1-1.7-3.1-1.8-3-1.8-3.1-1.8-3-1.8-3-1.8-3-1.8-3-1.7-3-1.8-2.9-1.8-2.9-1.8-3-1.8-2.8-1.8-2.9-1.8-2.9-1.7-2.8-1.8-2.8-1.8-2.8-1.8-2.8-1.8-2.7-1.8-2.8-1.8-2.7-1.8-2.6-1.7-2.7-1.8-2.6-1.8-2.6-1.8-2.6-1.8-2.5-1.8-2.5-1.8-2.5-1.7-2.4-1.8-2.5-1.8-2.4-1.8-2.3-1.8-2.3-1.8-2.3-1.8-2.3-1.7-2.2-1.8-2.3-1.8-2.1-1.8-2.2-1.8-2.1-1.8-2-1.8-2.1-1.7-2-1.8-1.9-1.8-1.9-1.8-1.9-1.8-1.9-1.8-1.8-1.8-1.8-1.8-1.7-1.7-1.7-1.8-1.7-1.8-1.6-1.8-1.6-1.8-1.6-1.8-1.5-1.8-1.5-1.7-1.4-1.8-1.4-1.8-1.3-1.8-1.4-1.8-1.2-1.8-1.3-1.8-1.2-1.7-1.1-1.8-1.1-1.8-1.1-1.8-1-1.8-1-1.8-1-1.8-.9-1.8-.9"/>
<path stroke="url(#t21)" d="M1574.2 613.5l-1.8-.8-1.8-.8-1.8-.8-1.8-.7-1.8-.6-1.7-.7-1.8-.6-1.8-.5-1.8-.6-1.8-.5-1.8-.4-1.8-.4-1.7-.4-1.8-.3-1.8-.3-1.8-.3-1.8-.2-1.8-.2-1.8-.1-1.7-.1-1.8-.1-1.8 0-1.8 0-1.8 0-1.8 .1-1.8 .1-1.7 .2-1.8 .1-1.8 .3-1.8 .2-1.1 .2M1475.3 621.6l-1.2 .6-1.7 1-1.8 1-1.8 1.1-1.8 1.1-1.8 1.1-1.8 1.1-1.8 1.1-1.7 1.1-1.8 1.2-1.8 1.2-1.8 1.2-1.8 1.2-1.8 1.2-1.8 1.3-1.7 1.2-1.8 1.3-1.8 1.3-1.8 1.3-1.8 1.3-1.8 1.3-1.8 1.3-1.7 1.3-1.8 1.3-1.8 1.4-1.8 1.3-1.8 1.4-1.8 1.4-1.8 1.3-1.8 1.4-1.7 1.4-1.8 1.3-1.8 1.4-1.8 1.4-1.8 1.4-1.8 1.4-1.8 1.3-1.7 1.4-1.8 1.4-1.8 1.4-1.8 1.4-1.8 1.3-1.8 1.4-1.8 1.3-1.7 1.4-1.8 1.3-1.8 1.4-1.8 1.3-1.8 1.3-1.8 1.3-1.8 1.3-1.7 1.3-1.8 1.3-1.8 1.3-1.8 1.2-1.8 1.3-1.8 1.2-1.8 1.2-1.8 1.2-1.7 1.2-1.8 1.1-1.8 1.2-1.8 1.1-1.8 1.1-1.8 1.1-1.8 1.1-1.7 1-1.8 1.1-1.8 1-1.8 1-1.8 .9-1.8 1-1.8 .9-1.7 .9-1.8 .9-1.8 .8-1.8 .8-1.8 .8-1.8 .8-1.8 .7-1.8 .7-1.5 .6M1151 609.4l-.2-.2-1.7-2.8-1.8-2.7-1.8-2.8-1.8-2.8-1.8-2.8-1.8-2.8-1.8-2.9-1.8-2.9-1.7-2.8-1.8-2.9-1.8-3-1.8-2.9-1.8-2.9-1.8-3-1.8-3-1.7-3-1.8-2.9-1.8-3-1.8-3.1-1.8-3-1.8-3-1.8-3.1-1.7-3-1.8-3.1-1.8-3-1.8-3.1-1.8-3.1-1.8-3-1.8-3.1-1.7-3.1-1.8-3.1-1.8-3.1-1.8-3.1-1.8-3-1.8-3.1-1.8-3.1-1.8-3.1-1.7-3.1-1.8-3.1-1.8-3-1.8-3.1-1.8-3.1-1.8-3-1.8-3.1-1.7-3-1.8-3-1.8-3.1-1.8-3-1.8-3-1.8-3-1.8-3-1.7-2.9-1.8-3-1.8-2.9-1.8-3-1.8-2.9-1.8-2.9-1.8-2.9-1.8-2.8-1.7-2.9-1.8-2.8-1.8-2.8-1.8-2.8-1.8-2.8-1.8-2.8-1.8-2.7-1.7-2.7-1.8-2.7-1.8-2.7-1.8-2.6-1.8-2.7-1.8-2.6-1.8-2.5-1.7-2.6-1.8-2.5-1.8-2.5-1.8-2.5-1.8-2.4-1.8-2.4-1.8-2.4-1.7-2.4-1.8-2.3-1.8-2.3-1.8-2.3-1.8-2.2-1.8-2.3-1.8-2.1-1.8-2.2-1.7-2.1-1.8-2.1-1.8-2-1.8-2.1-1.8-2-1.8-1.9-1.8-1.9-1.7-1.9-1.8-1.9-1.8-1.8-1.8-1.7-1.8-1.8-1.8-1.7-1.8-1.7-1.7-1.6-1.8-1.6-1.8-1.6-1.8-1.5-1.8-1.5-1.8-1.4-1.8-1.4-1.7-1.4-1.8-1.3-1.8-1.3-1.8-1.3-1.8-1.2-1.8-1.2-1.8-1.2-1.8-1.1-1.7-1-1.8-1.1-1.8-.9-1.8-1-1.8-.9-1.8-.9"/>
<path stroke="url(#t22)" d="M1602.2 610.6l-1.8-.9-1.8-.8-1.8-.7-1.8-.8-1.8-.6-1.8-.7-1.7-.6-1.8-.6-1.8-.5-1.8-.5-1.8-.5-1.8-.4-1.8-.4-1.7-.3-1.8-.3-1.8-.3-1.8-.3-1.8-.2-1.8-.1-1.8-.2-1.8-.1-1.7 0-1.8-.1-1.8 0-1.8 .1-1.8 0-1.8 .2-1.8 .1-1.7 .2-1.8 .2-1.8 .2-1.8 .3-1 .1M1496.5 620.1l-1.5 .8-1.8 1-1.8 1.1-1.8 1-1.8 1.1-1.7 1.1-1.8 1.1-1.8 1.1-1.8 1.1-1.8 1.2-1.8 1.1-1.8 1.2-1.7 1.2-1.8 1.2-1.8 1.2-1.8 1.2-1.8 1.2-1.8 1.3-1.8 1.2-1.8 1.3-1.7 1.2-1.8 1.3-1.8 1.3-1.8 1.2-1.8 1.3-1.8 1.3-1.8 1.3-1.7 1.3-1.8 1.3-1.8 1.3-1.8 1.3-1.8 1.3-1.8 1.3-1.8 1.3-1.7 1.2-1.8 1.3-1.8 1.3-1.8 1.3-1.8 1.3-1.8 1.2-1.8 1.3-1.8 1.3-1.7 1.2-1.8 1.3-1.8 1.2-1.8 1.2-1.8 1.2-1.8 1.2-1.8 1.2-1.7 1.2-1.8 1.2-1.8 1.2-1.8 1.1-1.8 1.1-1.8 1.2-1.8 1.1-1.7 1-1.8 1.1-1.8 1.1-1.8 1-1.8 1-1.8 1-1.8 1-1.7 .9-1.8 1-1.8 .9-1.8 .9-1.8 .9-1.8 .8-1.8 .9-1.8 .8-1.7 .7-1.8 .8-1.8 .7-1.8 .7-1.8 .7-.5 .2M1189.3 613.7l-1.6-2.1-1.7-2.6-1.8-2.6-1.8-2.6-1.8-2.6-1.8-2.6-1.8-2.7-1.8-2.7-1.7-2.7-1.8-2.7-1.8-2.7-1.8-2.8-1.8-2.8-1.8-2.8-1.8-2.8-1.7-2.8-1.8-2.8-1.8-2.9-1.8-2.8-1.8-2.9-1.8-2.9-1.8-2.9-1.7-2.9-1.8-2.9-1.8-3-1.8-2.9-1.8-3-1.8-2.9-1.8-3-1.8-3-1.7-2.9-1.8-3-1.8-3-1.8-3-1.8-3-1.8-3-1.8-3-1.7-3-1.8-3-1.8-3-1.8-3-1.8-3-1.8-3-1.8-3-1.7-3-1.8-2.9-1.8-3-1.8-3-1.8-3-1.8-2.9-1.8-3-1.7-2.9-1.8-3-1.8-2.9-1.8-2.9-1.8-2.9-1.8-2.9-1.8-2.9-1.8-2.9-1.7-2.9-1.8-2.8-1.8-2.9-1.8-2.8-1.8-2.8-1.8-2.8-1.8-2.8-1.7-2.7-1.8-2.8-1.8-2.7-1.8-2.7-1.8-2.7-1.8-2.6-1.8-2.7-1.7-2.6-1.8-2.6-1.8-2.6-1.8-2.5-1.8-2.6-1.8-2.5-1.8-2.5-1.8-2.4-1.7-2.4-1.8-2.5-1.8-2.3-1.8-2.4-1.8-2.3-1.8-2.3-1.8-2.3-1.7-2.3-1.8-2.2-1.8-2.2-1.8-2.1-1.8-2.2-1.8-2.1-1.8-2-1.7-2.1-1.8-2-1.8-1.9-1.8-2-1.8-1.9-1.8-1.9-1.8-1.8-1.7-1.8-1.8-1.8-1.8-1.7-1.8-1.8-1.8-1.6-1.8-1.7-1.8-1.6-1.8-1.5-1.7-1.6-1.8-1.5-1.8-1.4-1.8-1.5-1.8-1.4-1.8-1.3-1.8-1.3-1.7-1.3-1.8-1.2-1.8-1.3-1.8-1.1-1.8-1.2-1.8-1.1-1.8-1-1.7-1-1.8-1-1.8-1-1.8-.9-1.8-.8"/>
<path stroke="url(#t23)" d="M1630.1 607.3l-1.7-.8-1.8-.8-1.8-.8-1.8-.7-1.8-.7-1.8-.6-1.8-.7-1.7-.5-1.8-.6-1.8-.5-1.8-.5-1.8-.4-1.8-.4-1.8-.4-1.8-.3-1.7-.3-1.8-.3-1.8-.2-1.8-.2-1.8-.2-1.8-.1-1.8-.1-1.7-.1-1.8 0-1.8 0-1.8 0-1.8 .1-1.8 .1-1.8 .1-1.7 .2-1.8 .2-1.8 .2-1.8 .3-1.8 .3-1.1 .2M1517 618.6l-1.2 .6-1.8 1-1.8 1.1-1.7 1-1.8 1.1-1.8 1-1.8 1.1-1.8 1.1-1.8 1.1-1.8 1.1-1.7 1.2-1.8 1.1-1.8 1.2-1.8 1.1-1.8 1.2-1.8 1.1-1.8 1.2-1.7 1.2-1.8 1.2-1.8 1.2-1.8 1.2-1.8 1.2-1.8 1.2-1.8 1.2-1.7 1.2-1.8 1.2-1.8 1.3-1.8 1.2-1.8 1.2-1.8 1.2-1.8 1.2-1.8 1.2-1.7 1.2-1.8 1.2-1.8 1.2-1.8 1.2-1.8 1.2-1.8 1.2-1.8 1.1-1.7 1.2-1.8 1.1-1.8 1.2-1.8 1.1-1.8 1.2-1.8 1.1-1.8 1.1-1.7 1.1-1.8 1.1-1.8 1-1.8 1.1-1.8 1-1.8 1.1-1.8 1-1.8 1-1.7 .9-1.8 1-1.8 1-1.8 .9-1.8 .9-1.8 .9-1.8 .8-1.7 .9-1.8 .8-1.8 .8-1.8 .8-1.8 .8-1.8 .7-1.8 .7-1.7 .7-1.8 .7-1.2 .4M1227.6 616.7l-1.2-1.5-1.7-2.3-1.8-2.4-1.8-2.4-1.8-2.4-1.8-2.5-1.8-2.4-1.8-2.5-1.7-2.5-1.8-2.6-1.8-2.5-1.8-2.6-1.8-2.6-1.8-2.6-1.8-2.6-1.7-2.7-1.8-2.7-1.8-2.6-1.8-2.8-1.8-2.7-1.8-2.7-1.8-2.7-1.7-2.8-1.8-2.8-1.8-2.8-1.8-2.8-1.8-2.8-1.8-2.8-1.8-2.8-1.8-2.9-1.7-2.8-1.8-2.9-1.8-2.9-1.8-2.8-1.8-2.9-1.8-2.9-1.8-2.9-1.7-2.9-1.8-2.9-1.8-2.9-1.8-2.9-1.8-2.9-1.8-3-1.8-2.9-1.7-2.9-1.8-2.9-1.8-2.9-1.8-2.9-1.8-3-1.8-2.9-1.8-2.9-1.8-2.9-1.7-2.9-1.8-2.9-1.8-2.9-1.8-2.9-1.8-2.8-1.8-2.9-1.8-2.9-1.7-2.8-1.8-2.9-1.8-2.8-1.8-2.8-1.8-2.8-1.8-2.8-1.8-2.8-1.7-2.8-1.8-2.7-1.8-2.8-1.8-2.7-1.8-2.7-1.8-2.7-1.8-2.7-1.7-2.7-1.8-2.6-1.8-2.7-1.8-2.6-1.8-2.6-1.8-2.6-1.8-2.5-1.8-2.6-1.7-2.5-1.8-2.5-1.8-2.4-1.8-2.5-1.8-2.4-1.8-2.4-1.8-2.4-1.7-2.3-1.8-2.3-1.8-2.3-1.8-2.3-1.8-2.3-1.8-2.2-1.8-2.2-1.7-2.1-1.8-2.2-1.8-2.1-1.8-2.1-1.8-2-1.8-2.1-1.8-1.9-1.8-2-1.7-1.9-1.8-1.9-1.8-1.9-1.8-1.8-1.8-1.9-1.8-1.7-1.8-1.8-1.7-1.7-1.8-1.7-1.8-1.6-1.8-1.6-1.8-1.6-1.8-1.5-1.8-1.5-1.7-1.5-1.8-1.4-1.8-1.5-1.8-1.3-1.8-1.4-1.8-1.3-1.8-1.2-1.7-1.2-1.8-1.2-1.8-1.2-1.8-1.1-1.8-1.1-1.8-1.1-1.8-1-1.8-1-1.7-.9-1.8-.9-1.8-.9"/>
<path stroke="url(#t24)" d="M1658.1 603.9l-1.8-.9-1.8-.8-1.7-.7-1.8-.8-1.8-.7-1.8-.6-1.8-.7-1.8-.6-1.8-.5-1.7-.5-1.8-.5-1.8-.5-1.8-.4-1.8-.4-1.8-.4-1.8-.3-1.7-.3-1.8-.2-1.8-.2-1.8-.2-1.8-.2-1.8-.1-1.8-.1-1.8-.1-1.7 0-1.8 0-1.8 .1-1.8 0-1.8 .1-1.8 .1-1.8 .2-1.7 .2-1.8 .2-1.8 .2-1.8 .3-1.8 .3-1.3 .3M1537.1 616.9l-.4 .2-1.8 1-1.8 1-1.8 1.1-1.8 1-1.8 1-1.8 1.1-1.7 1-1.8 1.1-1.8 1.1-1.8 1.1-1.8 1.1-1.8 1.1-1.8 1.1-1.8 1.1-1.7 1.1-1.8 1.1-1.8 1.2-1.8 1.1-1.8 1.1-1.8 1.2-1.8 1.1-1.7 1.1-1.8 1.2-1.8 1.1-1.8 1.1-1.8 1.2-1.8 1.1-1.8 1.1-1.7 1.2-1.8 1.1-1.8 1.1-1.8 1.1-1.8 1.1-1.8 1.1-1.8 1.1-1.7 1.1-1.8 1-1.8 1.1-1.8 1-1.8 1.1-1.8 1-1.8 1-1.8 1.1-1.7 1-1.8 .9-1.8 1-1.8 1-1.8 .9-1.8 .9-1.8 .9-1.7 .9-1.8 .9-1.8 .9-1.8 .8-1.8 .8-1.8 .9-1.8 .7-1.7 .8-1.8 .7-1.8 .8-1.8 .7-1.8 .7-1.8 .6-1.6 .6M1266 618.5l-.9-1-1.7-2.2-1.8-2.1-1.8-2.2-1.8-2.3-1.8-2.2-1.8-2.3-1.8-2.3-1.7-2.3-1.8-2.3-1.8-2.4-1.8-2.4-1.8-2.4-1.8-2.4-1.8-2.5-1.7-2.4-1.8-2.5-1.8-2.5-1.8-2.6-1.8-2.5-1.8-2.6-1.8-2.6-1.8-2.6-1.7-2.6-1.8-2.6-1.8-2.7-1.8-2.6-1.8-2.7-1.8-2.7-1.8-2.7-1.7-2.7-1.8-2.7-1.8-2.8-1.8-2.7-1.8-2.8-1.8-2.7-1.8-2.8-1.7-2.8-1.8-2.8-1.8-2.8-1.8-2.8-1.8-2.8-1.8-2.8-1.8-2.9-1.7-2.8-1.8-2.8-1.8-2.9-1.8-2.8-1.8-2.8-1.8-2.9-1.8-2.8-1.8-2.9-1.7-2.8-1.8-2.8-1.8-2.9-1.8-2.8-1.8-2.8-1.8-2.9-1.8-2.8-1.7-2.8-1.8-2.8-1.8-2.8-1.8-2.8-1.8-2.8-1.8-2.8-1.8-2.8-1.7-2.7-1.8-2.8-1.8-2.8-1.8-2.7-1.8-2.7-1.8-2.7-1.8-2.7-1.8-2.7-1.7-2.7-1.8-2.7-1.8-2.6-1.8-2.6-1.8-2.7-1.8-2.6-1.8-2.5-1.7-2.6-1.8-2.6-1.8-2.5-1.8-2.5-1.8-2.5-1.8-2.5-1.8-2.4-1.7-2.4-1.8-2.4-1.8-2.4-1.8-2.4-1.8-2.3-1.8-2.4-1.8-2.2-1.7-2.3-1.8-2.3-1.8-2.2-1.8-2.2-1.8-2.2-1.8-2.1-1.8-2.1-1.8-2.1-1.7-2.1-1.8-2-1.8-2-1.8-2-1.8-1.9-1.8-2-1.8-1.8-1.7-1.9-1.8-1.8-1.8-1.8-1.8-1.8-1.8-1.8-1.8-1.7-1.8-1.6-1.7-1.7-1.8-1.6-1.8-1.6-1.8-1.5-1.8-1.5-1.8-1.5-1.8-1.5-1.8-1.4-1.7-1.4-1.8-1.3-1.8-1.3-1.8-1.3-1.8-1.3-1.8-1.2-1.8-1.2-1.7-1.1-1.8-1.1-1.8-1.1-1.8-1-1.8-1.1-1.8-.9-1.8-1-1.7-.9-1.8-.8"/>
<path stroke="url(#t25)" d="M1686.1 600.2l-1.8-.9-1.8-.8-1.8-.8-1.7-.7-1.8-.7-1.8-.7-1.8-.6-1.8-.6-1.8-.6-1.8-.5-1.7-.5-1.8-.5-1.8-.4-1.8-.4-1.8-.4-1.8-.3-1.8-.3-1.8-.3-1.7-.3-1.8-.2-1.8-.2-1.8-.1-1.8-.1-1.8-.1-1.8-.1-1.7 0-1.8 0-1.8 0-1.8 .1-1.8 .1-1.8 .1-1.8 .1-1.7 .2-1.8 .2-1.8 .3-1.8 .2-1.8 .3-1.8 .3-1.8 .3 0 .1M1556.6 615.1l-.9 .4-1.8 1-1.8 1-1.8 1-1.7 1-1.8 1-1.8 1.1-1.8 1-1.8 1-1.8 1.1-1.8 1-1.7 1.1-1.8 1-1.8 1.1-1.8 1-1.8 1.1-1.8 1.1-1.8 1-1.7 1.1-1.8 1-1.8 1.1-1.8 1.1-1.8 1-1.8 1.1-1.8 1-1.8 1.1-1.7 1-1.8 1-1.8 1.1-1.8 1-1.8 1-1.8 1-1.8 1-1.7 1-1.8 1-1.8 1-1.8 .9-1.8 1-1.8 .9-1.8 1-1.7 .9-1.8 .9-1.8 .9-1.8 .8-1.8 .9-1.8 .9-1.8 .8-1.7 .8-1.8 .8-1.8 .8-1.8 .7-1.8 .8-1.8 .7-1.8 .7-1.8 .7-1.7 .7-1.8 .6-1.8 .6-.1 .1M1304.5 619.1l-.7-.7-1.7-2-1.8-1.9-1.8-2-1.8-2-1.8-2.1-1.8-2.1-1.8-2.1-1.7-2.1-1.8-2.1-1.8-2.2-1.8-2.2-1.8-2.2-1.8-2.3-1.8-2.2-1.8-2.3-1.7-2.3-1.8-2.3-1.8-2.4-1.8-2.4-1.8-2.4-1.8-2.4-1.8-2.4-1.7-2.4-1.8-2.5-1.8-2.5-1.8-2.5-1.8-2.5-1.8-2.6-1.8-2.5-1.7-2.6-1.8-2.6-1.8-2.5-1.8-2.7-1.8-2.6-1.8-2.6-1.8-2.7-1.7-2.6-1.8-2.7-1.8-2.7-1.8-2.6-1.8-2.7-1.8-2.8-1.8-2.7-1.8-2.7-1.7-2.7-1.8-2.8-1.8-2.7-1.8-2.7-1.8-2.8-1.8-2.7-1.8-2.8-1.7-2.8-1.8-2.7-1.8-2.8-1.8-2.8-1.8-2.7-1.8-2.8-1.8-2.8-1.7-2.7-1.8-2.8-1.8-2.7-1.8-2.8-1.8-2.8-1.8-2.7-1.8-2.8-1.8-2.7-1.7-2.7-1.8-2.8-1.8-2.7-1.8-2.7-1.8-2.7-1.8-2.7-1.8-2.7-1.7-2.7-1.8-2.6-1.8-2.7-1.8-2.6-1.8-2.7-1.8-2.6-1.8-2.6-1.7-2.6-1.8-2.6-1.8-2.5-1.8-2.6-1.8-2.5-1.8-2.5-1.8-2.6-1.7-2.4-1.8-2.5-1.8-2.5-1.8-2.4-1.8-2.4-1.8-2.4-1.8-2.4-1.8-2.3-1.7-2.3-1.8-2.3-1.8-2.3-1.8-2.3-1.8-2.2-1.8-2.3-1.8-2.2-1.7-2.1-1.8-2.2-1.8-2.1-1.8-2.1-1.8-2.1-1.8-2-1.8-2-1.7-2-1.8-2-1.8-1.9-1.8-1.9-1.8-1.9-1.8-1.9-1.8-1.8-1.7-1.8-1.8-1.7-1.8-1.8-1.8-1.7-1.8-1.7-1.8-1.6-1.8-1.6-1.8-1.6-1.7-1.6-1.8-1.5-1.8-1.5-1.8-1.4-1.8-1.5-1.8-1.4-1.8-1.3-1.7-1.4-1.8-1.3-1.8-1.2-1.8-1.3-1.8-1.2-1.8-1.1-1.8-1.2-1.7-1.1-1.8-1-1.8-1.1-1.8-1-1.8-.9-1.8-1-1.8-.9-1.8-.8"/>
<path stroke="url(#t26)" d="M1714.1 596.2l-1.8-.8-1.8-.8-1.8-.8-1.8-.7-1.8-.7-1.7-.7-1.8-.7-1.8-.6-1.8-.5-1.8-.6-1.8-.5-1.8-.5-1.7-.4-1.8-.5-1.8-.4-1.8-.3-1.8-.3-1.8-.3-1.8-.3-1.7-.2-1.8-.3-1.8-.1-1.8-.2-1.8-.1-1.8-.1-1.8 0-1.7-.1-1.8 0-1.8 .1-1.8 0-1.8 .1-1.8 .1-1.8 .2-1.8 .1-1.7 .2-1.8 .2-1.8 .3-1.8 .2-1.8 .3-1.8 .4-1.8 .3-.7 .2M1575 613.4l-.2 .1-1.8 .9-1.8 1-1.8 .9-1.8 1-1.8 1-1.8 1-1.8 1-1.7 1-1.8 .9-1.8 1-1.8 1-1.8 1-1.8 1-1.8 1-1.7 1-1.8 1-1.8 1-1.8 .9-1.8 1-1.8 1-1.8 1-1.7 .9-1.8 1-1.8 1-1.8 .9-1.8 1-1.8 .9-1.8 .9-1.7 .9-1.8 .9-1.8 .9-1.8 .9-1.8 .9-1.8 .9-1.8 .8-1.8 .9-1.7 .8-1.8 .8-1.8 .8-1.8 .8-1.8 .7-1.8 .8-1.8 .7-1.7 .8-1.8 .7-1.8 .6-1.8 .7-1.8 .7-1.8 .6-1.8 .6-.1 0M1343.3 618.7l-.8-.7-1.7-1.8-1.8-1.7-1.8-1.8-1.8-1.8-1.8-1.9-1.8-1.9-1.8-1.9-1.8-1.9-1.7-1.9-1.8-2-1.8-2-1.8-2-1.8-2.1-1.8-2.1-1.8-2.1-1.7-2.1-1.8-2.1-1.8-2.2-1.8-2.2-1.8-2.2-1.8-2.2-1.8-2.3-1.7-2.3-1.8-2.3-1.8-2.3-1.8-2.3-1.8-2.4-1.8-2.3-1.8-2.4-1.7-2.4-1.8-2.5-1.8-2.4-1.8-2.5-1.8-2.4-1.8-2.5-1.8-2.5-1.8-2.5-1.7-2.6-1.8-2.5-1.8-2.6-1.8-2.6-1.8-2.5-1.8-2.6-1.8-2.6-1.7-2.6-1.8-2.7-1.8-2.6-1.8-2.6-1.8-2.7-1.8-2.6-1.8-2.7-1.7-2.7-1.8-2.6-1.8-2.7-1.8-2.7-1.8-2.7-1.8-2.7-1.8-2.7-1.7-2.6-1.8-2.7-1.8-2.7-1.8-2.7-1.8-2.7-1.8-2.7-1.8-2.7-1.8-2.7-1.7-2.7-1.8-2.7-1.8-2.7-1.8-2.7-1.8-2.6-1.8-2.7-1.8-2.7-1.7-2.6-1.8-2.7-1.8-2.6-1.8-2.7-1.8-2.6-1.8-2.6-1.8-2.6-1.7-2.6-1.8-2.6-1.8-2.6-1.8-2.6-1.8-2.5-1.8-2.6-1.8-2.5-1.7-2.5-1.8-2.5-1.8-2.5-1.8-2.5-1.8-2.5-1.8-2.4-1.8-2.4-1.8-2.4-1.7-2.4-1.8-2.4-1.8-2.4-1.8-2.3-1.8-2.3-1.8-2.3-1.8-2.3-1.7-2.2-1.8-2.3-1.8-2.2-1.8-2.2-1.8-2.1-1.8-2.2-1.8-2.1-1.7-2.1-1.8-2.1-1.8-2-1.8-2.1-1.8-2-1.8-1.9-1.8-2-1.8-1.9-1.7-1.9-1.8-1.9-1.8-1.8-1.8-1.8-1.8-1.8-1.8-1.8-1.8-1.7-1.7-1.7-1.8-1.7-1.8-1.7-1.8-1.6-1.8-1.6-1.8-1.5-1.8-1.5-1.7-1.5-1.8-1.5-1.8-1.5-1.8-1.4-1.8-1.3-1.8-1.4-1.8-1.3-1.7-1.3-1.8-1.2-1.8-1.3-1.8-1.1-1.8-1.2-1.8-1.1-1.8-1.1-1.8-1.1-1.7-1-1.8-1-1.8-1-1.8-.9-1.8-.9-1.8-.9"/>
<path stroke="url(#t27)" d="M1742.1 592.1l-1.8-.8-1.8-.8-1.8-.8-1.8-.8-1.8-.7-1.8-.7-1.7-.6-1.8-.6-1.8-.6-1.8-.6-1.8-.5-1.8-.5-1.8-.5-1.7-.4-1.8-.4-1.8-.4-1.8-.3-1.8-.4-1.8-.2-1.8-.3-1.8-.2-1.7-.2-1.8-.2-1.8-.1-1.8-.2-1.8 0-1.8-.1-1.8 0-1.7 0-1.8 0-1.8 0-1.8 .1-1.8 .1-1.8 .1-1.8 .2-1.7 .2-1.8 .2-1.8 .2-1.8 .3-1.8 .2-1.8 .4-1.8 .3-1.7 .3-1.7 .4M1592.7 611.4l-.7 .4-1.8 .9-1.8 .9-1.7 .9-1.8 1-1.8 .9-1.8 .9-1.8 .9-1.8 1-1.8 .9-1.7 .9-1.8 .9-1.8 .9-1.8 1-1.8 .9-1.8 .9-1.8 .9-1.8 .9-1.7 .9-1.8 .8-1.8 .9-1.8 .9-1.8 .9-1.8 .8-1.8 .9-1.7 .8-1.8 .8-1.8 .8-1.8 .8-1.8 .8-1.8 .8-1.8 .8-1.7 .7-1.8 .8-1.8 .7-1.8 .7-1.8 .7-1.8 .7-1.8 .6-1.7 .7-1.8 .6-1.8 .6-1.8 .6M1382.3 617.2l-1.1-.9-1.7-1.5-1.8-1.6-1.8-1.6-1.8-1.6-1.8-1.6-1.8-1.7-1.8-1.7-1.8-1.7-1.7-1.8-1.8-1.8-1.8-1.8-1.8-1.8-1.8-1.9-1.8-1.9-1.8-1.9-1.7-1.9-1.8-2-1.8-1.9-1.8-2-1.8-2.1-1.8-2-1.8-2.1-1.7-2.1-1.8-2.1-1.8-2.2-1.8-2.1-1.8-2.2-1.8-2.2-1.8-2.3-1.8-2.2-1.7-2.3-1.8-2.2-1.8-2.3-1.8-2.4-1.8-2.3-1.8-2.4-1.8-2.3-1.7-2.4-1.8-2.4-1.8-2.4-1.8-2.5-1.8-2.4-1.8-2.5-1.8-2.4-1.7-2.5-1.8-2.5-1.8-2.5-1.8-2.5-1.8-2.6-1.8-2.5-1.8-2.6-1.7-2.5-1.8-2.6-1.8-2.6-1.8-2.5-1.8-2.6-1.8-2.6-1.8-2.6-1.8-2.6-1.7-2.6-1.8-2.7-1.8-2.6-1.8-2.6-1.8-2.6-1.8-2.7-1.8-2.6-1.7-2.6-1.8-2.6-1.8-2.7-1.8-2.6-1.8-2.6-1.8-2.7-1.8-2.6-1.7-2.6-1.8-2.6-1.8-2.7-1.8-2.6-1.8-2.6-1.8-2.6-1.8-2.6-1.7-2.6-1.8-2.5-1.8-2.6-1.8-2.6-1.8-2.5-1.8-2.6-1.8-2.5-1.8-2.6-1.7-2.5-1.8-2.5-1.8-2.5-1.8-2.5-1.8-2.4-1.8-2.5-1.8-2.4-1.7-2.5-1.8-2.4-1.8-2.4-1.8-2.4-1.8-2.3-1.8-2.4-1.8-2.3-1.7-2.3-1.8-2.3-1.8-2.3-1.8-2.3-1.8-2.2-1.8-2.3-1.8-2.2-1.7-2.2-1.8-2.1-1.8-2.2-1.8-2.1-1.8-2.1-1.8-2.1-1.8-2-1.8-2-1.7-2.1-1.8-1.9-1.8-2-1.8-1.9-1.8-1.9-1.8-1.9-1.8-1.9-1.7-1.8-1.8-1.8-1.8-1.8-1.8-1.8-1.8-1.7-1.8-1.7-1.8-1.7-1.7-1.6-1.8-1.6-1.8-1.6-1.8-1.6-1.8-1.5-1.8-1.5-1.8-1.5-1.8-1.4-1.7-1.5-1.8-1.4-1.8-1.3-1.8-1.3-1.8-1.3-1.8-1.3-1.8-1.2-1.7-1.2-1.8-1.2-1.8-1.2-1.8-1.1-1.8-1.1-1.8-1-1.8-1-1.7-1-1.8-1-1.8-.9-1.8-.9-1.8-.9"/>
<path stroke="url(#t28)" d="M1770 587.8l-1.7-.9-1.8-.8-1.8-.7-1.8-.8-1.8-.7-1.8-.7-1.8-.6-1.7-.7-1.8-.6-1.8-.5-1.8-.6-1.8-.5-1.8-.5-1.8-.4-1.8-.5-1.7-.3-1.8-.4-1.8-.3-1.8-.4-1.8-.2-1.8-.3-1.8-.2-1.7-.2-1.8-.2-1.8-.1-1.8-.1-1.8-.1-1.8-.1-1.8 0-1.7 0-1.8 0-1.8 0-1.8 .1-1.8 .1-1.8 .1-1.8 .2-1.8 .1-1.7 .2-1.8 .3-1.8 .2-1.8 .3-1.8 .2-1.8 .3-1.8 .4-1.7 .3-1.8 .4-1.2 .2M1608.7 609.7l-1.2 .6-1.8 .8-1.8 .9-1.8 .8-1.8 .9-1.7 .9-1.8 .8-1.8 .9-1.8 .8-1.8 .8-1.8 .9-1.8 .8-1.7 .8-1.8 .8-1.8 .9-1.8 .8-1.8 .8-1.8 .7-1.8 .8-1.7 .8-1.8 .7-1.8 .8-1.8 .7-1.8 .7-1.8 .7-1.8 .7-1.8 .7-1.7 .7-1.8 .6-1.8 .7-1.8 .6-1.8 .6-1.8 .6-1.3 .4M1421.7 614.8l-1.8-1.2-1.8-1.4-1.7-1.4-1.8-1.3-1.8-1.5-1.8-1.4-1.8-1.5-1.8-1.5-1.8-1.6-1.7-1.5-1.8-1.6-1.8-1.6-1.8-1.7-1.8-1.6-1.8-1.7-1.8-1.8-1.7-1.7-1.8-1.8-1.8-1.8-1.8-1.8-1.8-1.9-1.8-1.8-1.8-1.9-1.7-2-1.8-1.9-1.8-2-1.8-2-1.8-2-1.8-2-1.8-2.1-1.8-2-1.7-2.1-1.8-2.2-1.8-2.1-1.8-2.1-1.8-2.2-1.8-2.2-1.8-2.2-1.7-2.3-1.8-2.2-1.8-2.3-1.8-2.3-1.8-2.3-1.8-2.3-1.8-2.3-1.7-2.4-1.8-2.3-1.8-2.4-1.8-2.4-1.8-2.4-1.8-2.4-1.8-2.4-1.8-2.5-1.7-2.4-1.8-2.5-1.8-2.4-1.8-2.5-1.8-2.5-1.8-2.5-1.8-2.5-1.7-2.5-1.8-2.6-1.8-2.5-1.8-2.5-1.8-2.6-1.8-2.5-1.8-2.5-1.7-2.6-1.8-2.6-1.8-2.5-1.8-2.6-1.8-2.6-1.8-2.5-1.8-2.6-1.7-2.6-1.8-2.5-1.8-2.6-1.8-2.6-1.8-2.5-1.8-2.6-1.8-2.5-1.8-2.6-1.7-2.6-1.8-2.5-1.8-2.6-1.8-2.5-1.8-2.5-1.8-2.6-1.8-2.5-1.7-2.5-1.8-2.5-1.8-2.5-1.8-2.5-1.8-2.5-1.8-2.4-1.8-2.5-1.7-2.4-1.8-2.5-1.8-2.4-1.8-2.4-1.8-2.4-1.8-2.4-1.8-2.4-1.7-2.4-1.8-2.3-1.8-2.3-1.8-2.3-1.8-2.3-1.8-2.3-1.8-2.3-1.8-2.2-1.7-2.3-1.8-2.2-1.8-2.2-1.8-2.2-1.8-2.1-1.8-2.2-1.8-2.1-1.7-2.1-1.8-2.1-1.8-2-1.8-2-1.8-2.1-1.8-1.9-1.8-2-1.7-2-1.8-1.9-1.8-1.9-1.8-1.8-1.8-1.9-1.8-1.8-1.8-1.8-1.7-1.8-1.8-1.7-1.8-1.8-1.8-1.7-1.8-1.6-1.8-1.7-1.8-1.6-1.8-1.6-1.7-1.6-1.8-1.5-1.8-1.5-1.8-1.5-1.8-1.4-1.8-1.5-1.8-1.4-1.7-1.3-1.8-1.4-1.8-1.3-1.8-1.3-1.8-1.2-1.8-1.2-1.8-1.2-1.7-1.2-1.8-1.1-1.8-1.1-1.8-1.1-1.8-1.1-1.8-1-1.8-1-1.8-.9-1.7-1-1.8-.8-1.8-.9"/>
<path stroke="url(#t29)" d="M1798 583.3l-1.8-.9-1.8-.8-1.7-.7-1.8-.8-1.8-.7-1.8-.7-1.8-.7-1.8-.6-1.8-.6-1.7-.6-1.8-.5-1.8-.6-1.8-.5-1.8-.4-1.8-.5-1.8-.4-1.7-.4-1.8-.3-1.8-.3-1.8-.3-1.8-.3-1.8-.3-1.8-.2-1.7-.2-1.8-.1-1.8-.2-1.8-.1-1.8-.1-1.8 0-1.8-.1-1.8 0-1.7 0-1.8 .1-1.8 0-1.8 .1-1.8 .1-1.8 .2-1.8 .1-1.7 .2-1.8 .2-1.8 .2-1.8 .3-1.8 .2-1.8 .3-1.8 .3-1.7 .4-1.8 .3-1.8 .4-1.8 .4-1 .2M1622.3 608.2l-1.1 .5-1.8 .7-1.8 .8-1.8 .8-1.8 .8-1.8 .7-1.7 .8-1.8 .7-1.8 .7-1.8 .8-1.8 .7-1.8 .7-1.8 .7-1.7 .7-1.8 .7-1.8 .6-1.8 .7-1.8 .6-1.8 .7-1.8 .6-1.7 .6-1.8 .6-1.8 .6-.6 .1M1461.5 611.5l-1.1-.7-1.8-1.1-1.8-1.1-1.7-1.2-1.8-1.2-1.8-1.3-1.8-1.2-1.8-1.3-1.8-1.3-1.8-1.4-1.7-1.4-1.8-1.4-1.8-1.4-1.8-1.5-1.8-1.5-1.8-1.5-1.8-1.5-1.7-1.6-1.8-1.6-1.8-1.6-1.8-1.6-1.8-1.7-1.8-1.7-1.8-1.7-1.8-1.8-1.7-1.7-1.8-1.8-1.8-1.8-1.8-1.9-1.8-1.8-1.8-1.9-1.8-1.9-1.7-1.9-1.8-2-1.8-2-1.8-2-1.8-2-1.8-2-1.8-2.1-1.7-2-1.8-2.1-1.8-2.1-1.8-2.2-1.8-2.1-1.8-2.2-1.8-2.2-1.7-2.2-1.8-2.2-1.8-2.2-1.8-2.3-1.8-2.2-1.8-2.3-1.8-2.3-1.8-2.3-1.7-2.3-1.8-2.4-1.8-2.3-1.8-2.4-1.8-2.4-1.8-2.3-1.8-2.4-1.7-2.4-1.8-2.5-1.8-2.4-1.8-2.4-1.8-2.5-1.8-2.4-1.8-2.5-1.7-2.4-1.8-2.5-1.8-2.5-1.8-2.5-1.8-2.4-1.8-2.5-1.8-2.5-1.8-2.5-1.7-2.5-1.8-2.5-1.8-2.5-1.8-2.5-1.8-2.6-1.8-2.5-1.8-2.5-1.7-2.5-1.8-2.5-1.8-2.5-1.8-2.5-1.8-2.5-1.8-2.5-1.8-2.5-1.7-2.5-1.8-2.5-1.8-2.5-1.8-2.4-1.8-2.5-1.8-2.5-1.8-2.4-1.7-2.5-1.8-2.4-1.8-2.4-1.8-2.5-1.8-2.4-1.8-2.4-1.8-2.4-1.8-2.4-1.7-2.3-1.8-2.4-1.8-2.3-1.8-2.4-1.8-2.3-1.8-2.3-1.8-2.3-1.7-2.3-1.8-2.2-1.8-2.3-1.8-2.2-1.8-2.2-1.8-2.2-1.8-2.2-1.7-2.2-1.8-2.1-1.8-2.2-1.8-2.1-1.8-2.1-1.8-2.1-1.8-2-1.7-2-1.8-2.1-1.8-2-1.8-1.9-1.8-2-1.8-1.9-1.8-1.9-1.8-1.9-1.7-1.9-1.8-1.8-1.8-1.8-1.8-1.8-1.8-1.8-1.8-1.7-1.8-1.7-1.7-1.7-1.8-1.7-1.8-1.6-1.8-1.7-1.8-1.5-1.8-1.6-1.8-1.5-1.7-1.6-1.8-1.4-1.8-1.5-1.8-1.4-1.8-1.4-1.8-1.4-1.8-1.4-1.7-1.3-1.8-1.3-1.8-1.3-1.8-1.2-1.8-1.2-1.8-1.2-1.8-1.1-1.8-1.2-1.7-1.1-1.8-1-1.8-1.1-1.8-1-1.8-1-1.8-.9-1.8-1-1.7-.8-1.8-.9"/>
<path stroke="url(#t30)" d="M1826 578.6l-1.8-.8-1.8-.8-1.8-.8-1.7-.8-1.8-.7-1.8-.7-1.8-.7-1.8-.6-1.8-.6-1.8-.6-1.7-.6-1.8-.5-1.8-.5-1.8-.5-1.8-.4-1.8-.5-1.8-.4-1.8-.3-1.7-.4-1.8-.3-1.8-.3-1.8-.3-1.8-.2-1.8-.2-1.8-.2-1.7-.2-1.8-.1-1.8-.1-1.8-.1-1.8-.1-1.8 0-1.8 0-1.7 0-1.8 0-1.8 .1-1.8 0-1.8 .1-1.8 .2-1.8 .1-1.7 .2-1.8 .2-1.8 .2-1.8 .2-1.8 .2-1.8 .3-1.8 .3-1.8 .3-1.7 .3-1.8 .4-1.8 .3-1.8 .4-1.8 .4-1.3 .3M1632 607l-.7 .2-1.8 .7-1.8 .6-1.8 .7-1.7 .6-1.8 .6-1.8 .6-1.8 .6-1.8 .6-1.8 .6-1.2 .3M1502 607.3l-1.1-.5-1.8-.9-1.8-1-1.8-1-1.7-1-1.8-1-1.8-1.1-1.8-1.1-1.8-1.1-1.8-1.1-1.8-1.2-1.7-1.2-1.8-1.2-1.8-1.3-1.8-1.2-1.8-1.3-1.8-1.4-1.8-1.3-1.7-1.4-1.8-1.4-1.8-1.5-1.8-1.4-1.8-1.5-1.8-1.6-1.8-1.5-1.8-1.6-1.7-1.6-1.8-1.6-1.8-1.6-1.8-1.7-1.8-1.7-1.8-1.7-1.8-1.7-1.7-1.8-1.8-1.8-1.8-1.8-1.8-1.8-1.8-1.8-1.8-1.9-1.8-1.9-1.7-1.9-1.8-1.9-1.8-2-1.8-2-1.8-2-1.8-2-1.8-2-1.8-2.1-1.7-2-1.8-2.1-1.8-2.1-1.8-2.1-1.8-2.2-1.8-2.1-1.8-2.2-1.7-2.2-1.8-2.2-1.8-2.2-1.8-2.2-1.8-2.3-1.8-2.3-1.8-2.2-1.7-2.3-1.8-2.3-1.8-2.3-1.8-2.3-1.8-2.4-1.8-2.3-1.8-2.4-1.7-2.3-1.8-2.4-1.8-2.4-1.8-2.4-1.8-2.3-1.8-2.5-1.8-2.4-1.8-2.4-1.7-2.4-1.8-2.4-1.8-2.5-1.8-2.4-1.8-2.4-1.8-2.5-1.8-2.4-1.7-2.5-1.8-2.4-1.8-2.5-1.8-2.4-1.8-2.5-1.8-2.4-1.8-2.5-1.7-2.4-1.8-2.5-1.8-2.4-1.8-2.5-1.8-2.4-1.8-2.4-1.8-2.5-1.8-2.4-1.7-2.4-1.8-2.5-1.8-2.4-1.8-2.4-1.8-2.4-1.8-2.4-1.8-2.4-1.7-2.3-1.8-2.4-1.8-2.4-1.8-2.3-1.8-2.4-1.8-2.3-1.8-2.3-1.7-2.3-1.8-2.3-1.8-2.3-1.8-2.3-1.8-2.2-1.8-2.3-1.8-2.2-1.7-2.2-1.8-2.2-1.8-2.2-1.8-2.2-1.8-2.2-1.8-2.1-1.8-2.1-1.8-2.1-1.7-2.1-1.8-2.1-1.8-2-1.8-2.1-1.8-2-1.8-2-1.8-1.9-1.7-2-1.8-1.9-1.8-1.9-1.8-1.9-1.8-1.9-1.8-1.9-1.8-1.8-1.7-1.8-1.8-1.8-1.8-1.7-1.8-1.8-1.8-1.7-1.8-1.7-1.8-1.6-1.7-1.7-1.8-1.6-1.8-1.6-1.8-1.5-1.8-1.6-1.8-1.5-1.8-1.5-1.8-1.5-1.7-1.4-1.8-1.4-1.8-1.4-1.8-1.4-1.8-1.3-1.8-1.3-1.8-1.3-1.7-1.2-1.8-1.3-1.8-1.2-1.8-1.1-1.8-1.2-1.8-1.1-1.8-1.1-1.7-1-1.8-1.1-1.8-1-1.8-1-1.8-.9-1.8-.9-1.8-.9-1.7-.9"/>
</g>
<g fill="none" stroke-width="2.80">
<path stroke="url(#p0)" d="M986.6 572.3l28 9 28 8 27.9 7 28 6.2 28 5.2 28 4.5 28 3.8 27.9 3.1 28 2.4 28 1.9 28 1.2 28 .8 27.9 .3 28-.2 28-.6 28-1 28-1.4 27.9-1.8 28-2.1 28-2.4 28-2.7 28-2.9 27.9-3.3 28-3.4 28-3.7 28-4 28-4.1 27.9-4.3 28-4.5 28-4.7"/>
<path stroke="url(#p1)" d="M984.8 571.5l28 9 28 8 28 7 27.9 6.2 28 5.2 28 4.5 28 3.8 28 3.1 27.9 2.4 28 1.8 28 1.3 28 .8 28 .3 27.9-.2 28-.7 28-1 28-1.4 28-1.7 27.9-2.1 28-2.4 28-2.7 28-3 28-3.2 27.9-3.5 28-3.7 28-3.9 28-4.1 28-4.4 27.9-4.5 28-4.6"/>
<path stroke="url(#p2)" d="M983 570.8l28 9 28 8 28 7 27.9 6.1 28 5.3 28 4.5 28 3.7 28 3.1 27.9 2.4 28 1.9 28 1.3 28 .7 28 .3 27.9-.2 28-.6 28-1.1 28-1.4 28-1.7 27.9-2.1 28-2.4 28-2.7 28-3 28-3.2 27.9-3.5 28-3.7 28-3.9 28-4.1 28-4.4 27.9-4.5 28-4.6"/>
<path stroke="url(#p3)" d="M981.2 570.2l28 9 28 8 28 7 28 6.1 27.9 5.2 28 4.5 28 3.8 28 3 28 2.5 27.9 1.8 28 1.3 28 .7 28 .3 28-.2 27.9-.7 28-1 28-1.4 28-1.8 28-2 27.9-2.5 28-2.7 28-2.9 28-3.3 28-3.4 27.9-3.8 28-3.9 28-4.1 28-4.3 28-4.5 27.9-4.7"/>
<path stroke="url(#p4)" d="M979.5 569.7l6.1 2.1M996.4 575.3l11 3.4 28 8 28 6.9 28 6.1 28 5.3 27.9 4.4 28 3.8 28 3 28 2.4 28 1.9 27.9 1.2 28 .8 28 .2 28-.2 28-.6 27.9-1.1 28-1.4 28-1.8 28-2.1 28-2.4 27.9-2.7 28-3 28-3.2 28-3.5 28-3.7 27.9-3.9 28-4.2 28-4.3 28-4.5 28-4.7"/>
<path stroke="url(#p5)" d="M977.7 569.4l15.1 4.9M1026.1 584.2l7.5 2 28 7 28 6 28 5.3 27.9 4.4 28 3.7 28 3.1 28 2.4 28 1.8 27.9 1.2 28 .8 28 .2 28-.2 28-.7 27.9-1 28-1.4 28-1.8 28-2.1 28-2.4 27.9-2.7 28-3 28-3.3 28-3.5 28-3.7 27.9-3.9 28-4.2 28-4.3 28-4.5 28-4.7"/>
<path stroke="url(#p6)" d="M975.9 569.1l28 8.9 2.2 .6M1054.5 591.6l5.3 1.2 28 6 28 5.3 28 4.4 27.9 3.7 28 3 28 2.4 28 1.8 28 1.2 27.9 .7 28 .2 28-.2 28-.6 28-1.1 27.9-1.4 28-1.8 28-2.1 28-2.5 28-2.7 27.9-3 28-3.2 28-3.5 28-3.8 28-3.9 27.9-4.2 28-4.3 28-4.5 28-4.7"/>
<path stroke="url(#p7)" d="M974.1 568.9l28 8.9 19.7 5.6M1081.7 597.7l4.3 .8 28 5.2 28 4.4 28 3.7 27.9 3 28 2.4 28 1.7 28 1.2 28 .7 27.9 .2 28-.2 28-.7 28-1 28-1.5 27.9-1.8 28-2.1 28-2.5 28-2.7 28-3 27.9-3.3 28-3.5 28-3.7 28-4 28-4.1 27.9-4.3 28-4.6 28-4.7"/>
<path stroke="url(#p8)" d="M972.3 568.8l28 8.8 28 7.9 6.5 1.6M1107.9 602.7l4.3 .8 28 4.3 28 3.7 28 3 27.9 2.3 28 1.7 28 1.2 28 .7 28 .2 27.9-.3 28-.6 28-1.1 28-1.5 28-1.8 27.9-2.2 28-2.4 28-2.7 28-3.1 28-3.2 27.9-3.6 28-3.7 28-4 28-4.1 28-4.4 27.9-4.5 28-4.7"/>
<path stroke="url(#p9)" d="M970.5 568.8l28 8.8 28 7.8 23.5 5.8M1133.1 606.9l5.3 .7 28 3.6 28 3 27.9 2.3 28 1.7 28 1.2 28 .6 28 .2 27.9-.3 28-.7 28-1.1 28-1.5 28-1.8 27.9-2.1 28-2.5 28-2.8 28-3 28-3.3 27.9-3.5 28-3.8 28-3.9 28-4.2 28-4.4 27.9-4.5 28-4.7"/>
<path stroke="url(#p10)" d="M968.7 568.9l28 8.8 28 7.7 28 6.8 12.1 2.7M1157.3 610.2l7.3 .9 28 2.9 28 2.3 27.9 1.7 28 1.1 28 .6 28 .2 28-.3 27.9-.8 28-1.1 28-1.5 28-1.8 28-2.2 27.9-2.5 28-2.8 28-3 28-3.3 28-3.5 27.9-3.8 28-4 28-4.2 28-4.3 28-4.6 27.9-4.7"/>
<path stroke="url(#p11)" d="M967 569.1l27.9 8.7 28 7.7 28 6.8 26.1 5.5M1180.7 612.9l10.1 .9 28 2.3 28 1.7 27.9 1.1 28 .6 28 .1 28-.3 28-.8 27.9-1.1 28-1.6 28-1.8 28-2.2 28-2.5 27.9-2.8 28-3.1 28-3.3 28-3.5 28-3.8 27.9-4 28-4.2 28-4.4 28-4.5 28-4.8"/>
<path stroke="url(#p12)" d="M965.2 569.5l27.9 8.6 28 7.6 28 6.7 28 5.8 14.1 2.6M1203.3 615l13.7 1 28 1.6 27.9 1.1 28 .6 28 .1 28-.4 28-.8 27.9-1.1 28-1.6 28-1.9 28-2.2 28-2.5 27.9-2.8 28-3.1 28-3.3 28-3.6 28-3.8 27.9-4 28-4.2 28-4.4 28-4.6 28-4.7"/>
<path stroke="url(#p13)" d="M963.4 569.9l28 8.5 27.9 7.6 28 6.7 28 5.7 28 4.9 1.9 .3M1225.2 616.6l18 .9 28 1.1 27.9 .5 28 .1 28-.4 28-.8 28-1.2 27.9-1.6 28-1.9 28-2.2 28-2.5 28-2.9 27.9-3.1 28-3.3 28-3.6 28-3.8 28-4 27.9-4.3 28-4.4 28-4.6 28-4.7"/>
<path stroke="url(#p14)" d="M961.6 570.4l28 8.5 28 7.5 27.9 6.6 28 5.7 28 4.9 15.1 2.3M1246.3 617.7l23.1 .8 28 .5 27.9 .1 28-.4 28-.9 28-1.2 28-1.6 27.9-1.9 28-2.3 28-2.6 28-2.8 28-3.1 27.9-3.4 28-3.6 28-3.8 28-4.1 28-4.2 27.9-4.4 28-4.6 28-4.8"/>
<path stroke="url(#p15)" d="M959.8 571l28 8.4 28 7.5 27.9 6.5 28 5.6 28 4.8 28 4.1 2.3 .3M1266.8 618.5l.8 0 28 .5 27.9 0 28-.5 28-.8 28-1.3 28-1.6 27.9-2 28-2.2 28-2.6 28-2.9 28-3.1 27.9-3.4 28-3.7 28-3.8 28-4.1 28-4.2 27.9-4.5 28-4.6 28-4.7"/>
<path stroke="url(#p16)" d="M958 571.7l28 8.4 28 7.3 28 6.5 27.9 5.5 28 4.8 28 4 15.1 1.9M1286.6 619l7.2 0 28 0 27.9-.5 28-.9 28-1.3 28-1.6 28-2 27.9-2.3 28-2.7 28-2.9 28-3.1 28-3.4 27.9-3.7 28-3.8 28-4.1 28-4.3 28-4.4 27.9-4.7 28-4.8"/>
<path stroke="url(#p17)" d="M956.2 572.5l28 8.3 28 7.3 28 6.3 28 5.5 27.9 4.7 28 4 28 3.2 1.7 .2M1305.8 619.1l14.2-.1 28-.5 27.9-.9 28-1.4 28-1.6 28-2.1 28-2.3 27.9-2.7 28-2.9 28-3.2 28-3.4 28-3.7 27.9-3.8 28-4.1 28-4.3 28-4.5 28-4.7 27.9-4.8"/>
<path stroke="url(#p18)" d="M954.4 573.4l28 8.2 28 7.2 28 6.3 28 5.4 27.9 4.7 28 3.8 28 3.2 16.1 1.6M1324.4 619l21.8-.5 27.9-.9 28-1.4 28-1.7 28-2.1 28-2.3 27.9-2.7 28-3 28-3.2 28-3.4 28-3.7 27.9-3.9 28-4.1 28-4.4 28-4.4 28-4.7 27.9-4.8"/>
<path stroke="url(#p19)" d="M952.7 574.5l27.9 8 28 7.2 28 6.2 28 5.3 28 4.6 27.9 3.8 28 3.1 28 2.5 .2 0M1342.5 618.7l1.9-.1 28-1 27.9-1.4 28-1.7 28-2.1 28-2.4 28-2.7 27.9-3 28-3.2 28-3.5 28-3.7 28-4 27.9-4.1 28-4.3 28-4.6 28-4.6 28-4.9"/>
<path stroke="url(#p20)" d="M950.9 575.6l28 7.9 27.9 7.1 28 6.1 28 5.2 28 4.5 28 3.8 27.9 3 28 2.4 14.1 1M1360.1 618.2l10.5-.5 28-1.4 27.9-1.8 28-2.1 28-2.5 28-2.7 28-3 27.9-3.3 28-3.5 28-3.7 28-4 28-4.1 27.9-4.4 28-4.5 28-4.7 28-4.9"/>
<path stroke="url(#p21)" d="M949.1 576.8l28 7.8 27.9 7 28 6 28 5.2 28 4.4 28 3.6 27.9 3 28 2.4 25.8 1.6M1377.1 617.5l19.7-1.1 27.9-1.8 28-2.2 28-2.5 28-2.7 28-3.1 27.9-3.3 28-3.5 28-3.8 28-4 28-4.2 27.9-4.3 28-4.6 28-4.7 28-4.9"/>
<path stroke="url(#p22)" d="M947.3 578.1l28 7.7 28 6.9 27.9 5.9 28 5.1 28 4.3 28 3.6 28 2.9 27.9 2.2 28 1.7 11.2 .5M1393.8 616.6l1.2 0 28-1.9 27.9-2.2 28-2.5 28-2.8 28-3.1 28-3.3 27.9-3.6 28-3.8 28-4 28-4.2 28-4.4 27.9-4.6 28-4.8 28-4.9"/>
<path stroke="url(#p23)" d="M945.5 579.5l28 7.6 28 6.7 28 5.8 27.9 5 28 4.3 28 3.5 28 2.8 28 2.2 27.9 1.6 24.3 1M1409.9 615.6l11.3-.8 28-2.2 27.9-2.6 28-2.8 28-3.1 28-3.4 28-3.6 27.9-3.8 28-4 28-4.3 28-4.4 28-4.6 27.9-4.8 28-4.9"/>
<path stroke="url(#p24)" d="M943.7 580.9l28 7.6 28 6.6 28 5.7 27.9 4.9 28 4.1 28 3.4 28 2.8 28 2.1 28 1.6 27.9 1 7.4 .1M1425.6 614.6l21.8-1.9 28-2.5 27.9-2.9 28-3.2 28-3.4 28-3.6 27.9-3.9 28-4 28-4.3 28-4.4 28-4.7 28-4.8 27.9-4.9"/>
<path stroke="url(#p25)" d="M941.9 582.5l28 7.4 28 6.5 28 5.6 28 4.8 27.9 4.1 28 3.3 28 2.7 28 2 28 1.5 27.9 .9 20.2 .3M1440.8 613.4l4.8-.5 28-2.6 27.9-2.9 28-3.2 28-3.4 28-3.7 28-3.9 27.9-4.1 28-4.3 28-4.5 28-4.6 28-4.8 27.9-5"/>
<path stroke="url(#p26)" d="M940.2 584.2l27.9 7.3 28 6.4 28 5.4 28 4.7 28 4 27.9 3.2 28 2.6 28 1.9 28 1.4 28 .9 27.9 .3 4.7 0M1455.7 612.1l16.1-1.6 28-3 27.9-3.2 28-3.5 28-3.7 28-3.9 28-4.1 27.9-4.3 28-4.5 28-4.7 28-4.9 28-5"/>
<path stroke="url(#p27)" d="M938.4 586l28 7.1 27.9 6.3 28 5.3 28 4.6 28 3.9 28 3.1 27.9 2.5 28 1.8 28 1.4 28 .7 28 .3 15.2 0M1470.1 610.7l27.9-3 28-3.2 27.9-3.5 28-3.8 28-3.9 28-4.2 28-4.4 27.9-4.5 28-4.7 28-4.9 28-5"/>
<path stroke="url(#p28)" d="M936.6 587.8l28 7 27.9 6.2 28 5.2 28 4.5 28 3.7 28 3 27.9 2.4 28 1.8 28 1.2 28 .7 28 .2 27.3-.2M1484.2 609.3l12-1.4 28-3.3 27.9-3.5 28-3.8 28-4 28-4.2 28-4.4 27.9-4.5 28-4.8 28-4.9 28-5"/>
<path stroke="url(#p29)" d="M934.8 589.8l28 6.8 28 6 27.9 5.2 28 4.3 28 3.6 28 3 28 2.2 27.9 1.7 28 1.2 28 .6 28 .1 28-.3 9.5-.2M1497.9 607.8l24.5-2.9 28-3.6 27.9-3.9 28-4 28-4.2 28-4.4 28-4.6 27.9-4.8 28-4.9 28-5.1"/>
<path stroke="url(#p30)" d="M933 591.8l28 6.7 28 5.9 28 5 27.9 4.2 28 3.5 28 2.8 28 2.2 28 1.6 27.9 1.1 28 .5 28 .1 28-.5 21.3-.5M1511.2 606.3l9.4-1.2 28-3.6 28-3.9 27.9-4.1 28-4.2 28-4.5 28-4.6 28-4.8 27.9-5 28-5.1"/>
<path stroke="url(#p31)" d="M931.2 593.9l28 6.6 28 5.7 28 4.9 27.9 4.1 28 3.4 28 2.7 28 2.1 28 1.5 27.9 .9 28 .5 28-.1 28-.4 28-.9 4.9-.2M1524.2 604.7l22.6-3 28-3.9 27.9-4.1 28-4.3 28-4.5 28-4.7 28-4.8 27.9-5 28-5.1"/>
<path stroke="url(#p32)" d="M929.4 596.1l28 6.5 28 5.5 28 4.8 28 3.9 27.9 3.3 28 2.6 28 2 28 1.4 28 .8 27.9 .4 28-.1 28-.6 28-1 14.6-.6M1536.8 603.1l8.2-1.1 28-4 28-4.1 27.9-4.4 28-4.5 28-4.7 28-4.9 28-5 27.9-5.1"/>
<path stroke="url(#p33)" d="M927.7 598.4l27.9 6.3 28 5.4 28 4.6 28 3.9 28 3.1 27.9 2.5 28 1.8 28 1.3 28 .8 28 .3 27.9-.2 28-.7 28-1 25.8-1.3M1549.1 601.5l22.1-3.2 28-4.2 28-4.4 27.9-4.5 28-4.8 28-4.9 28-5 28-5.2"/>
<path stroke="url(#p34)" d="M925.9 600.8l27.9 6.1 28 5.3 28 4.4 28 3.7 28 3 27.9 2.4 28 1.8 28 1.2 28 .6 28 .2 27.9-.3 28-.7 28-1.2 28-1.5 7.2-.4M1561.1 599.8l8.3-1.2 28-4.3 28-4.4 27.9-4.6 28-4.8 28-4.9 28-5.1 28-5.2"/>
<path stroke="url(#p35)" d="M924.1 603.3l28 5.9 27.9 5.1 28 4.3 28 3.6 28 2.9 28 2.2 27.9 1.7 28 1 28 .6 28 .1 28-.4 27.9-.8 28-1.2 28-1.6 18.1-1.2M1572.8 598.1l22.8-3.5 28-4.4 28-4.7 27.9-4.8 28-5 28-5.1 28-5.2"/>
<path stroke="url(#p36)" d="M922.3 605.9l28 5.7 28 4.9 27.9 4.2 28 3.4 28 2.8 28 2.1 28 1.5 27.9 1 28 .4 28 0 28-.5 28-.9 27.9-1.3 28-1.6 28-2.1 .8 0M1584.1 596.4l9.7-1.5 28-4.5 28-4.7 28-4.8 27.9-5 28-5.2 28-5.3"/>
<path stroke="url(#p37)" d="M920.5 608.5l28 5.6 28 4.7 27.9 4 28 3.3 28 2.6 28 2 28 1.4 27.9 .9 28 .3 28-.1 28-.6 28-1 27.9-1.4 28-1.7 28-2.1 9.8-.8M1595.1 594.8l24.9-4.1 28-4.7 28-4.9 27.9-5.1 28-5.1 28-5.4"/>
<path stroke="url(#p38)" d="M918.7 611.2l28 5.4 28 4.6 28 3.8 27.9 3.2 28 2.4 28 1.9 28 1.3 28 .7 27.9 .2 28-.2 28-.7 28-1 28-1.5 27.9-1.8 28-2.2 20.2-1.8M1605.8 593.1l12.4-2.1 28-4.8 28-4.9 28-5.1 27.9-5.2 28-5.3"/>
<path stroke="url(#p39)" d="M916.9 614l28 5.2 28 4.5 28 3.6 28 3 27.9 2.3 28 1.7 28 1.2 28 .6 28 .1 27.9-.3 28-.8 28-1.2 28-1.5 28-1.9 27.9-2.3 28-2.5 2.4-.3M1616.3 591.4l.1-.1 28-4.8 28-4.9 28-5.1 28-5.3 27.9-5.4"/>
<path stroke="url(#p40)" d="M915.2 616.9l27.9 5 28 4.3 28 3.5 28 2.8 27.9 2.2 28 1.5 28 1.1 28 .5 28 0 28-.5 27.9-.9 28-1.2 28-1.7 28-2 27.9-2.3 28-2.6 11-1.2M1626.4 589.7l16.2-2.8 28-5.1 28-5.1 28-5.3 28-5.4"/>
<path stroke="url(#p41)" d="M913.4 619.8l27.9 4.9 28 4 28 3.4 28 2.6 28 2.1 27.9 1.4 28 .9 28 .4 28-.1 28-.6 27.9-1 28-1.4 28-1.7 28-2.1 28-2.4 27.9-2.7 20.9-2.2M1636.3 588l4.5-.8 28-5 28-5.2 28-5.4 28-5.4"/>
<path stroke="url(#p42)" d="M911.6 622.9l28 4.6 27.9 3.9 28 3.2 28 2.5 28 1.8 28 1.3 27.9 .8 28 .2 28-.2 28-.7 28-1.1 27.9-1.4 28-1.9 28-2.2 28-2.5 28-2.8 27.9-3 1.2-.2M1645.8 586.4l21.2-3.9 28-5.3 28-5.3 28-5.5"/>
<path stroke="url(#p43)" d="M909.8 626l28 4.4 28 3.7 27.9 3 28 2.3 28 1.8 28 1.1 28 .6 27.9 .1 28-.3 28-.8 28-1.2 28-1.6 27.9-1.9 28-2.3 28-2.6 28-2.8 28-3.2 10.8-1.3M1655.1 584.7l10.2-1.9 27.9-5.3 28-5.4 28-5.5"/>
<path stroke="url(#p44)" d="M908 629.2l28 4.2 28 3.5 27.9 2.8 28 2.2 28 1.5 28 1 28 .5 27.9 0 28-.5 28-.9 28-1.3 28-1.7 27.9-2 28-2.4 28-2.7 28-2.9 28-3.2 20.3-2.5M1664.1 583.1l27.3-5.2 28-5.5 28-5.6"/>
<path stroke="url(#p45)" d="M906.2 632.4l28 4.1 28 3.3 28 2.6 27.9 2 28 1.4 28 .8 28 .3 28-.1 27.9-.6 28-1 28-1.5 28-1.7 28-2.2 27.9-2.4 28-2.8 28-3 28-3.4 28-3.5 .2 0M1672.9 581.5l16.8-3.3 27.9-5.5 28-5.6"/>
<path stroke="url(#p46)" d="M904.4 635.8l28 3.8 28 3.1 28 2.4 28 1.8 27.9 1.3 28 .7 28 .1 28-.3 28-.7 27.9-1.1 28-1.6 28-1.9 28-2.2 28-2.6 27.9-2.8 28-3.1 28-3.4 28-3.7 9.4-1.2M1681.4 579.9l6.5-1.3 28-5.5 27.9-5.7"/>
<path stroke="url(#p47)" d="M902.6 639.2l28 3.6 28 2.9 28 2.2 28 1.7 27.9 1 28 .6 28 0 28-.4 28-.9 27.9-1.3 28-1.6 28-2 28-2.4 28-2.6 27.9-3 28-3.2 28-3.5 28-3.7 17.1-2.4M1689.6 578.3l24.5-4.9 27.9-5.7"/>
<path stroke="url(#p48)" d="M900.9 642.7l27.9 3.3 28 2.7 28 2.1 28 1.4 28 .9 27.9 .4 28-.1 28-.6 28-1 28-1.4 27.9-1.8 28-2.1 28-2.4 28-2.8 28-3 27.9-3.3 28-3.6 28-3.8 26.1-3.7M1697.5 576.8l14.8-3 28-5.8"/>
<path stroke="url(#p49)" d="M899.1 646.2l28 3.2 27.9 2.4 28 1.9 28 1.3 28 .7 28 .2 27.9-.3 28-.7 28-1.1 28-1.6 28-1.9 27.9-2.2 28-2.5 28-2.9 28-3.1 28-3.4 27.9-3.7 28-3.8 28-4.1 6.9-1.1M1705.2 575.2l5.3-1 28-5.8"/>
<path stroke="url(#p50)" d="M897.3 649.8l28 2.9 27.9 2.3 28 1.7 28 1 28 .6 28 0 27.9-.4 28-.9 28-1.2 28-1.7 28-2 27.9-2.3 28-2.7 28-3 28-3.2 28-3.5 27.9-3.7 28-4 28-4.1 14.2-2.2M1712.6 573.8l24.1-5.1"/>
<path stroke="url(#p51)" d="M895.5 653.5l28 2.7 28 2 27.9 1.5 28 .9 28 .4 28-.2 28-.6 27.9-1 28-1.4 28-1.8 28-2.1 28-2.5 27.9-2.7 28-3.1 28-3.3 28-3.6 28-3.8 27.9-4.1 28-4.2 22.7-3.6M1719.8 572.3l15.1-3.2"/>
<path stroke="url(#p52)" d="M893.7 657.2l28 2.5 28 1.8 28 1.3 27.9 .7 28 .2 28-.3 28-.8 28-1.1 27.9-1.6 28-1.9 28-2.3 28-2.6 28-2.9 27.9-3.1 28-3.4 28-3.7 28-3.9 28-4.2 27.9-4.3 28-4.5 3.2-.5M1726.7 570.9l6.4-1.4"/>
<path stroke="url(#p53)" d="M891.9 661l28 2.3 28 1.6 28 1 27.9 .5 28 0 28-.4 28-1 28-1.3 27.9-1.7 28-2 28-2.4 28-2.7 28-3 27.9-3.3 28-3.5 28-3.8 28-4 28-4.2 27.9-4.4 28-4.6 10.1-1.7"/>
<path stroke="url(#p54)" d="M890.1 664.9l28 2 28 1.4 28 .8 28 .3 27.9-.2 28-.6 28-1.1 28-1.5 28-1.8 27.9-2.2 28-2.5 28-2.8 28-3.2 28-3.3 27.9-3.7 28-3.8 28-4.1 28-4.3 28-4.5 27.9-4.7 18.3-3.1"/>
<path stroke="url(#p55)" d="M888.4 668.8l27.9 1.8 28 1.1 28 .7 28 .1 28-.4 27.9-.8 28-1.3 28-1.6 28-2 28-2.3 27.9-2.7 28-2.9 28-3.3 28-3.5 28-3.7 27.9-4 28-4.1 28-4.4 28-4.6 28-4.8 25-4.4"/>
<path stroke="url(#p56)" d="M886.6 672.8l28 1.5 27.9 .9 28 .4 28-.1 28-.5 27.9-1 28-1.4 28-1.8 28-2.2 28-2.4 28-2.8 27.9-3.1 28-3.3 28-3.6 28-3.9 27.9-4.1 28-4.2 28-4.5 28-4.7 28-4.8 27.9-5 5-.9"/>
<path stroke="url(#p57)" d="M884.8 676.8l28 1.3 27.9 .7 28 .2 28-.3 28-.8 28-1.2 27.9-1.5 28-2 28-2.3 28-2.6 28-2.9 27.9-3.2 28-3.5 28-3.7 28-4 28-4.1 27.9-4.4 28-4.6 28-4.7 28-4.9 28-5.1 12.7-2.3"/>
<path stroke="url(#p58)" d="M883 680.9l28 1 28 .5 27.9 0 28-.5 28-1 28-1.4 28-1.7 27.9-2.1 28-2.5 28-2.7 28-3.1 28-3.3 27.9-3.6 28-3.8 28-4.1 28-4.3 28-4.4 27.9-4.7 28-4.8 28-5 28-5.2 19.2-3.6"/>
<path stroke="url(#p59)" d="M881.2 685.1l28 .7 28 .3 28-.3 27.9-.7 28-1.2 28-1.5 28-1.9 28-2.3 27.9-2.6 28-2.9 28-3.2 28-3.5 28-3.7 27.9-3.9 28-4.2 28-4.4 28-4.5 28-4.8 27.9-4.9 28-5.1 28-5.2 26.7-5.1"/>
<path stroke="url(#p60)" d="M879.4 689.3l28 .5 28 0 28-.5 27.9-.9 28-1.4 28-1.7 28-2.1 28-2.5 27.9-2.7 28-3.1 28-3.3 28-3.6 28-3.8 27.9-4.1 28-4.3 28-4.5 28-4.6 28-4.9 27.9-5 28-5.1 28-5.3 28-5.5 4.9-1"/>
<path stroke="url(#p61)" d="M877.6 693.5l28 .3 28-.3 28-.7 28-1.1 27.9-1.6 28-1.9 28-2.3 28-2.6 28-2.9 27.9-3.2 28-3.5 28-3.7 28-4 28-4.1 27.9-4.4 28-4.6 28-4.8 28-4.9 28-5.1 27.9-5.3 28-5.3 28-5.6 12.3-2.4"/>
<path stroke="url(#p62)" d="M875.9 697.8l27.9 0 28-.5 28-.9 28-1.4 28-1.7 27.9-2.1 28-2.5 28-2.8 28-3.1 28-3.3 27.9-3.6 28-3.9 28-4.1 28-4.3 28-4.5 27.9-4.7 28-4.8 28-5 28-5.2 28-5.4 27.9-5.4 28-5.6 19.5-4"/>
<path stroke="url(#p63)" d="M874.1 702.2l27.9-.3 28-.7 28-1.2 28-1.6 28-1.9 27.9-2.4 28-2.6 28-2.9 28-3.3 28-3.5 27.9-3.7 28-4 28-4.2 28-4.5 28-4.6 27.9-4.8 28-4.9 28-5.2 28-5.2 28-5.5 27.9-5.5 28-5.7 25.4-5.2"/>
<path stroke="url(#p64)" d="M872.3 706.6l28-.6 27.9-.9 28-1.5 28-1.8 28-2.1 28-2.5 27.9-2.9 28-3.1 28-3.4 28-3.6 28-3.9 27.9-4.2 28-4.3 28-4.5 28-4.8 28-4.9 27.9-5 28-5.3 28-5.3 28-5.5 28-5.7 27.9-5.7 28-5.9 4.4-.9"/>
<path stroke="url(#p65)" d="M870.5 711l28-.8 28-1.2 27.9-1.7 28-2 28-2.4 28-2.7 28-3 27.9-3.3 28-3.5 28-3.8 28-4.1 28-4.3 27.9-4.4 28-4.7 28-4.8 28-5 28-5.2 27.9-5.3 28-5.5 28-5.6 28-5.7 28-5.8 27.9-6 11.3-2.4"/>
<path stroke="url(#p66)" d="M868.7 715.5l28-1.1 28-1.5 27.9-1.8 28-2.3 28-2.6 28-2.9 28-3.2 27.9-3.4 28-3.8 28-3.9 28-4.2 28-4.4 27.9-4.6 28-4.8 28-5 28-5.1 28-5.3 27.9-5.4 28-5.5 28-5.7 28-5.8 28-5.9 27.9-6 16.9-3.7"/>
<path stroke="url(#p67)" d="M866.9 720.1l28-1.4 28-1.8 28-2.1 27.9-2.5 28-2.8 28-3.1 28-3.3 28-3.7 27.9-3.9 28-4.1 28-4.3 28-4.6 28-4.7 27.9-4.9 28-5.1 28-5.2 28-5.4 28-5.5 27.9-5.7 28-5.7 28-5.9 28-6 28-6.1 23.5-5.2"/>
<path stroke="url(#p68)" d="M865.1 724.6l28-1.6 28-2 28-2.4 28-2.7 27.9-3 28-3.3 28-3.6 28-3.8 28-4.1 27.9-4.2 28-4.5 28-4.7 28-4.9 28-5 27.9-5.2 28-5.4 28-5.4 28-5.6 28-5.8 27.9-5.8 28-6 28-6.1 28-6.1 28-6.3 .9-.2"/>
<path stroke="url(#p69)" d="M863.3 729.2l28-1.9 28-2.2 28-2.7 28-2.9 27.9-3.2 28-3.5 28-3.8 28-4 28-4.2 27.9-4.5 28-4.6 28-4.8 28-5 28-5.2 27.9-5.3 28-5.5 28-5.5 28-5.8 28-5.8 27.9-5.9 28-6.1 28-6.1 28-6.3 28-6.3 7.4-1.7"/>
<path stroke="url(#p70)" d="M861.6 733.9l27.9-2.2 28-2.5 28-2.9 28-3.2 28-3.4 27.9-3.7 28-4 28-4.2 28-4.4 28-4.6 27.9-4.7 28-5 28-5.1 28-5.3 28-5.5 27.9-5.5 28-5.7 28-5.8 28-6 28-6 27.9-6.1 28-6.3 28-6.3 28-6.4 13.7-3.1"/>
<path stroke="url(#p71)" d="M859.8 738.5l28-2.4 27.9-2.8 28-3.1 28-3.4 28-3.7 28-3.9 27.9-4.1 28-4.4 28-4.6 28-4.7 28-5 27.9-5.1 28-5.2 28-5.5 28-5.5 28-5.7 27.9-5.8 28-5.9 28-6 28-6.2 28-6.2 27.9-6.3 28-6.4 28-6.4 18.8-4.4"/>
<path stroke="url(#p72)" d="M858 743.3l28-2.8 28-3 27.9-3.4 28-3.6 28-3.9 28-4.1 28-4.4 27.9-4.5 28-4.8 28-4.9 28-5.1 28-5.2 27.9-5.4 28-5.6 28-5.7 28-5.7 27.9-6 28-6 28-6.1 28-6.2 28-6.3 28-6.4 27.9-6.5 28-6.5 25-5.9"/>
<path stroke="url(#p73)" d="M856.2 748l28-3 28-3.3 27.9-3.7 28-3.8 28-4.1 28-4.3 28-4.6 27.9-4.7 28-4.9 28-5.1 28-5.3 28-5.4 27.9-5.5 28-5.7 28-5.8 28-5.9 28-6 27.9-6.1 28-6.2 28-6.3 28-6.4 28-6.5 27.9-6.6 28-6.6 28-6.7 1.9-.4"/>
<path stroke="url(#p74)" d="M854.4 752.8l28-3.3 28-3.6 28-3.9 27.9-4.1 28-4.3 28-4.5 28-4.8 28-4.9 27.9-5.1 28-5.2 28-5.4 28-5.6 28-5.7 27.9-5.8 28-5.9 28-6 28-6.1 28-6.3 27.9-6.3 28-6.4 28-6.4 28-6.6 28-6.6 27.9-6.7 28-6.8 7.9-1.9"/>
<path stroke="url(#p75)" d="M852.6 757.6l28-3.6 28-3.9 28-4.1 28-4.3 27.9-4.6 28-4.7 28-4.9 28-5.1 28-5.3 27.9-5.4 28-5.6 28-5.7 28-5.8 28-5.9 27.9-6.1 28-6.1 28-6.2 28-6.4 28-6.4 27.9-6.5 28-6.5 28-6.7 28-6.7 28-6.8 27.9-6.8 13.7-3.3"/>
<path stroke="url(#p76)" d="M850.8 762.4l28-3.9 28-4.1 28-4.4 28-4.5 27.9-4.8 28-5 28-5.1 28-5.3 28-5.4 27.9-5.6 28-5.7 28-5.9 28-5.9 28-6.1 27.9-6.1 28-6.3 28-6.4 28-6.4 28-6.5 27.9-6.6 28-6.6 28-6.8 28-6.7 28-6.9 27.9-6.9 18.3-4.5"/>
<path stroke="url(#p77)" d="M849.1 767.3l27.9-4.2 28-4.4 28-4.6 28-4.8 28-5 27.9-5.2 28-5.3 28-5.5 28-5.6 28-5.8 27.9-5.8 28-6 28-6.1 28-6.2 28-6.3 27.9-6.4 28-6.4 28-6.6 28-6.6 28-6.7 27.9-6.7 28-6.8 28-6.9 28-6.9 28-7 23.8-6"/>
<path stroke="url(#p78)" d="M847.3 772.1l28-4.4 27.9-4.7 28-4.9 28-5 28-5.2 28-5.4 27.9-5.6 28-5.6 28-5.8 28-5.9 28-6.1 27.9-6.1 28-6.2 28-6.4 28-6.4 28-6.5 27.9-6.5 28-6.7 28-6.7 28-6.8 28-6.8 27.9-6.9 28-6.9 28-7 28-7.1 28-7 1.4-.4"/>
<path stroke="url(#p79)" d="M845.5 777l28-4.7 27.9-5 28-5.1 28-5.3 28-5.4 28-5.6 27.9-5.8 28-5.8 28-6 28-6.1 28-6.2 27.9-6.2 28-6.4 28-6.5 28-6.5 28-6.6 27.9-6.7 28-6.8 28-6.8 28-6.8 28-7 27.9-6.9 28-7.1 28-7 28-7.1 28-7.2 5.7-1.5"/>
<path stroke="url(#p80)" d="M843.7 782l28-5.1 28-5.2 27.9-5.4 28-5.5 28-5.7 28-5.8 28-5.9 27.9-6.1 28-6.1 28-6.3 28-6.3 28-6.5 27.9-6.5 28-6.6 28-6.6 28-6.8 28-6.8 27.9-6.8 28-6.9 28-7 28-7 28-7.1 27.9-7.1 28-7.1 28-7.2 28-7.2 11.1-2.9"/>
<path stroke="url(#p81)" d="M841.9 786.9l28-5.4 28-5.5 28-5.6 27.9-5.8 28-5.9 28-6 28-6.1 28-6.3 27.9-6.3 28-6.4 28-6.5 28-6.6 28-6.7 27.9-6.7 28-6.8 28-6.8 28-6.9 28-7 27.9-7 28-7.1 28-7.1 28-7.1 28-7.2 27.9-7.2 28-7.3 28-7.3 15.2-3.9"/>
<path stroke="url(#p82)" d="M840.1 791.8l28-5.6 28-5.8 28-5.9 27.9-6 28-6.1 28-6.3 28-6.3 28-6.4 27.9-6.5 28-6.6 28-6.7 28-6.7 28-6.8 27.9-6.9 28-6.9 28-7 28-7 28-7 27.9-7.2 28-7.1 28-7.2 28-7.2 28-7.3 27.9-7.3 28-7.3 28-7.4 20.4-5.3"/>
<path stroke="url(#p83)" d="M838.3 796.8l28-5.9 28-6.1 28-6.1 28-6.3 27.9-6.4 28-6.4 28-6.6 28-6.6 28-6.7 27.9-6.7 28-6.8 28-6.9 28-7 28-7 27.9-7 28-7.1 28-7.1 28-7.2 28-7.2 27.9-7.3 28-7.2 28-7.4 28-7.3 28-7.4 27.9-7.4 28-7.4 25.4-6.8"/>
<path stroke="url(#p84)" d="M836.6 801.8l27.9-6.2 28-6.4 28-6.4 28-6.5 28-6.6 27.9-6.7 28-6.7 28-6.8 28-6.9 28-6.9 27.9-7 28-7 28-7.1 28-7.1 28-7.2 27.9-7.2 28-7.3 28-7.2 28-7.4 28-7.3 27.9-7.4 28-7.4 28-7.4 28-7.5 28-7.4 27.9-7.5 28-7.5 1.3-.4"/>
<path stroke="url(#p85)" d="M834.8 806.8l27.9-6.6 28-6.6 28-6.6 28-6.8 28-6.8 27.9-6.9 28-6.9 28-7 28-7.1 28-7.1 27.9-7.1 28-7.2 28-7.2 28-7.3 28-7.3 27.9-7.3 28-7.4 28-7.4 28-7.4 28-7.4 27.9-7.5 28-7.5 28-7.5 28-7.5 28-7.6 27.9-7.5 28-7.6 6.1-1.7"/>
<path stroke="url(#p86)" d="M833 811.8l28-6.9 27.9-6.8 28-7 28-7 28-7 28-7.1 27.9-7.2 28-7.2 28-7.2 28-7.3 28-7.3 27.9-7.3 28-7.4 28-7.4 28-7.4 28-7.5 27.9-7.4 28-7.5 28-7.5 28-7.6 28-7.5 27.9-7.6 28-7.6 28-7.6 28-7.6 28-7.6 27.9-7.7 9.9-2.7"/>
<path stroke="url(#p87)" d="M831.2 816.8l28-7.1 28-7.2 27.9-7.2 28-7.3 28-7.2 28-7.4 28-7.3 27.9-7.4 28-7.4 28-7.4 28-7.5 28-7.5 27.9-7.5 28-7.5 28-7.6 28-7.6 28-7.6 27.9-7.6 28-7.6 28-7.6 28-7.7 28-7.6 27.9-7.7 28-7.7 28-7.7 28-7.7 28-7.7 14.4-4"/>
<path stroke="url(#p88)" d="M829.4 821.8l28-7.4 28-7.5 28-7.4 27.9-7.5 28-7.5 28-7.6 28-7.5 27.9-7.6 28-7.6 28-7.6 28-7.6 28-7.7 28-7.6 27.9-7.7 28-7.7 28-7.7 28-7.7 27.9-7.7 28-7.7 28-7.7 28-7.8 28-7.7 28-7.8 27.9-7.7 28-7.8 28-7.8 28-7.7 18.9-5.3"/>
<path stroke="url(#p89)" d="M827.6 826.8l28-7.7 28-7.7 28-7.8 27.9-7.7 28-7.7 28-7.8 28-7.8 28-7.7 27.9-7.8 28-7.8 28-7.8 28-7.8 28-7.8 27.9-7.8 28-7.8 28-7.8 28-7.8 28-7.8 27.9-7.8 28-7.9 28-7.8 28-7.8 28-7.9 27.9-7.8 28-7.8 28-7.9 28-7.8 22.4-6.3"/>
<path stroke="url(#p90)" d="M825.8 831.8l28-8 28-8 28-8 28-8 27.9-7.9 28-8 28-8 28-7.9 28-8 27.9-7.9 28-8 28-7.9 28-8 28-7.9 27.9-8 28-7.9 28-7.9 28-7.9 28-8 27.9-7.9 28-7.9 28-7.9 28-7.9 28-8 27.9-7.9 28-7.9 28-7.9 26.8-7.6"/>
<path stroke="url(#p91)" d="M824.1 836.8l27.9-8.3 28-8.3 28-8.2 28-8.2 28-8.2 27.9-8.2 28-8.2 28-8.2 28-8.1 28-8.1 27.9-8.1 28-8.1 28-8.1 28-8.1 28-8 27.9-8.1 28-8 28-8.1 28-8 28-8 27.9-8 28-8 28-8 28-8 28-8 27.9-8 28-8 28-7.9 3-.9"/>
<path stroke="url(#p92)" d="M822.3 841.8l27.9-8.6 28-8.5 28-8.5 28-8.5 28-8.4 27.9-8.5 28-8.3 28-8.4 28-8.3 28-8.3 27.9-8.3 28-8.2 28-8.2 28-8.2 28-8.2 27.9-8.2 28-8.2 28-8.1 28-8.1 28-8.1 27.9-8.2 28-8 28-8.1 28-8.1 28-8.1 27.9-8 28-8 28-8.1 6.2-1.8"/>
<path stroke="url(#p93)" d="M820.5 846.8l28-8.9 27.9-8.8 28-8.8 28-8.7 28-8.6 28-8.7 27.9-8.6 28-8.5 28-8.5 28-8.5 28-8.4 27.9-8.4 28-8.4 28-8.3 28-8.3 28-8.3 27.9-8.3 28-8.2 28-8.3 28-8.2 28-8.2 27.9-8.1 28-8.2 28-8.2 28-8.1 28-8.1 27.9-8.1 28-8.1 10.3-3"/>
<path stroke="url(#p94)" d="M818.7 851.8l28-9.1 28-9.2 27.9-9 28-9 28-8.9 28-8.8 28-8.8 27.9-8.7 28-8.7 28-8.6 28-8.6 28-8.6 27.9-8.5 28-8.5 28-8.4 28-8.4 28-8.4 27.9-8.4 28-8.3 28-8.3 28-8.3 28-8.3 27.9-8.2 28-8.2 28-8.2 28-8.2 28-8.2 27.9-8.2 13.3-3.8"/>
<path stroke="url(#p95)" d="M816.9 856.8l28-9.4 28-9.4 27.9-9.3 28-9.2 28-9.2 28-9 28-9 27.9-8.9 28-8.9 28-8.8 28-8.8 28-8.7 27.9-8.6 28-8.6 28-8.6 28-8.5 28-8.5 27.9-8.5 28-8.4 28-8.4 28-8.4 28-8.4 27.9-8.3 28-8.3 28-8.3 28-8.2 28-8.3 27.9-8.2 17.2-5"/>
<path stroke="url(#p96)" d="M815.1 861.8l28-9.7 28-9.7 28-9.6 27.9-9.4 28-9.4 28-9.3 28-9.2 28-9.1 27.9-9 28-9 28-8.9 28-8.9 28-8.8 27.9-8.7 28-8.7 28-8.7 28-8.6 28-8.5 27.9-8.6 28-8.5 28-8.4 28-8.5 28-8.4 27.9-8.4 28-8.3 28-8.4 28-8.3 28-8.2 20.9-6.2"/>
<path stroke="url(#p97)" d="M813.3 866.8l28-10.1 28-9.9 28-9.8 28-9.7 27.9-9.6 28-9.5 28-9.4 28-9.3 28-9.2 27.9-9.2 28-9.1 28-9 28-8.9 28-8.9 27.9-8.8 28-8.8 28-8.7 28-8.7 28-8.6 27.9-8.6 28-8.6 28-8.5 28-8.5 28-8.4 27.9-8.5 28-8.4 28-8.3 28-8.4 23.6-7"/>
<path stroke="url(#p98)" d="M811.5 871.8l28-10.4 28-10.2 28-10.1 28-9.9 27.9-9.9 28-9.7 28-9.6 28-9.5 28-9.4 27.9-9.3 28-9.2 28-9.2 28-9.1 28-9 27.9-8.9 28-8.9 28-8.9 28-8.7 28-8.8 27.9-8.7 28-8.6 28-8.6 28-8.6 28-8.5 27.9-8.5 28-8.5 28-8.4 28-8.4 27.2-8.2"/>
<path stroke="url(#p99)" d="M809.8 876.7l27.9-10.6 28-10.5 28-10.4 28-10.2 28-10 27.9-9.9 28-9.8 28-9.7 28-9.6 28-9.5 27.9-9.4 28-9.3 28-9.2 28-9.2 28-9 27.9-9.1 28-8.9 28-8.9 28-8.8 28-8.8 27.9-8.8 28-8.7 28-8.6 28-8.6 28-8.6 27.9-8.5 28-8.5 28-8.5 28-8.4 1.9-.6"/>
<path stroke="url(#p100)" d="M808 881.7l28-11 27.9-10.8 28-10.6 28-10.4 28-10.3 28-10.1 27.9-10 28-9.9 28-9.8 28-9.6 28-9.6 27.9-9.4 28-9.4 28-9.3 28-9.2 28-9.1 27.9-9.1 28-9 28-8.9 28-8.9 28-8.8 27.9-8.8 28-8.7 28-8.7 28-8.7 28-8.6 27.9-8.5 28-8.6 28-8.5 5.3-1.6"/>
<path stroke="url(#p101)" d="M806.2 886.6l28-11.3 27.9-11 28-10.9 28-10.6 28-10.5 28-10.4 27.9-10.2 28-10.1 28-9.9 28-9.8 28-9.7 27.9-9.6 28-9.6 28-9.4 28-9.3 28-9.3 27.9-9.1 28-9.1 28-9.1 28-9 28-8.9 27.9-8.8 28-8.8 28-8.8 28-8.7 28-8.7 27.9-8.6 28-8.6 28-8.6 8.6-2.6"/>
<path stroke="url(#p102)" d="M804.4 891.5l28-11.6 28-11.3 27.9-11.1 28-10.9 28-10.7 28-10.6 28-10.4 27.9-10.3 28-10.1 28-10 28-9.8 28-9.8 27.9-9.6 28-9.6 28-9.4 28-9.4 28-9.3 27.9-9.2 28-9.2 28-9 28-9 28-9 27.9-8.9 28-8.8 28-8.8 28-8.7 28-8.7 27.9-8.7 28-8.6 11-3.4"/>
<path stroke="url(#p103)" d="M802.6 896.4l28-11.9 28-11.6 28-11.3 27.9-11.2 28-10.9 28-10.8 28-10.6 28-10.5 27.9-10.3 28-10.1 28-10 28-10 28-9.7 27.9-9.7 28-9.6 28-9.5 28-9.4 28-9.3 27.9-9.2 28-9.2 28-9.1 28-9 28-9 27.9-8.9 28-8.9 28-8.8 28-8.8 28-8.7 27.9-8.6 14.1-4.4"/>
<path stroke="url(#p104)" d="M800.8 901.2l28-12.1 28-11.9 28-11.6 28-11.4 27.9-11.2 28-11 28-10.8 28-10.6 27.9-10.5 28-10.3 28-10.2 28-10 28-10 28-9.8 27.9-9.7 28-9.6 28-9.5 28-9.4 27.9-9.3 28-9.3 28-9.2 28-9.1 28-9.1 28-8.9 27.9-9 28-8.8 28-8.9 28-8.8 27.9-8.7 17.2-5.3"/>
<path stroke="url(#p105)" d="M799 906l28-12.4 28-12.1 28-11.9 28-11.6 27.9-11.4 28-11.2 28-11 28-10.8 28-10.7 27.9-10.5 28-10.3 28-10.2 28-10.1 28-9.9 27.9-9.8 28-9.8 28-9.6 28-9.5 28-9.4 27.9-9.4 28-9.3 28-9.2 28-9.1 28-9.1 27.9-9 28-8.9 28-8.9 28-8.8 28-8.8 19.2-6"/>
<path stroke="url(#p106)" d="M797.3 910.8l27.9-12.7 28-12.4 28-12.1 28-11.9 28-11.6 27.9-11.4 28-11.2 28-11 28-10.8 28-10.7 27.9-10.5 28-10.3 28-10.2 28-10.1 28-9.9 27.9-9.9 28-9.7 28-9.6 28-9.6 28-9.4 27.9-9.4 28-9.3 28-9.2 28-9.1 28-9.1 27.9-9 28-8.9 28-8.9 28-8.9 22-6.9"/>
<path stroke="url(#p107)" d="M795.5 915.6l28-13 27.9-12.6 28-12.4 28-12.1 28-11.9 28-11.6 27.9-11.4 28-11.2 28-11 28-10.8 28-10.6 27.9-10.5 28-10.4 28-10.2 28-10 28-10 27.9-9.8 28-9.8 28-9.6 28-9.5 28-9.5 27.9-9.4 28-9.2 28-9.3 28-9.1 28-9.1 27.9-9 28-8.9 28-9 24-7.5"/>
<path stroke="url(#p108)" d="M793.7 920.4l28-13.3 27.9-12.9 28-12.7 28-12.3 28-12.1 28-11.8 27.9-11.6 28-11.4 28-11.1 28-11 28-10.8 27.9-10.7 28-10.4 28-10.4 28-10.2 28-10 27.9-10 28-9.8 28-9.7 28-9.7 28-9.5 27.9-9.5 28-9.3 28-9.3 28-9.2 28-9.2 27.9-9 28-9.1 28-8.9 26.7-8.5"/>
<path stroke="url(#p109)" d="M791.9 925.1l28-13.6 28-13.2 27.9-12.9 28-12.5 28-12.3 28-12 28-11.8 27.9-11.6 28-11.3 28-11.2 28-10.9 28-10.8 27.9-10.6 28-10.5 28-10.3 28-10.2 28-10 27.9-10 28-9.8 28-9.7 28-9.6 28-9.6 27.9-9.4 28-9.4 28-9.3 28-9.2 28-9.1 27.9-9.1 28-9 28-9"/>
<path stroke="url(#p110)" d="M790.1 929.7l28-13.8 28-13.4 28-13.2 27.9-12.8 28-12.5 28-12.2 28-12 28-11.7 27.9-11.5 28-11.3 28-11.2 28-10.9 28-10.7 27.9-10.6 28-10.4 28-10.3 28-10.2 28-10 27.9-10 28-9.8 28-9.7 28-9.6 28-9.5 27.9-9.5 28-9.3 28-9.3 28-9.2 28-9.1 27.9-9.1 28-9"/>
<path stroke="url(#p111)" d="M788.3 934.4l28-14.1 28-13.7 28-13.4 27.9-13 28-12.8 28-12.4 28-12.2 28-11.9 27.9-11.7 28-11.4 28-11.3 28-11.1 28-10.8 27.9-10.8 28-10.5 28-10.4 28-10.3 28-10.1 27.9-10.1 28-9.9 28-9.7 28-9.7 28-9.6 27.9-9.5 28-9.5 28-9.3 28-9.3 28-9.2 27.9-9.1 28-9.1"/>
<path stroke="url(#p112)" d="M786.5 939l28-14.4 28-14 28-13.6 28-13.2 27.9-13 28-12.6 28-12.4 28-12.1 28-11.8 27.9-11.7 28-11.4 28-11.2 28-11 28-10.8 27.9-10.7 28-10.5 28-10.4 28-10.2 28-10.2 27.9-9.9 28-9.9 28-9.8 28-9.7 28-9.5 27.9-9.5 28-9.4 28-9.4 28-9.2 28-9.2 27.9-9.1"/>
<path stroke="url(#p113)" d="M784.8 943.6l27.9-14.7 28-14.2 28-13.9 28-13.5 28-13.1 27.9-12.9 28-12.5 28-12.3 28-12 28-11.8 27.9-11.6 28-11.3 28-11.1 28-11 28-10.8 27.9-10.6 28-10.5 28-10.4 28-10.2 28-10 27.9-10 28-9.9 28-9.7 28-9.7 28-9.5 27.9-9.5 28-9.4 28-9.3 28-9.2 28-9.2"/>
<path stroke="url(#p114)" d="M783 948.1l27.9-14.9 28-14.5 28-14.1 28-13.7 28-13.4 27.9-13 28-12.8 28-12.4 28-12.2 28-12 27.9-11.7 28-11.4 28-11.3 28-11.1 28-10.9 27.9-10.8 28-10.6 28-10.4 28-10.3 28-10.2 27.9-10 28-9.9 28-9.9 28-9.7 28-9.6 27.9-9.5 28-9.5 28-9.4 28-9.3 28-9.2"/>
<path stroke="url(#p115)" d="M781.2 952.6l28-15.2 27.9-14.8 28-14.3 28-13.9 28-13.6 28-13.3 27.9-12.9 28-12.6 28-12.4 28-12.1 28-11.8 27.9-11.6 28-11.4 28-11.3 28-11 28-10.8 27.9-10.7 28-10.6 28-10.3 28-10.3 28-10.1 27.9-10 28-9.9 28-9.8 28-9.7 28-9.6 27.9-9.5 28-9.5 28-9.3 28-9.3"/>
<path stroke="url(#p116)" d="M779.4 957l28-15.4 28-15 27.9-14.6 28-14.2 28-13.8 28-13.4 28-13.1 27.9-12.8 28-12.5 28-12.3 28-12 28-11.7 27.9-11.6 28-11.3 28-11.1 28-11 28-10.8 27.9-10.6 28-10.5 28-10.4 28-10.2 28-10.1 27.9-9.9 28-9.9 28-9.8 28-9.6 28-9.6 27.9-9.5 28-9.4 28-9.3"/>
<path stroke="url(#p117)" d="M777.6 961.4l28-15.7 28-15.3 27.9-14.8 28-14.3 28-14 28-13.7 28-13.3 27.9-12.9 28-12.7 28-12.4 28-12.2 28-11.8 27.9-11.7 28-11.5 28-11.2 28-11.1 28-10.9 27.9-10.7 28-10.6 28-10.4 28-10.3 28-10.2 27.9-10 28-10 28-9.8 28-9.7 28-9.6 27.9-9.6 28-9.4 28-9.4"/>
<path stroke="url(#p118)" d="M775.8 965.8l28-16 28-15.5 28-15.1 27.9-14.6 28-14.2 28-13.8 28-13.5 28-13.1 27.9-12.8 28-12.6 28-12.3 28-12 28-11.8 27.9-11.6 28-11.3 28-11.2 28-11 28-10.8 27.9-10.7 28-10.5 28-10.4 28-10.2 28-10.2 27.9-10 28-9.8 28-9.8 28-9.7 28-9.6 27.9-9.5 28-9.4"/>
<path stroke="url(#p119)" d="M774 970.1l28-16.3 28-15.7 28-15.3 28-14.8 27.9-14.4 28-14 28-13.7 28-13.3 28-13 27.9-12.7 28-12.4 28-12.2 28-11.9 28-11.7 27.9-11.5 28-11.3 28-11.1 28-10.9 28-10.7 27.9-10.6 28-10.5 28-10.3 28-10.2 28-10.1 27.9-9.9 28-9.9 28-9.7 28-9.7 28-9.5 24.6-8.4"/>
<path stroke="url(#p120)" d="M772.2 974.3l28-16.5 28-16 28-15.5 28-15 28-14.6 27.9-14.2 28-13.8 28-13.5 28-13.2 28-12.8 27.9-12.6 28-12.3 28-12 28-11.8 28-11.6 27.9-11.4 28-11.2 28-11 28-10.9 27.9-10.7 28-10.5 28-10.4 28-10.2 28-10.2 28-10 27.9-9.9 28-9.8 28-9.7 28-9.6 14.2-4.9"/>
<path stroke="url(#p121)" d="M770.5 978.5l27.9-16.7 28-16.3 28-15.7 28-15.2 28-14.8 27.9-14.4 28-14 28-13.7 28-13.3 28-13 27.9-12.7 28-12.4 28-12.2 28-11.9 28-11.7 27.9-11.5 28-11.3 28-11.1 28-10.9 28-10.8 27.9-10.6 28-10.5 28-10.3 28-10.2 28-10.1 27.9-10 28-9.8 28-9.8 28-9.6 3.4-1.2"/>
<path stroke="url(#p122)" d="M768.7 982.7l28-17 27.9-16.5 28-15.9 28-15.5 28-15 28-14.6 27.9-14.2 28-13.8 28-13.4 28-13.2 28-12.8 27.9-12.6 28-12.3 28-12 28-11.8 28-11.6 27.9-11.4 28-11.2 28-11 28-10.9 28-10.7 27.9-10.5 28-10.4 28-10.3 28-10.1 28-10 27.9-10 28-9.8 20.2-7"/>
<path stroke="url(#p123)" d="M766.9 986.8l28-17.3 28-16.7 27.9-16.2 28-15.6 28-15.2 28-14.8 28-14.3 27.9-14 28-13.6 28-13.3 28-13 28-12.7 27.9-12.4 28-12.1 28-12 28-11.7 28-11.4 27.9-11.3 28-11.1 28-11 28-10.7 28-10.7 27.9-10.4 28-10.4 28-10.2 28-10 28-10 27.9-9.9 8.7-3"/>
<path stroke="url(#p124)" d="M765.1 990.8l28-17.5 28-16.9 27.9-16.4 28-15.9 28-15.4 28-14.9 28-14.5 27.9-14.2 28-13.7 28-13.5 28-13.1 28-12.8 27.9-12.5 28-12.3 28-12 28-11.8 28-11.6 27.9-11.4 28-11.2 28-11 28-10.8 28-10.7 27.9-10.6 28-10.3 28-10.3 28-10.2 28-10 24.7-8.8"/>
<path stroke="url(#p125)" d="M763.3 994.8l28-17.8 28-17.1 28-16.6 27.9-16.1 28-15.6 28-15.1 28-14.7 28-14.3 27.9-13.9 28-13.6 28-13.2 28-12.9 28-12.7 27.9-12.4 28-12.1 28-11.9 28-11.7 28-11.5 27.9-11.2 28-11.1 28-10.9 28-10.8 28-10.6 27.9-10.5 28-10.3 28-10.2 28-10.1 12.4-4.4"/>
<path stroke="url(#p126)" d="M761.5 998.7l28-18 28-17.4 28-16.8 28-16.2 27.9-15.8 28-15.3 28-14.9 28-14.4 28-14.1 27.9-13.7 28-13.4 28-13 28-12.8 28-12.5 27.9-12.2 28-12 28-11.8 28-11.6 28-11.3 27.9-11.2 28-11 28-10.8 28-10.7 28-10.5 27.9-10.4 28-10.2 27.7-10.1"/>
<path stroke="url(#p127)" d="M759.7 1002.6l28-18.3 28-17.6 28-17 28-16.5 27.9-15.9 28-15.5 28-15 28-14.6 28-14.2 27.9-13.9 28-13.5 28-13.2 28-12.8 28-12.6 27.9-12.4 28-12.1 28-11.8 28-11.7 28-11.4 27.9-11.3 28-11 28-10.9 28-10.8 28-10.6 27.9-10.4 28-10.3 14.6-5.3"/>
<path stroke="url(#p128)" d="M758 1006.4l27.9-18.5 28-17.8 28-17.2 28-16.7 28-16.1 27.9-15.7 28-15.2 28-14.7 28-14.4 28-14 27.9-13.6 28-13.3 28-13 28-12.7 28-12.5 27.9-12.2 28-11.9 28-11.7 28-11.6 28-11.3 27.9-11.1 28-11 28-10.8 28-10.6 28-10.5 27.9-10.4 1-.4"/>
<path stroke="url(#p129)" d="M756.2 1010.1l28-18.7 27.9-18 28-17.5 28-16.8 28-16.3 28-15.9 27.9-15.3 28-14.9 28-14.5 28-14.1 28-13.8 27.9-13.4 28-13.1 28-12.8 28-12.6 28-12.3 27.9-12 28-11.8 28-11.6 28-11.4 28-11.2 27.9-11 28-10.9 28-10.7 28-10.6 14.9-5.6"/>
<path stroke="url(#p130)" d="M754.4 1013.8l28-18.9 27.9-18.3 28-17.6 28-17.1 28-16.5 28-16 27.9-15.5 28-15 28-14.7 28-14.2 28-13.9 27.9-13.5 28-13.3 28-12.9 28-12.6 28-12.4 27.9-12.1 28-11.9 28-11.7 28-11.5 28-11.2 27.9-11.1 28-11 28-10.7 28-10.7 .5-.2"/>
<path stroke="url(#p131)" d="M752.6 1017.4l28-19.2 28-18.4 27.9-17.9 28-17.2 28-16.7 28-16.1 28-15.7 27.9-15.2 28-14.8 28-14.3 28-14 28-13.7 27.9-13.3 28-13.1 28-12.7 28-12.5 28-12.2 27.9-11.9 28-11.8 28-11.5 28-11.4 28-11.2 27.9-11 28-10.8 13.6-5.2"/>
<path stroke="url(#p132)" d="M750.8 1021l28-19.4 28-18.7 28-18 27.9-17.5 28-16.8 28-16.3 28-15.8 28-15.4 27.9-14.9 28-14.5 28-14.1 28-13.8 28-13.4 27.9-13.2 28-12.8 28-12.6 28-12.3 28-12 27.9-11.8 28-11.7 28-11.4 28-11.2 28-11.1 26.2-10.2"/>
<path stroke="url(#p133)" d="M749 1024.4l28-19.6 28-18.9 28-18.2 27.9-17.6 28-17 28-16.5 28-15.9 28-15.5 27.9-15.1 28-14.6 28-14.3 28-13.8 28-13.6 27.9-13.2 28-12.9 28-12.7 28-12.4 28-12.1 27.9-11.9 28-11.7 28-11.5 28-11.3 28-11.1 10.3-4.1"/>
<path stroke="url(#p134)" d="M747.2 1027.8l28-19.8 28-19.1 28-18.4 28-17.8 27.9-17.2 28-16.6 28-16.1 28-15.6 28-15.2 27.9-14.8 28-14.3 28-14 28-13.7 28-13.3 27.9-13 28-12.7 28-12.5 28-12.2 28-12 27.9-11.8 28-11.5 28-11.4 21.9-8.7"/>
<path stroke="url(#p135)" d="M745.5 1031.2l27.9-20.1 28-19.3 28-18.6 28-17.9 28-17.4 27.9-16.7 28-16.3 28-15.8 28-15.3 28-14.9 27.9-14.4 28-14.1 28-13.8 28-13.4 28-13.1 27.9-12.8 28-12.6 28-12.3 28-12 28-11.9 27.9-11.6 28-11.4 5-2"/>
<path stroke="url(#p136)" d="M743.7 1034.4l28-20.2 27.9-19.5 28-18.8 28-18.1 28-17.5 28-17 27.9-16.4 28-15.9 28-15.4 28-15 27.9-14.6 28-14.2 28-13.8 28-13.6 28-13.2 28-12.9 27.9-12.6 28-12.4 28-12.1 28-11.9 27.9-11.7 15.6-6.4"/>
<path stroke="url(#p137)" d="M741.9 1037.6l28-20.4 27.9-19.7 28-19 28-18.3 28-17.6 28-17.1 27.9-16.6 28-16 28-15.6 28-15.1 28-14.7 27.9-14.3 28-13.9 28-13.7 28-13.2 28-13 27.9-12.7 28-12.5 28-12.2 28-11.9 25.4-10.7"/>
<path stroke="url(#p138)" d="M740.1 1040.7l28-20.6 28-19.9 27.9-19.1 28-18.5 28-17.8 28-17.3 28-16.6 27.9-16.2 28-15.7 28-15.2 28-14.8 28-14.4 27.9-14.1 28-13.7 28-13.4 28-13 28-12.8 27.9-12.5 28-12.3 28-12 6.8-2.9"/>
<path stroke="url(#p139)" d="M738.3 1043.8l28-20.9 28-20 28-19.4 27.9-18.6 28-18 28-17.3 28-16.9 28-16.2 27.9-15.8 28-15.4 28-14.9 28-14.5 28-14.2 27.9-13.8 28-13.4 28-13.2 28-12.8 28-12.6 27.9-12.3 15.5-6.7"/>
<path stroke="url(#p140)" d="M736.5 1046.7l28-21 28-20.3 28-19.4 27.9-18.8 28-18.2 28-17.5 28-16.9 28-16.4 27.9-16 28-15.4 28-15 28-14.7 28-14.2 27.9-13.9 28-13.5 28-13.2 28-13 28-12.6 23.4-10.4"/>
<path stroke="url(#p141)" d="M734.7 1049.6l28-21.2 28-20.4 28-19.7 28-18.9 27.9-18.3 28-17.7 28-17 28-16.6 28-16 27.9-15.6 28-15.1 28-14.7 28-14.3 28-14 27.9-13.6 28-13.3 28-13 28-12.8 2.8-1.2"/>
<path stroke="url(#p142)" d="M733 1052.4l27.9-21.4 28-20.6 28-19.8 28-19.1 28-18.4 27.9-17.8 28-17.2 28-16.7 28-16.1 28-15.7 27.9-15.2 28-14.8 28-14.5 28-14 28-13.7 27.9-13.4 28-13.1 9.3-4.2"/>
<path stroke="url(#p143)" d="M731.2 1055.1l27.9-21.6 28-20.7 28-20 28-19.2 28-18.6 27.9-17.9 28-17.4 28-16.7 28-16.3 28-15.8 27.9-15.3 28-14.9 28-14.5 28-14.1 28-13.8 27.9-13.5 15.1-7.1"/>
<path stroke="url(#p144)" d="M729.4 1057.8l28-21.8 27.9-20.9 28-20.2 28-19.4 28-18.7 28-18 27.9-17.5 28-16.9 28-16.3 28-15.9 28-15.4 27.9-15 28-14.6 28-14.2 28-13.9 19.9-9.6"/>
<path stroke="url(#p145)" d="M727.6 1060.3l28-21.9 28-21.1 27.9-20.3 28-19.5 28-18.9 28-18.1 28-17.6 27.9-17 28-16.5 28-16 28-15.5 28-15.1 27.9-14.6 28-14.3 23.8-11.9"/>
<path stroke="url(#p146)" d="M725.8 1062.8l28-22.1 28-21.3 27.9-20.4 28-19.7 28-18.9 28-18.3 28-17.7 27.9-17.1 28-16.6 28-16.1 28-15.6 28-15.2 27.9-14.7 26.8-13.7"/>
<path stroke="url(#p147)" d="M724 1065.2l28-22.3 28-21.4 28-20.6 27.9-19.8 28-19.1 28-18.4 28-17.8 28-17.2 27.9-16.7 28-16.2 28-15.7 28-15.2 28-14.8 .5-.3"/>
<path stroke="url(#p148)" d="M722.2 1067.5l28-22.5 28-21.5 28-20.7 28-20 27.9-19.2 28-18.5 28-17.9 28-17.4 28-16.7 27.9-16.3 28-15.8 28-15.3 1.3-.7"/>
<path stroke="url(#p149)" d="M720.4 1069.7l28-22.6 28-21.7 28-20.8 28-20.1 27.9-19.4 28-18.6 28-18 28-17.5 28-16.8 27.9-16.4 28-15.8 .7-.4"/>
<path stroke="url(#p150)" d="M718.7 1071.8l27.9-22.7 28-21.9 28-20.9 28-20.2 28-19.5 27.9-18.8 28-18.1 28-17.5 28-17 26.4-15.5"/>
<path stroke="url(#p151)" d="M716.9 1073.8l28-22.8 27.9-22 28-21.1 28-20.3 28-19.6 28-18.9 27.9-18.2 28-17.6 22.8-13.9"/>
<path stroke="url(#p152)" d="M715.1 1075.8l28-23 27.9-22.1 28-21.3 28-20.4 28-19.7 28-19 28-18.3 17.2-11"/>
<path stroke="url(#p153)" d="M713.3 1077.7l28-23.2 28-22.2 27.9-21.4 28-20.6 28-19.7 28-19.1 9.7-6.5"/>
<path stroke="url(#p154)" d="M711.5 1079.4l28-23.3 28-22.3 28-21.5 27.9-20.7 27.7-19.6"/>
<path stroke="url(#p155)" d="M709.7 1081.1l28-23.4 28-22.5 28-21.6 14.9-11.2"/>
<path stroke="url(#p156)" d="M707.9 1082.7l28-23.6 27-21.8"/>
<path stroke="url(#p157)" d="M706.2 1084.2l6.8-5.9"/>
<path stroke="url(#p158)" d="M704.4 1085.6l8.1-7"/>
<path stroke="url(#p159)" d="M702.6 1086.8l11.7-10.1"/>
<path stroke="url(#p160)" d="M700.8 1088.1l15.4-13.4"/>
<path stroke="url(#p161)" d="M699 1089.2l19-16.5"/>
<path stroke="url(#p162)" d="M697.2 1090.2l22.7-19.7"/>
<path stroke="url(#p163)" d="M695.4 1091.1l26.3-22.9"/>
<path stroke="url(#p164)" d="M693.7 1091.9l27.9-24.4 2-1.6"/>
<path stroke="url(#p165)" d="M691.9 1092.6l27.9-24.4 5.6-4.8"/>
<path stroke="url(#p166)" d="M690.1 1093.2l28-24.5 9.2-7.9"/>
<path stroke="url(#p167)" d="M688.3 1093.7l28-24.5 12.8-11"/>
<path stroke="url(#p168)" d="M686.5 1094.2l28-24.7 16.5-14"/>
<path stroke="url(#p169)" d="M684.7 1094.5l28-24.7 20.4-17.4"/>
<path stroke="url(#p170)" d="M682.9 1094.7l28-24.8 24.1-20.4"/>
<path stroke="url(#p171)" d="M681.2 1094.8l27.9-24.8 27.7-23.5"/>
<path stroke="url(#p172)" d="M679.4 1094.8l27.9-24.8 28-23.8 3.4-2.8"/>
<path stroke="url(#p173)" d="M677.6 1094.7l28-24.9 27.9-23.8 7-5.8"/>
<path stroke="url(#p174)" d="M675.8 1094.6l28-25 28-23.9 10.6-8.8"/>
<path stroke="url(#p175)" d="M674 1094.3l28-25 28-23.9 14.2-11.8"/>
<path stroke="url(#p176)" d="M672.2 1093.9l28-25 28-23.9 17.9-14.8"/>
<path stroke="url(#p177)" d="M670.4 1093.4l28-25 28-24 21.5-17.7"/>
<path stroke="url(#p178)" d="M668.6 1092.8l28-25 28-24 25.2-20.7"/>
<path stroke="url(#p179)" d="M666.9 1092.1l27.9-25 28-24 28-23 .8-.7"/>
<path stroke="url(#p180)" d="M665.1 1091.3l28-25 27.9-24 28-23 4.8-3.8"/>
<path stroke="url(#p181)" d="M663.3 1090.4l28-25 27.9-24 28-23 8.4-6.7"/>
<path stroke="url(#p182)" d="M661.5 1089.4l28-25 28-24 27.9-23 12.1-9.6M1498.5 607.7l2.4-.9"/>
<path stroke="url(#p183)" d="M659.7 1088.3l28-25 28-24 28-23 15.6-12.4M1492.8 608.4l6.3-2.5"/>
<path stroke="url(#p184)" d="M657.9 1087l28-24.9 28-24 28-22.9 19.3-15.3M1487.1 609l10.2-4.1"/>
<path stroke="url(#p185)" d="M656.1 1085.7l28-24.9 28-23.9 28-23 22.9-18.1M1481.3 609.6l14.2-5.7"/>
<path stroke="url(#p186)" d="M654.4 1084.3l27.9-24.9 28-23.9 28-22.9 26.6-20.9M1475.5 610.2l18.3-7.3"/>
<path stroke="url(#p187)" d="M652.6 1082.8l28-24.9 27.9-23.8 28-22.9 28-22 2.2-1.7M1469.6 610.8l22.4-8.9"/>
<path stroke="url(#p188)" d="M650.8 1081.2l28-24.9 27.9-23.8 28-22.8 28-22 5.9-4.5M1463.8 611.3l26.4-10.5"/>
<path stroke="url(#p189)" d="M649 1079.5l28-24.8 28-23.8 27.9-22.8 28-21.9 9.5-7.3M1457.9 611.9l2.5-1.1 28-11.1"/>
<path stroke="url(#p190)" d="M647.2 1077.6l28-24.7 28-23.7 28-22.8 27.9-21.9 13.2-10M1451.9 612.4l6.7-2.7 28-11.1"/>
<path stroke="url(#p191)" d="M645.4 1075.7l28-24.7 28-23.7 28-22.7 27.9-21.8 16.8-12.7M1446 612.9l10.8-4.3 28-11.1"/>
<path stroke="url(#p192)" d="M643.6 1073.7l28-24.6 28-23.7 28-22.6 28-21.8 20.4-15.4M1440 613.4l15.1-6 27.9-11.1"/>
<path stroke="url(#p193)" d="M641.9 1071.6l27.9-24.6 28-23.6 28-22.6 28-21.7 24-18M1433.9 613.9l19.4-7.7 28-11.1"/>
<path stroke="url(#p194)" d="M640.1 1069.4l27.9-24.6 28-23.5 28-22.5 28-21.7 27.7-20.6M1427.9 614.4l23.6-9.5 28-11"/>
<path stroke="url(#p195)" d="M638.3 1067l28-24.4 27.9-23.4 28-22.5 28-21.6 28-20.8 3.3-2.4M1421.8 614.8l27.9-11.1 28-11.1"/>
<path stroke="url(#p196)" d="M636.5 1064.6l28-24.3 28-23.4 27.9-22.4 28-21.6 28-20.7 7-5M1415.7 615.3l4.2-1.7 28-11.2 28-11"/>
<path stroke="url(#p197)" d="M634.7 1062.1l28-24.3 28-23.3 27.9-22.3 28-21.5 28-20.6 10.6-7.7M1409.6 615.7l8.5-3.5 28-11.1 28-11"/>
<path stroke="url(#p198)" d="M632.9 1059.5l28-24.2 28-23.2 28-22.3 27.9-21.4 28-20.5 14.6-10.4M1403.4 616.1l13-5.3 27.9-11.1 28-11"/>
<path stroke="url(#p199)" d="M631.1 1056.8l28-24.1 28-23.1 28-22.2 28-21.3 27.9-20.5 18.2-13M1397.3 616.4l17.3-6.9 28-11.2 27.9-10.9"/>
<path stroke="url(#p200)" d="M629.4 1054l27.9-24 28-23.1 28-22 28-21.3 27.9-20.4 21.9-15.4M1391 616.8l21.8-8.8 28-11.1 28-10.9"/>
<path stroke="url(#p201)" d="M627.6 1051l27.9-23.8 28-23 28-22 28-21.1 28-20.4 25.4-17.8M1384.8 617.1l26.2-10.5 28-11.1 28-10.9"/>
<path stroke="url(#p202)" d="M625.8 1048l28-23.7 27.9-22.9 28-21.9 28-21 28-20.3 28-19.5 1.1-.8M1378.6 617.4l2.6-1.1 28-11.2 28-11.1 28-10.9"/>
<path stroke="url(#p203)" d="M624 1044.9l28-23.6 28-22.7 27.9-21.8 28-21 28-20.2 28-19.4 4.7-3.3M1372.3 617.7l7.2-2.9 27.9-11.2 28-11.1 28-10.8"/>
<path stroke="url(#p204)" d="M622.2 1041.8l28-23.6 28-22.6 27.9-21.7 28-20.9 28-20 28-19.4 8.4-5.7M1366 617.9l11.7-4.7 27.9-11.2 28-11 28-10.8"/>
<path stroke="url(#p205)" d="M620.4 1038.5l28-23.5 28-22.4 28-21.6 27.9-20.8 28-20 28-19.2 12-8.1M1359.7 618.2l16.2-6.6 28-11.1 27.9-11 28-10.9"/>
<path stroke="url(#p206)" d="M618.6 1035.1l28-23.3 28-22.4 28-21.4 28-20.7 27.9-19.9 28-19.2 15.7-10.4M1353.3 618.4l20.8-8.4 28-11.1 28-11 27.9-10.8"/>
<path stroke="url(#p207)" d="M616.8 1031.6l28-23.2 28-22.2 28-21.3 28-20.6 27.9-19.8 28-19.1 19.3-12.7M1347 618.6l25.3-10.2 28-11.1 28-11 27.9-10.8"/>
<path stroke="url(#p208)" d="M615.1 1028.1l27.9-23.1 28-22.1 28-21.2 28-20.4 28-19.7 27.9-19 23.3-15.3M1340.6 618.7l1.9-.7 28-11.3 28-11.1 28-10.9 28-10.8"/>
<path stroke="url(#p209)" d="M613.3 1024.4l28-22.9 27.9-22 28-21.1 28-20.3 28-19.6 28-18.8 26.8-17.5M1334.2 618.9l6.6-2.7 27.9-11.2 28-11 28-10.9 28-10.8"/>
<path stroke="url(#p210)" d="M611.5 1020.7l28-22.8 27.9-21.8 28-21 28-20.2 28-19.4 28-18.8 27.9-18.1 2.6-1.6M1327.8 619l11.2-4.5 27.9-11.2 28-11 28-10.9 28-10.7"/>
<path stroke="url(#p211)" d="M609.7 1016.8l28-22.6 28-21.7 27.9-20.8 28-20.1 28-19.3 28-18.7 28-18 6.1-3.9M1321.4 619.1l15.8-6.4 28-11.2 27.9-11 28-10.8 28-10.7"/>
<path stroke="url(#p212)" d="M607.9 1012.9l28-22.4 28-21.6 28-20.7 27.9-19.9 28-19.2 28-18.6 28-17.9 9.8-6.1M1314.9 619.1l20.5-8.2 28-11.2 28-10.9 27.9-10.8 28-10.7"/>
<path stroke="url(#p213)" d="M606.1 1008.9l28-22.3 28-21.4 28-20.5 27.9-19.8 28-19.1 28-18.5 28-17.8 13.4-8.3M1308.5 619.1l25.1-10.1 28-11.1 28-10.9 27.9-10.8 28-10.6"/>
<path stroke="url(#p214)" d="M604.3 1004.8l28-22.1 28-21.2 28-20.5 28-19.6 27.9-19 28-18.3 28-17.7 17.4-10.7M1302 619.1l1.8-.7 28-11.3 28-11 28-10.9 28-10.7 27.9-10.6"/>
<path stroke="url(#p215)" d="M602.6 1000.6l27.9-21.9 28-21.1 28-20.3 28-19.5 28-18.8 27.9-18.2 28-17.6 21-12.8M1295.5 619.1l6.6-2.7 27.9-11.2 28-11 28-10.8 28-10.7 28-10.6"/>
<path stroke="url(#p216)" d="M600.8 996.4l28-21.8 27.9-20.9 28-20.1 28-19.4 28-18.7 28-18.1 27.9-17.4 24.7-14.9M1289 619l11.3-4.5 27.9-11.2 28-11 28-10.8 28-10.6 28-10.6"/>
<path stroke="url(#p217)" d="M599 992l28-21.6 27.9-20.7 28-20 28-19.2 28-18.6 28-17.9 27.9-17.4 28-16.7 .3-.2M1282.5 618.9l16-6.4 28-11.1 27.9-11 28-10.7 28-10.7 28-10.5"/>
<path stroke="url(#p218)" d="M597.2 987.6l28-21.4 28-20.6 27.9-19.8 28-19.1 28-18.4 28-17.8 28-17.2 27.9-16.7 4.2-2.4M1275.9 618.8l20.8-8.3 28-11.1 28-10.9 27.9-10.7 28-10.6 28-10.5"/>
<path stroke="url(#p219)" d="M595.4 983.1l28-21.2 28-20.4 28-19.7 27.9-18.9 28-18.3 28-17.7 28-17 28-16.6 7.8-4.5M1269.4 618.6l25.5-10.2 28-11 28-10.9 28-10.7 27.9-10.5 28-10.4"/>
<path stroke="url(#p220)" d="M593.6 978.5l28-21 28-20.3 28-19.4 27.9-18.8 28-18.2 28-17.5 28-16.9 28-16.4 11.4-6.6M1262.8 618.4l2.3-.9 28-11.2 28-10.9 28-10.8 28-10.7 27.9-10.5 28-10.4"/>
<path stroke="url(#p221)" d="M591.8 973.9l28-20.9 28-20 28-19.4 28-18.6 27.9-18 28-17.3 28-16.9 28-16.3 15.4-8.7M1256.3 618.2l7.1-2.9 27.9-11.1 28-10.9 28-10.7 28-10.7 28-10.4 27.9-10.4"/>
<path stroke="url(#p222)" d="M590.1 969.1l27.9-20.6 28-19.9 28-19.1 28-18.5 28-17.8 27.9-17.3 28-16.6 28-16.2 19-10.7M1249.7 617.9l11.9-4.7 28-11.1 27.9-10.9 28-10.7 28-10.6 28-10.4 28-10.3"/>
<path stroke="url(#p223)" d="M588.3 964.3l27.9-20.4 28-19.7 28-19 28-18.3 28-17.7 27.9-17 28-16.6 28-16 22.7-12.7M1243.1 617.6l16.7-6.6 28-11 27.9-10.9 28-10.6 28-10.6 28-10.4 28-10.2"/>
<path stroke="url(#p224)" d="M586.5 959.4l28-20.2 27.9-19.5 28-18.8 28-18.1 28-17.5 28-17 27.9-16.4 28-15.9 26.6-14.7M1236.5 617.3l21.5-8.6 28-10.9 28-10.8 27.9-10.6 28-10.5 28-10.4 28-10.2"/>
<path stroke="url(#p225)" d="M584.7 954.4l28-20 28-19.3 27.9-18.6 28-17.9 28-17.4 28-16.8 28-16.2 27.9-15.8 28-15.3 2.3-1.2M1229.9 616.9l26.3-10.4 28-10.9 28-10.7 28-10.6 27.9-10.5 28-10.3 28-10.2"/>
<path stroke="url(#p226)" d="M582.9 949.4l28-19.8 28-19.1 27.9-18.4 28-17.8 28-17.2 28-16.6 28-16.1 27.9-15.7 28-15.1 6.2-3.3M1223.3 616.5l3.1-1.3 28-11 28-10.8 28-10.7 28-10.5 27.9-10.4 28-10.3 28-10.2"/>
<path stroke="url(#p227)" d="M581.1 944.3l28-19.6 28-18.9 28-18.2 27.9-17.6 28-17 28-16.5 28-16 28-15.5 27.9-15 9.8-5.2M1216.7 616l8-3.1 27.9-11 28-10.8 28-10.6 28-10.5 28-10.3 27.9-10.3 28-10.1"/>
<path stroke="url(#p228)" d="M579.3 939.1l28-19.4 28-18.7 28-18 28-17.4 27.9-16.9 28-16.3 28-15.8 28-15.3 28-14.9 13.7-7.2M1210.1 615.5l12.8-5 28-10.9 27.9-10.7 28-10.6 28-10.4 28-10.4 28-10.1 27.9-10.1"/>
<path stroke="url(#p229)" d="M577.5 933.9l28-19.2 28-18.5 28-17.8 28-17.2 27.9-16.7 28-16.2 28-15.6 28-15.2 28-14.8 17.6-9.1M1203.5 615l17.6-6.9 28-10.8 27.9-10.7 28-10.5 28-10.4 28-10.3 28-10.1 27.9-10.1"/>
<path stroke="url(#p230)" d="M575.8 928.6l27.9-19 28-18.2 28-17.7 28-17 28-16.5 27.9-16 28-15.5 28-15.1 28-14.6 21.2-10.9M1196.9 614.4l22.4-8.7 28-10.8 28-10.6 27.9-10.5 28-10.3 28-10.2 28-10.1 28-10"/>
<path stroke="url(#p231)" d="M574 923.2l28-18.7 27.9-18.1 28-17.4 28-16.9 28-16.3 28-15.8 27.9-15.4 28-14.9 28-14.5 25.2-12.7M1190.2 613.8l27.3-10.6 28-10.7 28-10.5 28-10.5 27.9-10.3 28-10.1 28-10.1 28-9.9"/>
<path stroke="url(#p232)" d="M572.2 917.7l28-18.4 27.9-17.9 28-17.2 28-16.7 28-16.1 28-15.7 27.9-15.1 28-14.8 28-14.4 28-13.9 1.1-.6M1183.6 613.2l4.1-1.6 28-10.8 28-10.7 28-10.5 28-10.4 27.9-10.2 28-10.1 28-10 28-9.9"/>
<path stroke="url(#p233)" d="M570.4 912.2l28-18.2 28-17.6 27.9-17 28-16.5 28-16 28-15.4 28-15.1 27.9-14.6 28-14.2 28-13.8 4.8-2.4M1177 612.5l9-3.5 27.9-10.7 28-10.6 28-10.5 28-10.3 28-10.2 27.9-10 28-10 28-9.8"/>
<path stroke="url(#p234)" d="M568.6 906.7l28-18 28-17.4 28-16.8 27.9-16.3 28-15.8 28-15.3 28-14.8 28-14.5 27.9-14.1 28-13.7 8.7-4.2M1170.3 611.8l13.9-5.4 28-10.6 27.9-10.6 28-10.4 28-10.2 28-10.1 28-10.1 27.9-9.9 28-9.8"/>
<path stroke="url(#p235)" d="M566.8 901l28-17.7 28-17.2 28-16.6 28-16.1 27.9-15.5 28-15.2 28-14.7 28-14.3 28-13.9 27.9-13.5 12.6-6M1163.7 611l18.7-7.2 28-10.6 28-10.4 27.9-10.4 28-10.2 28-10 28-10 28-9.9 27.9-9.7"/>
<path stroke="url(#p236)" d="M565 895.3l28-17.5 28-16.9 28-16.4 28-15.9 27.9-15.3 28-15 28-14.5 28-14.1 28-13.8 27.9-13.4 16.6-7.8M1157.1 610.2l23.5-9 28-10.5 28-10.4 27.9-10.3 28-10.1 28-10.1 28-9.9 28-9.8 27.9-9.7"/>
<path stroke="url(#p237)" d="M563.3 889.6l27.9-17.3 28-16.7 28-16.1 28-15.7 28-15.2 27.9-14.8 28-14.3 28-14 28-13.6 28-13.3 20.4-9.5M1150.5 609.3l.3-.1 28-10.6 28-10.5 28-10.3 28-10.2 27.9-10.1 28-10 28-9.9 28-9.7 28-9.7"/>
<path stroke="url(#p238)" d="M561.5 883.8l28-17 27.9-16.5 28-15.9 28-15.5 28-15 28-14.6 27.9-14.1 28-13.9 28-13.4 28-13.2 24.3-11.2M1143.9 608.4l5.2-2 27.9-10.5 28-10.4 28-10.3 28-10.1 28-10 27.9-10 28-9.8 28-9.7 28-9.6"/>
<path stroke="url(#p239)" d="M559.7 877.9l28-16.7 27.9-16.3 28-15.7 28-15.2 28-14.8 28-14.4 27.9-14 28-13.7 28-13.3 28-13 28-12.7 .5-.2M1137.2 607.5l10.1-3.8 27.9-10.5 28-10.3 28-10.2 28-10.1 28-10 27.9-9.8 28-9.8 28-9.6 28-9.6"/>
<path stroke="url(#p240)" d="M557.9 872l28-16.5 28-16 27.9-15.5 28-15 28-14.6 28-14.2 28-13.8 27.9-13.5 28-13.2 28-12.8 28-12.6 4.5-2M1130.6 606.5l14.9-5.6 28-10.4 27.9-10.2 28-10.2 28-10 28-9.9 28-9.8 27.9-9.7 28-9.6 28-9.5"/>
<path stroke="url(#p241)" d="M556.1 866.1l28-16.3 28-15.7 28-15.3 27.9-14.8 28-14.4 28-14 28-13.7 28-13.3 27.9-13 28-12.7 28-12.4 8.4-3.7M1124 605.4l19.7-7.3 28-10.3 28-10.2 27.9-10.1 28-9.9 28-9.9 28-9.7 28-9.7 27.9-9.5 28-9.5"/>
<path stroke="url(#p242)" d="M554.3 860.1l28-16 28-15.5 28-15.1 27.9-14.6 28-14.2 28-13.8 28-13.5 28-13.1 27.9-12.8 28-12.6 28-12.3 12.6-5.4M1117.4 604.4l24.5-9.1 28-10.2 28-10.2 27.9-10 28-9.9 28-9.7 28-9.7 28-9.6 27.9-9.5 28-9.5"/>
<path stroke="url(#p243)" d="M552.5 854l28-15.7 28-15.3 28-14.8 28-14.4 27.9-14 28-13.6 28-13.3 28-12.9 28-12.7 27.9-12.4 28-12.2 16.5-7M1110.8 603.2l1.3-.4 28-10.3 28-10.2 28-10 28-10 27.9-9.8 28-9.7 28-9.7 28-9.5 28-9.4 27.9-9.4"/>
<path stroke="url(#p244)" d="M550.8 847.9l27.9-15.5 28-15 28-14.5 28-14.2 28-13.8 27.9-13.4 28-13.1 28-12.8 28-12.5 28-12.3 27.9-12 20.7-8.7M1104.3 602.1l6.1-2.3 27.9-10.2 28-10.1 28-10 28-9.8 28-9.8 27.9-9.6 28-9.6 28-9.5 28-9.4 28-9.3"/>
<path stroke="url(#p245)" d="M549 841.8l27.9-15.2 28-14.8 28-14.3 28-14 28-13.5 27.9-13.3 28-12.9 28-12.6 28-12.4 28-12.1 27.9-11.8 25-10.4M1097.7 600.8l10.9-3.9 27.9-10.2 28-10 28-9.9 28-9.8 28-9.7 27.9-9.5 28-9.6 28-9.4 28-9.3 28-9.3"/>
<path stroke="url(#p246)" d="M547.2 835.6l28-15 27.9-14.5 28-14.1 28-13.7 28-13.3 28-13.1 27.9-12.7 28-12.5 28-12.2 28-11.9 28-11.7 27.9-11.5 1.2-.4M1091.1 599.6l15.7-5.7 28-10 27.9-10 28-9.8 28-9.7 28-9.6 28-9.6 27.9-9.4 28-9.4 28-9.3 28-9.2"/>
<path stroke="url(#p247)" d="M545.4 829.3l28-14.6 28-14.3 27.9-13.8 28-13.5 28-13.2 28-12.8 28-12.6 27.9-12.2 28-12.1 28-11.7 28-11.6 28-11.3 5.3-2.2M1084.6 598.3l20.4-7.4 28-9.9 28-9.9 27.9-9.7 28-9.7 28-9.6 28-9.4 28-9.4 27.9-9.3 28-9.3 28-9.1"/>
<path stroke="url(#p248)" d="M543.6 823.1l28-14.4 28-14 28-13.6 27.9-13.3 28-12.9 28-12.7 28-12.3 27.9-12.1 28-11.9 28-11.6 28-11.4 28-11.2 9.5-3.8M1078 596.9l25.2-9 28-9.9 28-9.7 28-9.7 27.9-9.6 28-9.5 28-9.4 28-9.3 27.9-9.3 28-9.1 28-9.2"/>
<path stroke="url(#p249)" d="M541.8 816.7l28-14.1 28-13.7 28-13.4 27.9-13 28-12.7 28-12.5 28-12.1 28-11.9 27.9-11.7 28-11.5 28-11.2 28-11.1 14-5.5M1071.5 595.5l1.9-.7 28-9.9 28-9.8 28-9.7 28-9.6 27.9-9.5 28-9.4 28-9.4 28-9.2 28-9.2 27.9-9.1 28-9.1"/>
<path stroke="url(#p250)" d="M540 810.4l28-13.8 28-13.5 28-13.1 28-12.8 27.9-12.5 28-12.3 28-11.9 28-11.8 28-11.5 27.9-11.3 28-11.1 28-10.9 18.2-7M1065 594l6.7-2.3 27.9-9.8 28-9.7 28-9.6 28-9.6 28-9.4 27.9-9.4 28-9.2 28-9.2 28-9.2 28-9 27.9-9.1"/>
<path stroke="url(#p251)" d="M538.3 804l27.9-13.5 28-13.2 28-12.9 28-12.6 28-12.3 27.9-12 28-11.8 28-11.5 28-11.4 28-11.1 27.9-11 28-10.8 22.7-8.6M1058.5 592.5l11.4-4 28-9.7 27.9-9.6 28-9.5 28-9.5 28-9.3 28-9.3 27.9-9.2 28-9.2 28-9 28-9.1 28-8.9"/>
<path stroke="url(#p252)" d="M536.5 797.6l27.9-13.3 28-12.9 28-12.6 28-12.4 28-12 27.9-11.9 28-11.6 28-11.3 28-11.2 28-11 27.9-10.8 28-10.6 27.2-10.2M1052 591l16.1-5.6 28-9.6 27.9-9.6 28-9.4 28-9.4 28-9.3 28-9.2 27.9-9.1 28-9.1 28-9 28-9 28-8.9"/>
<path stroke="url(#p253)" d="M534.7 791.1l28-12.9 27.9-12.7 28-12.4 28-12.1 28-11.8 28-11.7 27.9-11.3 28-11.2 28-11 28-10.8 28-10.7 27.9-10.5 28-10.3 3.9-1.5M1045.6 589.4l20.7-7.2 28-9.5 28-9.5 27.9-9.3 28-9.3 28-9.2 28-9.2 28-9 27.9-9.1 28-8.9 28-8.9 28-8.9"/>
<path stroke="url(#p254)" d="M532.9 784.7l28-12.7 28-12.4 27.9-12.2 28-11.8 28-11.7 28-11.4 28-11.2 27.9-11 28-10.8 28-10.6 28-10.5 28-10.4 27.9-10.2 8.7-3.1M1039.1 587.7l25.4-8.6 28-9.5 28-9.3 28-9.3 27.9-9.2 28-9.2 28-9 28-9.1 28-8.9 27.9-8.9 28-8.9 28-8.8"/>
<path stroke="url(#p255)" d="M531.1 778.2l28-12.5 28-12.1 27.9-11.9 28-11.6 28-11.4 28-11.2 28-11 27.9-10.8 28-10.7 28-10.4 28-10.4 28-10.2 27.9-10.1 13.5-4.7M1032.7 586l2-.7 28-9.4 28-9.4 28-9.2 28-9.2 27.9-9.2 28-9 28-9 28-9 28-8.9 27.9-8.8 28-8.8 28-8.7"/>
<path stroke="url(#p256)" d="M529.3 771.6l28-12.1 28-11.9 28-11.6 27.9-11.4 28-11.2 28-10.9 28-10.8 28-10.7 27.9-10.4 28-10.4 28-10.2 28-10 28-9.9 18.1-6.4M1026.3 584.2l6.7-2.2 27.9-9.3 28-9.3 28-9.2 28-9.1 28-9 27.9-9 28-9 28-8.8 28-8.9 28-8.7 27.9-8.8 28-8.7"/>
<path stroke="url(#p257)" d="M527.5 765.1l28-11.9 28-11.6 28-11.3 28-11.2 27.9-10.9 28-10.8 28-10.6 28-10.5 28-10.3 27.9-10.1 28-10 28-9.9 28-9.8 23.2-8.1M1019.9 582.4l11.3-3.7 28-9.2 27.9-9.2 28-9.1 28-9 28-9 28-8.9 27.9-8.9 28-8.8 28-8.7 28-8.8 28-8.6 27.9-8.7"/>
<path stroke="url(#p258)" d="M525.7 758.5l28-11.6 28-11.3 28-11.1 28-10.9 27.9-10.7 28-10.6 28-10.4 28-10.3 28-10.1 27.9-10 28-9.8 28-9.8 28-9.6 28-9.6 .5-.2M1013.6 580.6l15.8-5.2 28-9.1 27.9-9.1 28-9 28-9 28-8.9 28-8.8 27.9-8.8 28-8.7 28-8.7 28-8.7 28-8.6 27.9-8.6"/>
<path stroke="url(#p259)" d="M524 751.9l27.9-11.3 28-11 28-10.9 28-10.6 28-10.5 27.9-10.4 28-10.2 28-10.1 28-9.9 28-9.8 27.9-9.7 28-9.6 28-9.6 28-9.4 6.1-2M1007.2 578.7l20.4-6.6 28-9.1 28-8.9 27.9-9 28-8.8 28-8.8 28-8.8 28-8.7 27.9-8.7 28-8.6 28-8.6 28-8.6 28-8.5"/>
<path stroke="url(#p260)" d="M522.2 745.3l28-11 27.9-10.8 28-10.6 28-10.4 28-10.3 28-10.1 27.9-10 28-9.9 28-9.8 28-9.6 28-9.6 27.9-9.4 28-9.4 28-9.3 11.7-3.8M1000.9 576.7l24.9-8 28-8.9 28-8.9 28-8.8 27.9-8.8 28-8.7 28-8.7 28-8.7 28-8.6 27.9-8.5 28-8.6 28-8.5 28-8.4"/>
<path stroke="url(#p261)" d="M520.4 738.6l28-10.6 27.9-10.5 28-10.4 28-10.2 28-10 28-9.9 27.9-9.8 28-9.7 28-9.6 28-9.5 28-9.4 27.9-9.3 28-9.2 28-9.2 17.9-5.8M994.6 574.7l1.4-.4 28-8.9 28-8.8 28-8.8 28-8.8 27.9-8.7 28-8.6 28-8.6 28-8.6 28-8.5 27.9-8.5 28-8.5 28-8.4 28-8.5"/>
<path stroke="url(#p262)" d="M518.6 732l28-10.4 28-10.2 27.9-10.1 28-9.9 28-9.9 28-9.7 28-9.6 27.9-9.5 28-9.4 28-9.3 28-9.2 28-9.2 27.9-9.1 28-9 24.9-8M988.4 572.7l5.9-1.9 27.9-8.8 28-8.7 28-8.7 28-8.6 28-8.6 27.9-8.6 28-8.5 28-8.5 28-8.5 28-8.4 27.9-8.4 28-8.4 28-8.4"/>
<path stroke="url(#p263)" d="M516.8 725.3l28-10.1 28-9.9 28-9.8 27.9-9.7 28-9.6 28-9.5 28-9.4 28-9.3 27.9-9.3 28-9.1 28-9.1 28-9 28-8.9 27.9-8.9 28-8.8 4.8-1.5M982.1 570.6l10.4-3.2 28-8.7 27.9-8.6 28-8.6 28-8.6 28-8.5 28-8.5 27.9-8.5 28-8.4 28-8.4 28-8.4 28-8.3 27.9-8.3 28-8.3"/>
<path stroke="url(#p264)" d="M515 718.6l28-9.8 28-9.6 28-9.6 28-9.4 27.9-9.4 28-9.3 28-9.2 28-9.1 28-9 27.9-9 28-8.9 28-8.9 28-8.8 28-8.7 27.9-8.7 14.9-4.6M974.2 569l16.5-5.1 28-8.6 27.9-8.5 28-8.5 28-8.5 28-8.4 28-8.4 28-8.4 27.9-8.3 28-8.4 28-8.3 28-8.3 27.9-8.2 28-8.3"/>
<path stroke="url(#p265)" d="M513.2 711.9l28-9.5 28-9.4 28-9.3 28-9.2 27.9-9.1 28-9.1 28-8.9 28-9 28-8.8 27.9-8.8 28-8.8 28-8.7 28-8.6 28-8.7 27.9-8.5 28-8.6 28-8.5 28-8.4 28-8.5 27.9-8.4 28-8.3 28-8.4 28-8.3 28-8.3 27.9-8.3 28-8.3 28-8.2 28-8.2 28-8.2 27.9-8.2"/>
<path stroke="url(#p266)" d="M511.5 705.2l27.9-9.2 28-9.1 28-9 28-9 28-8.9 27.9-8.8 28-8.8 28-8.7 28-8.7 28-8.7 27.9-8.6 28-8.5 28-8.5 28-8.5 28-8.4 27.9-8.5 28-8.3 28-8.4 28-8.3 28-8.3 27.9-8.3 28-8.3 28-8.2 28-8.3 28-8.2 27.9-8.2 28-8.1 28-8.2 28-8.1 28-8.2"/>
<path stroke="url(#p267)" d="M509.7 698.5l28-8.9 27.9-8.8 28-8.8 28-8.7 28-8.7 28-8.6 27.9-8.6 28-8.5 28-8.5 28-8.5 28-8.4 27.9-8.4 28-8.4 28-8.3 28-8.4 28-8.3 27.9-8.2 28-8.3 28-8.2 28-8.2 28-8.2 27.9-8.2 28-8.1 28-8.2 28-8.1 28-8.1 27.9-8.2 28-8.1 28-8 28-8.1"/>
<path stroke="url(#p268)" d="M507.9 691.8l28-8.6 27.9-8.6 28-8.5 28-8.4 28-8.5 28-8.4 27.9-8.4 28-8.3 28-8.3 28-8.3 28-8.3 27.9-8.2 28-8.3 28-8.2 28-8.2 28-8.1 27.9-8.2 28-8.1 28-8.2 28-8.1 28-8.1 27.9-8.1 28-8.1 28-8 28-8.1 28-8 27.9-8.1 28-8 28-8 28-8.1"/>
<path stroke="url(#p269)" d="M506.1 685.1l28-8.3 28-8.3 27.9-8.3 28-8.2 28-8.2 28-8.2 28-8.1 27.9-8.2 28-8.1 28-8.2 28-8.1 28-8.1 27.9-8.1 28-8 28-8.1 28-8 28-8.1 27.9-8 28-8 28-8.1 28-8 28-8 27.9-8 28-8 28-8 28-7.9 28-8 27.9-8 28-8 28-7.9"/>
<path stroke="url(#p270)" d="M504.3 678.4l28-8 28-8 28-8 27.9-8 28-8 28-8 28-7.9 28-8 27.9-7.9 28-8 28-7.9 28-8 28-7.9 27.9-8 28-7.9 28-7.9 28-8 28-7.9 27.9-7.9 28-7.9 28-8 28-7.9 28-7.9 27.9-7.9 28-7.9 28-7.9 28-7.9 28-8 27.9-7.9 28-7.9"/>
<path stroke="url(#p271)" d="M502.5 671.6l28-7.7 28-7.7 28-7.7 27.9-7.8 28-7.7 28-7.8 28-7.7 28-7.8 27.9-7.8 28-7.7 28-7.8 28-7.8 28-7.8 27.9-7.8 28-7.8 28-7.8 28-7.9 28-7.8 27.9-7.8 28-7.8 28-7.8 28-7.9 28-7.8 27.9-7.9 28-7.8 28-7.8 28-7.9 28-7.8 27.9-7.9 28-7.8"/>
<path stroke="url(#p272)" d="M500.7 664.9l28-7.4 28-7.4 28-7.5 28-7.5 27.9-7.5 28-7.5 28-7.6 28-7.6 28-7.6 27.9-7.6 28-7.6 28-7.6 28-7.7 28-7.7 27.9-7.6 28-7.7 28-7.7 28-7.7 28-7.8 27.9-7.7 28-7.7 28-7.8 28-7.7 28-7.8 27.9-7.8 28-7.7 28-7.8 28-7.8 28-7.8 27.9-7.8"/>
<path stroke="url(#p273)" d="M499 658.2l27.9-7.1 28-7.2 28-7.2 28-7.2 28-7.3 27.9-7.3 28-7.4 28-7.4 28-7.4 28-7.4 27.9-7.5 28-7.5 28-7.5 28-7.5 28-7.6 27.9-7.5 28-7.6 28-7.6 28-7.6 28-7.7 27.9-7.6 28-7.7 28-7.6 28-7.7 28-7.7 27.9-7.7 28-7.7 28-7.8 28-7.7 28-7.7"/>
<path stroke="url(#p274)" d="M497.2 651.5l27.9-6.8 28-6.9 28-6.9 28-7 28-7.1 27.9-7.1 28-7.1 28-7.2 28-7.3 28-7.2 27.9-7.3 28-7.4 28-7.3 28-7.4 28-7.5 27.9-7.4 28-7.5 28-7.5 28-7.5 28-7.5 27.9-7.6 28-7.6 28-7.6 28-7.6 28-7.6 27.9-7.6 28-7.7 28-7.6 28-7.7 28-7.7"/>
<path stroke="url(#p275)" d="M495.4 644.8l28-6.5 27.9-6.6 28-6.7 28-6.8 28-6.8 28-6.9 27.9-6.9 28-7 28-7.1 28-7.1 28-7.1 27.9-7.2 28-7.2 28-7.3 28-7.3 28-7.3 27.9-7.4 28-7.4 28-7.4 28-7.4 28-7.5 27.9-7.5 28-7.5 28-7.5 28-7.5 28-7.6 27.9-7.6 28-7.6 28-7.6 28-7.6"/>
<path stroke="url(#p276)" d="M493.6 638.1l28-6.2 28-6.4 27.9-6.4 28-6.5 28-6.6 28-6.6 28-6.8 27.9-6.8 28-6.9 28-6.9 28-7 28-7 27.9-7.1 28-7.1 28-7.2 28-7.2 28-7.2 27.9-7.3 28-7.3 28-7.4 28-7.4 28-7.4 27.9-7.4 28-7.4 28-7.5 28-7.5 28-7.5 27.9-7.5 28-7.6 28-7.6"/>
<path stroke="url(#p277)" d="M491.8 631.4l28-5.9 28-6.1 27.9-6.1 28-6.3 28-6.3 28-6.5 28-6.5 27.9-6.7 28-6.6 28-6.8 28-6.8 28-6.9 27.9-6.9 28-7 28-7.1 28-7.1 28-7.1 27.9-7.2 28-7.2 28-7.2 28-7.3 28-7.3 27.9-7.4 28-7.4 28-7.4 28-7.4 28-7.4 27.9-7.5 28-7.5 28-7.5"/>
<path stroke="url(#p278)" d="M490 624.7l28-5.6 28-5.8 28-5.9 27.9-6 28-6.1 28-6.3 28-6.3 28-6.4 27.9-6.5 28-6.6 28-6.7 28-6.7 28-6.8 27.9-6.9 28-6.9 28-6.9 28-7.1 28-7 27.9-7.1 28-7.2 28-7.2 28-7.2 28-7.3 27.9-7.3 28-7.3 28-7.4 28-7.4 28-7.4 27.9-7.4 28-7.4"/>
<path stroke="url(#p279)" d="M488.2 618.1l28-5.4 28-5.4 28-5.7 28-5.8 27.9-5.9 28-6 28-6.1 28-6.3 28-6.3 27.9-6.4 28-6.5 28-6.6 28-6.6 28-6.8 27.9-6.8 28-6.8 28-6.9 28-7 28-7 27.9-7.1 28-7.1 28-7.1 28-7.2 28-7.2 27.9-7.3 28-7.2 28-7.4 28-7.3 28-7.4 27.9-7.4"/>
<path stroke="url(#p280)" d="M486.4 611.5l28-5.1 28-5.2 28-5.4 28-5.5 28-5.7 27.9-5.8 28-5.9 28-6.1 28-6.1 28-6.3 27.9-6.3 28-6.5 28-6.5 28-6.6 28-6.6 27.9-6.8 28-6.8 28-6.8 28-6.9 27.9-7 28-7 28-7.1 28-7.1 28-7.1 27.9-7.2 28-7.2 28-7.3 28-7.3 28-7.3 27.9-7.3"/>
<path stroke="url(#p281)" d="M484.7 604.8l27.9-4.7 28-5 28-5.1 28-5.3 28-5.4 27.9-5.6 28-5.8 28-5.8 28-6 28-6.1 27.9-6.2 28-6.2 28-6.4 28-6.5 28-6.5 27.9-6.6 28-6.7 28-6.8 28-6.8 28-6.8 27.9-7 28-6.9 28-7.1 28-7 28-7.1 27.9-7.2 28-7.2 28-7.2 28-7.3 28-7.2"/>
<path stroke="url(#p282)" d="M482.9 598.2l28-4.4 27.9-4.7 28-4.9 28-5 28-5.3 28-5.3 27.9-5.6 28-5.6 28-5.8 28-5.9 28-6.1 27.9-6.1 28-6.2 28-6.4 28-6.4 28-6.5 27.9-6.5 28-6.7 28-6.7 28-6.8 28-6.8 27.9-6.9 28-6.9 28-7 28-7.1 28-7 27.9-7.2 28-7.1 28-7.2 28-7.3"/>
<path stroke="url(#p283)" d="M481.1 591.6l28-4.1 28-4.4 27.9-4.6 28-4.9 28-5 28-5.1 28-5.3 27.9-5.5 28-5.6 28-5.8 28-5.9 28-5.9 27.9-6.1 28-6.2 28-6.3 28-6.4 28-6.5 27.9-6.5 28-6.6 28-6.7 28-6.7 28-6.8 27.9-6.9 28-6.9 28-7 28-7 28-7.1 27.9-7.1 28-7.1 28-7.2"/>
<path stroke="url(#p284)" d="M479.3 585.1l28-3.9 28-4.1 27.9-4.4 28-4.6 28-4.7 28-5 28-5.1 27.9-5.3 28-5.4 28-5.6 28-5.7 28-5.9 27.9-5.9 28-6.1 28-6.2 28-6.2 28-6.4 27.9-6.4 28-6.5 28-6.6 28-6.7 28-6.7 27.9-6.8 28-6.8 28-6.9 28-6.9 28-7 27.9-7.1 28-7.1 28-7.1"/>
<path stroke="url(#p285)" d="M477.5 578.6l28-3.6 28-3.9 28-4.1 27.9-4.3 28-4.6 28-4.7 28-5 28-5.1 27.9-5.2 28-5.5 28-5.5 28-5.7 28-5.8 27.9-5.9 28-6.1 28-6.1 28-6.3 28-6.3 27.9-6.4 28-6.5 28-6.6 28-6.6 28-6.7 27.9-6.8 28-6.8 28-6.9 28-6.9 28-7 27.9-7 28-7.1"/>
<path stroke="url(#p286)" d="M475.7 572l28-3.3 28-3.6 28-3.8 28-4.1 27.9-4.3 28-4.6 28-4.7 28-4.9 28-5.1 27.9-5.3 28-5.4 28-5.5 28-5.7 28-5.8 27.9-5.9 28-6 28-6.2 28-6.2 28-6.3 27.9-6.4 28-6.5 28-6.5 28-6.7 28-6.6 27.9-6.8 28-6.8 28-6.9 28-6.9 28-7 27.9-7"/>
<path stroke="url(#p287)" d="M473.9 565.6l28-3.1 28-3.3 28-3.6 28-3.8 27.9-4.1 28-4.4 28-4.5 28-4.7 28-5 27.9-5 28-5.3 28-5.4 28-5.5 28-5.7 27.9-5.8 28-5.9 28-6 28-6.2 28-6.2 27.9-6.3 28-6.4 28-6.4 28-6.6 28-6.6 27.9-6.7 28-6.7 28-6.8 28-6.9 28-6.9 27.9-7"/>
<path stroke="url(#p288)" d="M472.2 559.1l27.9-2.7 28-3.1 28-3.3 28-3.7 28-3.8 27.9-4.2 28-4.3 28-4.6 28-4.7 28-4.9 27.9-5.1 28-5.3 28-5.4 28-5.5 28-5.7 27.9-5.8 28-5.9 28-6 28-6.1 28-6.3 27.9-6.3 28-6.3 28-6.5 28-6.6 28-6.6 27.9-6.6 28-6.8 28-6.8 28-6.8 28-6.9"/>
<path stroke="url(#p289)" d="M470.4 552.7l28-2.5 27.9-2.8 28-3.1 28-3.4 28-3.6 28-3.9 27.9-4.2 28-4.3 28-4.6 28-4.8 28-4.9 27.9-5.1 28-5.3 28-5.4 28-5.6 28-5.6 27.9-5.8 28-6 28-6 28-6.1 28-6.2 27.9-6.3 28-6.4 28-6.5 28-6.5 28-6.6 27.9-6.7 28-6.8 28-6.8 28-6.8"/>
<path stroke="url(#p290)" d="M468.6 546.3l28-2.2 27.9-2.5 28-2.9 28-3.1 28-3.5 28-3.7 27.9-3.9 28-4.2 28-4.4 28-4.6 28-4.8 27.9-5 28-5.1 28-5.3 28-5.4 28-5.6 27.9-5.7 28-5.8 28-5.9 28-6.1 28-6.1 27.9-6.2 28-6.3 28-6.4 28-6.5 28-6.5 27.9-6.7 28-6.6 28-6.8 28-6.8"/>
<path stroke="url(#p291)" d="M466.8 540l28-1.9 28-2.3 27.9-2.6 28-2.9 28-3.3 28-3.5 28-3.7 27.9-4 28-4.3 28-4.4 28-4.7 28-4.8 27.9-5 28-5.1 28-5.4 28-5.4 28-5.6 27.9-5.7 28-5.8 28-6 28-6 28-6.2 27.9-6.2 28-6.3 28-6.4 28-6.5 28-6.6 27.9-6.6 28-6.7 28-6.7"/>
<path stroke="url(#p292)" d="M465 533.7l28-1.7 28-2 28-2.3 27.9-2.7 28-3.1 28-3.3 28-3.5 28-3.9 27.9-4 28-4.3 28-4.5 28-4.7 28-4.8 27.9-5.1 28-5.2 28-5.3 28-5.5 28-5.6 27.9-5.7 28-5.9 28-6 28-6 28-6.2 27.9-6.2 28-6.4 28-6.4 28-6.5 28-6.5 27.9-6.7 28-6.7"/>
<path stroke="url(#p293)" d="M463.2 527.4l28-1.4 28-1.7 28-2.1 27.9-2.5 28-2.8 28-3.1 28-3.4 28-3.7 27.9-3.8 28-4.2 28-4.3 28-4.6 28-4.7 27.9-4.9 28-5.1 28-5.2 28-5.4 28-5.5 27.9-5.6 28-5.8 28-5.9 28-6 28-6 27.9-6.2 28-6.3 28-6.3 28-6.5 28-6.5 27.9-6.6 28-6.6"/>
<path stroke="url(#p294)" d="M461.4 521.2l28-1.1 28-1.5 28-1.9 28-2.3 27.9-2.5 28-2.9 28-3.2 28-3.5 28-3.7 27.9-4 28-4.2 28-4.4 28-4.6 28-4.8 27.9-5 28-5.1 28-5.2 28-5.5 28-5.5 27.9-5.7 28-5.8 28-5.9 28-6 28-6.1 27.9-6.2 28-6.3 28-6.4 28-6.4 28-6.5 27.9-6.6"/>
<path stroke="url(#p295)" d="M459.7 515l27.9-.9 28-1.2 28-1.6 28-2.1 28-2.3 27.9-2.7 28-3.1 28-3.2 28-3.6 28-3.8 27.9-4.1 28-4.2 28-4.5 28-4.7 28-4.8 27.9-5 28-5.2 28-5.3 28-5.5 28-5.6 27.9-5.7 28-5.8 28-5.9 28-6.1 28-6.1 27.9-6.2 28-6.3 28-6.4 28-6.5 28-6.5"/>
<path stroke="url(#p296)" d="M457.9 508.8l28-.5 27.9-1 28-1.4 28-1.8 28-2.2 28-2.5 27.9-2.8 28-3.2 28-3.4 28-3.6 28-3.9 27.9-4.1 28-4.4 28-4.5 28-4.7 28-5 27.9-5 28-5.2 28-5.4 28-5.5 27.9-5.6 28-5.8 28-5.8 28-6 28-6.1 28-6.1 27.9-6.3 28-6.3 28-6.4 28-6.5"/>
<path stroke="url(#p297)" d="M456.1 502.7l28-.3 27.9-.7 28-1.2 28-1.6 28-1.9 28-2.3 27.9-2.7 28-2.9 28-3.3 28-3.5 28-3.7 27.9-4 28-4.2 28-4.5 28-4.6 28-4.8 27.9-4.9 28-5.1 28-5.3 28-5.4 28-5.6 27.9-5.7 28-5.7 28-5.9 28-6 28-6.1 27.9-6.2 28-6.3 28-6.4 28-6.4"/>
<path stroke="url(#p298)" d="M454.3 496.7l28-.1 28-.5 27.9-.9 28-1.4 28-1.7 28-2.1 28-2.5 27.9-2.8 28-3.1 28-3.3 28-3.6 28-3.9 27.9-4.1 28-4.3 28-4.5 28-4.6 28-4.9 27.9-5 28-5.2 28-5.4 28-5.4 28-5.6 27.9-5.7 28-5.9 28-5.9 28-6 28-6.2 27.9-6.2 28-6.3 28-6.4"/>
<path stroke="url(#p299)" d="M452.5 490.6l28 .3 28-.3 28-.7 27.9-1.1 28-1.6 28-1.9 28-2.3 28-2.6 27.9-2.9 28-3.2 28-3.5 28-3.7 28-4 27.9-4.1 28-4.4 28-4.6 28-4.8 28-4.9 27.9-5.1 28-5.2 28-5.4 28-5.6 28-5.6 27.9-5.8 28-5.8 28-6 28-6.1 28-6.2 27.9-6.2 28-6.3"/>
<path stroke="url(#p300)" d="M450.7 484.7l28 .5 28 0 28-.5 27.9-.9 28-1.4 28-1.7 28-2.1 28-2.5 27.9-2.7 28-3.1 28-3.3 28-3.6 28-3.8 27.9-4.1 28-4.3 28-4.5 28-4.6 28-4.9 27.9-5 28-5.1 28-5.3 28-5.5 28-5.5 27.9-5.7 28-5.8 28-6 28-6 28-6.1 27.9-6.2 28-6.3"/>
<path stroke="url(#p301)" d="M448.9 478.8l28 .7 28 .3 28-.3 28-.7 27.9-1.2 28-1.5 28-1.9 28-2.3 28-2.6 27.9-2.9 28-3.2 28-3.5 28-3.7 28-3.9 27.9-4.2 28-4.4 28-4.5 28-4.8 28-4.9 27.9-5.1 28-5.2 28-5.4 28-5.5 28-5.6 27.9-5.8 28-5.8 28-6 28-6 28-6.2 27.9-6.2"/>
<path stroke="url(#p302)" d="M447.2 472.9l27.9 1 28 .5 28 0 28-.5 28-1 27.9-1.4 28-1.7 28-2.1 28-2.5 28-2.7 27.9-3.1 28-3.3 28-3.6 28-3.8 28-4.1 27.9-4.3 28-4.4 28-4.7 28-4.8 28-5 27.9-5.2 28-5.3 28-5.4 28-5.6 28-5.6 27.9-5.8 28-5.9 28-6 28-6.1 28-6.2"/>
<path stroke="url(#p303)" d="M445.4 467.1l27.9 1.3 28 .7 28 .2 28-.3 28-.8 27.9-1.2 28-1.5 28-2 28-2.3 28-2.6 27.9-2.9 28-3.2 28-3.5 28-3.7 28-4 27.9-4.1 28-4.4 28-4.6 28-4.7 28-4.9 27.9-5.1 28-5.2 28-5.4 28-5.5 28-5.6 27.9-5.7 28-5.9 28-5.9 28-6.1 28-6.1"/>
<path stroke="url(#p304)" d="M443.6 461.4l28 1.5 27.9 .9 28 .4 28-.1 28-.5 28-1 27.9-1.4 28-1.8 28-2.2 28-2.5 28-2.7 27.9-3.1 28-3.4 28-3.6 28-3.8 28-4.1 27.9-4.3 28-4.4 28-4.7 28-4.8 28-5 27.9-5.2 28-5.3 28-5.4 28-5.6 28-5.6 27.9-5.8 28-5.9 28-6 28-6.1"/>
<path stroke="url(#p305)" d="M441.8 455.7l28 1.7 28 1.2 27.9 .6 28 .1 28-.3 28-.9 28-1.2 27.9-1.6 28-2 28-2.4 28-2.6 28-3 27.9-3.2 28-3.5 28-3.7 28-4 28-4.2 27.9-4.4 28-4.5 28-4.8 28-4.9 28-5.1 27.9-5.2 28-5.4 28-5.5 28-5.6 28-5.7 27.9-5.9 28-5.9 28-6.1"/>
<path stroke="url(#p306)" d="M440 450.1l28 2 28 1.3 27.9 .9 28 .3 28-.2 28-.6 28-1.1 27.9-1.5 28-1.8 28-2.2 28-2.6 28-2.8 27.9-3.1 28-3.4 28-3.6 28-3.9 28-4.1 27.9-4.3 28-4.5 28-4.6 28-4.9 28-5 27.9-5.2 28-5.3 28-5.4 28-5.6 28-5.6 27.9-5.8 28-5.9 28-6.1"/>
<path stroke="url(#p307)" d="M438.2 444.5l28 2.2 28 1.6 28 1.1 27.9 .5 28 0 28-.5 28-.9 28-1.3 27.9-1.7 28-2.1 28-2.4 28-2.7 28-3 27.9-3.2 28-3.6 28-3.7 28-4 28-4.2 27.9-4.5 28-4.6 28-4.7 28-5 28-5.1 27.9-5.2 28-5.4 28-5.5 28-5.6 28-5.8 27.9-5.8 28-6"/>
<path stroke="url(#p308)" d="M436.4 439l28 2.5 28 1.8 28 1.2 28 .7 27.9 .2 28-.3 28-.7 28-1.2 28-1.5 27.9-2 28-2.2 28-2.6 28-2.9 28-3.2 27.9-3.4 28-3.7 28-3.9 28-4.1 28-4.3 27.9-4.6 28-4.7 28-4.8 28-5.1 28-5.1 27.9-5.4 28-5.4 28-5.6 28-5.7 28-5.8 27.9-5.9"/>
<path stroke="url(#p309)" d="M434.6 433.5l28 2.7 28 2.1 28 1.5 28 .8 27.9 .4 28-.1 28-.6 28-1 28-1.4 27.9-1.8 28-2.2 28-2.4 28-2.8 28-3.1 27.9-3.3 28-3.6 28-3.8 28-4 28-4.3 27.9-4.4 28-4.7 28-4.8 28-4.9 28-5.1 27.9-5.3 28-5.4 28-5.5 28-5.7 28-5.7 27.9-5.9"/>
<path stroke="url(#p310)" d="M432.9 428.2l27.9 2.9 28 2.3 28 1.6 28 1.1 28 .5 27.9 .1 28-.4 28-.9 28-1.3 28-1.6 27.9-2.1 28-2.3 28-2.7 28-2.9 28-3.2 27.9-3.5 28-3.8 28-3.9 28-4.2 28-4.4 27.9-4.5 28-4.8 28-4.9 28-5 28-5.2 27.9-5.4 28-5.5 28-5.6 28-5.7 28-5.8"/>
<path stroke="url(#p311)" d="M431.1 422.8l28 3.2 27.9 2.5 28 1.8 28 1.3 28 .7 28 .2 27.9-.2 28-.8 28-1.1 28-1.5 28-1.9 27.9-2.2 28-2.6 28-2.8 28-3.2 28-3.4 27.9-3.6 28-3.9 28-4.1 28-4.3 28-4.5 27.9-4.7 28-4.8 28-5 28-5.1 28-5.3 27.9-5.5 28-5.5 28-5.7 28-5.8"/>
<path stroke="url(#p312)" d="M429.3 417.6l28 3.4 27.9 2.7 28 2 28 1.5 28 .9 28 .3 28-.1 27.9-.6 28-1 28-1.4 28-1.7 28-2.1 27.9-2.5 28-2.7 28-3.1 28-3.3 28-3.5 27.9-3.8 28-4.1 28-4.2 28-4.4 27.9-4.6 28-4.8 28-4.9 28-5.1 28-5.3 28-5.4 27.9-5.5 28-5.6 28-5.7"/>
<path stroke="url(#p313)" d="M427.5 412.4l28 3.6 28 2.9 27.9 2.3 28 1.6 28 1.1 28 .5 28 0 27.9-.4 28-.9 28-1.2 28-1.7 28-2 27.9-2.3 28-2.7 28-2.9 28-3.3 28-3.4 27.9-3.8 28-3.9 28-4.2 28-4.3 28-4.5 27.9-4.8 28-4.9 28-5 28-5.2 28-5.3 27.9-5.5 28-5.6 28-5.7"/>
<path stroke="url(#p314)" d="M425.7 407.3l28 3.8 28 3.1 28 2.5 27.9 1.8 28 1.2 28 .7 28 .2 28-.3 27.9-.8 28-1.1 28-1.5 28-1.9 28-2.3 27.9-2.5 28-2.9 28-3.1 28-3.4 28-3.6 27.9-3.9 28-4.1 28-4.3 28-4.5 28-4.6 27.9-4.8 28-5 28-5.2 28-5.3 28-5.4 27.9-5.5 28-5.7"/>
<path stroke="url(#p315)" d="M423.9 402.3l28 4 28 3.3 28 2.6 28 2 27.9 1.4 28 .8 28 .4 28-.2 28-.6 27.9-1 28-1.4 28-1.8 28-2.2 28-2.4 27.9-2.8 28-3 28-3.3 28-3.6 28-3.8 27.9-4 28-4.2 28-4.4 28-4.6 28-4.8 27.9-5 28-5 28-5.3 28-5.4 28-5.4 27.9-5.7"/>
<path stroke="url(#p316)" d="M422.1 397.3l28 4.2 28 3.5 28 2.8 28 2.2 27.9 1.6 28 1 28 .4 28 0 28-.5 27.9-.9 28-1.3 28-1.7 28-2 28-2.4 27.9-2.6 28-3 28-3.2 28-3.5 28-3.7 27.9-4 28-4.1 28-4.4 28-4.5 28-4.8 27.9-4.9 28-5 28-5.2 28-5.3 28-5.5 27.9-5.5"/>
<path stroke="url(#p317)" d="M420.4 392.4l27.9 4.5 28 3.6 28 3 28 2.4 28 1.7 27.9 1.1 28 .6 28 .1 28-.3 28-.8 27.9-1.2 28-1.6 28-1.9 28-2.3 28-2.6 27.9-2.8 28-3.2 28-3.4 28-3.7 28-3.8 27.9-4.1 28-4.3 28-4.5 28-4.7 28-4.8 27.9-5 28-5.2 28-5.2 28-5.5 28-5.5"/>
<path stroke="url(#p318)" d="M418.6 387.6l28 4.6 27.9 3.9 28 3.2 28 2.5 28 1.8 28 1.3 27.9 .8 28 .2 28-.2 28-.7 28-1.1 27.9-1.4 28-1.9 28-2.1 28-2.5 28-2.8 27.9-3.1 28-3.4 28-3.5 28-3.9 28-4 27.9-4.2 28-4.5 28-4.6 28-4.8 28-4.9 27.9-5.1 28-5.3 28-5.3 28-5.5"/>
<path stroke="url(#p319)" d="M416.8 382.9l28 4.8 27.9 4.1 28 3.3 28 2.6 28 2.1 28 1.4 27.9 .9 28 .4 28-.1 28-.6 28-1 27.9-1.4 28-1.7 28-2.1 28-2.4 28-2.7 27.9-3 28-3.3 28-3.5 28-3.8 28-3.9 27.9-4.2 28-4.4 28-4.6 28-4.7 28-4.9 27.9-5 28-5.2 28-5.4 28-5.4"/>
<path stroke="url(#p320)" d="M415 378.2l28 5 28 4.3 27.9 3.5 28 2.8 28 2.2 28 1.5 28 1.1 27.9 .5 28 0 28-.5 28-.9 28-1.2 27.9-1.7 28-2 28-2.3 28-2.6 28-3 27.9-3.2 28-3.4 28-3.7 28-3.9 28-4.2 27.9-4.3 28-4.5 28-4.7 28-4.8 28-5.1 27.9-5.1 28-5.3 28-5.4"/>
<path stroke="url(#p321)" d="M413.2 373.6l28 5.2 28 4.4 28 3.7 27.9 3 28 2.3 28 1.7 28 1.2 28 .6 27.9 .1 28-.3 28-.8 28-1.2 28-1.5 27.9-1.9 28-2.3 28-2.5 28-2.9 28-3.1 27.9-3.4 28-3.6 28-3.9 28-4.1 28-4.2 27.9-4.5 28-4.7 28-4.8 28-4.9 28-5.2 27.9-5.2 28-5.4"/>
<path stroke="url(#p322)" d="M411.4 369.1l28 5.4 28 4.6 28 3.8 27.9 3.2 28 2.4 28 1.9 28 1.3 28 .7 27.9 .2 28-.2 28-.7 28-1.1 28-1.4 27.9-1.9 28-2.1 28-2.5 28-2.8 28-3.1 27.9-3.3 28-3.5 28-3.8 28-4.1 28-4.2 27.9-4.4 28-4.6 28-4.8 28-4.9 28-5.1 27.9-5.2 28-5.4"/>
<path stroke="url(#p323)" d="M409.6 364.7l28 5.6 28 4.7 28 4 28 3.3 27.9 2.6 28 2 28 1.4 28 .8 28 .4 27.9-.1 28-.6 28-1 28-1.4 28-1.7 27.9-2.1 28-2.4 28-2.7 28-3 28-3.3 27.9-3.5 28-3.8 28-3.9 28-4.2 28-4.4 27.9-4.5 28-4.7 28-4.9 28-5.1 28-5.2 27.9-5.3"/>
<path stroke="url(#p324)" d="M407.9 360.3l27.9 5.8 28 4.9 28 4.2 28 3.4 28 2.7 27.9 2.2 28 1.5 28 1 28 .4 28 0 27.9-.5 28-.9 28-1.3 28-1.7 28-2 27.9-2.3 28-2.7 28-2.9 28-3.2 28-3.4 27.9-3.7 28-4 28-4.1 28-4.3 28-4.5 27.9-4.7 28-4.8 28-5 28-5.2 28-5.3"/>
<path stroke="url(#p325)" d="M406.1 356.1l27.9 5.9 28 5.1 28 4.3 28 3.6 28 2.9 27.9 2.2 28 1.6 28 1.1 28 .6 28 0 27.9-.3 28-.9 28-1.2 28-1.6 28-1.9 27.9-2.3 28-2.5 28-2.9 28-3.2 28-3.4 27.9-3.6 28-3.9 28-4 28-4.3 28-4.5 27.9-4.6 28-4.8 28-5 28-5.1 28-5.3"/>
<path stroke="url(#p326)" d="M404.3 351.9l28 6.1 27.9 5.3 28 4.4 28 3.7 28 3 28 2.4 27.9 1.7 28 1.2 28 .7 28 .2 28-.3 27.9-.8 28-1.1 28-1.5 28-1.9 28-2.2 27.9-2.5 28-2.8 28-3.1 28-3.3 28-3.6 27.9-3.8 28-4.1 28-4.2 28-4.4 28-4.6 27.9-4.8 28-4.9 28-5.1 28-5.2"/>
<path stroke="url(#p327)" d="M402.5 347.8l28 6.3 28 5.4 27.9 4.6 28 3.8 28 3.2 28 2.4 28 1.9 27.9 1.3 28 .8 28 .2 28-.2 28-.6 27.9-1.1 28-1.4 28-1.8 28-2.1 28-2.5 27.9-2.7 28-3.1 28-3.3 28-3.5 28-3.8 27.9-3.9 28-4.2 28-4.4 28-4.6 28-4.7 27.9-4.9 28-5.1 28-5.2"/>
<path stroke="url(#p328)" d="M400.7 343.8l28 6.4 28 5.6 27.9 4.7 28 4 28 3.3 28 2.6 28 1.9 28 1.4 27.9 .9 28 .4 28-.2 28-.5 28-1 27.9-1.4 28-1.7 28-2.1 28-2.4 28-2.6 27.9-3 28-3.3 28-3.4 28-3.8 27.9-3.9 28-4.2 28-4.3 28-4.5 28-4.7 28-4.9 27.9-5 28-5.2"/>
<path stroke="url(#p329)" d="M398.9 339.9l28 6.6 28 5.7 28 4.8 27.9 4.1 28 3.4 28 2.7 28 2.1 28 1.5 27.9 1 28 .4 28 0 28-.5 28-.9 27.9-1.3 28-1.6 28-2.1 28-2.3 28-2.6 27.9-2.9 28-3.2 28-3.5 28-3.6 28-3.9 27.9-4.1 28-4.4 28-4.4 28-4.7 28-4.8 27.9-5 28-5.2"/>
<path stroke="url(#p330)" d="M397.1 336.1l28 6.7 28 5.8 28 5 28 4.3 27.9 3.5 28 2.8 28 2.2 28 1.6 28 1 27.9 .6 28 0 28-.4 28-.8 28-1.3 27.9-1.6 28-1.9 28-2.3 28-2.6 28-2.8 27.9-3.2 28-3.4 28-3.6 28-3.8 28-4.1 27.9-4.3 28-4.4 28-4.7 28-4.8 28-4.9 27.9-5.1"/>
<path stroke="url(#p331)" d="M395.4 332.3l27.9 6.9 28 6 28 5.1 28 4.4 28 3.6 27.9 2.9 28 2.3 28 1.7 28 1.1 28 .6 27.9 .2 28-.4 28-.7 28-1.2 28-1.5 27.9-1.9 28-2.2 28-2.5 28-2.9 28-3.1 27.9-3.3 28-3.6 28-3.8 28-4 28-4.3 27.9-4.4 28-4.6 28-4.8 28-4.9 28-5.1"/>
<path stroke="url(#p332)" d="M393.6 328.7l27.9 7 28 6.1 28 5.3 28 4.4 28 3.7 27.9 3.1 28 2.4 28 1.8 28 1.2 28 .7 27.9 .2 28-.3 28-.7 28-1.1 28-1.4 27.9-1.9 28-2.1 28-2.5 28-2.8 28-3 27.9-3.3 28-3.6 28-3.7 28-4 28-4.2 27.9-4.4 28-4.6 28-4.7 28-4.9 28-5.1"/>
<path stroke="url(#p333)" d="M391.8 325.1l28 7.2 27.9 6.2 28 5.4 28 4.6 28 3.8 28 3.1 27.9 2.5 28 1.9 28 1.3 28 .8 28 .2 27.9-.1 28-.7 28-1 28-1.4 28-1.8 27.9-2.1 28-2.4 28-2.7 28-3 28-3.3 27.9-3.5 28-3.8 28-3.9 28-4.2 28-4.3 27.9-4.6 28-4.7 28-4.9 28-5"/>
<path stroke="url(#p334)" d="M390 321.6l28 7.3 28 6.4 27.9 5.5 28 4.7 28 3.9 28 3.2 28 2.6 27.9 2 28 1.4 28 .8 28 .4 28-.2 27.9-.5 28-1 28-1.3 28-1.8 28-2 27.9-2.4 28-2.7 28-2.9 28-3.3 28-3.4 27.9-3.7 28-4 28-4.1 28-4.3 28-4.5 27.9-4.7 28-4.8 28-5"/>
<path stroke="url(#p335)" d="M388.2 318.2l28 7.5 28 6.5 27.9 5.6 28 4.8 28 4 28 3.3 28 2.7 27.9 2 28 1.5 28 .9 28 .4 28 0 27.9-.5 28-.9 28-1.3 28-1.7 28-2 27.9-2.3 28-2.7 28-2.9 28-3.2 28-3.4 27.9-3.7 28-3.9 28-4.1 28-4.3 28-4.4 27.9-4.7 28-4.8 28-5"/>
<path stroke="url(#p336)" d="M386.4 315l28 7.5 28 6.6 28 5.7 27.9 4.9 28 4.2 28 3.4 28 2.7 28 2.1 27.9 1.6 28 1 28 .5 28 0 28-.5 27.9-.8 28-1.3 28-1.6 28-1.9 28-2.3 27.9-2.6 28-2.9 28-3.1 28-3.4 28-3.7 27.9-3.8 28-4.1 28-4.3 28-4.4 28-4.7 27.9-4.7 28-5"/>
<path stroke="url(#p337)" d="M384.6 311.8l28 7.6 28 6.7 28 5.9 28 5 27.9 4.2 28 3.5 28 2.8 28 2.2 28 1.6 27.9 1.1 28 .5 28 .1 28-.4 28-.8 27.9-1.2 28-1.5 28-2 28-2.2 28-2.5 27.9-2.9 28-3.1 28-3.4 28-3.6 28-3.8 27.9-4 28-4.3 28-4.4 28-4.6 28-4.8 27.9-4.9"/>
<path stroke="url(#p338)" d="M382.8 308.7l28 7.7 28 6.9 28 5.9 28 5.1 27.9 4.3 28 3.6 28 2.9 28 2.3 28 1.6 27.9 1.2 28 .6 28 .1 28-.3 28-.8 27.9-1.1 28-1.5 28-1.9 28-2.2 28-2.5 27.9-2.8 28-3.1 28-3.3 28-3.6 28-3.8 27.9-4 28-4.2 28-4.4 28-4.6 28-4.7 27.9-5"/>
<path stroke="url(#p339)" d="M381.1 305.7l27.9 7.9 28 6.9 28 6 28 5.2 28 4.4 27.9 3.6 28 3 28 2.4 28 1.7 28 1.2 27.9 .7 28 .2 28-.3 28-.7 28-1.1 27.9-1.5 28-1.8 28-2.2 28-2.5 28-2.7 27.9-3.1 28-3.3 28-3.5 28-3.8 28-4 27.9-4.1 28-4.4 28-4.6 28-4.7 28-4.9"/>
<path stroke="url(#p340)" d="M379.3 302.8l28 7.9 27.9 7.1 28 6.1 28 5.2 28 4.5 28 3.8 27.9 3 28 2.4 28 1.8 28 1.3 28 .7 27.9 .3 28-.3 28-.6 28-1.1 28-1.4 27.9-1.8 28-2.1 28-2.5 28-2.7 28-3 27.9-3.3 28-3.5 28-3.7 28-4 28-4.1 27.9-4.4 28-4.5 28-4.7 28-4.9"/>
<path stroke="url(#p341)" d="M377.5 299.9l28 8.1 27.9 7.1 28 6.2 28 5.4 28 4.5 28 3.9 27.9 3.1 28 2.5 28 1.8 28 1.3 28 .8 27.9 .3 28-.2 28-.6 28-1 28-1.4 27.9-1.7 28-2.1 28-2.4 28-2.7 28-3 27.9-3.2 28-3.5 28-3.7 28-4 28-4.1 27.9-4.3 28-4.6 28-4.6 28-4.9"/>
<path stroke="url(#p342)" d="M375.7 297.2l28 8.2 28 7.2 27.9 6.3 28 5.4 28 4.7 28 3.8 28 3.2 27.9 2.6 28 1.9 28 1.4 28 .8 28 .3 27.9-.1 28-.6 28-.9 28-1.4 28-1.7 27.9-2.1 28-2.3 28-2.7 28-3 28-3.2 27.9-3.4 28-3.7 28-3.9 28-4.2 28-4.3 27.9-4.5 28-4.6 28-4.9"/>
<path stroke="url(#p343)" d="M373.9 294.6l28 8.3 28 7.3 28 6.3 27.9 5.5 28 4.7 28 4 28 3.2 28 2.6 27.9 2 28 1.4 28 .9 28 .4 28-.1 27.9-.5 28-1 28-1.3 28-1.7 28-2 27.9-2.3 28-2.7 28-2.9 28-3.2 28-3.4 27.9-3.7 28-3.9 28-4.1 28-4.3 28-4.4 27.9-4.7 28-4.8"/>
<path stroke="url(#p344)" d="M372.1 292.1l28 8.4 28 7.3 28 6.5 27.9 5.5 28 4.8 28 4 28 3.3 28 2.7 28 2 27.9 1.5 28 .9 28 .4 28 0 27.9-.5 28-.9 28-1.3 28-1.7 28-2 28-2.3 27.9-2.6 28-2.9 28-3.1 28-3.4 27.9-3.7 28-3.9 28-4 28-4.3 28-4.5 28-4.6 27.9-4.8"/>
<path stroke="url(#p345)" d="M370.3 289.7l28 8.4 28 7.4 28 6.6 28 5.6 27.9 4.8 28 4.1 28 3.3 28 2.8 28 2 27.9 1.5 28 1 28 .5 28 0 28-.5 27.9-.8 28-1.3 28-1.6 28-2 28-2.3 27.9-2.6 28-2.8 28-3.2 28-3.4 28-3.6 27.9-3.8 28-4.1 28-4.2 28-4.5 28-4.6 27.9-4.8"/>
<path stroke="url(#p346)" d="M368.6 287.4l27.9 8.5 28 7.5 28 6.5 28 5.7 28 4.9 27.9 4.1 28 3.5 28 2.7 28 2.1 28 1.6 27.9 1 28 .5 28 0 28-.4 28-.8 27.9-1.2 28-1.6 28-2 28-2.2 28-2.6 27.9-2.8 28-3.2 28-3.3 28-3.6 28-3.9 27.9-4 28-4.2 28-4.5 28-4.6 28-4.7"/>
<path stroke="url(#p347)" d="M366.8 285.1l28 8.6 27.9 7.6 28 6.6 28 5.8 28 4.9 28 4.2 27.9 3.4 28 2.8 28 2.2 28 1.6 28 1.1 27.9 .5 28 .1 28-.4 28-.8 28-1.2 27.9-1.6 28-1.9 28-2.2 28-2.6 28-2.8 27.9-3.1 28-3.4 28-3.5 28-3.9 28-4 27.9-4.2 28-4.4 28-4.6 28-4.8"/>
<path stroke="url(#p348)" d="M365 283l28 8.7 27.9 7.6 28 6.7 28 5.8 28 5 28 4.2 27.9 3.5 28 2.8 28 2.3 28 1.6 28 1.1 27.9 .5 28 .1 28-.3 28-.8 28-1.2 27.9-1.5 28-1.9 28-2.2 28-2.5 28-2.8 27.9-3.1 28-3.4 28-3.5 28-3.8 28-4 27.9-4.2 28-4.4 28-4.6 28-4.8"/>
<path stroke="url(#p349)" d="M363.2 281l28 8.7 28 7.7 27.9 6.7 28 5.9 28 5 28 4.3 28 3.5 27.9 2.9 28 2.2 28 1.7 28 1.1 28 .6 27.9 .2 28-.4 28-.7 28-1.2 28-1.5 27.9-1.9 28-2.2 28-2.5 28-2.7 28-3.1 27.9-3.3 28-3.6 28-3.8 28-4 28-4.1 27.9-4.4 28-4.6 28-4.7"/>
<path stroke="url(#p350)" d="M361.4 279.1l28 8.7 28 7.8 28 6.7 27.9 6 28 5 28 4.3 28 3.6 28 2.9 27.9 2.3 28 1.7 28 1.2 28 .6 28 .1 27.9-.3 28-.7 28-1.1 28-1.5 28-1.9 27.9-2.1 28-2.5 28-2.8 28-3 28-3.3 27.9-3.6 28-3.8 28-3.9 28-4.2 28-4.4 27.9-4.5 28-4.8"/>
<path stroke="url(#p351)" d="M359.6 277.2l28 8.9 28 7.7 28 6.9 27.9 5.9 28 5.1 28 4.4 28 3.6 28 2.9 27.9 2.3 28 1.8 28 1.1 28 .7 28 .2 27.9-.3 28-.7 28-1.1 28-1.5 28-1.8 27.9-2.2 28-2.5 28-2.7 28-3.1 28-3.2 27.9-3.6 28-3.7 28-4 28-4.2 28-4.3 27.9-4.6 28-4.7"/>
<path stroke="url(#p352)" d="M357.8 275.5l28 8.9 28 7.8 28 6.9 28 6 27.9 5.1 28 4.4 28 3.6 28 3 28 2.3 27.9 1.8 28 1.2 28 .7 28 .1 28-.2 27.9-.7 28-1.1 28-1.5 28-1.8 28-2.1 27.9-2.5 28-2.7 28-3 28-3.3 28-3.5 27.9-3.8 28-3.9 28-4.2 28-4.3 28-4.6 27.9-4.7"/>
<path stroke="url(#p353)" d="M356.1 273.9l27.9 8.9 28 7.9 28 6.9 28 6 28 5.2 27.9 4.4 28 3.6 28 3 28 2.4 28 1.8 27.9 1.2 28 .7 28 .2 28-.3 28-.6 27.9-1.1 28-1.5 28-1.7 28-2.2 28-2.4 27.9-2.8 28-3 28-3.2 28-3.5 28-3.8 27.9-3.9 28-4.2 28-4.3 28-4.5 28-4.7"/>
<path stroke="url(#p354)" d="M354.3 272.4l27.9 8.9 28 7.9 28 6.9 28 6.1 28 5.2 27.9 4.4 28 3.7 28 3 28 2.4 28 1.8 27.9 1.2 28 .7 28 .3 28-.3 28-.6 27.9-1.1 28-1.4 28-1.8 28-2.1 28-2.4 27.9-2.8 28-3 28-3.2 28-3.5 28-3.7 27.9-4 28-4.1 28-4.4 28-4.5 28-4.7"/>
<path stroke="url(#p355)" d="M352.5 271l28 8.9 27.9 7.9 28 7 28 6.1 28 5.2 28 4.4 27.9 3.8 28 3 28 2.4 28 1.8 28 1.3 27.9 .7 28 .2 28-.2 28-.6 28-1.1 27.9-1.4 28-1.8 28-2.1 28-2.4 28-2.7 27.9-3 28-3.3 28-3.4 28-3.8 28-3.9 27.9-4.1 28-4.4 28-4.5 28-4.7"/>
<path stroke="url(#p356)" d="M350.7 269.7l28 8.9 28 8 27.9 7 28 6 28 5.3 28 4.4 28 3.8 27.9 3 28 2.5 28 1.8 28 1.2 28 .8 27.9 .2 28-.2 28-.6 28-1.1 28-1.4 27.9-1.7 28-2.1 28-2.4 28-2.8 28-2.9 27.9-3.3 28-3.5 28-3.7 28-3.9 28-4.1 27.9-4.4 28-4.5 28-4.7"/>
<path stroke="url(#p357)" d="M348.9 268.5l28 8.9 28 8 27.9 7 28 6.1 28 5.3 28 4.4 28 3.8 27.9 3 28 2.5 28 1.8 28 1.3 28 .7 27.9 .3 28-.2 28-.6 28-1.1 28-1.4 27.9-1.7 28-2.1 28-2.4 28-2.7 28-3 27.9-3.3 28-3.4 28-3.7 28-4 28-4.1 27.9-4.3 28-4.5 28-4.7"/>
<path stroke="url(#p358)" d="M347.1 267.3l28 9 28 8 28 7 27.9 6.1 28 5.3 28 4.5 28 3.7 28 3.1 27.9 2.5 28 1.8 28 1.3 28 .7 28 .3 27.9-.2 28-.6 28-1 28-1.4 28-1.8 27.9-2.1 28-2.4 28-2.7 28-3 28-3.2 27.9-3.5 28-3.7 28-3.9 28-4.1 28-4.4 27.9-4.5 28-4.6"/>
<path stroke="url(#p359)" d="M345.3 266.3l28 9.1 28 7.9 28 7 28 6.2 27.9 5.2 28 4.5 28 3.8 28 3.1 28 2.4 27.9 1.8 28 1.3 28 .8 28 .3 28-.2 27.9-.6 28-1.1 28-1.4 28-1.7 28-2.1 27.9-2.4 28-2.7 28-3 28-3.2 28-3.5 27.9-3.7 28-3.9 28-4.1 28-4.3 28-4.5 27.9-4.7"/>
<path stroke="url(#p360)" d="M343.6 265.4l27.9 9 28 8 28 7 28 6.2 27.9 5.2 28 4.5 28 3.8 28 3.1 28 2.4 28 1.9 27.9 1.2 28 .8 28 .3 28-.2 27.9-.6 28-1 28-1.4 28-1.8 28-2.1 27.9-2.4 28-2.7 28-2.9 28-3.3 28-3.4 27.9-3.7 28-4 28-4.1 28-4.3 28-4.5 28-4.7"/>
</g>
<path fill="none" stroke-width="2.50" stroke-linejoin="round" stroke-linecap="round" stroke="url(#t0)" d="M986.6 572.3l-1.8-.8-1.8-.7-1.8-.6-1.7-.5-1.8-.3-1.8-.3-1.8-.2-1.8-.1-1.8 0-1.8 .1-1.7 .2-1.8 .4-1.8 .4-1.8 .5-1.8 .6-1.8 .7-1.8 .8-1.8 .9-1.7 1.1-1.8 1.1-1.8 1.2-1.8 1.3-1.8 1.4-1.8 1.4-1.8 1.6-1.7 1.7-1.8 1.8-1.8 1.8-1.8 2-1.8 2-1.8 2.1-1.8 2.2-1.7 2.3-1.8 2.4-1.8 2.5-1.8 2.6-1.8 2.6-1.8 2.7-1.8 2.8-1.7 2.9-1.8 2.9-1.8 3.1-1.8 3.1-1.8 3.2-1.8 3.2-1.8 3.4-1.8 3.4-1.7 3.5-1.8 3.5-1.8 3.6-1.8 3.7-1.8 3.7-1.8 3.8-1.8 3.9-1.7 3.9-1.8 4-1.8 4-1.8 4.1-1.8 4.2-1.8 4.2-1.8 4.2-1.7 4.3-1.8 4.4-1.8 4.4-1.8 4.4-1.8 4.5-1.8 4.6-1.8 4.5-1.8 4.6-1.7 4.7-1.8 4.6-1.8 4.8-1.8 4.7-1.8 4.8-1.8 4.8-1.8 4.8-1.7 4.9-1.8 4.8-1.8 4.9-1.8 5-1.8 4.9-1.8 4.9-1.8 5-1.7 5-1.8 5-1.8 5-1.8 5-1.8 5-1.8 5-1.8 5-1.7 5-1.8 5-1.8 5-1.8 5-1.8 5-1.8 5-1.8 5-1.8 5-1.7 4.9-1.8 5-1.8 4.9-1.8 4.9-1.8 4.9-1.8 4.8-1.8 4.8-1.7 4.8-1.8 4.8-1.8 4.8-1.8 4.7-1.8 4.6-1.8 4.7-1.8 4.6-1.7 4.6-1.8 4.5-1.8 4.5-1.8 4.4-1.8 4.4-1.8 4.4-1.8 4.3-1.8 4.2-1.7 4.2-1.8 4.2-1.8 4.1-1.8 4-1.8 4-1.8 3.9-1.8 3.9-1.7 3.8-1.8 3.7-1.8 3.7-1.8 3.6-1.8 3.6-1.8 3.4-1.8 3.4-1.7 3.4-1.8 3.2-1.8 3.2-1.8 3.1-1.8 3.1-1.8 2.9-1.8 2.9-1.7 2.8-1.8 2.7-1.8 2.7-1.8 2.5-1.8 2.5-1.8 2.4-1.8 2.3-1.8 2.2-1.7 2.1-1.8 2-1.8 2-1.8 1.9-1.8 1.7-1.8 1.7-1.8 1.6-1.7 1.5-1.8 1.4-1.8 1.2-1.8 1.3-1.8 1.1-1.8 1-1.8 .9-1.7 .8-1.8 .7-1.8 .6-1.8 .5-1.8 .5-1.8 .3-1.8 .2-1.7 .1-1.8 0-1.8-.1-1.8-.1-1.8-.3-1.8-.4-1.8-.5-1.8-.6-1.7-.7-1.8-.8-1.8-.9-1.8-1-1.8-1.1-1.8-1.3-1.8-1.3-1.7-1.4-1.8-1.5-1.8-1.6-1.8-1.7-1.8-1.9-1.8-1.9-1.8-2-1.7-2.1-1.8-2.2-1.8-2.4-1.8-2.4-1.8-2.5-1.8-2.6-1.8-2.7-1.7-2.8-1.8-3-1.8-3-1.8-3.1-1.8-3.1-1.8-3.3-1.8-3.4-1.8-3.5-1.7-3.5-1.8-3.7-1.8-3.7-1.8-3.9-1.8-3.9-1.8-4-1.8-4.1-1.7-4.2-1.8-4.2-1.8-4.4-1.8-4.4-1.8-4.5-1.8-4.6-1.8-4.6-1.7-4.8-1.8-4.8-1.8-4.9-1.8-5-1.8-5-1.8-5.1-1.8-5.2-1.8-5.2-1.7-5.3-1.8-5.4-1.8-5.5-1.8-5.5-1.8-5.5-1.8-5.7-1.8-5.7-1.7-5.7-1.8-5.8-1.8-5.9-1.8-5.9-1.8-5.9-1.8-6-1.8-6.1-1.7-6.1-1.8-6.1-1.8-6.2-1.8-6.3-1.8-6.2-1.8-6.4-1.8-6.3-1.7-6.4-1.8-6.4-1.8-6.5-1.8-6.4-1.8-6.5-1.8-6.6-1.8-6.5-1.8-6.6-1.7-6.6-1.8-6.6-1.8-6.7-1.8-6.6-1.8-6.7-1.8-6.7-1.8-6.7-1.7-6.7-1.8-6.7-1.8-6.7-1.8-6.7-1.8-6.7-1.8-6.8-1.8-6.7-1.7-6.7-1.8-6.7-1.8-6.7-1.8-6.7-1.8-6.7-1.8-6.7-1.8-6.6-1.8-6.6-1.7-6.7-1.8-6.6-1.8-6.6-1.8-6.5-1.8-6.5-1.8-6.6-1.8-6.4-1.7-6.5-1.8-6.4-1.8-6.4-1.8-6.3-1.8-6.3-1.8-6.3-1.8-6.2-1.7-6.2-1.8-6.2-1.8-6.1-1.8-6-1.8-6.1-1.8-5.9-1.8-5.9-1.7-5.9-1.8-5.8-1.8-5.7-1.8-5.7-1.8-5.6-1.8-5.6-1.8-5.5-1.8-5.5-1.7-5.3-1.8-5.4-1.8-5.2-1.8-5.2-1.8-5.1-1.8-5-1.8-5-1.7-4.9-1.8-4.8-1.8-4.7-1.8-4.7-1.8-4.6-1.8-4.5-1.8-4.4-1.7-4.4-1.8-4.2-1.8-4.2-1.8-4.1-1.8-4-1.8-3.9-1.8-3.8-1.7-3.8-1.8-3.6-1.8-3.6-1.8-3.5-1.8-3.4-1.8-3.2-1.8-3.2-1.8-3.1-1.7-3-1.8-2.9-1.8-2.9-1.8-2.7-1.8-2.6-1.8-2.5-1.8-2.4-1.7-2.3-1.8-2.3-1.8-2.1-1.8-2-1.8-1.9-1.8-1.9-1.8-1.7-1.7-1.6-1.8-1.5-1.8-1.4-1.8-1.3-1.8-1.2-1.8-1.2-1.8-1-1.7-.9"/>
<path fill="none" stroke-width="3.00" stroke-linejoin="round" stroke-linecap="round" stroke="url(#f0)" d="M982.4 570.6l.5 .2 .8 .2 1.3 .5 4 1.3 6.6 2.2 6.6 2.1 6.6 2 6.6 2 6.7 1.9 6.6 1.8 6.6 1.8 6.6 1.7 6.6 1.7 6.5 1.6 6.6 1.6 6.6 1.5 6.6 1.4 6.6 1.4 6.5 1.4 6.6 1.3 6.6 1.2 6.5 1.2 6.6 1.1 6.5 1.1 6.6 1.1 6.5 1 6.5 1 6.6 .9 6.5 .8 6.5 .9 6.6 .7 6.5 .8 6.5 .7 6.5 .6 6.5 .7 6.5 .6 6.5 .5 6.5 .5 6.4 .5 6.5 .4 6.5 .4 6.5 .4 6.4 .3 6.5 .3 6.4 .2 6.5 .3 6.4 .2 6.5 .1 6.4 .1 6.4 .1 6.5 .1 6.4 0 6.4 .1 6.4-.1 6.4 0 6.4-.1 6.4-.1 6.4-.1 6.3-.2 6.4-.2 6.4-.2 6.3-.2 6.4-.3 6.3-.3 6.4-.3 6.3-.3 6.3-.4 6.4-.4 6.3-.4 6.3-.4 6.3-.4 6.3-.5 6.3-.5 6.2-.5 6.3-.5 6.3-.6 6.2-.6 6.3-.6 6.2-.6 6.3-.6 6.2-.6 6.2-.7 6.2-.7 6.2-.7 6.2-.7 6.2-.8 6.2-.7 6.1-.8 6.2-.8 6.1-.8 6.2-.8 6.1-.8 6.1-.9 6.1-.8 6.1-.9 6.1-.9 6.1-.9 6.1-.9 6-1 6-.9 6.1-1 6-1 6-.9 6-1 5.9-1.1 6-1 5.9-1 5.9-1.1 6-1 5.8-1.1 5.9-1 5.9-1.1 5.8-1.1 5.8-1.1 5.8-1.1 5.8-1.2 5.7-1.1 5.8-1.1 5.7-1.2 5.6-1.1 5.7-1.2 5.6-1.1 5.6-1.2"/>
<path fill="none" stroke-width="3.00" stroke-linejoin="round" stroke-linecap="round" stroke="url(#f1)" d="M708 1082.6l.6-.4 .8-.8 1.5-1.2 4.3-3.8 7.3-6.1 7.3-6.1 7.2-6 7.3-5.9 7.3-5.9 7.2-5.8 7.3-5.7 7.3-5.7 7.3-5.7 7.3-5.6 7.3-5.5 7.3-5.5 7.3-5.4 7.3-5.3 7.3-5.3 7.3-5.3 7.3-5.2 7.4-5.1 7.3-5.1 7.3-5.1 7.4-5 7.3-5 7.4-4.9 7.3-4.9 7.4-4.8 7.3-4.8 7.4-4.7 7.3-4.7 7.4-4.7 7.4-4.6 7.4-4.5 7.4-4.6 7.3-4.5 7.4-4.4 7.4-4.4 7.4-4.4 7.4-4.4 7.5-4.3 7.4-4.3 7.4-4.2 7.4-4.2 7.5-4.2 7.4-4.1 7.4-4.1 7.5-4.1 7.4-4 7.5-4 7.5-4 7.4-4 7.5-3.9 7.5-3.9 7.5-3.9 7.5-3.8 7.5-3.8 7.5-3.8 7.5-3.7 7.5-3.8 7.5-3.7 7.5-3.6 7.6-3.7 7.5-3.6 7.6-3.6 7.5-3.6 7.6-3.6 7.5-3.5 7.6-3.5 7.6-3.5 7.6-3.5 7.6-3.4 7.6-3.4 7.6-3.4 7.6-3.4 7.6-3.4 7.7-3.3 7.6-3.4 7.6-3.3 7.7-3.2 7.7-3.3 7.6-3.3 7.7-3.2 7.7-3.2 7.7-3.2 7.7-3.2 7.7-3.1 7.7-3.2 7.8-3.1 7.7-3.1 7.8-3.1 7.7-3.1 7.8-3 7.8-3.1 7.8-3 7.8-3.1 7.8-3 7.8-3 7.9-2.9 7.8-3 7.9-3 7.9-2.9 7.9-2.9 7.9-2.9 7.9-3 8-2.8 7.9-2.9 8-2.9 8-2.9 8-2.8 8-2.9 8.1-2.8 8-2.8 8.1-2.8 8.1-2.8 8.2-2.8 8.1-2.8 8.2-2.8 8.2-2.8 8.2-2.7 8.3-2.8 8.3-2.8"/>
</g>
<g font-family="'Liberation Sans', Arial, Helvetica, sans-serif" fill="#262626" stroke="#fff" stroke-width="0.50">
<g font-size="57.0">
<text x="303.0" y="929.6" text-anchor="end">0.1</text>
<text transform="translate(222.8 929.6) scale(1.220 1)" text-anchor="end">−</text>
<text x="303.0" y="767.5" text-anchor="end">0.05</text>
<text transform="translate(191.1 767.5) scale(1.220 1)" text-anchor="end">−</text>
<text x="303.0" y="605.4" text-anchor="end">0</text>
<text x="303.0" y="443.3" text-anchor="end">0.05</text>
<text x="303.0" y="281.3" text-anchor="end">0.1</text>
<text x="1026.2" y="1322.2">30</text>
<text x="1306.0" y="1243.4">40</text>
<text x="1585.8" y="1164.6">50</text>
<text x="1865.6" y="1085.7">60</text>
<text transform="translate(965.1 1269.9) rotate(-62.0)" text-anchor="end">0</text>
<text transform="translate(884.7 1231.5) rotate(-62.0)" text-anchor="end">45</text>
<text transform="translate(804.4 1193.1) rotate(-62.0)" text-anchor="end">90</text>
<text transform="translate(724.0 1154.8) rotate(-62.0)" text-anchor="end">135</text>
<text transform="translate(643.6 1116.4) rotate(-62.0)" text-anchor="end">180</text>
<text transform="translate(563.2 1078.0) rotate(-62.0)" text-anchor="end">225</text>
<text transform="translate(482.8 1039.7) rotate(-62.0)" text-anchor="end">270</text>
<text transform="translate(402.5 1001.3) rotate(-62.0)" text-anchor="end">315</text>
<text transform="translate(322.1 963.0) rotate(-62.0)" text-anchor="end">360</text>
</g>
<g font-size="67.3">
<text x="27.0" y="1379.5">Azimuth Angle / deg</text>
<text x="1082.5" y="1402.2" clip-path="url(#cb)">Incidence Angle / deg</text>
<text transform="translate(79.5 741.0) rotate(-90)"><tspan font-family="'Liberation Serif', 'DejaVu Serif', serif" font-style="italic" font-size="68.0" dx="3.35">∂</tspan><tspan dx="-1.70"> v</tspan><tspan dx="-0.55" dy="32.5" font-size="52.0">c</tspan><tspan dx="2.80" dy="-32.5"> / </tspan><tspan font-family="'Liberation Serif', 'DejaVu Serif', serif" font-style="italic" font-size="68.0" dx="4.45">∂</tspan><tspan font-family="'Liberation Serif', 'DejaVu Serif', serif" font-style="italic" font-size="68.0" dx="-1.65"> θ</tspan></text>
</g></g>
</svg></body></html>
